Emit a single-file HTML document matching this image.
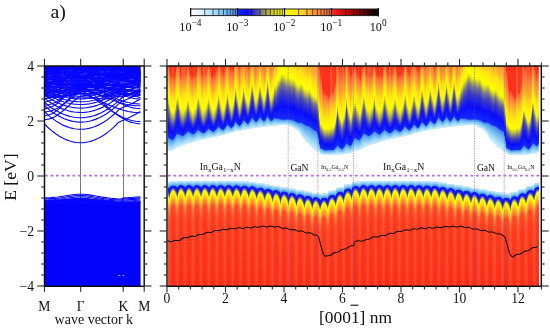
<!DOCTYPE html>
<html lang="en"><head><meta charset="utf-8"><title>Band structure and local density of states</title>
<style>html,body{margin:0;padding:0;background:#fff}body{width:550px;height:329px;overflow:hidden;position:relative}#h{position:absolute;left:168px;top:66px;width:371px;height:221px;overflow:hidden}#h i{float:left;width:1px;height:221px}svg{position:absolute;left:0;top:0;display:block;font-family:"Liberation Serif","DejaVu Serif",serif;fill:#111}</style></head><body>

<div id="h"><i style="background:linear-gradient(#ff7138 .5px,#ff813c 3.5px,#ffa233 10.5px,#ffe216 20.5px,#fdfa02 30.5px,#eded10 33.5px,#bbbb3f 37.5px,#858579 41.5px,#3c3cc3 50.5px,#090df9 60.5px,#090efa 61.5px,#1327fc 70.5px,#1e3cfa 71.5px,#3e7cf2 72.5px,#5097f1 73.5px,#70b9f4 76.5px,#a7dffa 81.5px,#c8ecfc 84.5px,#fff 85.5px,#fff 115.5px,#c2eafc 116.5px,#90cff8 118.5px,#5ea8f2 120.5px,#468cf0 121.5px,#1122fc 122.5px,#090df9 124.5px,#3233ce 126.5px,#4e4eb1 127.5px,#72728d 128.5px,#d7d724 130.5px,#faf804 131.5px,#fff803 132.5px,#ffe414 135.5px,#ffa930 139.5px,#ff883a 142.5px,#ff6b36 146.5px,#ff512b 153.5px,#fe4123 220.5px)"></i><i style="background:linear-gradient(#fb311d .5px,#fb311d 1.5px,#ff5f31 5.5px,#ff823c 10.5px,#ffa134 16.5px,#ffe315 26.5px,#fefb01 35.5px,#efef0d 38.5px,#b8b842 42.5px,#898975 45.5px,#3f3fc0 53.5px,#090df9 62.5px,#1428fc 71.5px,#274ef7 72.5px,#4a91f0 73.5px,#6cb6f3 76.5px,#a6dffa 81.5px,#c9ecfc 84.5px,#fff 85.5px,#fff 114.5px,#caedfc 115.5px,#9dd8f9 117.5px,#5aa3f2 120.5px,#3972f3 121.5px,#1223fc 122.5px,#0a11fa 124.5px,#0f13f2 125.5px,#4545ba 128.5px,#83837b 130.5px,#b5b545 131.5px,#e2e21a 132.5px,#fcfa03 133.5px,#ffe415 137.5px,#ffa731 141.5px,#ff7c3b 145.5px,#ff572e 155.5px,#fe4827 220.5px)"></i><i style="background:linear-gradient(#fb311d .5px,#fb311d 7.5px,#ff582e 10.5px,#ff853b 16.5px,#ffa034 21.5px,#ffe216 31.5px,#fffc00 40.5px,#eded10 43.5px,#c1c139 46.5px,#8f8f6e 49.5px,#74748b 52.5px,#393ac6 57.5px,#080cf9 64.5px,#1325fc 71.5px,#1a33fb 72.5px,#4182f1 73.5px,#5199f1 74.5px,#69b4f3 76.5px,#99d6f9 80.5px,#caedfc 84.5px,#fff 85.5px,#fff 114.5px,#c8ecfc 115.5px,#93d1f8 117.5px,#5ea8f2 119.5px,#3e7cf2 120.5px,#1020fb 121.5px,#0b13fa 122.5px,#1316ee 123.5px,#4747b8 125.5px,#71718e 126.5px,#dcdc20 128.5px,#fcfa03 129.5px,#ffe216 133.5px,#ffa233 137.5px,#ff833c 140.5px,#ff6232 144.5px,#ff4c28 151.5px,#fe4023 180.5px,#fd3b21 220.5px)"></i><i style="background:linear-gradient(#fb311d .5px,#fb311d 9.5px,#ff6132 13.5px,#ff853b 18.5px,#ffe017 33.5px,#fefb01 43.5px,#f6f607 45.5px,#ecec10 46.5px,#c1c139 49.5px,#83837b 53.5px,#393ac6 59.5px,#0b0ff7 65.5px,#090ffa 66.5px,#1327fc 72.5px,#274ff7 73.5px,#4c93f1 74.5px,#66b0f3 76.5px,#9ad6f9 80.5px,#ceeefc 84.5px,#fff 85.5px,#fff 114.5px,#c6ebfc 115.5px,#a8dffa 116.5px,#6cb6f3 118.5px,#4f96f1 119.5px,#1121fc 120.5px,#090ffa 121.5px,#2325de 122.5px,#4949b6 123.5px,#c4c437 125.5px,#f7f606 126.5px,#fff803 127.5px,#ffe216 130.5px,#ffa034 134.5px,#ff823c 137.5px,#ff5a2f 140.5px,#ff522b 141.5px,#fe4525 147.5px,#fd3b21 157.5px,#fb301c 220.5px)"></i><i style="background:linear-gradient(#ff4d29 .5px,#ff522b 9.5px,#ff863b 16.5px,#ffa233 21.5px,#ffc226 25.5px,#ffe216 31.5px,#fefb01 43.5px,#f3f30a 46.5px,#c2c238 50.5px,#6d6d92 56.5px,#3939c6 60.5px,#0a0ef8 66.5px,#090ffa 67.5px,#1224fc 72.5px,#1933fb 73.5px,#488ef0 74.5px,#72baf4 77.5px,#aae0fa 81.5px,#c6ebfc 83.5px,#fff 84.5px,#fff 114.5px,#c4eafc 115.5px,#a4ddfa 116.5px,#65aff3 118.5px,#4589f0 119.5px,#0d18fb 120.5px,#1a1de7 121.5px,#4848b7 122.5px,#cfcf2c 124.5px,#fbf903 125.5px,#ffdc19 129.5px,#ffa930 132.5px,#ff893a 135.5px,#ff7238 137.5px,#ff4c28 139.5px,#fe4927 140.5px,#fc371f 155.5px,#fa2c1b 220.5px)"></i><i style="background:linear-gradient(#fe3c21 .5px,#fe4123 9.5px,#ff6b36 13.5px,#ff863b 17.5px,#ffe117 32.5px,#fffc00 43.5px,#f4f409 46.5px,#c1c139 50.5px,#4040bf 59.5px,#090dfa 66.5px,#1427fc 72.5px,#376ff3 73.5px,#5199f1 74.5px,#6cb6f3 76.5px,#a4ddfa 80.5px,#ceeefc 83.5px,#fff 84.5px,#fff 114.5px,#c3eafc 115.5px,#a3ddfa 116.5px,#64aef3 118.5px,#4080f1 119.5px,#0d18fb 120.5px,#1b1de6 121.5px,#4747b8 122.5px,#cece2d 124.5px,#fbf903 125.5px,#fff605 126.5px,#ffdc19 129.5px,#ffaa30 132.5px,#ff893a 135.5px,#ff7238 137.5px,#ff4c29 139.5px,#fe4927 140.5px,#fc371f 155.5px,#fa2c1b 220.5px)"></i><i style="background:linear-gradient(#fb311d .5px,#fb311d 10.5px,#ff5b2f 13.5px,#ff823c 18.5px,#ffa532 24.5px,#ffe315 34.5px,#fcfa02 43.5px,#f3f30a 45.5px,#b7b743 49.5px,#969667 51.5px,#3a3ac5 58.5px,#090df9 64.5px,#1325fc 70.5px,#1c38fa 71.5px,#488ef0 72.5px,#6db7f4 75.5px,#a1dbfa 79.5px,#c7ecfc 82.5px,#fff 83.5px,#fff 114.5px,#c3eafc 115.5px,#a4defa 116.5px,#68b3f3 118.5px,#4b91f0 119.5px,#101efb 120.5px,#090df9 121.5px,#2b2cd5 122.5px,#5a5aa5 123.5px,#d6d625 125.5px,#fcfa02 126.5px,#ffdc19 130.5px,#ff9c35 134.5px,#ff7e3b 137.5px,#ff512b 140.5px,#fd3a21 156.5px,#fb2f1c 220.5px)"></i><i style="background:linear-gradient(#fb311d .5px,#fb311d 5.5px,#ff6031 9.5px,#ff843b 14.5px,#ff9f34 19.5px,#ffe315 29.5px,#fdfb01 38.5px,#f5f508 40.5px,#bcbc3e 44.5px,#8a8a74 47.5px,#797986 49.5px,#3d3dc2 54.5px,#0b0ff6 61.5px,#090efa 62.5px,#1428fc 69.5px,#4e95f1 71.5px,#70b9f4 74.5px,#9fdaf9 78.5px,#ceeefc 82.5px,#fff 83.5px,#fff 114.5px,#c3eafc 115.5px,#8bccf7 117.5px,#549cf1 119.5px,#1326fc 120.5px,#0c10f5 122.5px,#4646b9 124.5px,#74748b 125.5px,#b0b04b 126.5px,#e6e616 127.5px,#fffc00 128.5px,#ffdb19 132.5px,#ffaa30 135.5px,#ff893a 138.5px,#ff5d30 142.5px,#fe4927 149.5px,#fd3c21 179.5px,#fc361f 220.5px)"></i><i style="background:linear-gradient(#ff552d .5px,#ff803c 6.5px,#ff9f34 12.5px,#ffe315 22.5px,#fefb01 31.5px,#efef0e 34.5px,#bbbb40 38.5px,#8d8d71 41.5px,#4040bf 49.5px,#0a0df8 58.5px,#090efa 59.5px,#1427fc 67.5px,#274ef7 68.5px,#4a90f0 69.5px,#69b4f3 72.5px,#a9e0fa 78.5px,#c9ecfc 81.5px,#fff 82.5px,#fff 114.5px,#c3eafc 115.5px,#92d1f8 117.5px,#61abf2 119.5px,#498ff0 120.5px,#1223fc 121.5px,#090dfa 123.5px,#2e2fd2 125.5px,#4747b8 126.5px,#6a6a95 127.5px,#cbcb2f 129.5px,#f6f607 130.5px,#fffa02 131.5px,#ffdc19 135.5px,#ff9f34 139.5px,#ff8b3a 141.5px,#ff6e37 145.5px,#ff532c 152.5px,#fe4626 182.5px,#fe4124 220.5px)"></i><i style="background:linear-gradient(#ff793a .5px,#ffa133 8.5px,#ffe315 18.5px,#fcfa02 28.5px,#f5f508 30.5px,#b7b744 35.5px,#6d6d92 40.5px,#4040bf 45.5px,#080cfa 56.5px,#1327fc 66.5px,#2040f9 67.5px,#478df0 68.5px,#70b9f4 72.5px,#a4defa 77.5px,#ceeffc 81.5px,#fff 82.5px,#fff 114.5px,#bfe8fc 115.5px,#7ac0f5 118.5px,#4d94f1 120.5px,#1327fc 121.5px,#0a0ef8 124.5px,#3d3dc2 127.5px,#787887 129.5px,#d9d922 131.5px,#f9f805 132.5px,#fff903 133.5px,#ffe513 136.5px,#ff9d35 141.5px,#ff7e3b 144.5px,#ff572e 154.5px,#fe4827 220.5px)"></i><i style="background:linear-gradient(#ff6533 .5px,#ff6634 1.5px,#ff823c 5.5px,#ff9c35 10.5px,#ffe117 20.5px,#fefb01 30.5px,#f5f508 33.5px,#b5b546 38.5px,#7d7d82 42.5px,#5757a8 44.5px,#3c3cc3 47.5px,#090df9 57.5px,#1428fc 67.5px,#4d94f1 69.5px,#6eb8f4 72.5px,#a7dffa 77.5px,#c9ecfc 80.5px,#fff 81.5px,#fff 114.5px,#bbe7fb 115.5px,#6bb6f3 118.5px,#5199f1 119.5px,#1326fc 120.5px,#090df9 122.5px,#3a3ac5 124.5px,#62629d 125.5px,#cccc2f 127.5px,#f8f706 128.5px,#fff903 129.5px,#ffe414 132.5px,#ffa632 136.5px,#ff863b 139.5px,#ff6132 143.5px,#ff4b28 150.5px,#fe3f22 180.5px,#fd3a20 220.5px)"></i><i style="background:linear-gradient(#ff562d .5px,#ff592e 5.5px,#ff863b 11.5px,#ffa233 16.5px,#ffe116 25.5px,#fffc00 35.5px,#f5f508 38.5px,#c1c139 42.5px,#65659a 48.5px,#3a3ac5 52.5px,#080dfa 60.5px,#1326fc 67.5px,#2244f9 68.5px,#4a90f0 69.5px,#6db7f3 72.5px,#aae0fa 77.5px,#ceeefc 80.5px,#fff 81.5px,#fff 114.5px,#b9e6fb 115.5px,#9bd7f9 116.5px,#5fa8f2 118.5px,#2a54f7 119.5px,#0d19fb 120.5px,#1215ef 121.5px,#3435cc 122.5px,#686897 123.5px,#e3e319 125.5px,#fffc00 126.5px,#ffe513 129.5px,#ff9a36 134.5px,#ff7b3a 137.5px,#ff522b 140.5px,#fd3b21 156.5px,#fb301c 220.5px)"></i><i style="background:linear-gradient(#fb311d .5px,#fc361f 8.5px,#ff5e31 11.5px,#ff843b 16.5px,#ffa134 21.5px,#ffe216 31.5px,#fffb01 40.5px,#f4f409 43.5px,#bcbc3e 47.5px,#8c8c72 50.5px,#4545ba 55.5px,#090dfa 62.5px,#1428fc 68.5px,#4284f1 69.5px,#529af1 70.5px,#6cb6f3 72.5px,#a0daf9 76.5px,#c7ecfc 79.5px,#fff 80.5px,#fff 114.5px,#b7e5fb 115.5px,#77bef5 117.5px,#58a1f2 118.5px,#1325fc 119.5px,#090ffa 120.5px,#2c2dd4 121.5px,#669 122.5px,#abab50 123.5px,#e9e913 124.5px,#fffb01 125.5px,#ffe415 128.5px,#ffb22d 131.5px,#ff9836 133.5px,#ff793a 136.5px,#fe4927 139.5px,#fc371f 155.5px,#fa2c1a 220.5px)"></i><i style="background:linear-gradient(#fe4726 .5px,#ff4e29 9.5px,#ff6e37 12.5px,#ff823c 15.5px,#ff9e34 20.5px,#ffbf28 24.5px,#ffe017 30.5px,#fdfb01 42.5px,#eded0f 45.5px,#baba41 49.5px,#4040bf 57.5px,#080cfa 63.5px,#1325fc 68.5px,#264cf8 69.5px,#4d95f1 70.5px,#69b4f3 72.5px,#a2dcfa 76.5px,#cceefc 79.5px,#fff 80.5px,#fff 114.5px,#b7e5fb 115.5px,#78bff5 117.5px,#59a2f2 118.5px,#1325fc 119.5px,#0a10fa 120.5px,#282ad8 121.5px,#5f5fa0 122.5px,#e2e21a 124.5px,#fffc00 125.5px,#ffe514 128.5px,#ff9936 133.5px,#ff7b3a 136.5px,#fe4a28 139.5px,#fc371f 155.5px,#fa2c1b 220.5px)"></i><i style="background:linear-gradient(#ff6131 .5px,#ff6433 9.5px,#ff873b 14.5px,#ffe017 28.5px,#fefb01 41.5px,#f1f10c 45.5px,#c5c535 49.5px,#7a7a84 55.5px,#393ac6 59.5px,#090df9 64.5px,#1428fc 69.5px,#488ef0 70.5px,#75bcf4 73.5px,#a2dcfa 76.5px,#d0effd 79.5px,#fff 80.5px,#fff 114.5px,#b9e6fb 115.5px,#9bd7f9 116.5px,#5fa8f2 118.5px,#2953f7 119.5px,#0d19fb 120.5px,#1216ef 121.5px,#3435cb 122.5px,#696996 123.5px,#e4e418 125.5px,#fffc00 126.5px,#ffe513 129.5px,#ff9a36 134.5px,#ff7b3a 137.5px,#ff522b 140.5px,#fd3b21 156.5px,#fb301c 220.5px)"></i><i style="background:linear-gradient(#ff562d .5px,#ff5a2f 9.5px,#ff873b 15.5px,#ff9d35 19.5px,#ffc425 24.5px,#ffdf17 29.5px,#fdfb01 42.5px,#f1f10c 45.5px,#c2c239 49.5px,#7e7e80 54.5px,#3c3cc3 58.5px,#0b0ff6 63.5px,#090ffa 64.5px,#1325fc 68.5px,#2b55f7 69.5px,#5097f1 70.5px,#6db7f3 72.5px,#a8dffa 76.5px,#c6ebfc 78.5px,#fff 79.5px,#fff 114.5px,#bbe7fb 115.5px,#68b3f3 118.5px,#4d94f1 119.5px,#1223fc 120.5px,#0c15fb 121.5px,#1215ef 122.5px,#2c2ed3 123.5px,#4f4fb0 124.5px,#7d7d81 125.5px,#b9b941 126.5px,#eeee0f 127.5px,#fffb01 128.5px,#ffe513 131.5px,#ffa831 135.5px,#ff873b 138.5px,#ff5e30 142.5px,#fe4927 149.5px,#fe3c21 179.5px,#fc371f 220.5px)"></i><i style="background:linear-gradient(#ff542c .5px,#ff592e 8.5px,#ff843b 14.5px,#ffa134 19.5px,#ffc226 23.5px,#ffe315 29.5px,#fefc00 40.5px,#f5f508 43.5px,#eaea12 44.5px,#b9b942 48.5px,#4141be 56.5px,#090df9 62.5px,#1325fc 67.5px,#2143f9 68.5px,#4c93f1 69.5px,#76bdf4 72.5px,#a0dbf9 75.5px,#cbedfc 78.5px,#fff 79.5px,#fff 114.5px,#bde8fb 115.5px,#a5defa 116.5px,#5ba4f2 119.5px,#366cf4 120.5px,#1121fc 121.5px,#090df9 123.5px,#4a4ab5 126.5px,#6d6d92 127.5px,#cece2c 129.5px,#f7f606 130.5px,#fffa02 131.5px,#ffdc19 135.5px,#ff9f34 139.5px,#ff8a3a 141.5px,#ff6e37 145.5px,#ff532c 152.5px,#fe4726 182.5px,#fe4224 220.5px)"></i><i style="background:linear-gradient(#fe4a28 .5px,#ff512b 7.5px,#ff6f37 10.5px,#ff833c 13.5px,#ffa034 18.5px,#ffc027 22.5px,#ffe316 28.5px,#fffc00 38.5px,#f6f508 41.5px,#eaea12 42.5px,#b6b644 46.5px,#4141be 54.5px,#0d10f5 60.5px,#090efa 61.5px,#1325fc 66.5px,#1e3cfa 67.5px,#4a90f0 68.5px,#71baf4 71.5px,#a7dffa 75.5px,#cfeffd 78.5px,#fff 79.5px,#fff 114.5px,#bee8fc 115.5px,#79bff5 118.5px,#4c92f0 120.5px,#1326fc 121.5px,#0b13fa 123.5px,#0d10f5 124.5px,#4545ba 127.5px,#878777 129.5px,#b9b941 130.5px,#e6e616 131.5px,#fdfb02 132.5px,#ffe315 136.5px,#ffa731 140.5px,#ff7d3b 144.5px,#ff562d 154.5px,#fe4726 220.5px)"></i><i style="background:linear-gradient(#fb331d .5px,#fd3920 4.5px,#ff5f31 7.5px,#ff843c 12.5px,#ff9f34 17.5px,#ffe216 27.5px,#fffb01 36.5px,#f5f508 39.5px,#c2c239 43.5px,#868678 47.5px,#4343bc 52.5px,#080cfa 59.5px,#1325fc 65.5px,#1f3df9 66.5px,#4990f0 67.5px,#6eb8f4 70.5px,#a1dbf9 74.5px,#c7ebfc 77.5px,#fff 78.5px,#fff 114.5px,#bbe7fb 115.5px,#6ab5f3 118.5px,#5097f1 119.5px,#1325fc 120.5px,#0c10f6 122.5px,#3f3fc0 124.5px,#6b6b94 125.5px,#d7d724 127.5px,#fbf903 128.5px,#ffe216 132.5px,#ffa233 136.5px,#ff833c 139.5px,#ff5f31 143.5px,#fe4a28 150.5px,#fe3e22 179.5px,#fd3920 220.5px)"></i><i style="background:linear-gradient(#ff6232 .5px,#ff843c 5.5px,#ffa333 11.5px,#ffe017 20.5px,#fdfa02 31.5px,#efef0e 34.5px,#c0c03a 38.5px,#6c6c93 44.5px,#4040bf 48.5px,#090efa 57.5px,#1326fc 64.5px,#1f3ef9 65.5px,#488ff0 66.5px,#6bb6f3 69.5px,#a7dffa 74.5px,#cbedfc 77.5px,#fff 78.5px,#fff 114.5px,#b8e6fb 115.5px,#9ad6f9 116.5px,#5ea7f2 118.5px,#2347f8 119.5px,#0d17fb 120.5px,#1518ec 121.5px,#3738c8 122.5px,#6f6f90 123.5px,#b0b04b 124.5px,#ebeb12 125.5px,#fffb01 126.5px,#ffe414 129.5px,#ff9936 134.5px,#ff7a3a 137.5px,#ff512b 140.5px,#fd3a20 156.5px,#fb2f1c 220.5px)"></i><i style="background:linear-gradient(#ff6232 .5px,#ff833c 5.5px,#ffa233 11.5px,#ffdf18 20.5px,#fdfb01 31.5px,#f0f00d 34.5px,#c0c03a 38.5px,#6e6e91 44.5px,#4141be 48.5px,#090efa 57.5px,#1326fc 64.5px,#2346f8 65.5px,#4a90f0 66.5px,#6db7f4 69.5px,#aae0fa 74.5px,#ceeffc 77.5px,#fff 78.5px,#fff 114.5px,#b7e5fb 115.5px,#77bef5 117.5px,#57a0f1 118.5px,#1224fc 119.5px,#090efa 120.5px,#2d2ed3 121.5px,#696996 122.5px,#aeae4d 123.5px,#ecec11 124.5px,#fffa01 125.5px,#ffe315 128.5px,#ffb12d 131.5px,#ff9836 133.5px,#ff783a 136.5px,#fe4927 139.5px,#fc361f 155.5px,#fa2b1a 220.5px)"></i><i style="background:linear-gradient(#fb311d .5px,#fb311d 3.5px,#ff582e 6.5px,#ff853b 12.5px,#ffa034 17.5px,#ffe316 27.5px,#fffc00 36.5px,#f1f10b 39.5px,#bdbd3d 43.5px,#81817d 47.5px,#3f3fc0 52.5px,#090efa 59.5px,#1427fc 65.5px,#4f97f1 67.5px,#69b4f3 69.5px,#9ed9f9 73.5px,#c5ebfc 76.5px,#fff 77.5px,#fff 114.5px,#b7e5fb 115.5px,#78bef5 117.5px,#59a1f2 118.5px,#1325fc 119.5px,#0a10fa 120.5px,#2829d8 121.5px,#5e5ea1 122.5px,#e1e11b 124.5px,#fffc00 125.5px,#ffe514 128.5px,#ff9a36 133.5px,#ff7b3a 136.5px,#fe4b28 139.5px,#fc371f 155.5px,#fa2c1b 220.5px)"></i><i style="background:linear-gradient(#fb311d .5px,#fb311d 7.5px,#fc361f 8.5px,#ff542c 10.5px,#ff6835 12.5px,#ff843b 16.5px,#ffa134 21.5px,#ffe216 31.5px,#fdfb01 40.5px,#f6f607 42.5px,#eaea12 43.5px,#c1c139 46.5px,#3839c7 55.5px,#090cf9 60.5px,#172dfb 66.5px,#488ef0 67.5px,#72baf4 70.5px,#9dd9f9 73.5px,#c8ecfc 76.5px,#fff 77.5px,#fff 114.5px,#b8e6fb 115.5px,#9ad7f9 116.5px,#5fa8f2 118.5px,#2b55f7 119.5px,#0e19fb 120.5px,#1115f0 121.5px,#3233cd 122.5px,#65659a 123.5px,#e0e01c 125.5px,#fffc00 126.5px,#ffe613 129.5px,#ff9b35 134.5px,#ff7c3b 137.5px,#ff522b 140.5px,#fe4425 147.5px,#fd3b21 156.5px,#fb301c 220.5px)"></i><i style="background:linear-gradient(#fb311d .5px,#fb311d 8.5px,#fc361f 9.5px,#ff542c 11.5px,#ff6835 13.5px,#ff853b 17.5px,#ffe117 32.5px,#fdfb02 42.5px,#f6f607 44.5px,#ebeb12 45.5px,#b5b546 49.5px,#3536ca 57.5px,#0b0ff6 61.5px,#0a10fa 62.5px,#1325fc 66.5px,#2549f8 67.5px,#4e96f1 68.5px,#6db7f4 70.5px,#9dd8f9 73.5px,#cceefc 76.5px,#fff 77.5px,#fff 114.5px,#bae7fb 115.5px,#68b3f3 118.5px,#4e95f1 119.5px,#1223fc 120.5px,#0c15fb 121.5px,#1014f1 122.5px,#4a4ab5 124.5px,#767689 125.5px,#b1b149 126.5px,#e7e715 127.5px,#fffc00 128.5px,#ffdc19 132.5px,#ffab30 135.5px,#ff893a 138.5px,#ff5f31 142.5px,#fe4a27 149.5px,#fe3d22 179.5px,#fd381f 220.5px)"></i><i style="background:linear-gradient(#fb311d .5px,#fc351e 10.5px,#ff5e30 13.5px,#ff843b 18.5px,#ffe315 34.5px,#fffb01 43.5px,#f6f508 46.5px,#c4c437 50.5px,#7b7b83 55.5px,#3f3fc0 58.5px,#0e12f3 62.5px,#090ffa 63.5px,#1327fc 67.5px,#468cf0 68.5px,#68b3f3 70.5px,#9dd8f9 73.5px,#c0e9fc 75.5px,#fff 76.5px,#fff 114.5px,#bde8fb 115.5px,#a5defa 116.5px,#5ca5f2 119.5px,#3b76f3 120.5px,#1122fc 121.5px,#080dfa 123.5px,#4545ba 126.5px,#676798 127.5px,#f4f409 130.5px,#fffb01 131.5px,#ffdf18 135.5px,#ffa134 139.5px,#ff823c 142.5px,#ff7038 145.5px,#ff532c 153.5px,#fe4324 220.5px)"></i><i style="background:linear-gradient(#fc331e .5px,#fd381f 8.5px,#fe3d21 9.5px,#ff5a2f 11.5px,#ff6c36 13.5px,#ff813c 16.5px,#ffe216 32.5px,#fefb01 43.5px,#f1f10c 46.5px,#c1c139 50.5px,#7c7c83 55.5px,#4141be 58.5px,#090efa 63.5px,#1326fc 67.5px,#468bf0 68.5px,#69b4f3 70.5px,#a0dbf9 73.5px,#c5ebfc 75.5px,#fff 76.5px,#fff 114.5px,#bde8fb 115.5px,#a6defa 116.5px,#77bef5 118.5px,#4a90f0 120.5px,#1325fc 121.5px,#0a11fa 123.5px,#1013f2 124.5px,#3334cc 126.5px,#4c4cb3 127.5px,#6b6b94 128.5px,#f3f30a 131.5px,#fffb01 132.5px,#ffe017 136.5px,#ffa233 140.5px,#ff833c 143.5px,#ff562d 154.5px,#fe4626 220.5px)"></i><i style="background:linear-gradient(#fe4827 .5px,#ff4d29 8.5px,#ff6b36 11.5px,#ff813c 14.5px,#ff9e35 19.5px,#ffbf28 23.5px,#ffe017 29.5px,#fdfb02 41.5px,#eeee0f 44.5px,#c9c931 47.5px,#767689 53.5px,#4242bd 56.5px,#0d10f5 61.5px,#090ffa 62.5px,#1325fc 66.5px,#2a53f7 67.5px,#5299f1 68.5px,#74bcf4 70.5px,#96d4f8 72.5px,#caedfc 75.5px,#fff 76.5px,#fff 114.5px,#bae6fb 115.5px,#68b3f3 118.5px,#4e95f1 119.5px,#1224fc 120.5px,#0c16fb 121.5px,#0f13f2 122.5px,#4747b8 124.5px,#73738c 125.5px,#e2e21a 127.5px,#fefb01 128.5px,#ffde18 132.5px,#ff9f34 136.5px,#ff8a3a 138.5px,#ff6232 142.5px,#fe4b28 149.5px,#fe3d22 179.5px,#fd3820 220.5px)"></i><i style="background:linear-gradient(#fb311d .5px,#fb311d 7.5px,#fc371f 8.5px,#ff552c 10.5px,#ff6935 12.5px,#ff853b 16.5px,#ffe315 31.5px,#fcfa02 40.5px,#f5f508 42.5px,#bfbf3c 46.5px,#4141be 54.5px,#090efa 60.5px,#1326fc 65.5px,#264cf8 66.5px,#4f96f1 67.5px,#6fb8f4 69.5px,#9fdaf9 72.5px,#d0effd 75.5px,#fff 76.5px,#fff 114.5px,#b7e5fb 115.5px,#99d6f9 116.5px,#5da6f2 118.5px,#1d3afa 119.5px,#0c16fb 120.5px,#181be9 121.5px,#3b3bc4 122.5px,#767689 123.5px,#b8b843 124.5px,#f2f20b 125.5px,#fffa02 126.5px,#ffe315 129.5px,#ffb12d 132.5px,#ff9736 134.5px,#ff783a 137.5px,#ff502a 140.5px,#fd3a20 156.5px,#fb2f1c 220.5px)"></i><i style="background:linear-gradient(#fb311d .5px,#fb311d 5.5px,#ff582e 8.5px,#ff853b 14.5px,#ffa134 19.5px,#ffdf17 28.5px,#fffb01 36.5px,#f4f409 39.5px,#3b3bc4 52.5px,#080dfa 58.5px,#1327fc 64.5px,#2851f7 65.5px,#4f96f1 66.5px,#6cb6f3 68.5px,#a8dffa 72.5px,#c6ebfc 74.5px,#fff 75.5px,#fff 114.5px,#b6e5fb 115.5px,#76bdf5 117.5px,#579ff1 118.5px,#1224fc 119.5px,#090efa 120.5px,#2e2fd2 121.5px,#6b6b94 122.5px,#b0b04b 123.5px,#eeee0f 124.5px,#fffa02 125.5px,#ffe315 128.5px,#ffb02e 131.5px,#ff9736 133.5px,#ff7839 136.5px,#fe4927 139.5px,#fc361f 155.5px,#fa2b1a 220.5px)"></i><i style="background:linear-gradient(#ff5e31 .5px,#ff863b 6.5px,#ffa034 11.5px,#ffde18 20.5px,#fefb01 30.5px,#f0f00c 33.5px,#bfbf3b 37.5px,#868678 41.5px,#393ac6 48.5px,#090df8 55.5px,#090ffa 56.5px,#1428fc 63.5px,#5097f1 65.5px,#6ab5f3 67.5px,#a1dbfa 71.5px,#cbedfc 74.5px,#fff 75.5px,#fff 114.5px,#b6e5fb 115.5px,#77bef5 117.5px,#58a1f2 118.5px,#1325fc 119.5px,#0a10fa 120.5px,#2729d9 121.5px,#5c5ca3 122.5px,#dfdf1d 124.5px,#fffc00 125.5px,#ffe513 128.5px,#ff9a36 133.5px,#ff7b3a 136.5px,#ff4b28 139.5px,#fd371f 155.5px,#fa2c1b 220.5px)"></i><i style="background:linear-gradient(#ff7c3a .5px,#ffa034 7.5px,#ffe315 17.5px,#fffb00 26.5px,#faf804 28.5px,#f0f00d 30.5px,#c3c337 34.5px,#669 41.5px,#3e3ec1 45.5px,#090df9 54.5px,#1325fc 62.5px,#1830fb 63.5px,#4182f1 64.5px,#539af1 65.5px,#6eb7f4 67.5px,#a5defa 71.5px,#cfeffd 74.5px,#fff 75.5px,#fff 114.5px,#b8e6fb 115.5px,#9ad6f9 116.5px,#5fa8f2 118.5px,#2c57f6 119.5px,#0e19fb 120.5px,#1013f2 121.5px,#3132cf 122.5px,#61619e 123.5px,#dbdb21 125.5px,#fdfb01 126.5px,#ffdb1a 130.5px,#ff9c35 134.5px,#ff7d3b 137.5px,#ff532c 140.5px,#fe4626 146.5px,#fd3b21 156.5px,#fb301c 220.5px)"></i><i style="background:linear-gradient(#ff572e .5px,#ff592f 1.5px,#ff853b 7.5px,#ffa134 12.5px,#ffe117 21.5px,#fefc00 31.5px,#f5f508 34.5px,#eaea12 35.5px,#baba40 39.5px,#669 45.5px,#393ac6 49.5px,#0a0ef8 56.5px,#090ffa 57.5px,#1325fc 63.5px,#1d3bfa 64.5px,#4990f0 65.5px,#77bef5 68.5px,#a5defa 71.5px,#c3eafc 73.5px,#fff 74.5px,#fff 114.5px,#bae6fb 115.5px,#69b4f3 118.5px,#4e95f1 119.5px,#1224fc 120.5px,#0c16fb 121.5px,#0f12f3 122.5px,#4545ba 124.5px,#71718e 125.5px,#e0e01c 127.5px,#fdfb01 128.5px,#ffdf18 132.5px,#ff9f34 136.5px,#ff813c 139.5px,#ff6232 142.5px,#ff4b28 149.5px,#fe3e22 179.5px,#fd3820 220.5px)"></i><i style="background:linear-gradient(#ff5a2f .5px,#ff5f31 5.5px,#ff853b 10.5px,#ffa233 15.5px,#ffc326 19.5px,#ffe116 24.5px,#fdfb01 35.5px,#f1f10c 38.5px,#c1c139 42.5px,#6b6b94 48.5px,#3838c7 52.5px,#0a0df8 58.5px,#090ffa 59.5px,#1326fc 64.5px,#264cf8 65.5px,#4f97f1 66.5px,#71b9f4 68.5px,#a4ddfa 71.5px,#c5ebfc 73.5px,#fff 74.5px,#fff 114.5px,#bde7fb 115.5px,#a5defa 116.5px,#5da6f2 119.5px,#4081f1 120.5px,#1122fc 121.5px,#090efa 123.5px,#4141be 126.5px,#898975 128.5px,#bdbd3d 129.5px,#ebeb12 130.5px,#fffc00 131.5px,#ffe216 135.5px,#ffa532 139.5px,#ff853b 142.5px,#ff7238 145.5px,#ff532c 153.5px,#fe4425 220.5px)"></i><i style="background:linear-gradient(#fd381f .5px,#fd3c21 7.5px,#ff582e 9.5px,#ff813c 14.5px,#ff9e34 19.5px,#ffbe28 23.5px,#ffe017 29.5px,#fffb01 39.5px,#f5f508 42.5px,#e9e913 43.5px,#b4b446 47.5px,#3839c7 55.5px,#080dfa 60.5px,#1327fc 65.5px,#3d7bf2 66.5px,#57a0f1 67.5px,#6ab4f3 68.5px,#a2dcfa 71.5px,#c8ecfc 73.5px,#fff 74.5px,#fff 114.5px,#bde8fb 115.5px,#a5defa 116.5px,#76bdf5 118.5px,#488ef0 120.5px,#1224fc 121.5px,#0a10fa 123.5px,#1316ef 124.5px,#3738c8 126.5px,#73738c 128.5px,#d4d427 130.5px,#f8f705 131.5px,#fff902 132.5px,#ffdb19 136.5px,#ff9f34 140.5px,#ff7f3b 143.5px,#ff562d 153.5px,#fe4a28 183.5px,#fe4525 220.5px)"></i><i style="background:linear-gradient(#fb311d .5px,#fb311d 8.5px,#ff5b2f 11.5px,#ff833c 16.5px,#ffdf18 31.5px,#fefb01 42.5px,#f1f10c 45.5px,#bfbf3b 49.5px,#778 54.5px,#3a3bc5 57.5px,#0c10f5 61.5px,#0a10fa 62.5px,#152afc 66.5px,#4d94f1 67.5px,#77bdf5 69.5px,#a1dbfa 71.5px,#ccedfc 73.5px,#fff 74.5px,#fff 114.5px,#bae6fb 115.5px,#67b2f3 118.5px,#4c93f1 119.5px,#1222fc 120.5px,#0c14fb 121.5px,#1216ef 122.5px,#4e4eb1 124.5px,#7d7d82 125.5px,#b9b942 126.5px,#eded0f 127.5px,#fffb01 128.5px,#ffe613 131.5px,#ffa930 135.5px,#ff883a 138.5px,#ff5e31 142.5px,#fe4927 149.5px,#fe3d21 179.5px,#fc371f 220.5px)"></i><i style="background:linear-gradient(#ff5c30 .5px,#ff5f31 8.5px,#ff833c 13.5px,#ffa034 18.5px,#ffc823 23.5px,#ffe216 28.5px,#fefb01 41.5px,#f6f607 44.5px,#c2c239 49.5px,#787887 55.5px,#3b3bc4 58.5px,#0a0ef8 62.5px,#1326fc 66.5px,#478df0 67.5px,#74bcf4 69.5px,#a2dcfa 71.5px,#d0effd 73.5px,#fff 74.5px,#fff 114.5px,#b7e5fb 115.5px,#7ac0f5 117.5px,#5ba5f2 118.5px,#162cfb 119.5px,#0c15fb 120.5px,#1a1de6 121.5px,#3f3fc0 122.5px,#bfbf3b 124.5px,#f6f607 125.5px,#fff903 126.5px,#ffe216 129.5px,#ffa034 133.5px,#ff823c 136.5px,#ff4f2a 140.5px,#fd3920 156.5px,#fa2e1c 220.5px)"></i><i style="background:linear-gradient(#ff5f31 .5px,#ff6232 8.5px,#ff873b 13.5px,#ff9e35 17.5px,#ffc624 22.5px,#ffe216 27.5px,#fdfb01 40.5px,#f5f508 43.5px,#bebe3c 48.5px,#7d7d81 53.5px,#3838c7 57.5px,#0a0ef7 61.5px,#0a11fa 62.5px,#1224fc 65.5px,#2244f9 66.5px,#539bf1 67.5px,#7ec2f5 69.5px,#bfe8fc 72.5px,#fff 73.5px,#fff 114.5px,#b6e5fb 115.5px,#76bdf4 117.5px,#569ff1 118.5px,#1223fc 119.5px,#080dfa 120.5px,#2f30d1 121.5px,#6d6d92 122.5px,#b2b249 123.5px,#f0f00d 124.5px,#fffa02 125.5px,#ffe315 128.5px,#ffaf2e 131.5px,#ff9736 133.5px,#ff7739 136.5px,#fe4827 139.5px,#fc361f 155.5px,#fa2b1a 220.5px)"></i><i style="background:linear-gradient(#fe4625 .5px,#fe4a27 7.5px,#ff6b36 10.5px,#ff873b 14.5px,#ffe017 28.5px,#fffc00 39.5px,#f4f409 42.5px,#c3c338 46.5px,#7c7c83 51.5px,#3939c6 55.5px,#080dfa 60.5px,#1223fc 64.5px,#1932fb 65.5px,#4d94f1 66.5px,#74bcf4 68.5px,#9dd8f9 70.5px,#c5ebfc 72.5px,#fff 73.5px,#fff 114.5px,#b6e5fb 115.5px,#77bef5 117.5px,#58a1f2 118.5px,#1325fc 119.5px,#0a10fa 120.5px,#2728d9 121.5px,#5b5ba4 122.5px,#dddd1e 124.5px,#fffc00 125.5px,#ffe513 128.5px,#ff9a35 133.5px,#ff7c3a 136.5px,#ff4b28 139.5px,#fd381f 155.5px,#fa2d1b 220.5px)"></i><i style="background:linear-gradient(#fe4826 .5px,#ff4f2a 5.5px,#ff6e37 8.5px,#ff833c 11.5px,#ff9f34 16.5px,#ffbf27 20.5px,#ffe216 26.5px,#fffc00 36.5px,#f5f508 39.5px,#b5b546 44.5px,#3e3ec1 52.5px,#090df9 58.5px,#1224fc 63.5px,#172efb 64.5px,#4a90f0 65.5px,#6eb7f4 67.5px,#a5defa 70.5px,#caedfc 72.5px,#fff 73.5px,#fff 114.5px,#b8e5fb 115.5px,#9ad6f9 116.5px,#5fa8f2 118.5px,#2d5af6 119.5px,#0e1afb 120.5px,#0f12f3 121.5px,#2f30d1 122.5px,#5d5da2 123.5px,#d6d625 125.5px,#fcfa02 126.5px,#ffdd19 130.5px,#ff9d35 134.5px,#ff7e3b 137.5px,#ff552d 140.5px,#fe4425 147.5px,#fe3c21 156.5px,#fb311d 220.5px)"></i><i style="background:linear-gradient(#fe4123 .5px,#ff6935 4.5px,#ff843b 8.5px,#ff9f34 13.5px,#ffe216 23.5px,#fdfb01 33.5px,#efef0e 36.5px,#c9c931 39.5px,#4141be 49.5px,#090cf9 56.5px,#1325fc 62.5px,#1933fb 63.5px,#498ff0 64.5px,#69b4f3 66.5px,#9cd7f9 69.5px,#ceeefc 72.5px,#fff 73.5px,#fff 114.5px,#bae6fb 115.5px,#69b4f3 118.5px,#4f96f1 119.5px,#1224fc 120.5px,#0d17fb 121.5px,#0d10f5 122.5px,#4141be 124.5px,#6c6c93 125.5px,#d8d823 127.5px,#fbf903 128.5px,#ffe216 132.5px,#ffa133 136.5px,#ff833c 139.5px,#ff5f31 143.5px,#ff4c29 149.5px,#fe3e22 179.5px,#fd3920 220.5px)"></i><i style="background:linear-gradient(#ff7839 .5px,#ffa034 8.5px,#ffe216 18.5px,#fefb01 28.5px,#f4f409 31.5px,#b9b941 36.5px,#84847b 40.5px,#3e3ec1 46.5px,#080dfa 54.5px,#1326fc 61.5px,#1e3bfa 62.5px,#498ff0 63.5px,#76bdf4 66.5px,#a4ddfa 69.5px,#c2eafc 71.5px,#fff 72.5px,#fff 114.5px,#bce7fb 115.5px,#a5defa 116.5px,#75bcf4 118.5px,#468bf0 120.5px,#1223fc 121.5px,#090efa 123.5px,#3c3cc3 126.5px,#80807f 128.5px,#b3b347 129.5px,#e2e21a 130.5px,#fcfa02 131.5px,#ffe315 135.5px,#ffa831 139.5px,#ff873b 142.5px,#ff7438 145.5px,#ff542c 153.5px,#fe4425 220.5px)"></i><i style="background:linear-gradient(#fe4b28 .5px,#ff6a35 3.5px,#ff843b 7.5px,#ff9f34 12.5px,#ffe216 22.5px,#fefb01 32.5px,#f1f10c 35.5px,#c0c03a 39.5px,#7a7a85 44.5px,#3a3ac5 49.5px,#090efa 56.5px,#1326fc 62.5px,#274ef7 63.5px,#5097f1 64.5px,#70b9f4 66.5px,#a3dcfa 69.5px,#c4ebfc 71.5px,#fff 72.5px,#fff 114.5px,#bce7fb 115.5px,#a4defa 116.5px,#75bcf4 118.5px,#458bf0 120.5px,#1223fc 121.5px,#090ffa 123.5px,#1619eb 124.5px,#3c3cc4 126.5px,#7e7e80 128.5px,#b2b249 129.5px,#e1e11b 130.5px,#fcfa03 131.5px,#ffe415 135.5px,#ffa831 139.5px,#ff873b 142.5px,#ff7438 145.5px,#ff542c 153.5px,#fe4525 220.5px)"></i><i style="background:linear-gradient(#fe3e22 .5px,#fe4525 4.5px,#ff6835 7.5px,#ff843b 11.5px,#ffa134 16.5px,#ffc027 20.5px,#ffe315 26.5px,#fdfb02 36.5px,#f6f607 38.5px,#c6c635 42.5px,#4141be 51.5px,#0a0ef8 57.5px,#0a10fa 58.5px,#1427fc 63.5px,#4489f0 64.5px,#6ab5f3 66.5px,#a2dcfa 69.5px,#c7ecfc 71.5px,#fff 72.5px,#fff 114.5px,#b9e6fb 115.5px,#66b0f3 118.5px,#4b92f0 119.5px,#1121fc 120.5px,#0b13fa 121.5px,#1619eb 122.5px,#3031cf 123.5px,#5656a9 124.5px,#888876 125.5px,#c4c437 126.5px,#f6f607 127.5px,#fff902 128.5px,#ffe414 131.5px,#ffa532 135.5px,#ff853b 138.5px,#ff5d30 142.5px,#fe4927 149.5px,#fe3c21 178.5px,#fc361f 220.5px)"></i><i style="background:linear-gradient(#fb311d .5px,#fb311d 8.5px,#ff582e 11.5px,#ff813c 16.5px,#ffa333 22.5px,#ffe017 31.5px,#fffc00 40.5px,#eeee0f 43.5px,#b5b546 47.5px,#767689 51.5px,#3b3bc4 54.5px,#090dfa 59.5px,#1223fc 63.5px,#1b37fa 64.5px,#4e95f1 65.5px,#77bef5 67.5px,#a1dbfa 69.5px,#caedfc 71.5px,#fff 72.5px,#fff 114.5px,#b6e5fb 115.5px,#79bff5 117.5px,#5aa3f2 118.5px,#1427fc 119.5px,#0b14fb 120.5px,#1d20e4 121.5px,#4545ba 122.5px,#c6c635 124.5px,#f8f706 125.5px,#fff804 126.5px,#ffe017 129.5px,#ff9f34 133.5px,#ff8b3a 135.5px,#ff7539 137.5px,#ff562d 139.5px,#ff4e29 140.5px,#fd3920 156.5px,#fa2e1c 220.5px)"></i><i style="background:linear-gradient(#fb311d .5px,#fb311d 9.5px,#ff592f 12.5px,#ff823c 17.5px,#ffa532 23.5px,#ffde18 32.5px,#fefc01 42.5px,#efef0e 45.5px,#c7c734 48.5px,#7b7b84 53.5px,#3a3ac5 56.5px,#0a0ef8 60.5px,#1325fc 64.5px,#5aa2f2 66.5px,#a0daf9 69.5px,#ceeffc 71.5px,#fff 72.5px,#fff 114.5px,#b5e4fb 115.5px,#75bcf4 117.5px,#569ef1 118.5px,#1223fc 119.5px,#080dfa 120.5px,#3031d0 121.5px,#6f6f90 122.5px,#b4b447 123.5px,#f1f10b 124.5px,#fff902 125.5px,#ffe216 128.5px,#ffa034 132.5px,#ff833c 135.5px,#fe4827 139.5px,#fc361f 155.5px,#fa2b1a 220.5px)"></i><i style="background:linear-gradient(#fb311d .5px,#fb311d 8.5px,#ff5a2f 11.5px,#ff823c 16.5px,#ffe216 32.5px,#fdfb02 43.5px,#eded0f 46.5px,#bcbc3e 50.5px,#74748b 55.5px,#44b 57.5px,#3334cc 58.5px,#0a0ef8 61.5px,#1429fc 65.5px,#5198f1 66.5px,#6bb5f3 67.5px,#bae6fb 70.5px,#fff 71.5px,#fff 114.5px,#b6e5fb 115.5px,#77bef5 117.5px,#58a1f2 118.5px,#1325fc 119.5px,#0a11fa 120.5px,#2628da 121.5px,#5959a6 122.5px,#dbdb20 124.5px,#fefb01 125.5px,#ffe613 128.5px,#ff9b35 133.5px,#ff7c3b 136.5px,#ff4c28 139.5px,#fd381f 155.5px,#fa2d1b 220.5px)"></i><i style="background:linear-gradient(#fb311d .5px,#fb311d 8.5px,#ff5b2f 11.5px,#ff833c 16.5px,#ffdf17 31.5px,#fdfb01 42.5px,#f6f607 44.5px,#c5c535 48.5px,#7c7c83 53.5px,#3b3bc4 56.5px,#090df9 60.5px,#1326fc 64.5px,#488ef0 65.5px,#78bef5 67.5px,#a8dffa 69.5px,#c1e9fc 70.5px,#fff 71.5px,#fff 114.5px,#b7e5fb 115.5px,#9ad6f9 116.5px,#5fa9f2 118.5px,#2f5ef6 119.5px,#0e1afb 120.5px,#0d11f4 121.5px,#2d2ed3 122.5px,#5959a6 123.5px,#d1d12a 125.5px,#fbf904 126.5px,#fff704 127.5px,#ffde18 130.5px,#ff9e35 134.5px,#ff7f3b 137.5px,#ff582e 140.5px,#fe4525 147.5px,#fe3c21 157.5px,#fb311d 220.5px)"></i><i style="background:linear-gradient(#fd3a20 .5px,#fe3d22 6.5px,#ff6a35 10.5px,#ff863b 14.5px,#ffdf17 28.5px,#fefb01 39.5px,#f6f607 41.5px,#eded10 42.5px,#b7b744 46.5px,#3536ca 54.5px,#0b0ff7 58.5px,#0a10fa 59.5px,#1327fc 63.5px,#478df0 64.5px,#71b9f4 66.5px,#9cd8f9 68.5px,#c7ecfc 70.5px,#fff 71.5px,#fff 114.5px,#bae6fb 115.5px,#69b4f3 118.5px,#4f97f1 119.5px,#1325fc 120.5px,#0b0ff7 122.5px,#3c3cc3 124.5px,#669 125.5px,#d1d12a 127.5px,#f9f805 128.5px,#fff803 129.5px,#ffe315 132.5px,#ffa432 136.5px,#ff853b 139.5px,#ff6132 143.5px,#ff4b28 150.5px,#fe3f22 179.5px,#fd3a20 220.5px)"></i><i style="background:linear-gradient(#fb321d .5px,#fc341e 3.5px,#ff5a2f 6.5px,#ff823c 11.5px,#ff9e35 16.5px,#ffe216 26.5px,#fffc00 35.5px,#f2f20b 38.5px,#bbbb3f 42.5px,#4040bf 50.5px,#080cfa 56.5px,#152afc 62.5px,#498ff0 63.5px,#6eb7f4 65.5px,#a6dffa 68.5px,#cceefc 70.5px,#fff 71.5px,#fff 114.5px,#bce7fb 115.5px,#a5defa 116.5px,#75bdf4 118.5px,#478df0 120.5px,#1223fc 121.5px,#090ffa 123.5px,#1417ed 124.5px,#3939c6 126.5px,#778 128.5px,#d9d922 130.5px,#faf804 131.5px,#fff803 132.5px,#ffe514 135.5px,#ffab2f 139.5px,#ff893a 142.5px,#ff7e3b 143.5px,#ff552d 153.5px,#fe4525 220.5px)"></i><i style="background:linear-gradient(#fb311d .5px,#fc371f 1.5px,#ff5d30 4.5px,#ff813c 9.5px,#ffa233 15.5px,#ffe017 24.5px,#fefc00 32.5px,#eded10 35.5px,#c2c238 38.5px,#92926b 41.5px,#3838c8 48.5px,#090efa 54.5px,#1326fc 60.5px,#2243f9 61.5px,#4c93f1 62.5px,#6db7f3 64.5px,#9fd9f9 67.5px,#d0effd 70.5px,#fff 71.5px,#fff 114.5px,#bce7fb 115.5px,#a3ddfa 116.5px,#5ba5f2 119.5px,#3972f3 120.5px,#1122fc 121.5px,#080dfa 123.5px,#4242bd 126.5px,#8c8c71 128.5px,#c0c03a 129.5px,#eeee0f 130.5px,#fffc00 131.5px,#ffe116 135.5px,#ffa433 139.5px,#ff843b 142.5px,#ff7238 145.5px,#ff532c 153.5px,#fe4425 220.5px)"></i><i style="background:linear-gradient(#ff863b .5px,#ffa333 6.5px,#ffe017 15.5px,#fffa02 24.5px,#f7f706 27.5px,#f1f10b 28.5px,#c1c13a 32.5px,#7d7d82 37.5px,#3c3cc3 43.5px,#080cfa 51.5px,#1427fc 59.5px,#274ef7 60.5px,#4d95f1 61.5px,#6bb5f3 63.5px,#a7dffa 67.5px,#c5ebfc 69.5px,#fff 70.5px,#fff 114.5px,#b8e6fb 115.5px,#80c4f6 117.5px,#64aff3 118.5px,#4990f0 119.5px,#1120fb 120.5px,#0a12fa 121.5px,#191ce8 122.5px,#3435cb 123.5px,#5e5ea1 124.5px,#cece2d 126.5px,#f9f805 127.5px,#fff803 128.5px,#ffe216 131.5px,#ffa133 135.5px,#ff833c 138.5px,#ff5b2f 142.5px,#fe4a27 148.5px,#fe4123 158.5px,#fc361f 220.5px)"></i><i style="background:linear-gradient(#ff6e37 .5px,#ff823c 3.5px,#ff9c35 8.5px,#ffe117 18.5px,#fcfa02 29.5px,#f6f607 31.5px,#c8c833 35.5px,#65659a 42.5px,#4141be 45.5px,#090df9 53.5px,#1327fc 60.5px,#2850f7 61.5px,#5097f1 62.5px,#71baf4 64.5px,#a5defa 67.5px,#c7ebfc 69.5px,#fff 70.5px,#fff 114.5px,#b6e5fb 115.5px,#78bef5 117.5px,#59a2f2 118.5px,#1327fc 119.5px,#0b13fa 120.5px,#2022e1 121.5px,#4b4bb4 122.5px,#cccc2f 124.5px,#faf804 125.5px,#fff704 126.5px,#ffde18 129.5px,#ffab2f 132.5px,#ff8a3a 135.5px,#ff7438 137.5px,#ff522b 139.5px,#ff4d29 140.5px,#fd3920 155.5px,#fa2e1b 220.5px)"></i><i style="background:linear-gradient(#ff502a .5px,#ff522b 3.5px,#ff6f37 6.5px,#ff833c 9.5px,#ffa034 14.5px,#ffc027 18.5px,#ffdf18 23.5px,#fefb01 34.5px,#f0f00c 37.5px,#c9c932 40.5px,#3738c8 50.5px,#0c10f6 55.5px,#090efa 56.5px,#1326fc 61.5px,#2c59f6 62.5px,#559df1 63.5px,#68b3f3 64.5px,#a3dcfa 67.5px,#caedfc 69.5px,#fff 70.5px,#fff 114.5px,#b5e4fb 115.5px,#75bcf4 117.5px,#559df1 118.5px,#1222fc 119.5px,#080cfa 120.5px,#3132cf 121.5px,#70708f 122.5px,#b5b545 123.5px,#f3f30a 124.5px,#fff902 125.5px,#ffe216 128.5px,#ffa034 132.5px,#ff823c 135.5px,#fe4826 139.5px,#fc361f 155.5px,#fa2b1a 220.5px)"></i><i style="background:linear-gradient(#fe4525 .5px,#fe4827 5.5px,#ff6e37 9.5px,#ff823c 12.5px,#ff9f34 17.5px,#ffbf28 21.5px,#ffe117 27.5px,#fffc00 38.5px,#f0f00c 41.5px,#bbbb3f 45.5px,#7f7f80 49.5px,#3838c7 53.5px,#0d11f5 57.5px,#090ffa 58.5px,#1327fc 62.5px,#478df0 63.5px,#74bbf4 65.5px,#a1dcfa 67.5px,#cfeffd 69.5px,#fff 70.5px,#fff 114.5px,#b5e4fb 115.5px,#77bef5 117.5px,#58a0f2 118.5px,#1325fc 119.5px,#0a11fa 120.5px,#2527db 121.5px,#5757a8 122.5px,#d9d922 124.5px,#fdfb01 125.5px,#ffe613 128.5px,#ff9b35 133.5px,#ff7d3b 136.5px,#ff4c29 139.5px,#fd3820 155.5px,#fa2d1b 220.5px)"></i><i style="background:linear-gradient(#fe4124 .5px,#fe4525 6.5px,#ff6d37 10.5px,#ff813c 13.5px,#ff9d35 18.5px,#ffbc29 22.5px,#ffe116 29.5px,#fdfb02 41.5px,#f6f607 43.5px,#baba40 48.5px,#81817e 52.5px,#4141be 55.5px,#0a0ef8 59.5px,#1428fc 63.5px,#4f97f1 64.5px,#6ab5f3 65.5px,#bbe7fb 68.5px,#fff 69.5px,#fff 114.5px,#b7e5fb 115.5px,#9ad6f9 116.5px,#5fa9f2 118.5px,#3162f5 119.5px,#0e1bfb 120.5px,#0c10f6 121.5px,#2b2cd5 122.5px,#55a 123.5px,#cccc2f 125.5px,#f9f805 126.5px,#fff704 127.5px,#ffe017 130.5px,#ff9f34 134.5px,#ff813c 137.5px,#ff5a2f 140.5px,#fe4625 147.5px,#fe3d21 157.5px,#fb321d 220.5px)"></i><i style="background:linear-gradient(#fb311d .5px,#fb311d 6.5px,#ff6031 10.5px,#ff843c 15.5px,#ff9f34 20.5px,#ffe316 31.5px,#fffc00 41.5px,#f3f30a 44.5px,#bfbf3b 48.5px,#73738c 53.5px,#4343bc 55.5px,#0a0ef8 59.5px,#162dfb 63.5px,#539bf1 64.5px,#6eb8f4 65.5px,#a6dffa 67.5px,#c3eafc 68.5px,#fff 69.5px,#fff 114.5px,#b9e6fb 115.5px,#6ab4f3 118.5px,#5097f1 119.5px,#1325fc 120.5px,#090df8 122.5px,#393ac6 124.5px,#61619e 125.5px,#c9c931 127.5px,#f7f607 128.5px,#fff902 129.5px,#ffe414 132.5px,#ffa731 136.5px,#ff873b 139.5px,#ff6232 143.5px,#ff4c28 150.5px,#fe4023 180.5px,#fd3a21 220.5px)"></i><i style="background:linear-gradient(#fe3f22 .5px,#fe4425 5.5px,#ff6634 8.5px,#ff823c 12.5px,#ffa333 18.5px,#ffbb29 21.5px,#ffe216 28.5px,#fdfa02 39.5px,#f5f508 41.5px,#c1c139 45.5px,#74748b 50.5px,#3a3ac5 53.5px,#0c10f6 57.5px,#0a10fa 58.5px,#1223fc 61.5px,#1a34fb 62.5px,#5199f1 63.5px,#69b4f3 64.5px,#9ad6f9 66.5px,#cbedfc 68.5px,#fff 69.5px,#fff 114.5px,#bce7fb 115.5px,#a5defa 116.5px,#76bdf4 118.5px,#488ef0 120.5px,#1224fc 121.5px,#0a10fa 123.5px,#1215ef 124.5px,#3637c9 126.5px,#71718e 128.5px,#d0d02b 130.5px,#f7f606 131.5px,#fffa02 132.5px,#ffdd19 136.5px,#ff9f34 140.5px,#ff803c 143.5px,#ff572d 153.5px,#fe4a28 183.5px,#fe4626 220.5px)"></i><i style="background:linear-gradient(#ff6333 .5px,#ff6433 2.5px,#ff863b 7.5px,#ffa034 12.5px,#ffe315 22.5px,#fefb01 33.5px,#f5f508 36.5px,#e9e913 37.5px,#b5b546 41.5px,#3c3cc3 49.5px,#080cfa 55.5px,#1325fc 60.5px,#274ef7 61.5px,#549cf1 62.5px,#68b3f3 63.5px,#a8dffa 66.5px,#bde8fb 67.5px,#fff 68.5px,#fff 114.5px,#bce7fb 115.5px,#a3ddfa 116.5px,#5aa3f2 119.5px,#3060f5 120.5px,#1121fb 121.5px,#090df9 123.5px,#4949b6 126.5px,#6b6b94 127.5px,#cccc2f 129.5px,#f6f607 130.5px,#fffa02 131.5px,#ffdd19 135.5px,#ff9f34 139.5px,#ff813c 142.5px,#ff542c 152.5px,#fe4726 182.5px,#fe4324 220.5px)"></i><i style="background:linear-gradient(#ff6f37 .5px,#ff813c 3.5px,#ff9e34 9.5px,#ffe116 19.5px,#fefb01 29.5px,#efef0e 32.5px,#b9b941 36.5px,#6e6e91 41.5px,#3c3cc3 45.5px,#080cfa 52.5px,#1529fc 59.5px,#478df0 60.5px,#6ab5f3 62.5px,#a0dbf9 65.5px,#c5ebfc 67.5px,#fff 68.5px,#fff 114.5px,#b8e6fb 115.5px,#80c4f6 117.5px,#64aef3 118.5px,#498ff0 119.5px,#1020fb 120.5px,#0a11fa 121.5px,#1c1ee5 122.5px,#3738c8 123.5px,#65659a 124.5px,#d6d625 126.5px,#fbf903 127.5px,#ffdf17 131.5px,#ff9f34 135.5px,#ff813c 138.5px,#ff5e31 141.5px,#fe4827 148.5px,#fe4023 158.5px,#fc351e 220.5px)"></i><i style="background:linear-gradient(#ff8e39 .5px,#ffa532 5.5px,#ffe116 14.5px,#fffb01 23.5px,#f5f508 26.5px,#c3c337 30.5px,#8a8a74 34.5px,#3d3dc2 41.5px,#080cfa 49.5px,#1427fc 57.5px,#274ef7 58.5px,#4e95f1 59.5px,#6db7f3 61.5px,#9cd8f9 64.5px,#cbedfc 67.5px,#fff 68.5px,#fff 114.5px,#b6e5fb 115.5px,#78bff5 117.5px,#5aa2f2 118.5px,#1327fc 119.5px,#0b13fa 120.5px,#2123e0 121.5px,#4d4db2 122.5px,#cfcf2c 124.5px,#fbf904 125.5px,#fff705 126.5px,#ffdd18 129.5px,#ffaa30 132.5px,#ff893a 135.5px,#ff7338 137.5px,#ff502a 139.5px,#ff4c29 140.5px,#fd3920 155.5px,#fa2d1b 220.5px)"></i><i style="background:linear-gradient(#ff6333 .5px,#ff823c 5.5px,#ff9f34 11.5px,#ffe315 21.5px,#fcfa03 30.5px,#f2f20b 32.5px,#b9b941 36.5px,#898975 39.5px,#3a3bc5 45.5px,#0b0ef7 51.5px,#090ffa 52.5px,#1327fc 58.5px,#2850f7 59.5px,#5199f1 60.5px,#75bcf4 62.5px,#99d5f9 64.5px,#cfeffd 67.5px,#fff 68.5px,#fff 114.5px,#b6e5fb 115.5px,#76bdf4 117.5px,#569ff1 118.5px,#1223fc 119.5px,#080dfa 120.5px,#2f30d1 121.5px,#6d6d92 122.5px,#b3b348 123.5px,#f0f00d 124.5px,#fffa02 125.5px,#ffe316 128.5px,#ffa034 132.5px,#ff833c 135.5px,#fe4827 139.5px,#fc361f 155.5px,#fa2b1a 220.5px)"></i><i style="background:linear-gradient(#fb311d .5px,#ff5c2f 4.5px,#ff843c 10.5px,#ffa233 16.5px,#ffe017 25.5px,#fffc00 34.5px,#f7f607 36.5px,#eded10 37.5px,#c0c03a 40.5px,#3d3dc2 48.5px,#0d11f4 53.5px,#090efa 54.5px,#1326fc 59.5px,#2b57f6 60.5px,#569ef1 61.5px,#6bb5f3 62.5px,#bfe9fc 66.5px,#fff 67.5px,#fff 114.5px,#b7e5fb 115.5px,#78bff5 117.5px,#5aa2f2 118.5px,#1327fc 119.5px,#0b12fa 120.5px,#2224de 121.5px,#5151ae 122.5px,#d3d328 124.5px,#fcfa03 125.5px,#ffdc19 129.5px,#ff9c35 133.5px,#ff7e3b 136.5px,#ff6232 138.5px,#ff4d29 139.5px,#fd3820 155.5px,#fa2d1b 220.5px)"></i><i style="background:linear-gradient(#fc351e .5px,#fc361f 2.5px,#ff592f 5.5px,#ff823c 11.5px,#ffa034 17.5px,#ffe017 27.5px,#fffb01 37.5px,#f2f20b 40.5px,#b9b941 44.5px,#797986 48.5px,#3d3dc2 51.5px,#090efa 56.5px,#1326fc 60.5px,#3e7df2 61.5px,#5ea7f2 62.5px,#90cff8 64.5px,#c3eafc 66.5px,#fff 67.5px,#fff 114.5px,#b9e6fb 115.5px,#9cd7f9 116.5px,#61abf2 118.5px,#4080f1 119.5px,#0f1cfb 120.5px,#080cfa 121.5px,#4d4db2 123.5px,#84847a 124.5px,#c3c337 125.5px,#f6f607 126.5px,#fff903 127.5px,#ffe316 130.5px,#ffa133 134.5px,#ff833c 137.5px,#ff562d 141.5px,#fe4626 147.5px,#fe3d22 157.5px,#fb321d 220.5px)"></i><i style="background:linear-gradient(#ff502a .5px,#ff512b 2.5px,#ff853b 10.5px,#ffa333 16.5px,#ffdf18 26.5px,#fdfb02 39.5px,#eded0f 42.5px,#bcbc3e 46.5px,#767689 51.5px,#3536ca 54.5px,#0d10f5 57.5px,#0a11fa 58.5px,#1327fc 61.5px,#4d94f1 62.5px,#6cb6f3 63.5px,#aae0fa 65.5px,#c9ecfc 66.5px,#fff 67.5px,#fff 114.5px,#bbe7fb 115.5px,#6cb6f3 118.5px,#529af1 119.5px,#1327fc 120.5px,#090dfa 122.5px,#3535cb 124.5px,#5858a7 125.5px,#858579 126.5px,#bebe3c 127.5px,#f0f00d 128.5px,#fffb01 129.5px,#ffdc19 133.5px,#ff9e35 137.5px,#ff893a 139.5px,#ff6533 143.5px,#ff4d29 150.5px,#fe4023 180.5px,#fd3b21 220.5px)"></i><i style="background:linear-gradient(#fb311d .5px,#fb311d 2.5px,#ff5f31 6.5px,#ff843b 12.5px,#ffa233 18.5px,#ffe216 28.5px,#fefb01 38.5px,#f6f607 40.5px,#bfbf3b 44.5px,#7e7e80 48.5px,#4141be 51.5px,#1013f1 55.5px,#090efa 56.5px,#1427fc 60.5px,#4c92f0 61.5px,#66b0f3 62.5px,#b6e5fb 65.5px,#fff 66.5px,#fff 114.5px,#bee8fc 115.5px,#78bff5 118.5px,#4b91f0 120.5px,#1325fc 121.5px,#0b12fa 123.5px,#0f12f3 124.5px,#4a4ab5 127.5px,#686897 128.5px,#91916c 129.5px,#c3c337 130.5px,#f0f00d 131.5px,#fffc00 132.5px,#ffe116 136.5px,#ffa433 140.5px,#ff7c3a 144.5px,#ff562d 154.5px,#fe4626 220.5px)"></i><i style="background:linear-gradient(#fb311d .5px,#fb321d 2.5px,#ff5f31 6.5px,#ff843b 12.5px,#ffa134 18.5px,#ffe315 27.5px,#fdfa02 35.5px,#f1f10c 37.5px,#c1c139 40.5px,#3839c7 48.5px,#080cfa 53.5px,#1325fc 58.5px,#254af8 59.5px,#539bf1 60.5px,#69b4f3 61.5px,#abe1fa 64.5px,#c1e9fc 65.5px,#fff 66.5px,#fff 114.5px,#c1e9fc 115.5px,#a8dffa 116.5px,#5ea8f2 119.5px,#468cf0 120.5px,#1122fc 121.5px,#080cfa 123.5px,#4949b6 126.5px,#6c6c93 127.5px,#cece2d 129.5px,#f7f606 130.5px,#fffa02 131.5px,#ffdc19 135.5px,#ff9f34 139.5px,#ff8a3a 141.5px,#ff6e37 145.5px,#ff532c 152.5px,#fe4626 182.5px,#fe4224 220.5px)"></i><i style="background:linear-gradient(#ff7238 .5px,#ff823c 3.5px,#ffa134 10.5px,#ffe116 19.5px,#fcfa02 28.5px,#f2f20b 30.5px,#b6b645 34.5px,#83837b 37.5px,#44b 42.5px,#0b0ff6 49.5px,#090efa 50.5px,#1325fc 56.5px,#1d3afa 57.5px,#4b91f0 58.5px,#6eb8f4 60.5px,#a5defa 63.5px,#c9edfc 65.5px,#fff 66.5px,#fff 114.5px,#bee8fc 115.5px,#a2dcfa 116.5px,#69b4f3 118.5px,#4d95f1 119.5px,#1122fc 120.5px,#0b13fa 121.5px,#181be9 122.5px,#3535cb 123.5px,#61619e 124.5px,#d4d427 126.5px,#fbf903 127.5px,#ffe017 131.5px,#ff9f34 135.5px,#ff813c 138.5px,#ff5e30 141.5px,#fe4826 148.5px,#fe3f23 158.5px,#fc341e 220.5px)"></i><i style="background:linear-gradient(#ffa532 .5px,#ffe117 9.5px,#fffc00 18.5px,#f8f706 20.5px,#f3f30a 21.5px,#c0c03a 25.5px,#797986 30.5px,#3f3fc0 36.5px,#0a0ef8 45.5px,#090efa 46.5px,#1326fc 54.5px,#1e3cfa 55.5px,#488ef0 56.5px,#74bcf4 59.5px,#a1dcfa 62.5px,#cfeffd 65.5px,#fff 66.5px,#fff 114.5px,#bde8fb 115.5px,#9ed9f9 116.5px,#60a9f2 118.5px,#2952f7 119.5px,#0c16fb 120.5px,#1b1de6 121.5px,#4343bc 122.5px,#c7c734 124.5px,#f8f705 125.5px,#fff804 126.5px,#ffdf17 129.5px,#ffac2f 132.5px,#ff8b3a 135.5px,#ff7539 137.5px,#ff532c 139.5px,#ff4c28 140.5px,#fd3820 156.5px,#fa2d1b 220.5px)"></i><i style="background:linear-gradient(#ff9138 .5px,#ffa233 4.5px,#ffe216 14.5px,#fffc00 23.5px,#f9f705 25.5px,#f4f409 26.5px,#bebe3c 30.5px,#6d6d92 35.5px,#4141be 39.5px,#080cfa 48.5px,#1325fc 55.5px,#1933fb 56.5px,#488ef0 57.5px,#6ab4f3 59.5px,#9ed9f9 62.5px,#c1e9fc 64.5px,#fff 65.5px,#fff 114.5px,#bde7fb 115.5px,#9dd8f9 116.5px,#5da6f2 118.5px,#152bfc 119.5px,#0b12fa 120.5px,#2628da 121.5px,#5d5da2 122.5px,#a3a359 123.5px,#e3e319 124.5px,#fffb01 125.5px,#ffe414 128.5px,#ff9936 133.5px,#ff7a3a 136.5px,#fe4827 139.5px,#fc361f 155.5px,#fa2b1a 220.5px)"></i><i style="background:linear-gradient(#ff7a3a .5px,#ff9f34 8.5px,#ffe315 19.5px,#fffb01 28.5px,#fbf904 30.5px,#eded10 32.5px,#c3c337 35.5px,#71718e 40.5px,#3b3bc4 44.5px,#090dfa 51.5px,#1428fc 57.5px,#488ef0 58.5px,#70b9f4 60.5px,#c2eafc 64.5px,#fff 65.5px,#fff 114.5px,#bee8fb 115.5px,#9ed9f9 116.5px,#61aaf2 118.5px,#2e5df6 119.5px,#0d17fb 120.5px,#191be8 121.5px,#4040bf 122.5px,#c3c337 124.5px,#f7f706 125.5px,#fff803 126.5px,#ffe117 129.5px,#ff9f34 133.5px,#ff813c 136.5px,#ff4c29 140.5px,#fd3820 156.5px,#fa2d1b 220.5px)"></i><i style="background:linear-gradient(#ff582e .5px,#ff7e3b 6.5px,#ff9f34 13.5px,#ffe315 24.5px,#fffc00 34.5px,#eeee0e 37.5px,#b4b447 41.5px,#3d3dc2 48.5px,#090df9 53.5px,#1427fc 58.5px,#4a91f0 59.5px,#7ac0f5 61.5px,#c3eafc 64.5px,#fff 65.5px,#fff 114.5px,#bfe8fc 115.5px,#a2dcfa 116.5px,#68b3f3 118.5px,#4c93f1 119.5px,#1121fb 120.5px,#0a10fa 121.5px,#1e21e2 122.5px,#3d3dc2 123.5px,#71718e 124.5px,#afaf4c 125.5px,#e8e815 126.5px,#fffb01 127.5px,#ffe513 130.5px,#ff9a35 135.5px,#ff7c3a 138.5px,#ff572e 141.5px,#fe4525 148.5px,#fe3e22 157.5px,#fb321d 220.5px)"></i><i style="background:linear-gradient(#fd3c21 .5px,#ff5c30 3.5px,#ff863b 10.5px,#ffa134 16.5px,#ffdf17 26.5px,#fefb01 37.5px,#eeee0e 40.5px,#b9b942 44.5px,#7c7c83 48.5px,#3b3bc4 51.5px,#080cfa 55.5px,#1427fc 59.5px,#5097f1 60.5px,#6cb6f3 61.5px,#a8dffa 63.5px,#c6ebfc 64.5px,#fff 65.5px,#fff 114.5px,#c1e9fc 115.5px,#8dcdf7 117.5px,#59a2f2 119.5px,#2345f8 120.5px,#0f1dfb 121.5px,#0a11fa 122.5px,#1619eb 123.5px,#4a4ab5 125.5px,#72728d 126.5px,#dcdc1f 128.5px,#fcfa03 129.5px,#ffe216 133.5px,#ffa333 137.5px,#ff843c 140.5px,#ff6333 144.5px,#ff4d29 151.5px,#fe4123 180.5px,#fe3c21 220.5px)"></i><i style="background:linear-gradient(#ff6634 .5px,#ff833c 5.5px,#ff9e35 11.5px,#ffe315 23.5px,#fdfa02 35.5px,#f6f607 37.5px,#c5c536 41.5px,#7c7c83 46.5px,#4343bc 49.5px,#080dfa 54.5px,#1326fc 58.5px,#478df0 59.5px,#7bc1f5 61.5px,#cbedfc 64.5px,#fff 65.5px,#fff 114.5px,#c3eafc 115.5px,#7ec3f5 118.5px,#5198f1 120.5px,#1428fc 121.5px,#090df9 124.5px,#3e3ec1 127.5px,#7b7b83 129.5px,#dcdc1f 131.5px,#faf904 132.5px,#ffe514 136.5px,#ff9d35 141.5px,#ff7d3b 144.5px,#ff562d 154.5px,#fe4726 220.5px)"></i><i style="background:linear-gradient(#ff7a3a .5px,#ff9f34 8.5px,#ffe316 19.5px,#fffb01 29.5px,#f9f805 32.5px,#f5f508 33.5px,#c0c03a 37.5px,#44b 45.5px,#0c10f6 51.5px,#090ffa 52.5px,#1223fc 56.5px,#172efb 57.5px,#4c93f1 58.5px,#78bef5 60.5px,#a4ddfa 62.5px,#d0effd 64.5px,#fff 65.5px,#fff 114.5px,#c6ebfc 115.5px,#94d2f8 117.5px,#62acf2 119.5px,#4a91f0 120.5px,#1224fc 121.5px,#090dfa 123.5px,#2f30d1 125.5px,#4848b7 126.5px,#6c6c93 127.5px,#cfcf2c 129.5px,#f7f706 130.5px,#fff902 131.5px,#ffda1a 135.5px,#ff9e35 139.5px,#ff8a3a 141.5px,#ff6c36 145.5px,#ff522b 152.5px,#fe4525 182.5px,#fe4123 220.5px)"></i><i style="background:linear-gradient(#ff833c .5px,#ffa233 7.5px,#ffe315 17.5px,#fefb01 26.5px,#f6f607 28.5px,#ebeb11 29.5px,#c1c139 32.5px,#6f6f90 37.5px,#3d3dc2 41.5px,#0a0ef8 48.5px,#090ffa 49.5px,#1427fc 55.5px,#2c59f6 56.5px,#549cf1 57.5px,#78bef5 59.5px,#c1e9fc 63.5px,#fff 64.5px,#fff 114.5px,#c4ebfc 115.5px,#a8dffa 116.5px,#6eb8f4 118.5px,#529af1 119.5px,#1325fc 120.5px,#0c15fb 121.5px,#1518ed 122.5px,#3233ce 123.5px,#5d5da2 124.5px,#d1d12a 126.5px,#faf804 127.5px,#fff704 128.5px,#ffe017 131.5px,#ff9f34 135.5px,#ff813c 138.5px,#ff5d30 141.5px,#fe4726 148.5px,#fe3f22 158.5px,#fc341e 220.5px)"></i><i style="background:linear-gradient(#ffa532 .5px,#ffe415 10.5px,#fffc00 18.5px,#f4f409 21.5px,#c0c03a 25.5px,#767689 30.5px,#4242bd 35.5px,#090dfa 45.5px,#1327fc 53.5px,#2449f8 54.5px,#4c93f1 55.5px,#6ab5f3 57.5px,#a8dffa 61.5px,#c6ebfc 63.5px,#fff 64.5px,#fff 114.5px,#c4eafc 115.5px,#a4defa 116.5px,#85c8f6 117.5px,#66b0f3 118.5px,#478ef0 119.5px,#0e1afb 120.5px,#1417ed 121.5px,#3a3ac5 122.5px,#bebe3c 124.5px,#f6f607 125.5px,#fff903 126.5px,#ffe216 129.5px,#ffa034 133.5px,#ff823c 136.5px,#ff4c28 140.5px,#fd3820 156.5px,#fa2d1b 220.5px)"></i><i style="background:linear-gradient(#ff883a .5px,#ffa133 6.5px,#ffe315 15.5px,#fefb01 23.5px,#f6f607 25.5px,#eaea12 26.5px,#bfbf3b 29.5px,#80807f 33.5px,#3b3bc5 39.5px,#090df9 46.5px,#1325fc 53.5px,#1831fb 54.5px,#468df0 55.5px,#77bef5 58.5px,#a8dffa 61.5px,#c9ecfc 63.5px,#fff 64.5px,#fff 114.5px,#c4eafc 115.5px,#a4ddfa 116.5px,#64aef3 118.5px,#3e7df2 119.5px,#0d17fb 120.5px,#1d1fe4 121.5px,#4d4db2 122.5px,#d5d526 124.5px,#fdfa02 125.5px,#ffe613 128.5px,#ff9b35 133.5px,#ff7d3b 136.5px,#fe4927 139.5px,#fc361f 155.5px,#fa2b1a 220.5px)"></i><i style="background:linear-gradient(#ff6a35 .5px,#ff803c 4.5px,#ff9f34 11.5px,#ffe117 20.5px,#fffc00 28.5px,#f6f607 30.5px,#ebeb12 31.5px,#bdbd3d 34.5px,#888876 37.5px,#4141be 42.5px,#0b0ff7 48.5px,#090ffa 49.5px,#1224fc 54.5px,#172efb 55.5px,#498ff0 56.5px,#6db7f3 58.5px,#a5defa 61.5px,#cbedfc 63.5px,#fff 64.5px,#fff 114.5px,#c4ebfc 115.5px,#a5defa 116.5px,#67b2f3 118.5px,#4990f0 119.5px,#0f1cfb 120.5px,#0f13f2 121.5px,#3435cb 122.5px,#eded10 125.5px,#fffa01 126.5px,#ffe415 129.5px,#ffb22d 132.5px,#ff9836 134.5px,#ff793a 137.5px,#ff4d29 140.5px,#fd3920 156.5px,#fa2e1b 220.5px)"></i><i style="background:linear-gradient(#ff6b36 .5px,#ff813c 4.5px,#ffa034 11.5px,#ffe117 21.5px,#fefc01 31.5px,#f7f607 33.5px,#eded10 34.5px,#c2c238 37.5px,#3f3fc0 45.5px,#0d11f4 50.5px,#090efa 51.5px,#1223fc 55.5px,#182ffb 56.5px,#4c93f1 57.5px,#77bef5 59.5px,#a2dcfa 61.5px,#cdeefc 63.5px,#fff 64.5px,#fff 114.5px,#c6ebfc 115.5px,#8cccf7 117.5px,#6fb8f4 118.5px,#539bf1 119.5px,#1325fc 120.5px,#0c15fb 121.5px,#1619ec 122.5px,#3334cc 123.5px,#60609f 124.5px,#d5d526 126.5px,#fbf903 127.5px,#ffde18 131.5px,#ff9e35 135.5px,#ff803b 138.5px,#ff5b2f 141.5px,#fe4626 148.5px,#fe3e22 158.5px,#fb331d 220.5px)"></i><i style="background:linear-gradient(#ff6935 .5px,#ff843b 5.5px,#ff9f34 11.5px,#ffe017 22.5px,#fffc00 33.5px,#f5f508 36.5px,#c2c238 40.5px,#797986 45.5px,#3d3dc2 48.5px,#0d11f4 52.5px,#0a10fa 53.5px,#1223fc 56.5px,#1d3afa 57.5px,#539bf1 58.5px,#6cb6f3 59.5px,#b8e6fb 62.5px,#fff 63.5px,#fff 114.5px,#c7ecfc 115.5px,#79bff5 118.5px,#468cf0 120.5px,#1121fb 121.5px,#0c15fb 122.5px,#0f12f3 123.5px,#3c3cc3 125.5px,#63639c 126.5px,#c9c932 128.5px,#f6f607 129.5px,#fffa02 130.5px,#ffe513 133.5px,#ffaa30 137.5px,#ff883a 140.5px,#ff6634 144.5px,#ff4e29 151.5px,#fe4224 181.5px,#fe3d21 220.5px)"></i><i style="background:linear-gradient(#fe4525 .5px,#ff6935 4.5px,#ff843b 9.5px,#ffa432 16.5px,#ffe216 25.5px,#fffc00 34.5px,#efef0e 37.5px,#c4c436 40.5px,#73738c 45.5px,#3737c8 48.5px,#080cfa 52.5px,#1325fc 56.5px,#3163f5 57.5px,#5ba4f2 58.5px,#a4defa 61.5px,#bde8fb 62.5px,#fff 63.5px,#fff 114.5px,#c8ecfc 115.5px,#9bd7f9 117.5px,#6db7f3 119.5px,#579ff1 120.5px,#274ef7 121.5px,#1121fc 122.5px,#090ffa 124.5px,#1417ed 125.5px,#3637c9 127.5px,#5050af 128.5px,#6d6d92 129.5px,#f5f508 132.5px,#fffb01 133.5px,#ffe017 137.5px,#ffa133 141.5px,#ff813c 144.5px,#ff582e 154.5px,#ff4c29 184.5px,#fe4826 220.5px)"></i><i style="background:linear-gradient(#ff522b .5px,#ff803c 7.5px,#ff9f34 14.5px,#ffe216 23.5px,#fffc00 31.5px,#f7f607 33.5px,#ebeb11 34.5px,#bdbd3e 37.5px,#3636ca 45.5px,#0e11f4 49.5px,#090efa 50.5px,#1428fc 55.5px,#498ff0 56.5px,#71baf4 58.5px,#9ad7f9 60.5px,#c4eafc 62.5px,#fff 63.5px,#fff 115.5px,#bbe7fb 116.5px,#6fb8f4 119.5px,#579ff1 120.5px,#1e3cfa 121.5px,#101efb 122.5px,#0b13fa 123.5px,#1114f0 124.5px,#3b3bc4 126.5px,#898974 128.5px,#c0c03a 129.5px,#efef0e 130.5px,#fffb01 131.5px,#ffdf18 135.5px,#ffa134 139.5px,#ff823c 142.5px,#ff6834 146.5px,#ff502a 153.5px,#fe4023 220.5px)"></i><i style="background:linear-gradient(#ff7e3b .5px,#ffa134 8.5px,#ffe216 17.5px,#fefb01 25.5px,#f6f607 27.5px,#eaea13 28.5px,#bcbc3e 31.5px,#797986 35.5px,#3939c6 40.5px,#0b0ff7 46.5px,#090ffa 47.5px,#1327fc 53.5px,#2b55f7 54.5px,#5299f1 55.5px,#73bbf4 57.5px,#96d3f8 59.5px,#c9ecfc 62.5px,#fff 63.5px,#fff 115.5px,#b9e6fb 116.5px,#80c4f6 118.5px,#63adf2 119.5px,#478df0 120.5px,#101efb 121.5px,#090efa 122.5px,#44b 124.5px,#787887 125.5px,#b7b744 126.5px,#eeee0e 127.5px,#fffa01 128.5px,#ffe414 131.5px,#ffa532 135.5px,#ff853b 138.5px,#ff582e 142.5px,#fe4827 148.5px,#fe3e22 158.5px,#fb331d 220.5px)"></i><i style="background:linear-gradient(#ff9e35 .5px,#ffb52c 4.5px,#ffe315 10.5px,#fffb01 17.5px,#f8f706 19.5px,#f2f20a 20.5px,#c9c932 23.5px,#7c7c83 28.5px,#3e3ec1 34.5px,#080dfa 43.5px,#1427fc 51.5px,#264cf8 52.5px,#4c93f1 53.5px,#77bef5 56.5px,#a2dcfa 59.5px,#cdeefc 62.5px,#fff 63.5px,#fff 115.5px,#b9e6fb 116.5px,#9ad6f9 117.5px,#5ba4f2 119.5px,#1427fc 120.5px,#0b13fa 121.5px,#2224de 122.5px,#5353ac 123.5px,#d6d625 125.5px,#fdfa02 126.5px,#ffdb1a 130.5px,#ff9c35 134.5px,#ff7e3b 137.5px,#ff6132 139.5px,#ff4c28 140.5px,#fd381f 156.5px,#fa2d1b 220.5px)"></i><i style="background:linear-gradient(#ffb22d .5px,#ffe216 7.5px,#fffa02 14.5px,#f7f607 17.5px,#b9b942 22.5px,#6a6a95 27.5px,#4545ba 31.5px,#090dfa 42.5px,#1325fc 50.5px,#172efb 51.5px,#3870f3 52.5px,#5299f1 53.5px,#6db7f3 55.5px,#a5defa 59.5px,#cfeffd 62.5px,#fff 63.5px,#fff 115.5px,#bae7fb 116.5px,#9bd7f9 117.5px,#5ba4f2 119.5px,#1327fc 120.5px,#0a11fa 121.5px,#282ad8 122.5px,#61619e 123.5px,#a6a655 124.5px,#e5e517 125.5px,#fffb01 126.5px,#ffe414 129.5px,#ffb22d 132.5px,#ff9936 134.5px,#ff793a 137.5px,#fe4927 140.5px,#fc361f 156.5px,#fa2b1a 220.5px)"></i><i style="background:linear-gradient(#ff9138 .5px,#ffa233 4.5px,#ffe414 14.5px,#fffb01 21.5px,#f5f508 24.5px,#bbbb3f 28.5px,#696996 33.5px,#4646b9 36.5px,#3b3bc4 37.5px,#080dfa 45.5px,#1427fc 52.5px,#2e5bf6 53.5px,#529af1 54.5px,#71baf4 56.5px,#a2dcfa 59.5px,#c2eafc 61.5px,#fff 62.5px,#fff 115.5px,#bde8fb 116.5px,#9ed9f9 117.5px,#61aaf2 119.5px,#3161f5 120.5px,#0d18fb 121.5px,#1719eb 122.5px,#3b3bc4 123.5px,#bcbc3e 125.5px,#f5f508 126.5px,#fff903 127.5px,#ffe216 130.5px,#ffa034 134.5px,#ff833c 137.5px,#ff4d29 141.5px,#fd3920 157.5px,#fa2e1b 220.5px)"></i><i style="background:linear-gradient(#ff6734 .5px,#ff833c 5.5px,#ffa233 12.5px,#ffdf17 20.5px,#fffb01 28.5px,#eeee0f 31.5px,#bfbf3b 34.5px,#8a8a74 37.5px,#3b3bc4 42.5px,#0c10f5 47.5px,#090efa 48.5px,#1326fc 53.5px,#2a55f7 54.5px,#539bf1 55.5px,#78bef5 57.5px,#c3eafc 61.5px,#fff 62.5px,#fff 115.5px,#c0e9fc 116.5px,#a3ddfa 117.5px,#6ab5f3 119.5px,#4e95f1 120.5px,#1222fc 121.5px,#0b13fa 122.5px,#191ce8 123.5px,#3637c9 124.5px,#65659a 125.5px,#d9d923 127.5px,#fcfa02 128.5px,#ffde18 132.5px,#ff9e35 136.5px,#ff7f3b 139.5px,#ff5b2f 142.5px,#fe4726 149.5px,#fe3e22 159.5px,#fc341e 220.5px)"></i><i style="background:linear-gradient(#ff5e31 .5px,#ff813c 6.5px,#ffa034 13.5px,#ffe315 23.5px,#fdfa02 32.5px,#f5f508 34.5px,#caca30 37.5px,#7b7b84 42.5px,#4040bf 45.5px,#080dfa 50.5px,#1325fc 54.5px,#2953f7 55.5px,#569ef1 56.5px,#6cb6f3 57.5px,#98d5f8 59.5px,#c4eafc 61.5px,#fff 62.5px,#fff 115.5px,#c3eafc 116.5px,#90cff8 118.5px,#5da6f2 120.5px,#366df4 121.5px,#1020fb 122.5px,#0b14fb 123.5px,#1013f2 124.5px,#3c3cc3 126.5px,#63639c 127.5px,#91916c 128.5px,#c7c733 129.5px,#f6f607 130.5px,#fffa02 131.5px,#ffda1a 135.5px,#ff9d35 139.5px,#ff893a 141.5px,#ff6734 145.5px,#ff4f2a 152.5px,#fe4224 182.5px,#fe3d22 220.5px)"></i><i style="background:linear-gradient(#ff783a .5px,#ffa034 9.5px,#ffe216 20.5px,#fdfb02 31.5px,#f6f607 33.5px,#c7c734 37.5px,#80807f 42.5px,#3839c7 46.5px,#0a0ef8 50.5px,#0a11fa 51.5px,#1224fc 54.5px,#2345f8 55.5px,#549cf1 56.5px,#6ab5f3 57.5px,#99d5f9 59.5px,#c7ecfc 61.5px,#fff 62.5px,#fff 115.5px,#c6ebfc 116.5px,#99d6f9 118.5px,#6cb6f3 120.5px,#569ef1 121.5px,#2449f8 122.5px,#1121fb 123.5px,#090ffa 125.5px,#1316ee 126.5px,#3535ca 128.5px,#4d4db2 129.5px,#6a6a95 130.5px,#92926b 131.5px,#c3c337 132.5px,#efef0e 133.5px,#fffc00 134.5px,#ffe116 138.5px,#ffa333 142.5px,#ff823c 145.5px,#ff592e 155.5px,#ff4d29 185.5px,#fe4827 220.5px)"></i><i style="background:linear-gradient(#ff7b3a .5px,#ff9e34 8.5px,#ffe315 19.5px,#fffc00 28.5px,#f1f10c 31.5px,#b9b942 35.5px,#3939c6 43.5px,#0a0ef8 48.5px,#0a10fa 49.5px,#1325fc 53.5px,#2448f8 54.5px,#5299f1 55.5px,#65b0f3 56.5px,#a2dcfa 59.5px,#cbedfc 61.5px,#fff 62.5px,#fff 116.5px,#c2eafc 117.5px,#90cff7 119.5px,#5da6f2 121.5px,#3a75f3 122.5px,#1120fb 123.5px,#0c15fb 124.5px,#0d11f4 125.5px,#3939c7 127.5px,#858579 129.5px,#bcbc3e 130.5px,#ecec10 131.5px,#fffc00 132.5px,#ffdf17 136.5px,#ffa134 140.5px,#ff823c 143.5px,#ff6734 147.5px,#ff4f2a 154.5px,#fe3f22 220.5px)"></i><i style="background:linear-gradient(#ff853b .5px,#ffa333 7.5px,#ffe315 16.5px,#fefb01 24.5px,#f6f607 26.5px,#ebeb12 27.5px,#bfbf3b 30.5px,#7c7c83 34.5px,#3a3ac5 39.5px,#0b0ff6 45.5px,#090efa 46.5px,#1427fc 52.5px,#3467f4 53.5px,#549cf1 54.5px,#65b0f3 55.5px,#99d6f9 58.5px,#ceeefc 61.5px,#fff 62.5px,#fff 116.5px,#c2eafc 117.5px,#a5defa 118.5px,#6bb5f3 120.5px,#4e96f1 121.5px,#1122fc 122.5px,#0a11fa 123.5px,#1c1fe4 124.5px,#3b3bc4 125.5px,#6f6f90 126.5px,#e6e616 128.5px,#fffc00 129.5px,#ffe513 132.5px,#ff9b35 137.5px,#ff7c3a 140.5px,#ff572e 143.5px,#fe4525 150.5px,#fe3d22 159.5px,#fb321d 220.5px)"></i><i style="background:linear-gradient(#ffa134 .5px,#ffb82a 4.5px,#ffe117 9.5px,#fff902 16.5px,#f7f607 19.5px,#c5c536 23.5px,#787887 28.5px,#4343bc 33.5px,#080cfa 42.5px,#1326fc 50.5px,#2142f9 51.5px,#4a91f0 52.5px,#76bdf5 55.5px,#a3ddfa 58.5px,#d0effd 61.5px,#fff 62.5px,#fff 116.5px,#c3eafc 117.5px,#a3ddfa 118.5px,#64aff3 120.5px,#4387f1 121.5px,#0d18fb 122.5px,#181be9 123.5px,#4141be 124.5px,#c7c733 126.5px,#f9f805 127.5px,#fff704 128.5px,#ffdf18 131.5px,#ffac2f 134.5px,#ff8b3a 137.5px,#ff7439 139.5px,#ff512b 141.5px,#fe4a28 142.5px,#fc371f 158.5px,#fa2d1b 220.5px)"></i><i style="background:linear-gradient(#ff9736 .5px,#ffa432 3.5px,#ffe017 10.5px,#fffa02 17.5px,#f5f508 20.5px,#bebe3c 24.5px,#8d8d71 27.5px,#4141be 34.5px,#090df9 42.5px,#1427fc 50.5px,#264cf8 51.5px,#4d94f1 52.5px,#6ab4f3 54.5px,#a5defa 58.5px,#c3eafc 60.5px,#fff 61.5px,#fff 116.5px,#c4ebfc 117.5px,#a4defa 118.5px,#65aff3 120.5px,#4487f1 121.5px,#0d18fb 122.5px,#1b1ee6 123.5px,#4a4ab5 124.5px,#d2d229 126.5px,#fcfa03 127.5px,#ffdb1a 131.5px,#ff9c35 135.5px,#ff7e3b 138.5px,#ff6031 140.5px,#fe4927 141.5px,#fc371f 157.5px,#fa2c1b 220.5px)"></i><i style="background:linear-gradient(#ff833c .5px,#ffa632 8.5px,#ffe315 16.5px,#fffc00 23.5px,#f7f607 25.5px,#ecec11 26.5px,#bfbf3b 29.5px,#7c7c82 33.5px,#3c3cc3 38.5px,#090dfa 45.5px,#1325fc 51.5px,#1d3afa 52.5px,#4a91f0 53.5px,#6cb6f3 55.5px,#a0dbf9 58.5px,#c3eafc 60.5px,#fff 61.5px,#fff 116.5px,#c6ebfc 117.5px,#a8dffa 118.5px,#6ab5f3 120.5px,#4c93f1 121.5px,#101efb 122.5px,#0a0ef8 123.5px,#2e2fd2 124.5px,#62629d 125.5px,#e1e11b 127.5px,#fffc00 128.5px,#ffe513 131.5px,#ff9a36 136.5px,#ff7b3a 139.5px,#ff4f2a 142.5px,#fd3920 158.5px,#fa2e1c 220.5px)"></i><i style="background:linear-gradient(#ff843b .5px,#ffa333 7.5px,#ffe216 17.5px,#fcfa02 27.5px,#f3f30a 29.5px,#c9c931 32.5px,#3e3ec1 41.5px,#0a0ef8 47.5px,#0a10fa 48.5px,#1428fc 53.5px,#488ff0 54.5px,#71b9f4 56.5px,#c3eafc 60.5px,#fff 61.5px,#fff 116.5px,#c9ecfc 117.5px,#90cff8 119.5px,#58a0f2 121.5px,#1428fc 122.5px,#0d18fb 123.5px,#0e12f4 124.5px,#2b2cd5 125.5px,#5050af 126.5px,#84847a 127.5px,#c1c139 128.5px,#f6f507 129.5px,#fff902 130.5px,#ffe315 133.5px,#ffa333 137.5px,#ff843b 140.5px,#ff592f 144.5px,#fe4827 150.5px,#fe3f22 160.5px,#fc341e 220.5px)"></i><i style="background:linear-gradient(#ff7639 .5px,#ff9e35 9.5px,#ffe216 20.5px,#fefb01 30.5px,#f0f00d 33.5px,#c9c932 36.5px,#80807f 41.5px,#3939c6 45.5px,#0d11f4 49.5px,#090ffa 50.5px,#1326fc 54.5px,#478ef0 55.5px,#78bff5 57.5px,#c3eafc 60.5px,#fff 61.5px,#fff 116.5px,#cbedfc 117.5px,#98d5f8 119.5px,#65b0f3 121.5px,#4c93f1 122.5px,#1224fc 123.5px,#080dfa 125.5px,#3233cd 127.5px,#5151ae 128.5px,#778 129.5px,#e0e01c 131.5px,#fcfa02 132.5px,#ffe216 136.5px,#ffa432 140.5px,#ff853b 143.5px,#ff6734 147.5px,#ff4f2a 154.5px,#fe3e22 220.5px)"></i><i style="background:linear-gradient(#ff6333 .5px,#ff843b 6.5px,#ffa233 13.5px,#ffe315 22.5px,#fffc00 30.5px,#f0f00d 33.5px,#b6b645 37.5px,#74748b 41.5px,#3b3bc4 44.5px,#080dfa 49.5px,#1223fc 53.5px,#1932fb 54.5px,#4f96f1 55.5px,#7ec3f5 57.5px,#c6ebfc 60.5px,#fff 61.5px,#fff 116.5px,#cdeefc 117.5px,#a0dbf9 119.5px,#5da7f2 122.5px,#478ef0 123.5px,#1224fc 124.5px,#0b13fa 126.5px,#0c10f6 127.5px,#3f3fc0 130.5px,#787887 132.5px,#d8d824 134.5px,#f9f805 135.5px,#fff903 136.5px,#ffe513 139.5px,#ff9c35 144.5px,#ff7d3b 147.5px,#ff582e 157.5px,#fe4927 220.5px)"></i><i style="background:linear-gradient(#ff7639 .5px,#ffa333 10.5px,#ffe414 19.5px,#fcfa03 27.5px,#efef0e 29.5px,#c2c239 32.5px,#7d7d81 36.5px,#4242bd 40.5px,#0b0ff7 46.5px,#090ffa 47.5px,#1326fc 52.5px,#2549f8 53.5px,#5199f1 54.5px,#65b0f3 55.5px,#a2dcfa 58.5px,#cbedfc 60.5px,#fff 61.5px,#fff 117.5px,#caedfc 118.5px,#97d4f8 120.5px,#63aef3 122.5px,#4a91f0 123.5px,#1223fc 124.5px,#090df9 126.5px,#3636ca 128.5px,#5757a8 129.5px,#80807e 130.5px,#b8b843 131.5px,#e9e913 132.5px,#fffc00 133.5px,#ffdf17 137.5px,#ffa134 141.5px,#ff823c 144.5px,#ff6533 148.5px,#ff502b 154.5px,#fe4324 184.5px,#fe3e22 220.5px)"></i><i style="background:linear-gradient(#ff9038 .5px,#ffb22d 7.5px,#ffe315 13.5px,#fefc01 20.5px,#f6f607 22.5px,#bfbf3b 26.5px,#7d7d82 30.5px,#4343bc 35.5px,#090cf9 43.5px,#1325fc 50.5px,#1931fb 51.5px,#478df0 52.5px,#79bff5 55.5px,#ace1fa 58.5px,#ceeefc 60.5px,#fff 61.5px,#fff 117.5px,#cbedfc 118.5px,#90cff8 120.5px,#569ff1 122.5px,#1326fc 123.5px,#0c15fb 124.5px,#1619eb 125.5px,#3535cb 126.5px,#669 127.5px,#dddd1f 129.5px,#fefb01 130.5px,#ffdb19 134.5px,#ff9c35 138.5px,#ff7d3b 141.5px,#ff562d 144.5px,#fe4525 151.5px,#fe3d22 160.5px,#fb321d 220.5px)"></i><i style="background:linear-gradient(#ffc624 .5px,#ffe414 4.5px,#fefc01 11.5px,#f7f706 13.5px,#f1f10c 14.5px,#bdbd3d 18.5px,#82827c 22.5px,#4141be 29.5px,#090df9 39.5px,#1326fc 48.5px,#172efb 49.5px,#2f5df6 50.5px,#5098f1 51.5px,#6cb6f3 53.5px,#a5defa 57.5px,#d0effd 60.5px,#fff 61.5px,#fff 117.5px,#cceefc 118.5px,#8dcdf7 120.5px,#6db7f4 121.5px,#4f96f1 122.5px,#101efb 123.5px,#0d11f4 124.5px,#3535cb 125.5px,#b8b843 127.5px,#f4f409 128.5px,#fff902 129.5px,#ffe216 132.5px,#ffaf2e 135.5px,#ff9736 137.5px,#ff7739 140.5px,#fe4a28 143.5px,#fc371f 159.5px,#fa2d1b 220.5px)"></i><i style="background:linear-gradient(#ffad2f .5px,#ffe415 9.5px,#fffc00 16.5px,#f8f705 18.5px,#f3f30a 19.5px,#bebe3c 23.5px,#5d5da2 29.5px,#3939c6 33.5px,#080cfa 42.5px,#1326fc 50.5px,#2345f9 51.5px,#4c93f1 52.5px,#6db7f3 54.5px,#a0daf9 57.5px,#c1e9fc 59.5px,#fff 60.5px,#fff 117.5px,#ceeefc 118.5px,#8ecef7 120.5px,#6eb8f4 121.5px,#4f97f1 122.5px,#101efb 123.5px,#0e12f3 124.5px,#3737c8 125.5px,#bebe3c 127.5px,#f6f607 128.5px,#fff803 129.5px,#ffe117 132.5px,#ffad2f 135.5px,#ff8c39 138.5px,#ff7539 140.5px,#ff532b 142.5px,#fe4927 143.5px,#fc361f 159.5px,#fa2c1b 220.5px)"></i><i style="background:linear-gradient(#ff893a .5px,#ffa333 6.5px,#ffe017 15.5px,#fdfb01 24.5px,#f5f508 26.5px,#e8e814 27.5px,#bdbd3e 30.5px,#6b6b94 35.5px,#4343bc 38.5px,#0b0ff7 45.5px,#090ffa 46.5px,#1428fc 52.5px,#478ef0 53.5px,#6fb8f4 55.5px,#c0e9fc 59.5px,#fff 60.5px,#fff 117.5px,#d0effd 118.5px,#93d1f8 120.5px,#569ef1 122.5px,#1325fc 123.5px,#0a12fa 124.5px,#2123df 125.5px,#4b4bb4 126.5px,#cbcb30 128.5px,#f9f805 129.5px,#fff704 130.5px,#ffdf18 133.5px,#ffac2f 136.5px,#ff8a3a 139.5px,#ff7439 141.5px,#ff542c 143.5px,#ff4e29 144.5px,#fd3a20 159.5px,#fb2f1c 220.5px)"></i><i style="background:linear-gradient(#ff6c36 .5px,#ff813c 4.5px,#ffa333 12.5px,#ffe315 21.5px,#fefc01 29.5px,#f7f607 31.5px,#ecec10 32.5px,#c2c239 35.5px,#3b3bc4 43.5px,#090df9 48.5px,#1326fc 53.5px,#2d59f6 54.5px,#5ba4f2 55.5px,#a6defa 58.5px,#c0e9fc 59.5px,#fff 60.5px,#fff 118.5px,#b5e5fb 119.5px,#61abf2 122.5px,#4182f1 123.5px,#101efb 124.5px,#090efa 125.5px,#3c3cc3 127.5px,#6d6d92 128.5px,#e0e01c 130.5px,#fefb01 131.5px,#ffdc19 135.5px,#ff9d35 139.5px,#ff7e3b 142.5px,#ff5b2f 145.5px,#fe4726 152.5px,#fe4023 161.5px,#fc351e 220.5px)"></i><i style="background:linear-gradient(#ff7a3a .5px,#ffa034 9.5px,#ffe017 19.5px,#fefb01 29.5px,#eeee0e 32.5px,#c7c733 35.5px,#7e7e80 40.5px,#3a3ac5 44.5px,#080dfa 49.5px,#1223fc 53.5px,#1c39fa 54.5px,#539bf1 55.5px,#6eb8f4 56.5px,#a6defa 58.5px,#c1e9fc 59.5px,#fff 60.5px,#fff 118.5px,#bae6fb 119.5px,#6eb7f4 122.5px,#559df1 123.5px,#172dfb 124.5px,#0a11fa 126.5px,#1417ee 127.5px,#4040bf 129.5px,#65659a 130.5px,#c8c832 132.5px,#f6f607 133.5px,#fffa02 134.5px,#ffdb19 138.5px,#ff9e35 142.5px,#ff8a3a 144.5px,#ff6a35 148.5px,#ff502a 155.5px,#fe4425 185.5px,#fe3f23 220.5px)"></i><i style="background:linear-gradient(#ff893a .5px,#ffa233 6.5px,#ffe315 17.5px,#fffa02 25.5px,#f8f705 28.5px,#f4f409 29.5px,#c0c03a 33.5px,#3a3ac6 42.5px,#0d10f5 47.5px,#090ffa 48.5px,#1428fc 53.5px,#4990f0 54.5px,#7ac0f5 56.5px,#c6ebfc 59.5px,#fff 60.5px,#fff 118.5px,#bee8fb 119.5px,#7bc1f5 122.5px,#4f97f1 124.5px,#1428fc 125.5px,#090efa 128.5px,#3636ca 131.5px,#4d4db2 132.5px,#696996 133.5px,#8f8f6e 134.5px,#c1c139 135.5px,#ecec10 136.5px,#fffc00 137.5px,#ffe116 141.5px,#ffa133 145.5px,#ff803b 148.5px,#ff582e 158.5px,#fe4927 220.5px)"></i><i style="background:linear-gradient(#ff8f39 .5px,#ffa532 5.5px,#ffe414 15.5px,#fffc00 23.5px,#f8f706 25.5px,#f3f30a 26.5px,#bebe3c 30.5px,#71718e 35.5px,#3c3cc3 39.5px,#090dfa 46.5px,#1427fc 52.5px,#3f7ff2 53.5px,#5aa3f2 54.5px,#9cd8f9 57.5px,#c9ecfc 59.5px,#fff 60.5px,#fff 119.5px,#b8e6fb 120.5px,#6ab5f3 123.5px,#5198f1 124.5px,#1326fc 125.5px,#090efa 127.5px,#3233cd 129.5px,#5353ac 130.5px,#7b7b84 131.5px,#b3b348 132.5px,#e6e617 133.5px,#fefb01 134.5px,#ffe017 138.5px,#ffa134 142.5px,#ff833c 145.5px,#ff6433 149.5px,#ff502a 155.5px,#fe4224 185.5px,#fe3d22 220.5px)"></i><i style="background:linear-gradient(#ffb22d .5px,#ffe315 8.5px,#fffb01 16.5px,#f6f607 19.5px,#bcbc3e 24.5px,#676798 30.5px,#3e3ec1 34.5px,#080dfa 43.5px,#1428fc 51.5px,#3a74f3 52.5px,#57a0f1 53.5px,#6ab5f3 54.5px,#a4defa 57.5px,#cbedfc 59.5px,#fff 60.5px,#fff 119.5px,#b6e5fb 120.5px,#99d5f9 121.5px,#5ea8f2 123.5px,#2a54f7 124.5px,#0e1afb 125.5px,#0f12f3 126.5px,#2e2fd1 127.5px,#5b5ba4 128.5px,#d4d427 130.5px,#fbf903 131.5px,#ffde18 135.5px,#ff9e35 139.5px,#ff7f3b 142.5px,#ff582e 145.5px,#fe4525 152.5px,#fe3c21 162.5px,#fb311d 220.5px)"></i><i style="background:linear-gradient(#ffae2e .5px,#ffe315 8.5px,#fffb01 16.5px,#f5f508 19.5px,#c1c139 23.5px,#797986 28.5px,#3b3bc4 34.5px,#0a0ef7 42.5px,#090efa 43.5px,#1428fc 51.5px,#2b56f6 52.5px,#549cf1 53.5px,#68b3f3 54.5px,#a4defa 57.5px,#cdeefc 59.5px,#fff 60.5px,#fff 119.5px,#b6e5fb 120.5px,#77bef5 122.5px,#58a0f2 123.5px,#1325fc 124.5px,#090ffa 125.5px,#2a2bd6 126.5px,#62629d 127.5px,#a6a656 128.5px,#e5e518 129.5px,#fffb01 130.5px,#ffe414 133.5px,#ff9936 138.5px,#ff7a3a 141.5px,#fe4a28 144.5px,#fc371f 160.5px,#fa2c1b 220.5px)"></i><i style="background:linear-gradient(#ffae2e .5px,#ffe315 8.5px,#fffc00 16.5px,#f8f706 18.5px,#f1f10c 19.5px,#c7c733 22.5px,#8a8a74 26.5px,#44b 33.5px,#080cf9 42.5px,#1427fc 51.5px,#274df8 52.5px,#5199f1 53.5px,#66b0f3 54.5px,#a4defa 57.5px,#ceeffc 59.5px,#fff 60.5px,#fff 119.5px,#b8e6fb 120.5px,#78bff5 122.5px,#59a2f2 123.5px,#1325fc 124.5px,#0a10fa 125.5px,#2a2bd6 126.5px,#63639c 127.5px,#a8a854 128.5px,#e6e616 129.5px,#fffb01 130.5px,#ffe414 133.5px,#ffb22d 136.5px,#ff9936 138.5px,#ff7a3a 141.5px,#fe4927 144.5px,#fc371f 160.5px,#fa2c1b 220.5px)"></i><i style="background:linear-gradient(#ffd01f .5px,#ffe216 3.5px,#fffb01 12.5px,#f6f607 15.5px,#c6c634 19.5px,#72728d 25.5px,#3c3cc3 31.5px,#090df9 41.5px,#090efa 42.5px,#1427fc 51.5px,#2346f8 52.5px,#4e95f1 53.5px,#63adf2 54.5px,#a4defa 57.5px,#d0effd 59.5px,#fff 60.5px,#fff 119.5px,#bbe7fb 120.5px,#9cd8f9 121.5px,#60a9f2 123.5px,#2c58f6 124.5px,#0d18fb 125.5px,#1518ec 126.5px,#3838c7 127.5px,#72728d 128.5px,#b3b348 129.5px,#eeee0e 130.5px,#fffa02 131.5px,#ffe415 134.5px,#ffb22d 137.5px,#ff9836 139.5px,#ff793a 142.5px,#ff4f2a 145.5px,#fd3a20 161.5px,#fb2f1c 220.5px)"></i><i style="background:linear-gradient(#ffe216 .5px,#fffc00 10.5px,#f5f508 13.5px,#c3c337 17.5px,#6d6d92 23.5px,#3d3dc2 29.5px,#090dfa 41.5px,#1427fc 51.5px,#2040f9 52.5px,#4a91f0 53.5px,#77bef5 55.5px,#bbe7fb 58.5px,#fff 59.5px,#fff 119.5px,#bee8fc 120.5px,#a2dcfa 121.5px,#6ab5f3 123.5px,#4e96f1 124.5px,#1223fc 125.5px,#0b14fb 126.5px,#1518ec 127.5px,#3131cf 128.5px,#5858a7 129.5px,#c8c832 131.5px,#f7f706 132.5px,#fff903 133.5px,#ffe315 136.5px,#ffa233 140.5px,#ff833c 143.5px,#ff5b2f 147.5px,#fe4927 153.5px,#fe4023 163.5px,#fc351e 220.5px)"></i><i style="background:linear-gradient(#ffe612 .5px,#fffc00 9.5px,#f2f20b 12.5px,#bfbf3b 16.5px,#767689 21.5px,#3a3ac5 29.5px,#080cfa 40.5px,#1327fc 51.5px,#1d3bfa 52.5px,#478df0 53.5px,#75bcf4 55.5px,#a5defa 57.5px,#bce7fb 58.5px,#fff 59.5px,#fff 119.5px,#c2e9fc 120.5px,#8fcff7 122.5px,#5da7f2 124.5px,#3f7df2 125.5px,#1121fc 126.5px,#0b0ff7 128.5px,#3535cb 130.5px,#5454ab 131.5px,#797986 132.5px,#afaf4c 133.5px,#e0e01c 134.5px,#fcfa02 135.5px,#ffe315 139.5px,#ffa532 143.5px,#ff853b 146.5px,#ff6935 150.5px,#ff502a 157.5px,#fe4023 220.5px)"></i><i style="background:linear-gradient(#ffeb0e .5px,#fffc00 7.5px,#f5f508 10.5px,#c2c238 14.5px,#7a7a85 19.5px,#3a3ac6 28.5px,#090dfa 40.5px,#1327fc 51.5px,#1b36fa 52.5px,#3162f5 53.5px,#5ba4f2 54.5px,#a5defa 57.5px,#bde8fb 58.5px,#fff 59.5px,#fff 120.5px,#c1e9fc 121.5px,#7ec3f5 124.5px,#529af1 126.5px,#1b36fa 127.5px,#1120fb 128.5px,#090ffa 130.5px,#1317ee 131.5px,#4a4ab5 134.5px,#669 135.5px,#8b8b73 136.5px,#bdbd3d 137.5px,#e8e814 138.5px,#fdfb01 139.5px,#ffe216 143.5px,#ffa333 147.5px,#ff813c 150.5px,#ff592e 160.5px,#fe4927 220.5px)"></i><i style="background:linear-gradient(#fff109 .5px,#fffc00 5.5px,#f3f30a 8.5px,#c1c139 12.5px,#7a7a85 17.5px,#3c3cc3 26.5px,#080dfa 39.5px,#1326fc 51.5px,#1933fb 52.5px,#2b55f7 53.5px,#58a0f2 54.5px,#71baf4 55.5px,#a5defa 57.5px,#bfe8fc 58.5px,#fff 59.5px,#fff 120.5px,#c0e9fc 121.5px,#8bccf7 123.5px,#57a0f1 125.5px,#1c38fa 126.5px,#0f1dfb 127.5px,#0a10fa 128.5px,#181be9 129.5px,#4e4eb1 131.5px,#767689 132.5px,#aeae4d 133.5px,#e2e21a 134.5px,#fdfb01 135.5px,#ffe117 139.5px,#ffa133 143.5px,#ff833c 146.5px,#ff6332 150.5px,#ff4f2a 156.5px,#fe4123 186.5px,#fe3c21 220.5px)"></i><i style="background:linear-gradient(#fff209 .5px,#fefb01 5.5px,#f7f606 7.5px,#f0f00c 8.5px,#bfbf3b 12.5px,#7b7b84 17.5px,#3c3cc3 26.5px,#080cfa 39.5px,#1326fc 51.5px,#172efb 52.5px,#2850f7 53.5px,#559df1 54.5px,#6fb8f4 55.5px,#a5defa 57.5px,#c0e9fc 58.5px,#fff 59.5px,#fff 120.5px,#bfe9fc 121.5px,#a2dcfa 122.5px,#66b1f3 124.5px,#4990f0 125.5px,#101efb 126.5px,#080dfa 127.5px,#2729d9 128.5px,#5151ae 129.5px,#caca31 131.5px,#f9f805 132.5px,#fff804 133.5px,#ffe017 136.5px,#ff9f34 140.5px,#ff813c 143.5px,#ff592f 146.5px,#fe4525 153.5px,#fd3c21 163.5px,#fb311d 220.5px)"></i><i style="background:linear-gradient(#fff00a .5px,#fffb01 5.5px,#f6f607 8.5px,#bebe3c 13.5px,#6f6f90 19.5px,#3939c6 27.5px,#090efa 40.5px,#1428fc 52.5px,#254af8 53.5px,#5199f1 54.5px,#6db7f3 55.5px,#a5defa 57.5px,#c2e9fc 58.5px,#fff 59.5px,#fff 120.5px,#c0e9fc 121.5px,#a0dbf9 122.5px,#61abf2 124.5px,#2c58f6 125.5px,#0c15fb 126.5px,#1f21e2 127.5px,#4f4fb0 128.5px,#d5d526 130.5px,#fdfa02 131.5px,#ffe612 134.5px,#ff9c35 139.5px,#ff7e3b 142.5px,#ff6031 144.5px,#fe4a28 145.5px,#fc371f 161.5px,#fa2c1b 220.5px)"></i><i style="background:linear-gradient(#ffef0b .5px,#fefc01 6.5px,#f5f508 9.5px,#c4c436 13.5px,#71718e 19.5px,#696996 20.5px,#3a3ac5 27.5px,#080dfa 40.5px,#1428fc 52.5px,#254af8 53.5px,#5299f1 54.5px,#6db7f4 55.5px,#a6dffa 57.5px,#c3eafc 58.5px,#fff 59.5px,#fff 120.5px,#c2e9fc 121.5px,#a2dcfa 122.5px,#63adf2 124.5px,#376df4 125.5px,#0c16fb 126.5px,#1d1fe4 127.5px,#4c4cb3 128.5px,#d2d229 130.5px,#fcfa03 131.5px,#ffdb19 135.5px,#ff9c35 139.5px,#ff7e3b 142.5px,#ff6132 144.5px,#fe4a28 145.5px,#fc371f 161.5px,#fa2c1b 220.5px)"></i><i style="background:linear-gradient(#ffea10 .5px,#fffa01 7.5px,#f7f607 10.5px,#bdbd3d 15.5px,#797986 20.5px,#3c3cc3 28.5px,#080cfa 40.5px,#152afc 52.5px,#284ff7 53.5px,#559df1 54.5px,#8cccf7 56.5px,#c3eafc 58.5px,#fff 59.5px,#fff 120.5px,#c4eafc 121.5px,#a6defa 122.5px,#69b4f3 124.5px,#4c92f0 125.5px,#101efb 126.5px,#090cf9 127.5px,#2b2cd5 128.5px,#5b5ba4 129.5px,#d8d824 131.5px,#fdfa02 132.5px,#ffdb19 136.5px,#ff9c35 140.5px,#ff7d3b 143.5px,#ff512b 146.5px,#fd3a20 162.5px,#fb2f1c 220.5px)"></i><i style="background:linear-gradient(#ffe613 .5px,#fffa01 8.5px,#f6f607 11.5px,#baba41 16.5px,#7f7f80 20.5px,#3a3bc5 29.5px,#080cfa 40.5px,#1326fc 51.5px,#182ffb 52.5px,#2b55f7 53.5px,#59a2f2 54.5px,#8ecef7 56.5px,#c4eafc 58.5px,#fff 59.5px,#fff 120.5px,#c7ecfc 121.5px,#8fcff7 123.5px,#58a0f2 125.5px,#1429fc 126.5px,#0a0ef8 128.5px,#44b 130.5px,#73738c 131.5px,#afaf4c 132.5px,#e6e616 133.5px,#fffc00 134.5px,#ffdb19 138.5px,#ffaa30 141.5px,#ff883a 144.5px,#ff5c30 148.5px,#fe4827 155.5px,#fe4123 164.5px,#fc361f 220.5px)"></i><i style="background:linear-gradient(#ffe513 .5px,#fffa01 8.5px,#f7f607 11.5px,#baba41 16.5px,#73738c 21.5px,#3e3ec1 28.5px,#080cfa 40.5px,#1326fc 51.5px,#1b35fa 52.5px,#356bf4 53.5px,#5da6f2 54.5px,#90cff8 56.5px,#c4eafc 58.5px,#fff 59.5px,#fff 120.5px,#c9edfc 121.5px,#97d4f8 123.5px,#66b0f3 125.5px,#4d94f1 126.5px,#1325fc 127.5px,#090ffa 129.5px,#171aea 130.5px,#4343bc 132.5px,#676798 133.5px,#c9c932 135.5px,#f6f607 136.5px,#fffa02 137.5px,#ffdc19 141.5px,#ff9f34 145.5px,#ff8b3a 147.5px,#ff6d37 151.5px,#ff522b 158.5px,#fe4525 188.5px,#fe4123 220.5px)"></i><i style="background:linear-gradient(#ffe315 .5px,#fffc00 9.5px,#f2f20a 12.5px,#bebe3c 16.5px,#75758a 21.5px,#3f3fc0 28.5px,#080cfa 40.5px,#1326fc 51.5px,#1a34fb 52.5px,#3060f5 53.5px,#5ba4f2 54.5px,#a5defa 57.5px,#bee8fb 58.5px,#fff 59.5px,#fff 121.5px,#c9edfc 122.5px,#9cd8f9 124.5px,#6fb8f4 126.5px,#59a2f2 127.5px,#1223fc 129.5px,#0a11fa 131.5px,#1013f1 132.5px,#4747b8 135.5px,#868678 137.5px,#b8b842 138.5px,#e5e517 139.5px,#fcfa02 140.5px,#ffe315 144.5px,#ffa632 148.5px,#ff7c3b 152.5px,#ff572e 162.5px,#fe4927 220.5px)"></i><i style="background:linear-gradient(#ffe315 .5px,#fffc00 9.5px,#f5f508 12.5px,#c1c139 16.5px,#767689 21.5px,#6e6e91 22.5px,#3a3ac5 29.5px,#090efa 41.5px,#152afc 52.5px,#2951f7 53.5px,#549cf1 54.5px,#6bb5f3 55.5px,#9ad6f9 57.5px,#c9edfc 59.5px,#fff 60.5px,#fff 121.5px,#caedfc 122.5px,#95d3f8 124.5px,#60aaf2 126.5px,#468cf0 127.5px,#1120fb 128.5px,#0b14fb 129.5px,#1215f0 130.5px,#4545ba 132.5px,#6f6f90 133.5px,#dada22 135.5px,#fbf903 136.5px,#ffe216 140.5px,#ffa333 144.5px,#ff843c 147.5px,#ff6232 151.5px,#ff4c28 158.5px,#fd3b21 220.5px)"></i><i style="background:linear-gradient(#ffe316 .5px,#fffb01 9.5px,#f5f508 12.5px,#c2c238 16.5px,#6d6d92 22.5px,#3a3ac5 29.5px,#090dfa 41.5px,#1428fc 52.5px,#2448f8 53.5px,#4e95f1 54.5px,#7ac0f5 56.5px,#bde8fb 59.5px,#fff 60.5px,#fff 121.5px,#cbedfc 122.5px,#8fcff7 124.5px,#549cf1 126.5px,#1224fc 127.5px,#0b12fa 128.5px,#1d20e3 129.5px,#4040bf 130.5px,#7a7a85 131.5px,#bbbb40 132.5px,#f4f409 133.5px,#fffa02 134.5px,#ffe315 137.5px,#ffb12d 140.5px,#ff9836 142.5px,#ff843c 144.5px,#ff522b 148.5px,#fe4324 155.5px,#fd3b21 164.5px,#fb311d 220.5px)"></i><i style="background:linear-gradient(#ffdd19 .5px,#fffb01 10.5px,#f4f409 13.5px,#bfbf3b 17.5px,#83837c 21.5px,#797986 22.5px,#3a3bc5 30.5px,#080cfa 41.5px,#1427fc 52.5px,#203ff9 53.5px,#498ff0 54.5px,#72bbf4 56.5px,#9dd9f9 58.5px,#c8ecfc 60.5px,#fff 61.5px,#fff 121.5px,#cceefc 122.5px,#8dcdf7 124.5px,#6db7f3 125.5px,#4e95f1 126.5px,#101efb 127.5px,#1013f2 128.5px,#3839c7 129.5px,#c0c03b 131.5px,#f7f607 132.5px,#fff803 133.5px,#ffe117 136.5px,#ffad2f 139.5px,#ff8c39 142.5px,#ff7539 144.5px,#ff532c 146.5px,#fe4927 147.5px,#fc371f 163.5px,#fa2c1b 220.5px)"></i><i style="background:linear-gradient(#ffdb19 .5px,#fffa01 10.5px,#f6f507 13.5px,#c3c337 17.5px,#7b7b83 22.5px,#3c3cc3 30.5px,#090df9 41.5px,#1327fc 52.5px,#1b37fa 53.5px,#3870f3 54.5px,#58a0f2 55.5px,#6cb6f3 56.5px,#bde8fb 60.5px,#fff 61.5px,#fff 121.5px,#cfeffc 122.5px,#8fcff7 124.5px,#6fb8f4 125.5px,#5098f1 126.5px,#101ffb 127.5px,#0c10f6 128.5px,#3435cc 129.5px,#b8b843 131.5px,#f4f409 132.5px,#fff902 133.5px,#ffe216 136.5px,#ffaf2e 139.5px,#ff9637 141.5px,#ff833c 143.5px,#fe4a27 147.5px,#fc371f 163.5px,#fa2d1b 220.5px)"></i><i style="background:linear-gradient(#ffe216 .5px,#fffa01 9.5px,#f7f607 12.5px,#b9b941 17.5px,#70708f 22.5px,#3c3cc3 29.5px,#080cfa 41.5px,#1326fc 52.5px,#172efb 53.5px,#2a55f7 54.5px,#539af1 55.5px,#65b0f3 56.5px,#a0daf9 59.5px,#c7ecfc 61.5px,#fff 62.5px,#fff 121.5px,#d1effd 122.5px,#94d2f8 124.5px,#58a1f2 126.5px,#1327fc 127.5px,#0b14fb 128.5px,#1b1ee6 129.5px,#3e3ec1 130.5px,#797986 131.5px,#bbbb3f 132.5px,#f4f408 133.5px,#fff902 134.5px,#ffe315 137.5px,#ffb02d 140.5px,#ff9736 142.5px,#ff833c 144.5px,#ff502a 148.5px,#fd3a20 164.5px,#fb301c 220.5px)"></i><i style="background:linear-gradient(#ffd81b .5px,#ffe315 2.5px,#fffb01 11.5px,#f6f507 14.5px,#c2c238 18.5px,#6c6c93 24.5px,#3e3ec1 30.5px,#080cfa 42.5px,#1427fc 53.5px,#1f3ff9 54.5px,#488ef0 55.5px,#5ba4f2 56.5px,#6eb8f4 57.5px,#a9dffa 60.5px,#d0effd 62.5px,#fff 63.5px,#fff 122.5px,#b7e5fb 123.5px,#7fc4f6 125.5px,#64aef3 126.5px,#498ff0 127.5px,#1120fb 128.5px,#0b12fa 129.5px,#181be9 130.5px,#3333cd 131.5px,#5a5aa5 132.5px,#8d8d70 133.5px,#c8c833 134.5px,#f7f606 135.5px,#fff903 136.5px,#ffe315 139.5px,#ffa433 143.5px,#ff843b 146.5px,#ff5c30 150.5px,#fe4b28 156.5px,#fe4124 166.5px,#fc371f 220.5px)"></i><i style="background:linear-gradient(#ffcc21 .5px,#ffe315 4.5px,#fffb01 13.5px,#f6f508 16.5px,#c1c139 20.5px,#767689 25.5px,#3d3dc2 32.5px,#080cfa 43.5px,#1428fc 54.5px,#2851f7 55.5px,#5198f1 56.5px,#77bef5 58.5px,#9ed9f9 60.5px,#c5ebfc 62.5px,#fff 63.5px,#fff 122.5px,#bbe7fb 123.5px,#71baf4 126.5px,#59a1f2 127.5px,#2850f7 128.5px,#1020fb 129.5px,#0c15fb 130.5px,#0c10f6 131.5px,#3535cb 133.5px,#75758a 135.5px,#dada21 137.5px,#faf904 138.5px,#ffe414 142.5px,#ffa931 146.5px,#ff873b 149.5px,#ff6c36 153.5px,#ff522b 160.5px,#fe4224 220.5px)"></i><i style="background:linear-gradient(#ffc524 .5px,#ffe316 5.5px,#fffa02 14.5px,#f7f606 17.5px,#c6c634 21.5px,#7a7a85 26.5px,#71718e 27.5px,#3e3ec1 33.5px,#080cfa 44.5px,#1327fc 54.5px,#1d3afa 55.5px,#478df0 56.5px,#6db7f3 58.5px,#a7dffa 61.5px,#ceeefc 63.5px,#fff 64.5px,#fff 123.5px,#bee8fb 124.5px,#79bff5 127.5px,#4c93f1 129.5px,#1326fc 130.5px,#0b0ef7 133.5px,#3f3fc0 136.5px,#7c7c83 138.5px,#dcdc20 140.5px,#faf904 141.5px,#fff803 142.5px,#ffe514 145.5px,#ff9c35 150.5px,#ff7d3b 153.5px,#ff572e 163.5px,#fe4927 220.5px)"></i><i style="background:linear-gradient(#ffbf28 .5px,#ffe216 6.5px,#fffc00 16.5px,#f8f705 18.5px,#f3f30a 19.5px,#bdbd3d 23.5px,#80807f 27.5px,#4141be 34.5px,#080dfa 45.5px,#1428fc 55.5px,#274ef7 56.5px,#5097f1 57.5px,#76bdf4 59.5px,#9cd8f9 61.5px,#c3eafc 63.5px,#fff 64.5px,#fff 123.5px,#bce7fb 124.5px,#a1dbfa 125.5px,#6cb6f3 127.5px,#5299f1 128.5px,#1326fc 129.5px,#090df9 131.5px,#3a3ac6 133.5px,#62629d 134.5px,#cccc2f 136.5px,#f8f706 137.5px,#fff903 138.5px,#ffe414 141.5px,#ffa632 145.5px,#ff863b 148.5px,#ff6132 152.5px,#ff4b28 159.5px,#fd3a21 220.5px)"></i><i style="background:linear-gradient(#ffbc29 .5px,#ffe315 7.5px,#fffa01 16.5px,#f6f607 19.5px,#c1c139 23.5px,#787887 28.5px,#3b3bc4 35.5px,#080cfa 45.5px,#1427fc 55.5px,#2347f8 56.5px,#4b92f0 57.5px,#6db7f3 59.5px,#a1dbfa 62.5px,#c4eafc 64.5px,#fff 65.5px,#fff 123.5px,#bbe7fb 124.5px,#9dd9f9 125.5px,#61abf2 127.5px,#3972f3 128.5px,#0e1afb 129.5px,#1013f2 130.5px,#3132ce 131.5px,#64649b 132.5px,#dfdf1d 134.5px,#fffc00 135.5px,#ffe613 138.5px,#ff9b35 143.5px,#ff7c3b 146.5px,#ff522b 149.5px,#fd3b21 165.5px,#fb301c 220.5px)"></i><i style="background:linear-gradient(#ffc226 .5px,#ffe415 6.5px,#fffb01 15.5px,#f6f607 18.5px,#c2c238 22.5px,#74748b 27.5px,#696996 28.5px,#3a3ac5 34.5px,#090dfa 45.5px,#1427fc 55.5px,#2143f9 56.5px,#498ff0 57.5px,#74bcf4 60.5px,#a0dbf9 63.5px,#cdeefc 66.5px,#fff 67.5px,#fff 123.5px,#bce7fb 124.5px,#9cd8f9 125.5px,#5da6f2 127.5px,#1429fc 128.5px,#0b12fa 129.5px,#2527db 130.5px,#5b5ba4 131.5px,#e0e01c 133.5px,#fffc00 134.5px,#ffe514 137.5px,#ff9a36 142.5px,#ff7b3a 145.5px,#fe4927 148.5px,#fc371f 164.5px,#fa2c1b 220.5px)"></i><i style="background:linear-gradient(#ffc425 .5px,#ffe216 5.5px,#fffc00 15.5px,#f8f705 17.5px,#f3f30a 18.5px,#bbbb3f 22.5px,#6e6e91 27.5px,#3d3dc2 33.5px,#090efa 45.5px,#1427fc 55.5px,#2141f9 56.5px,#478df0 57.5px,#6db7f3 60.5px,#a0daf9 64.5px,#c6ebfc 67.5px,#fff 68.5px,#fff 123.5px,#bee8fc 124.5px,#9fdaf9 125.5px,#60a9f2 127.5px,#254bf8 128.5px,#0c15fb 129.5px,#2022e1 130.5px,#5050af 131.5px,#d5d526 133.5px,#fcfa02 134.5px,#ffe612 137.5px,#ff9c35 142.5px,#ff7e3b 145.5px,#ff6031 147.5px,#fe4b28 148.5px,#fc371f 164.5px,#fa2d1b 220.5px)"></i><i style="background:linear-gradient(#ffc425 .5px,#ffe216 5.5px,#fefc00 15.5px,#f7f606 17.5px,#c6c635 21.5px,#7b7b83 26.5px,#3b3bc4 34.5px,#080dfa 45.5px,#1427fc 55.5px,#2142f9 56.5px,#468df0 57.5px,#73bbf4 61.5px,#a0daf9 65.5px,#cdeefc 69.5px,#fff 70.5px,#fff 123.5px,#c1e9fc 124.5px,#a3ddfa 125.5px,#67b2f3 127.5px,#4a90f0 128.5px,#101efb 129.5px,#090df9 130.5px,#2b2cd5 131.5px,#5858a7 132.5px,#d4d428 134.5px,#fbf903 135.5px,#ffdd19 139.5px,#ffaa30 142.5px,#ff893a 145.5px,#ff7338 147.5px,#ff532c 149.5px,#ff502a 150.5px,#fd3b21 165.5px,#fb301c 220.5px)"></i><i style="background:linear-gradient(#ffb82a .5px,#ffe216 7.5px,#fefb01 17.5px,#f7f607 19.5px,#c3c337 23.5px,#787886 28.5px,#3d3dc2 35.5px,#090dfa 46.5px,#1428fc 56.5px,#2952f7 57.5px,#4a91f0 58.5px,#69b4f3 61.5px,#a8dffa 67.5px,#c8ecfc 70.5px,#fff 71.5px,#fff 123.5px,#c4ebfc 124.5px,#8dcdf7 126.5px,#579ff1 128.5px,#1428fc 129.5px,#090df9 131.5px,#3e3ec1 133.5px,#6c6c93 134.5px,#dbdb20 136.5px,#fcfa02 137.5px,#ffdf17 141.5px,#ff9f34 145.5px,#ff813c 148.5px,#ff6132 151.5px,#fe4a28 158.5px,#fe4224 168.5px,#fd381f 220.5px)"></i><i style="background:linear-gradient(#ffb42c .5px,#ffe414 9.5px,#fffb01 18.5px,#f5f508 21.5px,#bdbd3d 25.5px,#7c7c82 29.5px,#72728d 30.5px,#3d3dc2 36.5px,#090efa 47.5px,#1326fc 56.5px,#1c37fa 57.5px,#3a73f3 58.5px,#4e95f1 59.5px,#6ab5f3 62.5px,#9cd7f9 67.5px,#cdeefc 72.5px,#fff 73.5px,#fff 123.5px,#c7ecfc 124.5px,#96d4f8 126.5px,#65b0f3 128.5px,#4e95f1 129.5px,#1326fc 130.5px,#0a10fa 132.5px,#1417ed 133.5px,#3c3cc3 135.5px,#858579 137.5px,#baba40 138.5px,#e9e914 139.5px,#fefc01 140.5px,#ffe216 144.5px,#ffa432 148.5px,#ff853b 151.5px,#ff6c36 155.5px,#ff522b 162.5px,#fe4324 220.5px)"></i><i style="background:linear-gradient(#ffb02e .5px,#ffe315 10.5px,#fffc00 20.5px,#f7f706 22.5px,#f0f00d 23.5px,#c5c535 26.5px,#778 31.5px,#4040bf 37.5px,#0a0ef8 47.5px,#090efa 48.5px,#1427fc 57.5px,#2449f8 58.5px,#488ef0 59.5px,#6cb6f3 63.5px,#a5defa 69.5px,#caedfc 73.5px,#fff 74.5px,#fff 124.5px,#c9ecfc 125.5px,#9ad7f9 127.5px,#6cb6f3 129.5px,#569ef1 130.5px,#2346f8 131.5px,#1120fb 132.5px,#090efa 134.5px,#393ac6 137.5px,#74748b 139.5px,#d3d328 141.5px,#f8f706 142.5px,#fff902 143.5px,#ffdc19 147.5px,#ff9f34 151.5px,#ff7f3b 154.5px,#ff572e 164.5px,#fe4827 220.5px)"></i><i style="background:linear-gradient(#ffb12d .5px,#ffe316 10.5px,#fffb01 20.5px,#f7f607 23.5px,#c4c437 27.5px,#696996 33.5px,#3c3cc3 38.5px,#080cfa 48.5px,#1326fc 57.5px,#1831fb 58.5px,#4c92f0 60.5px,#6fb8f4 64.5px,#a6defa 70.5px,#caedfc 74.5px,#fff 75.5px,#fff 124.5px,#c9ecfc 125.5px,#93d1f8 127.5px,#5da6f2 129.5px,#101efb 131.5px,#0a11fa 132.5px,#181be9 133.5px,#3132ce 134.5px,#55a 135.5px,#83837c 136.5px,#bdbd3d 137.5px,#f0f00c 138.5px,#fffb01 139.5px,#ffe613 142.5px,#ffa930 146.5px,#ff883a 149.5px,#ff6132 153.5px,#fe4b28 160.5px,#fd3a20 220.5px)"></i><i style="background:linear-gradient(#ffad2f .5px,#ffe315 11.5px,#fffb01 21.5px,#f5f508 24.5px,#bdbd3d 28.5px,#6f6f90 33.5px,#3a3ac6 39.5px,#0a0ef8 48.5px,#090efa 49.5px,#1428fc 58.5px,#274ff7 59.5px,#488ff0 60.5px,#6ab5f3 64.5px,#a7dffa 71.5px,#caedfc 75.5px,#fff 76.5px,#fff 124.5px,#caedfc 125.5px,#8dcdf7 127.5px,#6fb8f4 128.5px,#5199f1 129.5px,#1222fc 130.5px,#0a10fa 131.5px,#2325dd 132.5px,#4d4db2 133.5px,#caca31 135.5px,#f9f805 136.5px,#fff704 137.5px,#ffe017 140.5px,#ffad2f 143.5px,#ff8b3a 146.5px,#ff7539 148.5px,#ff572d 150.5px,#ff502a 151.5px,#fd3b21 166.5px,#fb301c 220.5px)"></i><i style="background:linear-gradient(#ffa432 .5px,#ffb32d 4.5px,#ffe216 12.5px,#fffb01 22.5px,#f8f705 24.5px,#f2f20b 25.5px,#c7c734 28.5px,#868678 32.5px,#44b 39.5px,#0a0df8 49.5px,#090efa 50.5px,#1326fc 58.5px,#1b36fa 59.5px,#3d79f2 60.5px,#4d94f1 61.5px,#6eb7f4 65.5px,#a0daf9 71.5px,#caedfc 76.5px,#fff 77.5px,#fff 124.5px,#ccedfc 125.5px,#ace1fa 126.5px,#6cb6f3 128.5px,#4d94f1 129.5px,#0f1dfb 130.5px,#1215ef 131.5px,#3b3bc4 132.5px,#c5c536 134.5px,#f8f705 135.5px,#fff804 136.5px,#ffdf18 139.5px,#ffac2f 142.5px,#ff8a3a 145.5px,#ff7438 147.5px,#ff4f2a 149.5px,#fe4827 150.5px,#fc371f 165.5px,#fa2c1b 220.5px)"></i><i style="background:linear-gradient(#ffa831 .5px,#ffb62b 4.5px,#ffe315 12.5px,#fffa02 21.5px,#f6f607 24.5px,#bfbf3b 28.5px,#7c7c82 32.5px,#3e3ec1 39.5px,#080cfa 49.5px,#1529fc 59.5px,#2b57f6 60.5px,#4a90f0 61.5px,#69b4f3 65.5px,#a2dcfa 72.5px,#caedfc 77.5px,#fff 78.5px,#fff 124.5px,#ceeefc 125.5px,#8ecef7 127.5px,#6fb8f4 128.5px,#5097f1 129.5px,#101ffb 130.5px,#0b0ff6 131.5px,#3334cd 132.5px,#71718e 133.5px,#b5b546 134.5px,#f1f10c 135.5px,#fffa02 136.5px,#ffe315 139.5px,#ffb02e 142.5px,#ff9736 144.5px,#ff7839 147.5px,#fe4a28 150.5px,#fc371f 166.5px,#fa2d1b 220.5px)"></i><i style="background:linear-gradient(#ffb02d .5px,#ffe216 10.5px,#fffb01 20.5px,#f5f508 23.5px,#bdbd3d 27.5px,#6d6d92 32.5px,#3b3bc4 38.5px,#090efa 49.5px,#1428fc 59.5px,#2850f7 60.5px,#478ef0 61.5px,#6db7f3 66.5px,#a3ddfa 73.5px,#caedfc 78.5px,#fff 79.5px,#fff 124.5px,#d0effd 125.5px,#94d2f8 127.5px,#58a1f2 129.5px,#1427fc 130.5px,#0c15fb 131.5px,#181be9 132.5px,#393ac6 133.5px,#ecec11 136.5px,#fffb01 137.5px,#ffe414 140.5px,#ff9936 145.5px,#ff7a3a 148.5px,#ff522b 151.5px,#fe4324 158.5px,#fd3b21 167.5px,#fb311d 220.5px)"></i><i style="background:linear-gradient(#ffa831 .5px,#ffb92a 5.5px,#ffe216 12.5px,#fffb01 22.5px,#f5f508 25.5px,#baba40 29.5px,#778 33.5px,#6d6d92 34.5px,#3a3ac6 40.5px,#080dfa 50.5px,#152afc 60.5px,#2b56f6 61.5px,#498ff0 62.5px,#6eb7f4 67.5px,#a3ddfa 74.5px,#caedfc 79.5px,#fff 80.5px,#fff 125.5px,#b6e5fb 126.5px,#64aff3 129.5px,#4a90f0 130.5px,#1121fc 131.5px,#0b13fb 132.5px,#1417ed 133.5px,#2e2fd2 134.5px,#5050af 135.5px,#7e7e80 136.5px,#baba41 137.5px,#eeee0f 138.5px,#fffb01 139.5px,#ffe613 142.5px,#ffa930 146.5px,#ff883a 149.5px,#ff5f31 153.5px,#fe4a27 160.5px,#fd3820 220.5px)"></i><i style="background:linear-gradient(#ffa233 .5px,#ffbb29 7.5px,#ffe315 14.5px,#fffc00 24.5px,#f8f706 26.5px,#f0f00c 27.5px,#c3c337 30.5px,#71718e 35.5px,#3b3bc4 41.5px,#080cfa 51.5px,#1326fc 60.5px,#1933fb 61.5px,#4a91f0 63.5px,#6fb8f4 68.5px,#a4defa 75.5px,#caedfc 80.5px,#fff 81.5px,#fff 125.5px,#bbe7fb 126.5px,#a3dcfa 127.5px,#5aa3f2 130.5px,#2f5ef6 131.5px,#1121fb 132.5px,#080cfa 134.5px,#4848b7 137.5px,#6a6a95 138.5px,#c9c932 140.5px,#f6f508 141.5px,#fffa01 142.5px,#ffde18 146.5px,#ffa034 150.5px,#ff823c 153.5px,#ff552d 163.5px,#fe4425 220.5px)"></i><i style="background:linear-gradient(#ff9e35 .5px,#ffb92a 8.5px,#ffe116 15.5px,#fefb01 26.5px,#f6f607 28.5px,#bcbc3e 32.5px,#787887 36.5px,#4040bf 42.5px,#080cfa 52.5px,#1326fc 61.5px,#1d3afa 62.5px,#3c78f2 63.5px,#4c93f1 64.5px,#6ab4f3 68.5px,#a7dffa 76.5px,#cdeefc 81.5px,#fff 82.5px,#fff 126.5px,#bce7fb 127.5px,#a5defa 128.5px,#76bdf5 130.5px,#498ff0 132.5px,#1224fc 133.5px,#0a11fa 135.5px,#1114f1 136.5px,#3435cb 138.5px,#4e4eb1 139.5px,#6d6d92 140.5px,#caca31 142.5px,#f5f508 143.5px,#fffb01 144.5px,#ffdf17 148.5px,#ffa133 152.5px,#ff823c 155.5px,#ff562d 166.5px,#fe4726 220.5px)"></i><i style="background:linear-gradient(#ff9836 .5px,#ffb42c 9.5px,#ffe216 17.5px,#fcfa02 28.5px,#f3f30a 30.5px,#b6b644 34.5px,#83837b 37.5px,#4040bf 44.5px,#090efa 54.5px,#1326fc 62.5px,#1f3df9 63.5px,#4589f0 64.5px,#4d94f1 65.5px,#6bb6f3 69.5px,#a1dbfa 76.5px,#cfeffd 82.5px,#fff 83.5px,#fff 126.5px,#bbe7fb 127.5px,#69b4f3 130.5px,#4e96f1 131.5px,#1224fc 132.5px,#0c16fb 133.5px,#0f12f3 134.5px,#4646b9 136.5px,#73738c 137.5px,#e2e21a 139.5px,#fefb01 140.5px,#ffde18 144.5px,#ff9f34 148.5px,#ff8a3a 150.5px,#ff6232 154.5px,#fe4b28 161.5px,#fe4324 171.5px,#fd3920 220.5px)"></i><i style="background:linear-gradient(#ff9936 .5px,#ffb62b 9.5px,#ffe216 17.5px,#fefb01 28.5px,#f6f607 30.5px,#bcbc3e 34.5px,#797986 38.5px,#3f3fc0 44.5px,#080dfa 54.5px,#1428fc 63.5px,#2b57f6 64.5px,#4990f0 65.5px,#6eb8f4 70.5px,#a3ddfa 77.5px,#d1f0fd 83.5px,#fff 84.5px,#fff 126.5px,#bae6fb 127.5px,#9cd7f9 128.5px,#5fa9f2 130.5px,#2a53f7 131.5px,#0d18fb 132.5px,#1518ec 133.5px,#3838c7 134.5px,#eded0f 137.5px,#fffa01 138.5px,#ffe415 141.5px,#ff9836 146.5px,#ff793a 149.5px,#ff502a 152.5px,#fd3a20 168.5px,#fb301c 220.5px)"></i><i style="background:linear-gradient(#ff9c35 .5px,#ffbe28 10.5px,#ffe315 17.5px,#fffb01 27.5px,#fbf904 29.5px,#ebeb11 31.5px,#bebe3c 34.5px,#686897 39.5px,#3b3bc4 44.5px,#090dfa 54.5px,#1427fc 63.5px,#2345f8 64.5px,#4285f1 65.5px,#4d94f1 66.5px,#6ab4f3 70.5px,#a6defa 78.5px,#ccedfc 83.5px,#fff 84.5px,#fff 126.5px,#bbe7fb 127.5px,#9bd7f9 128.5px,#5ca5f2 130.5px,#1427fc 131.5px,#0a11fa 132.5px,#2829d8 133.5px,#60609f 134.5px,#a6a656 135.5px,#e5e517 136.5px,#fffb01 137.5px,#ffe414 140.5px,#ffb22d 143.5px,#ff9936 145.5px,#ff7a3a 148.5px,#fe4927 151.5px,#fc361f 167.5px,#fa2c1b 220.5px)"></i><i style="background:linear-gradient(#ff9836 .5px,#ffba2a 11.5px,#ffe116 18.5px,#fffc00 29.5px,#f7f606 31.5px,#eded10 32.5px,#bfbf3b 35.5px,#7a7a85 39.5px,#3e3ec1 45.5px,#080dfa 55.5px,#1428fc 64.5px,#2952f7 65.5px,#488ef0 66.5px,#6cb6f3 71.5px,#a1dbfa 78.5px,#ceeefc 84.5px,#fff 85.5px,#fff 126.5px,#bde8fb 127.5px,#9ed9f9 128.5px,#5fa9f2 130.5px,#2448f8 131.5px,#0c15fb 132.5px,#1f21e2 133.5px,#4d4db2 134.5px,#d2d229 136.5px,#fcfa03 137.5px,#ffdc19 141.5px,#ff9c35 145.5px,#ff7e3b 148.5px,#ff6232 150.5px,#ff4c28 151.5px,#fd381f 167.5px,#fa2d1b 220.5px)"></i><i style="background:linear-gradient(#ff8f39 .5px,#ffb42c 13.5px,#ffe116 21.5px,#fefb01 32.5px,#f6f508 34.5px,#b9b941 38.5px,#85857a 41.5px,#3e3ec1 48.5px,#0a0ef8 57.5px,#090efa 58.5px,#1326fc 66.5px,#203ff9 67.5px,#468bf0 68.5px,#6eb7f4 73.5px,#a7dffa 80.5px,#d0effd 85.5px,#fff 86.5px,#fff 126.5px,#c0e9fc 127.5px,#a3dcfa 128.5px,#67b2f3 130.5px,#4a91f0 131.5px,#101efb 132.5px,#080dfa 133.5px,#2729d9 134.5px,#5151ae 135.5px,#cbcb30 137.5px,#f9f805 138.5px,#fff804 139.5px,#ffe017 142.5px,#ff9f34 146.5px,#ff8b3a 148.5px,#ff7539 150.5px,#ff592e 152.5px,#ff522b 153.5px,#fe4425 159.5px,#fd3c21 168.5px,#fb311d 220.5px)"></i><i style="background:linear-gradient(#ff7238 .5px,#ff833c 6.5px,#ff9e35 17.5px,#ffdf17 28.5px,#fdfb01 38.5px,#f5f508 40.5px,#93936a 46.5px,#7b7b84 49.5px,#3a3ac5 55.5px,#090dfa 63.5px,#1326fc 70.5px,#2142f9 71.5px,#478df0 72.5px,#6eb8f4 76.5px,#a1dbf9 81.5px,#c9ecfc 85.5px,#fff 86.5px,#fff 126.5px,#c4eafc 127.5px,#8dcdf7 129.5px,#58a0f2 131.5px,#1931fb 132.5px,#090dfa 134.5px,#3838c7 136.5px,#61619e 137.5px,#cdcd2e 139.5px,#f8f705 140.5px,#fff803 141.5px,#ffe315 144.5px,#ffa432 148.5px,#ff853b 151.5px,#ff5f31 155.5px,#fe4a28 162.5px,#fd3920 220.5px)"></i><i style="background:linear-gradient(#fc361f .5px,#ff592e 5.5px,#ff843b 17.5px,#ff9f34 27.5px,#ffdf18 39.5px,#fffc00 49.5px,#f6f508 51.5px,#c3c338 54.5px,#898975 57.5px,#75758a 59.5px,#3f3fc0 63.5px,#080dfa 70.5px,#1427fc 77.5px,#2850f7 78.5px,#5098f1 79.5px,#73bbf4 81.5px,#96d3f8 83.5px,#caedfc 86.5px,#fff 87.5px,#fff 126.5px,#c7ecfc 127.5px,#97d4f8 129.5px,#66b1f3 131.5px,#4f96f1 132.5px,#1326fc 133.5px,#0b12fa 135.5px,#1014f1 136.5px,#3637c9 138.5px,#5353ac 139.5px,#74748b 140.5px,#d7d724 142.5px,#f9f805 143.5px,#fff803 144.5px,#ffe514 147.5px,#ff9d35 152.5px,#ff893a 154.5px,#ff6f37 158.5px,#ff542c 165.5px,#fe4525 220.5px)"></i><i style="background:linear-gradient(#fb311d .5px,#fb321d 7.5px,#ff592e 12.5px,#ff833c 22.5px,#ffa233 32.5px,#ffe315 45.5px,#fffc00 55.5px,#f6f507 57.5px,#c2c238 60.5px,#858579 63.5px,#3d3dc2 68.5px,#0b0ef7 74.5px,#090ffa 75.5px,#1428fc 81.5px,#498ff0 82.5px,#7fc3f6 84.5px,#d1f0fd 87.5px,#fff 88.5px,#fff 127.5px,#bbe7fb 128.5px,#75bcf4 131.5px,#468cf0 133.5px,#1223fc 134.5px,#090ffa 136.5px,#1417ed 137.5px,#3939c6 139.5px,#767689 141.5px,#d7d724 143.5px,#f9f805 144.5px,#fff903 145.5px,#ffda1a 149.5px,#ff9e35 153.5px,#ff7e3b 156.5px,#ff552d 166.5px,#fe4726 220.5px)"></i><i style="background:linear-gradient(#fc371f .5px,#fe3d22 11.5px,#ff6935 17.5px,#ff853b 23.5px,#ff9f34 30.5px,#ffe017 43.5px,#fefb01 56.5px,#f4f409 58.5px,#c0c03a 61.5px,#75758a 65.5px,#3b3bc4 69.5px,#0a0df8 75.5px,#0a10fa 76.5px,#1326fc 81.5px,#2448f8 82.5px,#569ef1 83.5px,#8bccf7 85.5px,#c1e9fc 87.5px,#fff 88.5px,#fff 127.5px,#b6e5fb 128.5px,#7fc4f6 130.5px,#64aef3 131.5px,#4990f0 132.5px,#1121fb 133.5px,#0b13fa 134.5px,#1619ec 135.5px,#3031d0 136.5px,#5454ab 137.5px,#84847a 138.5px,#c0c03a 139.5px,#f4f409 140.5px,#fffa02 141.5px,#ffe514 144.5px,#ffa731 148.5px,#ff873b 151.5px,#ff5e30 155.5px,#fe4927 162.5px,#fd3820 220.5px)"></i><i style="background:linear-gradient(#fb311d .5px,#fb311d 20.5px,#ff5d30 24.5px,#ff843b 30.5px,#ffa134 36.5px,#ffe216 48.5px,#fffc00 58.5px,#f5f508 60.5px,#bfbf3b 63.5px,#81817d 66.5px,#4242bd 70.5px,#080cfa 76.5px,#1428fc 82.5px,#498ff0 83.5px,#7cc2f5 85.5px,#ccedfc 88.5px,#fff 89.5px,#fff 126.5px,#ceeefc 127.5px,#91d0f8 129.5px,#549cf1 131.5px,#1224fc 132.5px,#0a11fa 133.5px,#2325dd 134.5px,#4e4eb1 135.5px,#cdcd2e 137.5px,#faf804 138.5px,#fff704 139.5px,#ffde18 142.5px,#ffab2f 145.5px,#ff8a3a 148.5px,#ff7438 150.5px,#ff532c 152.5px,#ff4e29 153.5px,#fd3a20 168.5px,#fb2f1c 220.5px)"></i><i style="background:linear-gradient(#fb311d .5px,#fb321d 26.5px,#ff5c2f 29.5px,#ff823c 34.5px,#ffa432 41.5px,#ffe116 51.5px,#fefb01 60.5px,#f1f10c 62.5px,#b8b842 65.5px,#8d8d70 67.5px,#3738c8 72.5px,#080cfa 77.5px,#1325fc 82.5px,#2346f8 83.5px,#569ef1 84.5px,#8ccdf7 86.5px,#c3eafc 88.5px,#fff 89.5px,#fff 126.5px,#caedfc 127.5px,#aae0fa 128.5px,#6ab5f3 130.5px,#4b92f0 131.5px,#0f1bfb 132.5px,#1518ec 133.5px,#3f3fc0 134.5px,#c9c931 136.5px,#f9f804 137.5px,#fff704 138.5px,#ffdd18 141.5px,#ffaa30 144.5px,#ff893a 147.5px,#ff7238 149.5px,#ff4c28 151.5px,#fe4827 152.5px,#fc361f 167.5px,#fa2c1b 220.5px)"></i><i style="background:linear-gradient(#fb311d .5px,#fb311d 25.5px,#ff592e 28.5px,#ff863b 34.5px,#ffe017 50.5px,#fdfb02 61.5px,#eeee0e 63.5px,#b7b743 66.5px,#7b7b84 69.5px,#3737c9 73.5px,#090dfa 78.5px,#1427fc 83.5px,#4990f0 84.5px,#67b2f3 85.5px,#a4ddfa 87.5px,#c2eafc 88.5px,#fff 89.5px,#fff 126.5px,#c6ebfc 127.5px,#a7dffa 128.5px,#68b3f3 130.5px,#4990f0 131.5px,#0f1bfb 132.5px,#1316ef 133.5px,#393ac6 134.5px,#bfbf3c 136.5px,#f6f607 137.5px,#fff903 138.5px,#ffe116 141.5px,#ffa034 145.5px,#ff823c 148.5px,#fe4b28 152.5px,#fd381f 168.5px,#fa2e1b 220.5px)"></i><i style="background:linear-gradient(#fb311d .5px,#fc341e 26.5px,#ff5e30 29.5px,#ff7e3b 33.5px,#ffbb29 43.5px,#ffe017 50.5px,#fffc00 61.5px,#f5f508 63.5px,#c1c139 66.5px,#84847a 69.5px,#3c3cc3 73.5px,#0a0df8 78.5px,#1326fc 83.5px,#3161f5 84.5px,#62acf2 85.5px,#a1dbfa 87.5px,#c1e9fc 88.5px,#fff 89.5px,#fff 126.5px,#c3eafc 127.5px,#a6defa 128.5px,#6ab5f3 130.5px,#4e95f1 131.5px,#1121fb 132.5px,#090ffa 133.5px,#2224de 134.5px,#4747b8 135.5px,#80807f 136.5px,#c0c03a 137.5px,#f6f607 138.5px,#fff903 139.5px,#ffe315 142.5px,#ffa134 146.5px,#ff833c 149.5px,#ff532c 153.5px,#fe4425 160.5px,#fd3c21 169.5px,#fb321d 220.5px)"></i><i style="background:linear-gradient(#fb311d .5px,#fb311d 27.5px,#ff5d30 30.5px,#ff813c 34.5px,#ffa930 40.5px,#ffe017 50.5px,#fffc00 61.5px,#f4f409 63.5px,#bfbf3b 66.5px,#82827c 69.5px,#3a3bc5 73.5px,#090df9 78.5px,#1326fc 83.5px,#386ff3 84.5px,#63adf2 85.5px,#a2dcfa 87.5px,#c1e9fc 88.5px,#fff 89.5px,#fff 126.5px,#c1e9fc 127.5px,#8bccf7 129.5px,#569ef1 131.5px,#1428fc 132.5px,#080dfa 134.5px,#3838c8 136.5px,#60609f 137.5px,#caca31 139.5px,#f7f706 140.5px,#fff903 141.5px,#ffe414 144.5px,#ffa632 148.5px,#ff863b 151.5px,#ff6031 155.5px,#fe4b28 162.5px,#fd3a20 220.5px)"></i><i style="background:linear-gradient(#fb311d .5px,#fb311d 28.5px,#ff582e 30.5px,#ff813c 34.5px,#ffb02e 40.5px,#ffe315 50.5px,#fdfb02 61.5px,#efef0d 63.5px,#baba40 66.5px,#7e7e81 69.5px,#3939c6 73.5px,#080cfa 78.5px,#1326fc 83.5px,#3f7df2 84.5px,#63aef3 85.5px,#a2dcfa 87.5px,#c1e9fc 88.5px,#fff 89.5px,#fff 126.5px,#c0e9fc 127.5px,#78bff5 130.5px,#4990f0 132.5px,#1224fc 133.5px,#0a10fa 135.5px,#1316ee 136.5px,#3939c6 138.5px,#778 140.5px,#dbdb21 142.5px,#faf904 143.5px,#fff803 144.5px,#ffe514 147.5px,#ffaa30 151.5px,#ff883a 154.5px,#ff7e3b 155.5px,#ff542c 165.5px,#fe4626 220.5px)"></i><i style="background:linear-gradient(#fb311d .5px,#fb321d 30.5px,#ff592e 32.5px,#ff6634 33.5px,#ff843c 36.5px,#ff9b35 39.5px,#ffdf17 51.5px,#fffc00 61.5px,#f5f508 63.5px,#bebe3c 66.5px,#7f7f80 69.5px,#3839c7 73.5px,#080cfa 78.5px,#1327fc 83.5px,#458bf0 84.5px,#64aef3 85.5px,#83c6f6 86.5px,#c1e9fc 88.5px,#fff 89.5px,#fff 124.5px,#c1e9fc 125.5px,#a9e0fa 126.5px,#62acf2 129.5px,#4a91f0 130.5px,#1325fc 131.5px,#0a10fa 133.5px,#1316ef 134.5px,#3838c7 136.5px,#767689 138.5px,#d9d923 140.5px,#faf804 141.5px,#fff803 142.5px,#ffe514 145.5px,#ff9d35 150.5px,#ff893a 152.5px,#ff7e3b 153.5px,#ff542c 163.5px,#fe4525 220.5px)"></i><i style="background:linear-gradient(#fb311d .5px,#fb311d 28.5px,#ff6132 31.5px,#ff7f3b 34.5px,#ffa631 39.5px,#ffe216 50.5px,#fcfa02 61.5px,#eded10 63.5px,#b6b644 66.5px,#7a7a84 69.5px,#3737c8 73.5px,#080dfa 78.5px,#1327fc 83.5px,#478df0 84.5px,#65aff3 85.5px,#84c7f6 86.5px,#c2e9fc 88.5px,#fff 89.5px,#fff 124.5px,#bbe7fb 125.5px,#9fdaf9 126.5px,#68b3f3 128.5px,#4d94f1 129.5px,#1222fc 130.5px,#0b14fb 131.5px,#1417ed 132.5px,#2f30d1 133.5px,#5353ac 134.5px,#84847a 135.5px,#c0c03a 136.5px,#f5f508 137.5px,#fffa02 138.5px,#ffe414 141.5px,#ffa632 145.5px,#ff863b 148.5px,#ff5d30 152.5px,#fe4927 159.5px,#fc371f 220.5px)"></i><i style="background:linear-gradient(#fe4425 .5px,#ff532c 27.5px,#ff6c36 29.5px,#ff863b 32.5px,#ffc126 39.5px,#ffe216 46.5px,#fffc00 59.5px,#f0f00d 62.5px,#bdbd3d 65.5px,#71718e 69.5px,#4141be 72.5px,#090dfa 78.5px,#1427fc 83.5px,#488ef0 84.5px,#66b0f3 85.5px,#84c7f6 86.5px,#c2e9fc 88.5px,#fff 89.5px,#fff 124.5px,#b5e4fb 125.5px,#77bef5 127.5px,#59a2f2 128.5px,#1326fc 129.5px,#0b13fb 130.5px,#1f21e2 131.5px,#4848b7 132.5px,#c9c932 134.5px,#f9f805 135.5px,#fff704 136.5px,#ffdf17 139.5px,#ffac2f 142.5px,#ff8b3a 145.5px,#ff7439 147.5px,#ff542c 149.5px,#ff4e29 150.5px,#fd3920 165.5px,#fb2f1c 220.5px)"></i><i style="background:linear-gradient(#ff532c .5px,#ff5e30 26.5px,#ff873b 31.5px,#ffc823 39.5px,#ffe315 45.5px,#fefb01 59.5px,#f6f607 61.5px,#e9e913 62.5px,#b7b743 65.5px,#6c6c93 69.5px,#3e3ec1 72.5px,#090efa 78.5px,#1427fc 83.5px,#498ff0 84.5px,#67b1f3 85.5px,#a3ddfa 87.5px,#c2eafc 88.5px,#fff 89.5px,#fff 123.5px,#d0effd 124.5px,#90cff8 126.5px,#70b9f4 127.5px,#5098f1 128.5px,#101ffb 129.5px,#0e11f4 130.5px,#3738c8 131.5px,#c0c03a 133.5px,#f7f607 134.5px,#fff803 135.5px,#ffe017 138.5px,#ffac2f 141.5px,#ff8b3a 144.5px,#ff7439 146.5px,#ff4f2a 148.5px,#fe4826 149.5px,#fc361f 165.5px,#fa2c1b 220.5px)"></i><i style="background:linear-gradient(#fc361f .5px,#fe4425 25.5px,#fe4827 26.5px,#ff6433 28.5px,#ff7f3b 31.5px,#ffbc29 39.5px,#ffe216 47.5px,#fffb01 59.5px,#f7f606 61.5px,#ebeb12 62.5px,#b7b744 65.5px,#7c7c82 68.5px,#3b3cc4 72.5px,#0d11f5 77.5px,#090efa 78.5px,#1427fc 83.5px,#4a91f0 84.5px,#67b2f3 85.5px,#a4ddfa 87.5px,#c2eafc 88.5px,#fff 89.5px,#fff 123.5px,#cbedfc 124.5px,#8dcdf7 126.5px,#6db7f4 127.5px,#4f96f1 128.5px,#101ffb 129.5px,#0b0ff7 130.5px,#3233ce 131.5px,#eded10 134.5px,#fffa02 135.5px,#ffe315 138.5px,#ffb12d 141.5px,#ff9836 143.5px,#ff793a 146.5px,#ff4b28 149.5px,#fd381f 165.5px,#fa2e1b 220.5px)"></i><i style="background:linear-gradient(#fc361f .5px,#fe4626 24.5px,#ff6a35 27.5px,#ff803c 30.5px,#ffbe28 39.5px,#ffe315 47.5px,#fdfb01 59.5px,#f1f10c 61.5px,#bdbd3d 64.5px,#70708f 68.5px,#4141be 71.5px,#090df9 77.5px,#162bfc 83.5px,#4d94f1 84.5px,#6ab5f3 85.5px,#a5defa 87.5px,#c2eafc 88.5px,#fff 89.5px,#fff 123.5px,#c8ecfc 124.5px,#8dcdf7 126.5px,#6fb8f4 127.5px,#529af1 128.5px,#1224fc 129.5px,#0b13fa 130.5px,#1b1ee6 131.5px,#3b3bc4 132.5px,#71718e 133.5px,#b0b04b 134.5px,#eaea13 135.5px,#fffb01 136.5px,#ffe514 139.5px,#ff9a36 144.5px,#ff7b3a 147.5px,#ff552c 150.5px,#fe4425 157.5px,#fe3c21 166.5px,#fb321d 220.5px)"></i><i style="background:linear-gradient(#fb311d .5px,#fd3a20 20.5px,#ff5d30 23.5px,#ff853b 29.5px,#ffa433 35.5px,#ffe316 46.5px,#fefb01 57.5px,#eded0f 59.5px,#c7c734 61.5px,#858579 64.5px,#3c3cc3 69.5px,#0c10f6 75.5px,#090efa 76.5px,#1428fc 82.5px,#458af0 83.5px,#78bef5 85.5px,#abe0fa 87.5px,#c4ebfc 88.5px,#fff 89.5px,#fff 123.5px,#c5ebfc 124.5px,#8fcff7 126.5px,#5aa3f2 128.5px,#254af8 129.5px,#0f1dfb 130.5px,#0a10fa 131.5px,#191ce8 132.5px,#3232ce 133.5px,#5454ab 134.5px,#81817e 135.5px,#bbbb3f 136.5px,#eeee0f 137.5px,#fffb01 138.5px,#ffdb19 142.5px,#ffab30 145.5px,#ff893a 148.5px,#ff6232 152.5px,#ff4c28 159.5px,#fd3a21 220.5px)"></i><i style="background:linear-gradient(#fb311d .5px,#fb321d 14.5px,#ff582e 18.5px,#ff813c 25.5px,#ff9f34 32.5px,#ffe117 43.5px,#fefc00 53.5px,#eeee0e 55.5px,#c5c536 57.5px,#7f7f80 60.5px,#3a3ac5 66.5px,#090df9 73.5px,#162cfb 81.5px,#468cf0 82.5px,#70b9f4 84.5px,#9bd7f9 86.5px,#c6ebfc 88.5px,#fff 89.5px,#fff 123.5px,#c3eafc 124.5px,#7cc1f5 127.5px,#4d94f1 129.5px,#1326fc 130.5px,#0b12fa 132.5px,#0f12f3 133.5px,#3434cc 135.5px,#4e4eb1 136.5px,#6d6d92 137.5px,#cccc2f 139.5px,#f6f607 140.5px,#fffa01 141.5px,#ffde18 145.5px,#ffa034 149.5px,#ff823c 152.5px,#ff572d 162.5px,#fe4626 220.5px)"></i><i style="background:linear-gradient(#ff592e .5px,#ff5b2f 6.5px,#ff813c 14.5px,#ff9e35 22.5px,#ffe315 35.5px,#fffc00 45.5px,#efef0d 48.5px,#b5b546 51.5px,#72728d 54.5px,#62629d 55.5px,#3939c6 60.5px,#080dfa 70.5px,#1327fc 79.5px,#2040f9 80.5px,#4a91f0 81.5px,#6db7f4 83.5px,#a4ddfa 86.5px,#c8ecfc 88.5px,#fff 89.5px,#fff 121.5px,#bee8fb 122.5px,#a6defa 123.5px,#75bdf4 125.5px,#458bf0 127.5px,#1222fc 128.5px,#090efa 130.5px,#4040bf 133.5px,#898975 135.5px,#bdbd3d 136.5px,#ebeb12 137.5px,#fffc00 138.5px,#ffe216 142.5px,#ffa532 146.5px,#ff853b 149.5px,#ff7238 152.5px,#ff532c 160.5px,#fe4425 220.5px)"></i><i style="background:linear-gradient(#ff7839 .5px,#ffa233 13.5px,#ffe017 26.5px,#fefb01 37.5px,#f0f00d 40.5px,#bdbd3d 43.5px,#5959a6 48.5px,#3939c6 53.5px,#080dfa 66.5px,#162cfc 78.5px,#2a54f7 79.5px,#4f96f1 80.5px,#6db7f3 82.5px,#aae0fa 86.5px,#c9edfc 88.5px,#fff 89.5px,#fff 121.5px,#b7e5fb 122.5px,#7fc3f6 124.5px,#488ef0 126.5px,#101ffb 127.5px,#0a11fa 128.5px,#1b1de6 129.5px,#3637c9 130.5px,#61619e 131.5px,#d1d12a 133.5px,#faf804 134.5px,#fff704 135.5px,#ffe116 138.5px,#ffa034 142.5px,#ff823c 145.5px,#ff5b2f 149.5px,#fe4927 155.5px,#fe4123 165.5px,#fc361f 220.5px)"></i><i style="background:linear-gradient(#fe3e22 .5px,#ff5c30 4.5px,#ff853b 14.5px,#ffa034 23.5px,#ffe315 35.5px,#fffb01 44.5px,#f5f508 46.5px,#bcbc3f 49.5px,#7c7c82 52.5px,#3e3ec1 59.5px,#080cfa 69.5px,#1428fc 79.5px,#2953f7 80.5px,#5098f1 81.5px,#72baf4 83.5px,#95d2f8 85.5px,#c8ecfc 88.5px,#fff 89.5px,#fff 120.5px,#cfeffc 121.5px,#91d0f8 123.5px,#72baf4 124.5px,#549bf1 125.5px,#1223fc 126.5px,#090ffa 127.5px,#2729d9 128.5px,#5757a8 129.5px,#d7d724 131.5px,#fdfa02 132.5px,#ffdb1a 136.5px,#ff9c35 140.5px,#ff7d3b 143.5px,#ff4e29 146.5px,#fd3920 162.5px,#fa2e1c 220.5px)"></i><i style="background:linear-gradient(#fd3920 .5px,#fe3d21 4.5px,#ff5b2f 8.5px,#ff823c 17.5px,#ffa134 27.5px,#ffe315 39.5px,#fbfa03 49.5px,#f6f607 50.5px,#e4e418 51.5px,#7b7b84 56.5px,#3f3fc0 62.5px,#080cfa 71.5px,#1428fc 80.5px,#2b56f6 81.5px,#549cf1 82.5px,#67b1f3 83.5px,#a1dbfa 86.5px,#c9ecfc 88.5px,#fff 89.5px,#fff 120.5px,#caedfc 121.5px,#aae0fa 122.5px,#6ab5f3 124.5px,#4b92f0 125.5px,#0e1bfb 126.5px,#1518ec 127.5px,#4040bf 128.5px,#caca30 130.5px,#faf804 131.5px,#fff704 132.5px,#ffdd19 135.5px,#ffa930 138.5px,#ff893a 141.5px,#ff7138 143.5px,#fe4a27 145.5px,#fc361f 161.5px,#fa2c1a 220.5px)"></i><i style="background:linear-gradient(#ff4c29 .5px,#ff502a 6.5px,#ff6f37 12.5px,#ff853b 18.5px,#ffa233 27.5px,#ffe315 40.5px,#fefc01 51.5px,#f5f508 53.5px,#bcbc3e 56.5px,#7b7b84 59.5px,#6c6c93 60.5px,#3939c7 65.5px,#080dfa 73.5px,#152afc 81.5px,#3e7df2 82.5px,#5ba4f2 83.5px,#9ed9f9 86.5px,#caedfc 88.5px,#fff 89.5px,#fff 120.5px,#c6ebfc 121.5px,#a6dffa 122.5px,#68b3f3 124.5px,#4a90f0 125.5px,#0f1cfb 126.5px,#1114f0 127.5px,#3738c8 128.5px,#767689 129.5px,#b9b941 130.5px,#f5f508 131.5px,#fff902 132.5px,#ffe216 135.5px,#ffaf2e 138.5px,#ff9737 140.5px,#ff833c 142.5px,#ff4c28 146.5px,#fd3820 162.5px,#fa2d1b 220.5px)"></i><i style="background:linear-gradient(#fe4a28 .5px,#ff4e29 7.5px,#ff823c 18.5px,#ff9f34 27.5px,#ffe315 41.5px,#fffc00 53.5px,#f6f607 55.5px,#e9e913 56.5px,#b6b645 59.5px,#7c7c82 62.5px,#3d3dc2 67.5px,#090efa 75.5px,#1325fc 81.5px,#1a34fb 82.5px,#4c93f0 83.5px,#7fc3f6 85.5px,#cdeefc 88.5px,#fff 89.5px,#fff 120.5px,#c2eafc 121.5px,#a5defa 122.5px,#6ab5f3 124.5px,#4e95f1 125.5px,#1121fc 126.5px,#0a10fa 127.5px,#1f21e2 128.5px,#4040bf 129.5px,#767689 130.5px,#b5b546 131.5px,#eeee0f 132.5px,#fffa01 133.5px,#ffe414 136.5px,#ffa432 140.5px,#ff853b 143.5px,#ff552d 147.5px,#fe4726 153.5px,#fe3d21 163.5px,#fb321d 220.5px)"></i><i style="background:linear-gradient(#ff5c30 .5px,#ff5f31 7.5px,#ff823c 15.5px,#ff9f34 24.5px,#ffe117 38.5px,#fdfb01 52.5px,#eeee0f 55.5px,#c0c03a 58.5px,#676798 63.5px,#4545ba 66.5px,#090efa 75.5px,#1325fc 81.5px,#1a34fb 82.5px,#4c93f1 83.5px,#66b1f3 84.5px,#9bd7f9 86.5px,#d0effd 88.5px,#fff 89.5px,#fff 120.5px,#c0e9fc 121.5px,#8bccf7 123.5px,#569ff1 125.5px,#162dfb 126.5px,#090ffa 128.5px,#3334cc 130.5px,#5656a9 131.5px,#82827c 132.5px,#bcbc3e 133.5px,#efef0e 134.5px,#fffb01 135.5px,#ffdc19 139.5px,#ff9d35 143.5px,#ff893a 145.5px,#ff6333 149.5px,#ff4c29 156.5px,#fd3b21 220.5px)"></i><i style="background:linear-gradient(#ff5c30 .5px,#ff5e30 6.5px,#ff823c 14.5px,#ffa034 23.5px,#ffe315 37.5px,#fefb01 49.5px,#f0f00d 52.5px,#bebe3c 55.5px,#6f6f90 59.5px,#4343bc 63.5px,#090dfa 73.5px,#1326fc 80.5px,#1d3bfa 81.5px,#4c93f1 82.5px,#79bff5 84.5px,#bde8fb 87.5px,#fff 88.5px,#fff 120.5px,#bfe8fc 121.5px,#78bff5 124.5px,#4a91f0 126.5px,#1325fc 127.5px,#0a11fa 129.5px,#1013f1 130.5px,#3435cb 132.5px,#4e4eb1 133.5px,#6d6d92 134.5px,#cbcb30 136.5px,#f6f508 137.5px,#fffb01 138.5px,#ffdf18 142.5px,#ffa134 146.5px,#ff823c 149.5px,#ff552d 160.5px,#fe4626 220.5px)"></i><i style="background:linear-gradient(#fb311d .5px,#fb321d 3.5px,#ff5c2f 8.5px,#ff843b 17.5px,#ffa333 26.5px,#ffe315 37.5px,#fcfa02 47.5px,#ecec11 49.5px,#b4b447 52.5px,#8b8b73 54.5px,#7e7e81 55.5px,#3939c6 62.5px,#090df9 70.5px,#1427fc 79.5px,#274ef7 80.5px,#5098f1 81.5px,#76bdf4 83.5px,#c3eafc 87.5px,#fff 88.5px,#fff 117.5px,#d0effd 118.5px,#9fdaf9 120.5px,#6eb8f4 122.5px,#569ff1 123.5px,#2141f9 124.5px,#101ffb 125.5px,#0c14fb 126.5px,#0c10f6 127.5px,#3334cc 129.5px,#71718e 131.5px,#d4d427 133.5px,#f9f805 134.5px,#fff903 135.5px,#ffda1a 139.5px,#ff9e35 143.5px,#ff893a 145.5px,#ff6e37 149.5px,#ff532c 156.5px,#fe4324 220.5px)"></i><i style="background:linear-gradient(#ff562d .5px,#ff803b 9.5px,#ff9e35 18.5px,#ffe116 30.5px,#fefb01 40.5px,#f5f508 42.5px,#c3c337 45.5px,#8b8b73 48.5px,#7e7e81 49.5px,#3b3bc4 57.5px,#080cfa 67.5px,#1327fc 77.5px,#1e3bfa 78.5px,#468cf0 79.5px,#76bdf4 82.5px,#a7dffa 85.5px,#c7ecfc 87.5px,#fff 88.5px,#fff 117.5px,#cceefc 118.5px,#93d2f8 120.5px,#5ba4f2 122.5px,#2346f8 123.5px,#0e1bfb 124.5px,#090cf9 125.5px,#44b 127.5px,#74748b 128.5px,#b1b14a 129.5px,#e8e814 130.5px,#fffb00 131.5px,#ffda1a 135.5px,#ff9c35 139.5px,#ff7d3b 142.5px,#ff5b2f 145.5px,#fe4726 152.5px,#fe4023 161.5px,#fc351e 220.5px)"></i><i style="background:linear-gradient(#ff9337 .5px,#ffc525 13.5px,#ffe414 19.5px,#fffb01 28.5px,#f9f805 31.5px,#f5f508 32.5px,#bcbc3e 36.5px,#7c7c83 40.5px,#55a 42.5px,#3c3cc3 46.5px,#090df9 61.5px,#1327fc 75.5px,#1a33fb 76.5px,#2b57f6 77.5px,#4e96f1 78.5px,#69b4f3 80.5px,#a1dbfa 84.5px,#caedfc 87.5px,#fff 88.5px,#fff 117.5px,#c7ecfc 118.5px,#a8dffa 119.5px,#6ab4f3 121.5px,#4b92f0 122.5px,#0f1dfb 123.5px,#0d11f4 124.5px,#3233cd 125.5px,#ebeb12 128.5px,#fffb01 129.5px,#ffe414 132.5px,#ff9836 137.5px,#ff793a 140.5px,#ff4d29 143.5px,#fd3820 159.5px,#fa2e1b 220.5px)"></i><i style="background:linear-gradient(#ff6634 .5px,#ff803c 6.5px,#ff9f34 15.5px,#ffe216 27.5px,#fffc00 37.5px,#f7f607 39.5px,#ebeb11 40.5px,#bdbd3d 43.5px,#7a7a85 47.5px,#3a3ac5 55.5px,#080dfa 66.5px,#1326fc 76.5px,#1a34fb 77.5px,#529af1 79.5px,#70b9f4 81.5px,#9ed9f9 84.5px,#cceefc 87.5px,#fff 88.5px,#fff 117.5px,#c2eafc 118.5px,#a2dcfa 119.5px,#62acf2 121.5px,#3265f5 122.5px,#0c15fb 123.5px,#2022e1 124.5px,#5252ad 125.5px,#d9d922 127.5px,#fefb01 128.5px,#ffe513 131.5px,#ff9a36 136.5px,#ff7b3a 139.5px,#fe4827 142.5px,#fc361f 158.5px,#fa2b1a 220.5px)"></i><i style="background:linear-gradient(#fd3820 .5px,#fd3920 1.5px,#ff6d37 8.5px,#ff833c 13.5px,#ffa034 21.5px,#ffe117 32.5px,#fffb01 42.5px,#f7f606 44.5px,#ecec11 45.5px,#bbbb3f 48.5px,#84847a 51.5px,#4141be 58.5px,#080cfa 68.5px,#1327fc 77.5px,#2041f9 78.5px,#4990f0 79.5px,#6ab5f3 81.5px,#9cd7f9 84.5px,#ceeefc 87.5px,#fff 88.5px,#fff 117.5px,#bee8fb 118.5px,#9fd9f9 119.5px,#60aaf2 121.5px,#2d5af6 122.5px,#0d17fb 123.5px,#1a1ce7 124.5px,#4242bd 125.5px,#c6c635 127.5px,#f8f706 128.5px,#fff804 129.5px,#ffe017 132.5px,#ffac2f 135.5px,#ff8b3a 138.5px,#ff7539 140.5px,#ff532c 142.5px,#ff4c28 143.5px,#fd3820 159.5px,#fa2d1b 220.5px)"></i><i style="background:linear-gradient(#fc351e .5px,#fd3a20 5.5px,#ff582e 8.5px,#ff833c 16.5px,#ffa233 24.5px,#ffe117 35.5px,#fefb01 46.5px,#f5f508 48.5px,#b8b842 52.5px,#83837b 55.5px,#4242bd 61.5px,#080dfa 70.5px,#1428fc 78.5px,#2a55f7 79.5px,#529af1 80.5px,#63aef3 81.5px,#9ad6f9 84.5px,#d0effd 87.5px,#fff 88.5px,#fff 117.5px,#bbe7fb 118.5px,#80c4f6 120.5px,#63aef3 121.5px,#478df0 122.5px,#101efb 123.5px,#080dfa 124.5px,#4949b6 126.5px,#7f7f7f 127.5px,#bfbf3c 128.5px,#f5f508 129.5px,#fff902 130.5px,#ffe315 133.5px,#ffa233 137.5px,#ff843c 140.5px,#ff562d 144.5px,#fe4726 150.5px,#fe3d22 160.5px,#fb321d 220.5px)"></i><i style="background:linear-gradient(#fb311d .5px,#fb311d 8.5px,#ff582e 12.5px,#ff843c 20.5px,#ffa034 27.5px,#ffe116 39.5px,#fefb01 49.5px,#f6f607 51.5px,#ebeb11 52.5px,#c0c03a 55.5px,#8f8f6e 58.5px,#3839c7 65.5px,#0a0df8 71.5px,#090ffa 72.5px,#1325fc 78.5px,#1c38fa 79.5px,#4a91f0 80.5px,#72baf4 82.5px,#c3eafc 86.5px,#fff 87.5px,#fff 117.5px,#b9e6fb 118.5px,#6ab5f3 121.5px,#5098f1 122.5px,#1326fc 123.5px,#080cfa 125.5px,#3737c9 127.5px,#5b5ba4 128.5px,#898975 129.5px,#c1c139 130.5px,#f3f30a 131.5px,#fffa01 132.5px,#ffda1a 136.5px,#ffaa30 139.5px,#ff893a 142.5px,#ff6433 146.5px,#ff4d29 153.5px,#fe4023 183.5px,#fd3b21 220.5px)"></i><i style="background:linear-gradient(#fb311d .5px,#fb321d 7.5px,#ff5b2f 11.5px,#ff833c 18.5px,#ffa034 25.5px,#ffe216 37.5px,#fffc00 47.5px,#f1f10c 50.5px,#b8b842 54.5px,#888876 57.5px,#3e3ec1 63.5px,#090df9 70.5px,#1325fc 77.5px,#1d3bfa 78.5px,#4b91f0 79.5px,#70b9f4 81.5px,#a8dffa 84.5px,#ceeffc 86.5px,#fff 87.5px,#fff 116.5px,#d0effd 117.5px,#a1dbfa 119.5px,#5ca5f2 122.5px,#4182f1 123.5px,#1223fc 124.5px,#0a10fa 126.5px,#1316ef 127.5px,#3637c9 129.5px,#5151ae 130.5px,#6f6f90 131.5px,#cdcd2e 133.5px,#f6f607 134.5px,#fffa01 135.5px,#ffde18 139.5px,#ffa034 143.5px,#ff813c 146.5px,#ff582e 156.5px,#ff4b28 186.5px,#fe4726 220.5px)"></i><i style="background:linear-gradient(#ff542c .5px,#ff572d 5.5px,#ff853b 13.5px,#ff9f34 19.5px,#ffe017 30.5px,#fdfb01 42.5px,#efef0e 45.5px,#b8b842 49.5px,#6a6a95 54.5px,#4141be 58.5px,#090df9 67.5px,#1326fc 75.5px,#1f3df9 76.5px,#4990f0 77.5px,#68b3f3 79.5px,#a8dffa 83.5px,#c8ecfc 85.5px,#fff 86.5px,#fff 115.5px,#bae7fb 116.5px,#70b9f4 119.5px,#58a1f2 120.5px,#264bf8 121.5px,#101ffb 122.5px,#0c14fb 123.5px,#0c10f5 124.5px,#3535cb 126.5px,#75758a 128.5px,#dada21 130.5px,#faf904 131.5px,#ffe414 135.5px,#ffa930 139.5px,#ff883a 142.5px,#ff6c36 146.5px,#ff522b 153.5px,#fe4224 220.5px)"></i><i style="background:linear-gradient(#fe4525 .5px,#fe4726 5.5px,#ff6f37 9.5px,#ff823c 12.5px,#ffa333 18.5px,#ffdf18 27.5px,#fefb01 38.5px,#f6f607 40.5px,#ecec11 41.5px,#c3c338 44.5px,#767689 49.5px,#3c3cc4 55.5px,#090df9 64.5px,#1427fc 73.5px,#254bf8 74.5px,#4b92f0 75.5px,#65b0f3 77.5px,#9bd7f9 81.5px,#d1f0fd 85.5px,#fff 86.5px,#fff 115.5px,#b6e5fb 116.5px,#99d6f9 117.5px,#61abf2 119.5px,#4181f1 120.5px,#0f1dfb 121.5px,#090efa 122.5px,#3f3fc0 124.5px,#70708f 125.5px,#e5e518 127.5px,#fffc00 128.5px,#ffda1a 132.5px,#ff9c35 136.5px,#ff7d3b 139.5px,#ff5a2f 142.5px,#fe4726 149.5px,#fd3a20 178.5px,#fc341e 220.5px)"></i><i style="background:linear-gradient(#fd3b21 .5px,#ff5d30 3.5px,#ff853b 9.5px,#ffa333 15.5px,#ffe017 24.5px,#fdfb01 34.5px,#eded10 37.5px,#c6c634 40.5px,#8c8c72 44.5px,#778 47.5px,#3c3cc3 53.5px,#090df9 62.5px,#1327fc 71.5px,#1f3ff9 72.5px,#468cf0 73.5px,#69b4f3 76.5px,#a3ddfa 81.5px,#c7ebfc 84.5px,#fff 85.5px,#fff 115.5px,#b2e3fb 116.5px,#74bcf4 118.5px,#559df1 119.5px,#1224fc 120.5px,#090ffa 121.5px,#2829d9 122.5px,#5a5aa5 123.5px,#dbdb20 125.5px,#fefb01 126.5px,#ffe613 129.5px,#ff9b35 134.5px,#ff7d3b 137.5px,#ff4d29 140.5px,#fd3820 156.5px,#fa2d1b 220.5px)"></i><i style="background:linear-gradient(#fe4826 .5px,#ff6e37 4.5px,#ff843b 8.5px,#ffa233 14.5px,#ffdf17 23.5px,#fefb01 33.5px,#eeee0e 36.5px,#baba40 40.5px,#8d8d71 43.5px,#787887 46.5px,#3e3ec1 52.5px,#090efa 62.5px,#1326fc 70.5px,#172ffb 71.5px,#2d5af6 72.5px,#4d94f1 73.5px,#6eb8f4 76.5px,#a7dffa 81.5px,#c9ecfc 84.5px,#fff 85.5px,#fff 114.5px,#d0effd 115.5px,#90d0f8 117.5px,#70b9f4 118.5px,#5199f1 119.5px,#1020fb 120.5px,#0d10f5 121.5px,#3636c9 122.5px,#bebe3c 124.5px,#f6f607 125.5px,#fff803 126.5px,#ffe117 129.5px,#ffad2f 132.5px,#ff8b3a 135.5px,#ff7539 137.5px,#ff512b 139.5px,#fe4827 140.5px,#fc361f 156.5px,#fa2b1a 220.5px)"></i><i style="background:linear-gradient(#fb311d .5px,#fb311d 4.5px,#ff5e31 8.5px,#ff823c 13.5px,#ffa333 19.5px,#ffe017 28.5px,#fdfb02 38.5px,#f5f508 40.5px,#bdbd3d 44.5px,#8c8c71 47.5px,#73738c 50.5px,#3c3cc3 55.5px,#090df9 63.5px,#1327fc 71.5px,#2141f9 72.5px,#488ef0 73.5px,#6bb5f3 76.5px,#a6defa 81.5px,#caedfc 84.5px,#fff 85.5px,#fff 114.5px,#cfeffd 115.5px,#91d0f8 117.5px,#72baf4 118.5px,#549cf1 119.5px,#1223fc 120.5px,#090ffa 121.5px,#292ad7 122.5px,#5b5ba4 123.5px,#dcdc20 125.5px,#fefb01 126.5px,#ffe613 129.5px,#ff9b35 134.5px,#ff7c3b 137.5px,#ff4d29 140.5px,#fd3820 156.5px,#fa2d1b 220.5px)"></i><i style="background:linear-gradient(#fb311d .5px,#fb311d 7.5px,#ff5f31 11.5px,#ff843b 16.5px,#ffa034 21.5px,#ffe116 31.5px,#fefb01 41.5px,#f6f607 43.5px,#ecec11 44.5px,#c1c139 47.5px,#82827d 51.5px,#3d3dc2 57.5px,#0b0ff6 64.5px,#090efa 65.5px,#1428fc 72.5px,#4f96f1 74.5px,#67b2f3 76.5px,#99d5f9 80.5px,#cbedfc 84.5px,#fff 85.5px,#fff 114.5px,#ceeffc 115.5px,#94d2f8 117.5px,#5ba4f2 119.5px,#1d3afa 120.5px,#0e19fb 121.5px,#0e12f3 122.5px,#2c2ed3 123.5px,#55a 124.5px,#caca30 126.5px,#f8f705 127.5px,#fff803 128.5px,#ffe116 131.5px,#ffa034 135.5px,#ff823c 138.5px,#ff5d30 141.5px,#ff562d 142.5px,#fe4726 148.5px,#fe3d22 158.5px,#fb331d 220.5px)"></i><i style="background:linear-gradient(#ff4c29 .5px,#ff512b 9.5px,#ff823c 15.5px,#ff9d35 20.5px,#ffbd28 24.5px,#ffdf18 30.5px,#fefc01 42.5px,#f3f30a 45.5px,#c0c03a 49.5px,#767689 54.5px,#4242bd 58.5px,#090efa 66.5px,#1325fc 72.5px,#2041f9 73.5px,#4a91f0 74.5px,#65aff3 76.5px,#9bd7f9 80.5px,#d1f0fd 84.5px,#fff 85.5px,#fff 114.5px,#ceeefc 115.5px,#99d6f9 117.5px,#65b0f3 119.5px,#4c93f0 120.5px,#1223fc 121.5px,#0b0ef7 123.5px,#3939c6 125.5px,#5e5ea1 126.5px,#f5f508 129.5px,#fffa02 130.5px,#ffda1a 134.5px,#ffaa30 137.5px,#ff893a 140.5px,#ff6533 144.5px,#ff4d29 151.5px,#fe4123 181.5px,#fe3c21 220.5px)"></i><i style="background:linear-gradient(#fb311d .5px,#fc351e 9.5px,#ff6b36 14.5px,#ff863b 18.5px,#ffdf17 33.5px,#fffb01 44.5px,#f5f508 47.5px,#c3c337 51.5px,#4242bd 60.5px,#0c10f6 66.5px,#090ffa 67.5px,#1325fc 72.5px,#1e3dfa 73.5px,#4a91f0 74.5px,#74bcf4 77.5px,#9fdaf9 80.5px,#caedfc 83.5px,#fff 84.5px,#fff 114.5px,#cdeefc 115.5px,#9fdaf9 117.5px,#5aa3f2 120.5px,#3972f3 121.5px,#1223fc 122.5px,#0a10fa 124.5px,#1216ef 125.5px,#3536ca 127.5px,#4e4eb1 128.5px,#6c6c93 129.5px,#f4f409 132.5px,#fffb01 133.5px,#ffe017 137.5px,#ffa233 141.5px,#ff823c 144.5px,#ff562d 155.5px,#fe4726 220.5px)"></i><i style="background:linear-gradient(#fb311d .5px,#fb311d 11.5px,#ff6132 15.5px,#ff853b 20.5px,#ffde18 35.5px,#fffb01 44.5px,#f1f10c 47.5px,#c5c535 50.5px,#949469 53.5px,#4141be 59.5px,#090df9 65.5px,#1326fc 71.5px,#2549f8 72.5px,#4c93f1 73.5px,#66b0f3 75.5px,#9bd7f9 79.5px,#d1f0fd 83.5px,#fff 84.5px,#fff 114.5px,#bfe8fc 115.5px,#a6dffa 116.5px,#5ca5f2 119.5px,#366cf4 120.5px,#1121fb 121.5px,#0b0ff7 123.5px,#3435cb 125.5px,#5252ad 126.5px,#767689 127.5px,#dcdc1f 129.5px,#fbf903 130.5px,#ffe315 134.5px,#ffa731 138.5px,#ff873b 141.5px,#ff6b36 145.5px,#ff512b 152.5px,#fe4123 220.5px)"></i><i style="background:linear-gradient(#fb311d .5px,#fb311d 7.5px,#ff592e 10.5px,#ff863b 16.5px,#ffa333 21.5px,#ffdf17 30.5px,#fefb01 40.5px,#f6f507 42.5px,#e9e913 43.5px,#bebe3c 46.5px,#8c8c71 49.5px,#3939c6 56.5px,#090dfa 63.5px,#162cfc 70.5px,#3d79f2 71.5px,#5198f1 72.5px,#68b3f3 74.5px,#9ad6f9 78.5px,#cbedfc 82.5px,#fff 83.5px,#fff 114.5px,#bce7fb 115.5px,#9fdaf9 116.5px,#66b0f3 118.5px,#4a90f0 119.5px,#1020fb 120.5px,#0a10fa 121.5px,#1e20e3 122.5px,#3b3bc4 123.5px,#6d6d92 124.5px,#e2e21a 126.5px,#fffc00 127.5px,#ffdb1a 131.5px,#ff9c35 135.5px,#ff7d3b 138.5px,#ff592f 141.5px,#fe4626 148.5px,#fe3f22 157.5px,#fc331e 220.5px)"></i><i style="background:linear-gradient(#fe3e22 .5px,#fe4525 2.5px,#ff6634 5.5px,#ff823c 9.5px,#ffa233 15.5px,#ffe116 24.5px,#fdfa02 34.5px,#f5f508 36.5px,#c0c03a 40.5px,#82827c 44.5px,#3b3bc4 51.5px,#090efa 60.5px,#1428fc 68.5px,#2952f7 69.5px,#4b92f0 70.5px,#6cb6f3 73.5px,#a4ddfa 78.5px,#d1f0fd 82.5px,#fff 83.5px,#fff 114.5px,#b9e6fb 115.5px,#7ac0f5 117.5px,#5ba4f2 118.5px,#1427fc 119.5px,#0b13fa 120.5px,#2224df 121.5px,#5151ae 122.5px,#d3d328 124.5px,#fcfa02 125.5px,#ffdb19 129.5px,#ff9c35 133.5px,#ff7e3b 136.5px,#ff6232 138.5px,#ff4d29 139.5px,#fd3820 155.5px,#fa2d1b 220.5px)"></i><i style="background:linear-gradient(#ff7c3b .5px,#ffa333 8.5px,#ffe017 17.5px,#fefb01 27.5px,#f0f00d 30.5px,#c0c03a 34.5px,#888876 38.5px,#4242bd 46.5px,#090efa 57.5px,#1427fc 66.5px,#254bf8 67.5px,#498ff0 68.5px,#70b9f4 72.5px,#a3ddfa 77.5px,#cceefc 81.5px,#fff 82.5px,#fff 114.5px,#b7e5fb 115.5px,#77bef5 117.5px,#58a1f2 118.5px,#1325fc 119.5px,#090efa 120.5px,#2d2ed3 121.5px,#696996 122.5px,#aeae4d 123.5px,#ecec11 124.5px,#fffa02 125.5px,#ffe315 128.5px,#ffb02d 131.5px,#ff9736 133.5px,#ff7839 136.5px,#fe4827 139.5px,#fc361f 155.5px,#fa2b1a 220.5px)"></i><i style="background:linear-gradient(#ff6e37 .5px,#ff803c 3.5px,#ff9f34 9.5px,#ffe216 19.5px,#fdfa02 29.5px,#efef0e 32.5px,#bbbb40 36.5px,#83837c 40.5px,#5f5fa0 42.5px,#44b 45.5px,#090efa 57.5px,#1326fc 66.5px,#1a34fb 67.5px,#3d79f2 68.5px,#4f96f1 69.5px,#6fb8f4 72.5px,#a5defa 77.5px,#d1f0fd 81.5px,#fff 82.5px,#fff 114.5px,#b8e6fb 115.5px,#99d6f9 116.5px,#5ca5f2 118.5px,#152afc 119.5px,#0c14fb 120.5px,#1e20e3 121.5px,#4747b8 122.5px,#c9c932 124.5px,#f9f805 125.5px,#fff704 126.5px,#ffdf18 129.5px,#ffac2f 132.5px,#ff8a3a 135.5px,#ff7439 137.5px,#ff532c 139.5px,#ff4c29 140.5px,#fd3920 155.5px,#fa2e1b 220.5px)"></i><i style="background:linear-gradient(#ff4c28 .5px,#ff4d29 3.5px,#ff6b36 6.5px,#ff853b 10.5px,#ffa034 15.5px,#ffe017 24.5px,#fffc00 34.5px,#f1f10b 37.5px,#bcbc3e 41.5px,#70708f 46.5px,#3b3bc5 51.5px,#080cfa 59.5px,#1427fc 67.5px,#2850f7 68.5px,#4b92f0 69.5px,#6eb7f4 72.5px,#a8dffa 77.5px,#cbedfc 80.5px,#fff 81.5px,#fff 114.5px,#bae6fb 115.5px,#80c4f6 117.5px,#64aef3 118.5px,#488ef0 119.5px,#101efb 120.5px,#090efa 121.5px,#4141be 123.5px,#75758a 124.5px,#b3b348 125.5px,#ebeb12 126.5px,#fffb01 127.5px,#ffe514 130.5px,#ff9a36 135.5px,#ff7b3a 138.5px,#ff582e 141.5px,#fe4626 148.5px,#fe3e22 157.5px,#fb331d 220.5px)"></i><i style="background:linear-gradient(#fb311d .5px,#fb311d 6.5px,#ff6031 10.5px,#ff853b 15.5px,#ffa133 20.5px,#ffde18 29.5px,#fefc01 39.5px,#eded0f 42.5px,#c3c337 45.5px,#83837b 49.5px,#4343bc 54.5px,#080cfa 61.5px,#1325fc 67.5px,#1b36fa 68.5px,#478ef0 69.5px,#6cb6f3 72.5px,#9fdaf9 76.5px,#d1f0fd 80.5px,#fff 81.5px,#fff 114.5px,#bce7fb 115.5px,#a2dcfa 116.5px,#6eb8f4 118.5px,#559df1 119.5px,#1428fc 120.5px,#0a10fa 122.5px,#181be9 123.5px,#4c4cb3 125.5px,#73738c 126.5px,#dddd1f 128.5px,#fcfa03 129.5px,#ffe216 133.5px,#ffa433 137.5px,#ff843b 140.5px,#ff6533 144.5px,#ff4e29 151.5px,#fe4224 180.5px,#fe3d21 220.5px)"></i><i style="background:linear-gradient(#ff532c .5px,#ff582e 8.5px,#ff843b 14.5px,#ffa034 19.5px,#ffc226 23.5px,#ffe315 29.5px,#fefb01 40.5px,#f2f20b 43.5px,#bfbf3c 47.5px,#3b3bc4 56.5px,#090df9 62.5px,#1427fc 68.5px,#3468f4 69.5px,#5098f1 70.5px,#6bb5f3 72.5px,#a1dbfa 76.5px,#caedfc 79.5px,#fff 80.5px,#fff 114.5px,#bfe8fc 115.5px,#7ac0f5 118.5px,#4d94f1 120.5px,#1327fc 121.5px,#0a0ef8 124.5px,#3e3ec1 127.5px,#7a7a85 129.5px,#dbdb21 131.5px,#faf804 132.5px,#fff803 133.5px,#ffe514 136.5px,#ff9d35 141.5px,#ff7d3b 144.5px,#ff572e 154.5px,#fe4826 220.5px)"></i><i style="background:linear-gradient(#ff6634 .5px,#ff6935 9.5px,#ff843b 13.5px,#ff9b35 17.5px,#ffc226 22.5px,#ffdf17 27.5px,#fefb01 40.5px,#f3f30a 44.5px,#b9b941 49.5px,#787887 54.5px,#3a3ac6 58.5px,#0d10f5 63.5px,#090efa 64.5px,#1224fc 68.5px,#1b36fa 69.5px,#4a91f0 70.5px,#76bdf4 73.5px,#a2dcfa 76.5px,#ceeefc 79.5px,#fff 80.5px,#fff 114.5px,#bce7fb 115.5px,#a3ddfa 116.5px,#71b9f4 118.5px,#58a1f2 119.5px,#2447f8 120.5px,#101ffb 121.5px,#0b13fb 122.5px,#1013f2 123.5px,#3a3ac5 125.5px,#878777 127.5px,#bdbd3d 128.5px,#eded10 129.5px,#fffc00 130.5px,#ffdf17 134.5px,#ffa134 138.5px,#ff833c 141.5px,#ff6834 145.5px,#ff502a 152.5px,#fe4023 220.5px)"></i><i style="background:linear-gradient(#ff502a .5px,#ff552c 9.5px,#ff843b 15.5px,#ffa034 20.5px,#ffc127 24.5px,#ffe117 30.5px,#fffc00 42.5px,#f6f607 45.5px,#bebe3c 50.5px,#7b7b84 55.5px,#3939c7 59.5px,#080dfa 64.5px,#1223fc 68.5px,#1c38fa 69.5px,#4b92f0 70.5px,#69b4f3 72.5px,#a5defa 76.5px,#c4eafc 78.5px,#fff 79.5px,#fff 114.5px,#b9e6fb 115.5px,#80c4f6 117.5px,#63adf2 118.5px,#478df0 119.5px,#101efb 120.5px,#090efa 121.5px,#44b 123.5px,#787887 124.5px,#b7b743 125.5px,#efef0e 126.5px,#fffa01 127.5px,#ffe414 130.5px,#ffa532 134.5px,#ff853b 137.5px,#ff582e 141.5px,#fe4827 147.5px,#fe3e22 157.5px,#fb331d 220.5px)"></i><i style="background:linear-gradient(#fe4826 .5px,#ff502a 9.5px,#ff6f37 12.5px,#ff833c 15.5px,#ff9f34 20.5px,#ffbf27 24.5px,#ffe017 30.5px,#fdfb01 42.5px,#efef0e 45.5px,#caca31 48.5px,#75758a 54.5px,#4343bc 57.5px,#080dfa 63.5px,#1427fc 68.5px,#478df0 69.5px,#71baf4 72.5px,#9dd8f9 75.5px,#c9ecfc 78.5px,#fff 79.5px,#fff 114.5px,#b7e5fb 115.5px,#79bff5 117.5px,#5aa2f2 118.5px,#1326fc 119.5px,#0a11fa 120.5px,#2526dc 121.5px,#5757a8 122.5px,#d9d922 124.5px,#fefb01 125.5px,#ffe613 128.5px,#ff9b35 133.5px,#ff7d3b 136.5px,#ff4c28 139.5px,#fd381f 155.5px,#fa2d1b 220.5px)"></i><i style="background:linear-gradient(#fe4726 .5px,#ff4f2a 8.5px,#ff6e37 11.5px,#ff823c 14.5px,#ff9f34 19.5px,#ffbf27 23.5px,#ffe216 29.5px,#fefb01 40.5px,#f0f00d 43.5px,#c9c931 46.5px,#3838c7 56.5px,#0c0ff6 61.5px,#090ffa 62.5px,#1427fc 67.5px,#3a73f3 68.5px,#5199f1 69.5px,#6cb6f3 71.5px,#a4ddfa 75.5px,#cdeefc 78.5px,#fff 79.5px,#fff 114.5px,#b7e5fb 115.5px,#77bef5 117.5px,#58a0f2 118.5px,#1224fc 119.5px,#090efa 120.5px,#2d2ed3 121.5px,#696996 122.5px,#aeae4d 123.5px,#ecec11 124.5px,#fffa02 125.5px,#ffe315 128.5px,#ffb12d 131.5px,#ff9736 133.5px,#ff783a 136.5px,#fe4927 139.5px,#fc361f 155.5px,#fa2b1a 220.5px)"></i><i style="background:linear-gradient(#fe3c21 .5px,#fe3f22 5.5px,#ff6935 9.5px,#ff843b 13.5px,#ffa034 18.5px,#ffc027 22.5px,#ffe315 28.5px,#fdfb01 38.5px,#f6f607 40.5px,#c5c536 44.5px,#7b7b84 49.5px,#3838c7 54.5px,#080dfa 60.5px,#1427fc 66.5px,#3366f5 67.5px,#5097f1 68.5px,#69b4f3 70.5px,#9dd9f9 74.5px,#c4ebfc 77.5px,#fff 78.5px,#fff 114.5px,#b8e6fb 115.5px,#7ac0f5 117.5px,#5ca5f2 118.5px,#152bfc 119.5px,#0c15fb 120.5px,#1d1fe4 121.5px,#4545ba 122.5px,#c6c634 124.5px,#f8f706 125.5px,#fff804 126.5px,#ffe017 129.5px,#ffad2f 132.5px,#ff8b3a 135.5px,#ff7539 137.5px,#ff552c 139.5px,#ff4d29 140.5px,#fd3920 156.5px,#fa2e1b 220.5px)"></i><i style="background:linear-gradient(#ff5e30 .5px,#ff6332 2.5px,#ff853b 7.5px,#ffa034 12.5px,#ffe315 22.5px,#fefb01 32.5px,#f5f508 35.5px,#baba41 40.5px,#64649b 46.5px,#4242bd 49.5px,#0b0ff7 57.5px,#090efa 58.5px,#1428fc 65.5px,#3366f5 66.5px,#4f96f1 67.5px,#73bbf4 70.5px,#a4ddfa 74.5px,#c9ecfc 77.5px,#fff 78.5px,#fff 114.5px,#bae6fb 115.5px,#80c4f6 117.5px,#64aef3 118.5px,#488ef0 119.5px,#101ffb 120.5px,#090ffa 121.5px,#3d3dc2 123.5px,#70708f 124.5px,#e5e517 126.5px,#fffc00 127.5px,#ffda1a 131.5px,#ff9b35 135.5px,#ff7d3b 138.5px,#ff592e 141.5px,#fe4626 148.5px,#fd3920 177.5px,#fc331e 220.5px)"></i><i style="background:linear-gradient(#ff863b .5px,#ffa432 6.5px,#ffe315 16.5px,#fffb01 25.5px,#f6f607 29.5px,#c0c03a 34.5px,#787887 40.5px,#55a 42.5px,#4242bd 44.5px,#090dfa 55.5px,#1428fc 64.5px,#2d59f6 65.5px,#4d94f1 66.5px,#6fb9f4 69.5px,#9ed9f9 73.5px,#cdeefc 77.5px,#fff 78.5px,#fff 114.5px,#bce7fb 115.5px,#a2dcfa 116.5px,#6fb8f4 118.5px,#569ef1 119.5px,#172ffb 120.5px,#0a11fa 122.5px,#1619eb 123.5px,#4747b8 125.5px,#6d6d92 126.5px,#d4d427 128.5px,#f9f804 129.5px,#fff803 130.5px,#ffe415 133.5px,#ffa731 137.5px,#ff863b 140.5px,#ff6634 144.5px,#ff4e2a 151.5px,#fe4224 181.5px,#fe3d22 220.5px)"></i><i style="background:linear-gradient(#fb311d .5px,#fb311d 2.5px,#ff592f 5.5px,#ff843b 11.5px,#ff9f34 16.5px,#ffe216 26.5px,#fffc00 35.5px,#f1f10c 38.5px,#bbbb3f 42.5px,#8e8e6f 45.5px,#4242bd 51.5px,#080cfa 58.5px,#1325fc 64.5px,#1931fb 65.5px,#468cf0 66.5px,#6bb6f3 69.5px,#aae0fa 74.5px,#d0effd 77.5px,#fff 78.5px,#fff 114.5px,#bee8fc 115.5px,#7bc0f5 118.5px,#4e95f1 120.5px,#1427fc 121.5px,#080cfa 124.5px,#3b3bc5 127.5px,#73738c 129.5px,#d2d229 131.5px,#f7f706 132.5px,#fffa02 133.5px,#ffdc19 137.5px,#ff9e34 141.5px,#ff7e3b 144.5px,#ff572e 154.5px,#fe4827 220.5px)"></i><i style="background:linear-gradient(#fb311d .5px,#fc341e 7.5px,#ff5d30 10.5px,#ff833c 15.5px,#ff9f34 20.5px,#ffe117 30.5px,#fdfb02 39.5px,#f6f508 41.5px,#e9e913 42.5px,#c0c03b 45.5px,#3a3ac5 54.5px,#0c10f6 59.5px,#090ffa 60.5px,#1326fc 65.5px,#2346f8 66.5px,#4c92f0 67.5px,#74bcf4 70.5px,#9dd9f9 73.5px,#c7ebfc 76.5px,#fff 77.5px,#fff 114.5px,#bce7fb 115.5px,#a2dcfa 116.5px,#6fb8f4 118.5px,#569ff1 119.5px,#1c39fa 120.5px,#0f1dfb 121.5px,#0a12fa 122.5px,#1316ee 123.5px,#4040bf 125.5px,#669 126.5px,#caca31 128.5px,#f6f607 129.5px,#fffa02 130.5px,#ffdb1a 134.5px,#ff9e35 138.5px,#ff8a3a 140.5px,#ff6935 144.5px,#ff502a 151.5px,#fe4325 181.5px,#fe3f22 220.5px)"></i><i style="background:linear-gradient(#fb311d .5px,#fb311d 7.5px,#ff6132 11.5px,#ff863b 16.5px,#ffe315 31.5px,#fffc00 40.5px,#f3f309 43.5px,#bebe3c 47.5px,#4242bd 55.5px,#090efa 61.5px,#1327fc 66.5px,#366cf4 67.5px,#529af1 68.5px,#70b9f4 70.5px,#9dd8f9 73.5px,#caedfc 76.5px,#fff 77.5px,#fff 114.5px,#b9e6fb 115.5px,#9cd7f9 116.5px,#62acf2 118.5px,#4284f1 119.5px,#0f1dfb 120.5px,#080cfa 121.5px,#4b4bb4 123.5px,#82827c 124.5px,#c1c139 125.5px,#f6f607 126.5px,#fff902 127.5px,#ffe315 130.5px,#ffa233 134.5px,#ff833c 137.5px,#ff562d 141.5px,#fe4726 147.5px,#fe3d22 157.5px,#fb321d 220.5px)"></i><i style="background:linear-gradient(#fb311d .5px,#fb311d 8.5px,#fc361f 9.5px,#ff542c 11.5px,#ff6835 13.5px,#ff853b 17.5px,#ffe017 32.5px,#fffb00 42.5px,#f5f508 45.5px,#c2c238 49.5px,#797986 54.5px,#4040bf 57.5px,#080cfa 62.5px,#172efb 67.5px,#4a91f0 68.5px,#6bb5f3 70.5px,#9dd8f9 73.5px,#cfeffd 76.5px,#fff 77.5px,#fff 114.5px,#b7e5fb 115.5px,#78bef5 117.5px,#59a1f2 118.5px,#1326fc 119.5px,#0a11fa 120.5px,#2728d9 121.5px,#5b5ba4 122.5px,#dede1e 124.5px,#fffc00 125.5px,#ffe513 128.5px,#ff9a36 133.5px,#ff7c3a 136.5px,#ff4b28 139.5px,#fd381f 155.5px,#fa2c1b 220.5px)"></i><i style="background:linear-gradient(#fc361f .5px,#fe3f22 9.5px,#ff5b2f 11.5px,#ff823c 16.5px,#ffbd28 25.5px,#ffe216 32.5px,#fefc01 43.5px,#f4f409 46.5px,#c5c536 50.5px,#72728d 56.5px,#3838c8 59.5px,#090cf9 63.5px,#1325fc 67.5px,#2d5af6 68.5px,#549cf1 69.5px,#78bff5 71.5px,#c2e9fc 75.5px,#fff 76.5px,#fff 114.5px,#b6e5fb 115.5px,#77bef5 117.5px,#57a0f1 118.5px,#1224fc 119.5px,#090efa 120.5px,#2d2ed3 121.5px,#696996 122.5px,#aeae4d 123.5px,#ecec11 124.5px,#fffa02 125.5px,#ffe315 128.5px,#ffb12d 131.5px,#ff9836 133.5px,#ff783a 136.5px,#fe4927 139.5px,#fc361f 155.5px,#fa2c1a 220.5px)"></i><i style="background:linear-gradient(#fe3d22 .5px,#fe4224 8.5px,#ff6b36 12.5px,#ff863b 16.5px,#ffbd29 24.5px,#ffe216 31.5px,#fefb01 42.5px,#f2f20b 45.5px,#c1c139 49.5px,#7c7c83 54.5px,#3636ca 58.5px,#0a0ef8 62.5px,#1223fc 66.5px,#172efb 67.5px,#4b92f0 68.5px,#6eb8f4 70.5px,#a4ddfa 73.5px,#c8ecfc 75.5px,#fff 76.5px,#fff 114.5px,#b7e5fb 115.5px,#7ac0f5 117.5px,#5ca5f2 118.5px,#162cfc 119.5px,#0c15fb 120.5px,#1c1ee5 121.5px,#4242bd 122.5px,#c3c337 124.5px,#f7f706 125.5px,#fff803 126.5px,#ffe117 129.5px,#ff9f34 133.5px,#ff823c 136.5px,#ff4e29 140.5px,#fd3920 156.5px,#fa2e1b 220.5px)"></i><i style="background:linear-gradient(#fb311d .5px,#fb311d 9.5px,#ff582e 12.5px,#ff813c 17.5px,#ffa432 23.5px,#ffde18 32.5px,#fffb01 41.5px,#f3f30a 44.5px,#bbbb3f 48.5px,#3939c7 56.5px,#0e12f4 60.5px,#090efa 61.5px,#1428fc 66.5px,#488ef0 67.5px,#69b3f3 69.5px,#9bd7f9 72.5px,#cdeefc 75.5px,#fff 76.5px,#fff 114.5px,#b9e6fb 115.5px,#80c4f6 117.5px,#64aef3 118.5px,#488ff0 119.5px,#101ffb 120.5px,#0a10fa 121.5px,#1e20e3 122.5px,#3a3ac5 123.5px,#6b6b94 124.5px,#dfdf1d 126.5px,#fefb01 127.5px,#ffdc19 131.5px,#ff9d35 135.5px,#ff7e3b 138.5px,#ff5a2f 141.5px,#fe4726 148.5px,#fd3a20 178.5px,#fc341e 220.5px)"></i><i style="background:linear-gradient(#fb311d .5px,#fb311d 7.5px,#ff592f 10.5px,#ff813c 15.5px,#ffa433 21.5px,#ffe017 30.5px,#fffb01 38.5px,#f2f20b 41.5px,#b9b941 45.5px,#3f3fc0 53.5px,#090dfa 59.5px,#152afc 65.5px,#478df0 66.5px,#75bcf4 69.5px,#a4ddfa 72.5px,#c3eafc 74.5px,#fff 75.5px,#fff 114.5px,#bce7fb 115.5px,#a2dcfa 116.5px,#6fb8f4 118.5px,#569ef1 119.5px,#1b35fa 120.5px,#0f1dfb 121.5px,#0a11fa 122.5px,#1417ed 123.5px,#4242bd 125.5px,#686897 126.5px,#cccc2e 128.5px,#f7f606 129.5px,#fff902 130.5px,#ffe513 133.5px,#ffaa30 137.5px,#ff893a 140.5px,#ff6835 144.5px,#ff4f2a 151.5px,#fe4324 181.5px,#fe3e22 220.5px)"></i><i style="background:linear-gradient(#fe3e22 .5px,#ff592f 2.5px,#ff6b36 4.5px,#ff853b 8.5px,#ffa034 13.5px,#ffdf18 22.5px,#fefb01 32.5px,#f1f10c 35.5px,#bfbf3b 39.5px,#858579 43.5px,#3c3cc3 49.5px,#0a0ef8 56.5px,#090ffa 57.5px,#1325fc 63.5px,#1c37fa 64.5px,#488ef0 65.5px,#72baf4 68.5px,#9dd9f9 71.5px,#c8ecfc 74.5px,#fff 75.5px,#fff 114.5px,#bee8fc 115.5px,#7bc1f5 118.5px,#4f96f1 120.5px,#1427fc 121.5px,#080dfa 124.5px,#3838c7 127.5px,#5151ae 128.5px,#6e6e91 129.5px,#f4f409 132.5px,#fffb01 133.5px,#ffdf17 137.5px,#ffa034 141.5px,#ff7f3b 144.5px,#ff582e 154.5px,#fe4927 220.5px)"></i><i style="background:linear-gradient(#ff813c .5px,#ffa333 7.5px,#ffe017 16.5px,#fefb01 26.5px,#f5f508 29.5px,#bbbb3f 34.5px,#7a7a84 39.5px,#3d3dc2 45.5px,#080dfa 54.5px,#1327fc 62.5px,#2347f8 63.5px,#4a91f0 64.5px,#71b9f4 67.5px,#a5defa 71.5px,#cdeefc 74.5px,#fff 75.5px,#fff 114.5px,#bbe7fb 115.5px,#6eb7f4 118.5px,#559df1 119.5px,#152afc 120.5px,#0a10fa 122.5px,#1619eb 123.5px,#4848b7 125.5px,#6e6e91 126.5px,#d6d626 128.5px,#faf804 129.5px,#fff803 130.5px,#ffe415 133.5px,#ffa731 137.5px,#ff863b 140.5px,#ff6634 144.5px,#ff4e2a 151.5px,#fe4224 181.5px,#fe3e22 220.5px)"></i><i style="background:linear-gradient(#ff6232 .5px,#ff7f3b 4.5px,#ff9f34 10.5px,#ffe315 20.5px,#fdfa02 30.5px,#eded0f 33.5px,#bebe3c 37.5px,#6c6c93 43.5px,#3f3fc0 47.5px,#0a0ef7 55.5px,#090efa 56.5px,#1427fc 63.5px,#2851f7 64.5px,#4e95f1 65.5px,#6bb5f3 67.5px,#a5defa 71.5px,#d1f0fd 74.5px,#fff 75.5px,#fff 114.5px,#b8e6fb 115.5px,#9bd7f9 116.5px,#60aaf2 118.5px,#3971f3 119.5px,#0f1bfb 120.5px,#0b0ef7 121.5px,#2a2bd6 122.5px,#5353ac 123.5px,#caca31 125.5px,#f8f705 126.5px,#fff804 127.5px,#ffe116 130.5px,#ffa034 134.5px,#ff823c 137.5px,#ff5b2f 140.5px,#fe4626 147.5px,#fe3d21 157.5px,#fb321d 220.5px)"></i><i style="background:linear-gradient(#ff502a .5px,#ff522b 3.5px,#ff6f37 6.5px,#ff833c 9.5px,#ff9f34 14.5px,#ffdf17 23.5px,#fdfb02 34.5px,#f6f607 36.5px,#c8c832 40.5px,#4040bf 50.5px,#0a0ef8 57.5px,#090ffa 58.5px,#1428fc 64.5px,#3c77f2 65.5px,#549cf1 66.5px,#74bbf4 68.5px,#a4ddfa 71.5px,#c4ebfc 73.5px,#fff 74.5px,#fff 114.5px,#b6e5fb 115.5px,#77bef5 117.5px,#58a0f2 118.5px,#1325fc 119.5px,#0a10fa 120.5px,#292ad7 121.5px,#5f5fa0 122.5px,#e2e21a 124.5px,#fffc00 125.5px,#ffe514 128.5px,#ff9a36 133.5px,#ff7b3a 136.5px,#fe4b28 139.5px,#fc371f 155.5px,#fa2c1b 220.5px)"></i><i style="background:linear-gradient(#fc361f .5px,#fd3a20 6.5px,#ff6132 9.5px,#ff863b 14.5px,#ffe017 28.5px,#fefc00 38.5px,#f1f10c 41.5px,#bdbd3d 45.5px,#4343bc 53.5px,#090df9 59.5px,#1224fc 64.5px,#1831fb 65.5px,#4a91f0 66.5px,#6db7f3 68.5px,#a3ddfa 71.5px,#c7ecfc 73.5px,#fff 74.5px,#fff 114.5px,#b6e5fb 115.5px,#76bdf5 117.5px,#579ff1 118.5px,#1224fc 119.5px,#090efa 120.5px,#2d2ed3 121.5px,#696996 122.5px,#aeae4e 123.5px,#ebeb11 124.5px,#fffa01 125.5px,#ffe315 128.5px,#ffb12d 131.5px,#ff9836 133.5px,#ff783a 136.5px,#fe4927 139.5px,#fc371f 155.5px,#fa2c1a 220.5px)"></i><i style="background:linear-gradient(#fd3820 .5px,#fe4023 8.5px,#ff5c30 10.5px,#ff833c 15.5px,#ffa034 20.5px,#ffc027 24.5px,#ffe116 30.5px,#fdfb02 41.5px,#f6f607 43.5px,#c7c734 47.5px,#80807f 52.5px,#3a3ac6 56.5px,#090efa 61.5px,#1224fc 65.5px,#254af8 66.5px,#529af1 67.5px,#66b0f3 68.5px,#a2dcfa 71.5px,#caedfc 73.5px,#fff 74.5px,#fff 114.5px,#b7e5fb 115.5px,#7ac0f5 117.5px,#5ca5f2 118.5px,#172dfb 119.5px,#0c15fb 120.5px,#1b1de6 121.5px,#4040bf 122.5px,#c0c03b 124.5px,#f6f607 125.5px,#fff903 126.5px,#ffe216 129.5px,#ffa034 133.5px,#ff823c 136.5px,#ff4e2a 140.5px,#fd3920 156.5px,#fa2e1c 220.5px)"></i><i style="background:linear-gradient(#ff6232 .5px,#ff6533 8.5px,#ff813c 12.5px,#ff9e35 17.5px,#ffc624 22.5px,#ffe216 27.5px,#fcfa02 41.5px,#f3f30a 44.5px,#bdbd3d 49.5px,#71718e 55.5px,#3939c6 58.5px,#080cfa 62.5px,#1326fc 66.5px,#478df0 67.5px,#73bbf4 69.5px,#a1dbf9 71.5px,#ceeefc 73.5px,#fff 74.5px,#fff 114.5px,#b9e6fb 115.5px,#80c4f6 117.5px,#64aff3 118.5px,#498ff0 119.5px,#1020fb 120.5px,#0a10fa 121.5px,#1c1ee5 122.5px,#3838c7 123.5px,#669 124.5px,#d8d823 126.5px,#fcfa03 127.5px,#ffdf18 131.5px,#ff9e34 135.5px,#ff803b 138.5px,#ff5d30 141.5px,#fe4827 148.5px,#fd3a20 178.5px,#fc351e 220.5px)"></i><i style="background:linear-gradient(#ff5d30 .5px,#ff6031 8.5px,#ff843b 13.5px,#ffa233 18.5px,#ffc325 22.5px,#ffdf18 27.5px,#fffc00 40.5px,#f3f30a 44.5px,#bcbc3f 49.5px,#7c7c82 54.5px,#3536ca 58.5px,#090efa 62.5px,#1428fc 66.5px,#4c93f1 67.5px,#78bff5 69.5px,#bce7fb 72.5px,#fff 73.5px,#fff 114.5px,#bbe7fb 115.5px,#6fb9f4 118.5px,#579ff1 119.5px,#1e3bfa 120.5px,#101efb 121.5px,#0b12fa 122.5px,#1215f0 123.5px,#3d3dc2 125.5px,#8e8e6f 127.5px,#c4c436 128.5px,#f4f409 129.5px,#fffb01 130.5px,#ffdd19 134.5px,#ff9f34 138.5px,#ff813c 141.5px,#ff6b36 144.5px,#ff512b 151.5px,#fe4425 181.5px,#fe3f22 220.5px)"></i><i style="background:linear-gradient(#fd3920 .5px,#fe3d21 7.5px,#fe4224 8.5px,#ff7037 12.5px,#ff843b 15.5px,#ffe216 30.5px,#fdfb01 41.5px,#eeee0f 44.5px,#c8c832 47.5px,#72728d 53.5px,#3a3ac5 56.5px,#0e12f4 60.5px,#090ffa 61.5px,#1326fc 65.5px,#4081f1 66.5px,#5aa2f2 67.5px,#98d5f8 70.5px,#c2eafc 72.5px,#fff 73.5px,#fff 114.5px,#bee8fc 115.5px,#7bc1f5 118.5px,#5097f1 120.5px,#1428fc 121.5px,#090efa 124.5px,#3536ca 127.5px,#4c4cb3 128.5px,#686897 129.5px,#8e8e70 130.5px,#bfbf3b 131.5px,#ebeb11 132.5px,#fefb01 133.5px,#ffe216 137.5px,#ffa233 141.5px,#ff803b 144.5px,#ff592e 154.5px,#fe4927 220.5px)"></i><i style="background:linear-gradient(#fe4123 .5px,#fe4425 6.5px,#ff6734 9.5px,#ff843b 13.5px,#ffa133 18.5px,#ffbb29 21.5px,#ffde18 27.5px,#fffc00 38.5px,#f2f20b 41.5px,#bfbf3b 45.5px,#3838c8 54.5px,#080cfa 59.5px,#1326fc 64.5px,#2c58f6 65.5px,#549cf1 66.5px,#67b2f3 67.5px,#a1dbfa 70.5px,#c7ecfc 72.5px,#fff 73.5px,#fff 114.5px,#bbe7fb 115.5px,#6db7f3 118.5px,#539bf1 119.5px,#1427fc 120.5px,#090ffa 122.5px,#3131cf 124.5px,#4f4fb0 125.5px,#778 126.5px,#afaf4d 127.5px,#e2e21a 128.5px,#fdfb02 129.5px,#ffe116 133.5px,#ffa233 137.5px,#ff833c 140.5px,#ff6433 144.5px,#ff4d29 151.5px,#fe4224 180.5px,#fe3d21 220.5px)"></i><i style="background:linear-gradient(#fe4726 .5px,#ff4b28 3.5px,#ff6b36 6.5px,#ff863b 10.5px,#ffa333 15.5px,#ffe117 24.5px,#fffb00 34.5px,#f6f507 37.5px,#ebeb11 38.5px,#b9b942 42.5px,#3a3ac5 51.5px,#090df9 57.5px,#1326fc 63.5px,#2a53f7 64.5px,#5299f1 65.5px,#74bcf4 67.5px,#97d4f8 69.5px,#cceefc 72.5px,#fff 73.5px,#fff 114.5px,#b8e5fb 115.5px,#9ad6f9 116.5px,#5fa9f2 118.5px,#305ff5 119.5px,#0e1afb 120.5px,#0d11f4 121.5px,#2d2ed3 122.5px,#5a5aa5 123.5px,#d2d229 125.5px,#fbf903 126.5px,#ffde18 130.5px,#ff9e35 134.5px,#ff7f3b 137.5px,#ff582e 140.5px,#fe4525 147.5px,#fe3c21 157.5px,#fb311d 220.5px)"></i><i style="background:linear-gradient(#ff6734 .5px,#ff813c 4.5px,#ffa034 10.5px,#ffe315 20.5px,#fefb01 30.5px,#f2f20b 33.5px,#c3c337 37.5px,#72728d 43.5px,#4242bd 47.5px,#080cfa 55.5px,#1427fc 62.5px,#2b55f7 63.5px,#5098f1 64.5px,#70b9f4 66.5px,#a0daf9 69.5px,#d0effd 72.5px,#fff 73.5px,#fff 114.5px,#b6e5fb 115.5px,#76bdf5 117.5px,#57a0f1 118.5px,#1224fc 119.5px,#090ffa 120.5px,#2b2cd5 121.5px,#63639c 122.5px,#a8a854 123.5px,#e6e616 124.5px,#fffb01 125.5px,#ffe414 128.5px,#ff9936 133.5px,#ff7a3a 136.5px,#fe4a28 139.5px,#fc371f 155.5px,#fa2c1b 220.5px)"></i><i style="background:linear-gradient(#ff6734 .5px,#ff813c 4.5px,#ffa034 10.5px,#ffe216 20.5px,#fefb01 30.5px,#f1f10b 33.5px,#c2c239 37.5px,#7e7e81 42.5px,#4040bf 47.5px,#090dfa 55.5px,#1428fc 62.5px,#3b76f3 63.5px,#549cf1 64.5px,#73bbf4 66.5px,#a3ddfa 69.5px,#c3eafc 71.5px,#fff 72.5px,#fff 114.5px,#b5e5fb 115.5px,#76bdf4 117.5px,#579ff1 118.5px,#1224fc 119.5px,#090efa 120.5px,#2d2ed3 121.5px,#686897 122.5px,#adad4e 123.5px,#ebeb12 124.5px,#fffa01 125.5px,#ffe315 128.5px,#ffb12d 131.5px,#ff9836 133.5px,#ff793a 136.5px,#fe4927 139.5px,#fc371f 155.5px,#fa2c1b 220.5px)"></i><i style="background:linear-gradient(#fc341e .5px,#fd3820 2.5px,#ff5f31 5.5px,#ff843c 10.5px,#ff9f34 15.5px,#ffe216 25.5px,#fffb01 34.5px,#f5f508 37.5px,#c2c238 41.5px,#4040bf 50.5px,#0b0ff7 56.5px,#090ffa 57.5px,#1325fc 62.5px,#1c38fa 63.5px,#4b92f0 64.5px,#6db7f4 66.5px,#a2dcfa 69.5px,#c6ebfc 71.5px,#fff 72.5px,#fff 114.5px,#b7e5fb 115.5px,#7ac0f5 117.5px,#5ca5f2 118.5px,#182ffb 119.5px,#0c16fb 120.5px,#191ce8 121.5px,#3d3dc2 122.5px,#7a7a85 123.5px,#bcbc3e 124.5px,#f5f508 125.5px,#fff902 126.5px,#ffe316 129.5px,#ffb02e 132.5px,#ff9736 134.5px,#ff833c 136.5px,#ff4f2a 140.5px,#fd3a20 156.5px,#fb2f1c 220.5px)"></i><i style="background:linear-gradient(#fb311d .5px,#fb311d 8.5px,#ff5c30 11.5px,#ff833c 16.5px,#ffa532 22.5px,#ffe316 31.5px,#fefc00 39.5px,#eded10 42.5px,#b3b348 46.5px,#74748b 50.5px,#3c3cc3 53.5px,#080cfa 58.5px,#1326fc 63.5px,#2952f7 64.5px,#539bf1 65.5px,#66b1f3 66.5px,#a1dbfa 69.5px,#c9ecfc 71.5px,#fff 72.5px,#fff 114.5px,#b9e6fb 115.5px,#81c4f6 117.5px,#65aff3 118.5px,#4990f0 119.5px,#1120fb 120.5px,#0a11fa 121.5px,#1a1de7 122.5px,#3636ca 123.5px,#61619e 124.5px,#d2d229 126.5px,#faf804 127.5px,#fff704 128.5px,#ffe117 131.5px,#ffa034 135.5px,#ff823c 138.5px,#ff6031 141.5px,#fe4927 148.5px,#fe4023 158.5px,#fc351e 220.5px)"></i><i style="background:linear-gradient(#fb311d .5px,#fb311d 8.5px,#ff6a35 13.5px,#ff863b 17.5px,#ffe315 32.5px,#fefb01 41.5px,#eded0f 44.5px,#c5c536 47.5px,#787887 52.5px,#3b3bc4 55.5px,#0d11f5 59.5px,#090ffa 60.5px,#1427fc 64.5px,#498ff0 65.5px,#74bcf4 67.5px,#a0dbf9 69.5px,#cceefc 71.5px,#fff 72.5px,#fff 114.5px,#bbe7fb 115.5px,#70b9f4 118.5px,#57a0f1 119.5px,#2142f9 120.5px,#101efb 121.5px,#0b13fa 122.5px,#1013f2 123.5px,#3a3ac5 125.5px,#868678 127.5px,#bcbc3e 128.5px,#ecec11 129.5px,#fffc00 130.5px,#ffe017 134.5px,#ffa233 138.5px,#ff833c 141.5px,#ff6835 145.5px,#ff502a 152.5px,#fe4023 220.5px)"></i><i style="background:linear-gradient(#fc341e .5px,#fd3b21 8.5px,#ff592e 10.5px,#ff813c 15.5px,#ff9e34 20.5px,#ffbc29 24.5px,#ffe216 31.5px,#fefb01 42.5px,#f1f10c 45.5px,#c0c03a 49.5px,#797985 54.5px,#3939c7 57.5px,#090efa 61.5px,#1223fc 64.5px,#2040f9 65.5px,#559df1 66.5px,#6db7f3 67.5px,#9fdaf9 69.5px,#d1f0fd 71.5px,#fff 72.5px,#fff 114.5px,#bde8fb 115.5px,#7ac0f5 118.5px,#4f96f1 120.5px,#1427fc 121.5px,#080dfa 124.5px,#3737c8 127.5px,#4f4fb0 128.5px,#6c6c93 129.5px,#f1f10c 132.5px,#fffc00 133.5px,#ffe017 137.5px,#ffa034 141.5px,#ff7f3b 144.5px,#ff582e 154.5px,#fe4927 220.5px)"></i><i style="background:linear-gradient(#fb311d .5px,#fb331d 8.5px,#ff5d30 11.5px,#ff843c 16.5px,#ffdf18 31.5px,#fffc00 42.5px,#f4f409 45.5px,#c2c238 49.5px,#7c7c83 54.5px,#393ac6 57.5px,#090efa 61.5px,#1223fc 64.5px,#254bf8 65.5px,#58a0f2 66.5px,#71b9f4 67.5px,#a3ddfa 69.5px,#bde8fb 70.5px,#fff 71.5px,#fff 114.5px,#bae6fb 115.5px,#6bb6f3 118.5px,#5299f1 119.5px,#1326fc 120.5px,#080dfa 122.5px,#3535cb 124.5px,#5757a8 125.5px,#83837b 126.5px,#bcbc3f 127.5px,#eeee0f 128.5px,#fffb01 129.5px,#ffdd19 133.5px,#ff9e34 137.5px,#ff8a3a 139.5px,#ff6634 143.5px,#ff4e29 150.5px,#fe4123 180.5px,#fd3c21 220.5px)"></i><i style="background:linear-gradient(#fb311d .5px,#fc351e 7.5px,#ff5d30 10.5px,#ff843b 15.5px,#ffe216 30.5px,#fffb01 40.5px,#f5f508 43.5px,#c0c03a 47.5px,#75758a 52.5px,#3939c6 55.5px,#0b0ff7 59.5px,#0a11fa 60.5px,#1223fc 63.5px,#1f3df9 64.5px,#529af1 65.5px,#68b3f3 66.5px,#7fc4f6 67.5px,#c4eafc 70.5px,#fff 71.5px,#fff 114.5px,#b7e5fb 115.5px,#99d6f9 116.5px,#5ea7f2 118.5px,#2850f7 119.5px,#0e19fb 120.5px,#1014f1 121.5px,#3132cf 122.5px,#61619e 123.5px,#dada21 125.5px,#fdfb02 126.5px,#ffdb19 130.5px,#ff9c35 134.5px,#ff7e3b 137.5px,#ff542c 140.5px,#fe4425 147.5px,#fd3c21 156.5px,#fb311c 220.5px)"></i><i style="background:linear-gradient(#fb311d .5px,#fc351e 6.5px,#ff5e31 9.5px,#ff853b 14.5px,#ffa233 19.5px,#ffdf18 28.5px,#fdfb01 38.5px,#f6f508 40.5px,#bfbf3b 44.5px,#3c3cc3 52.5px,#0a0ef8 57.5px,#0a10fa 58.5px,#1325fc 62.5px,#2347f8 63.5px,#5199f1 64.5px,#65aff3 65.5px,#a1dbfa 68.5px,#caedfc 70.5px,#fff 71.5px,#fff 114.5px,#b5e4fb 115.5px,#76bdf4 117.5px,#569ff1 118.5px,#1224fc 119.5px,#090efa 120.5px,#2d2ed3 121.5px,#676798 122.5px,#acac50 123.5px,#e9e913 124.5px,#fffb01 125.5px,#ffe415 128.5px,#ffb22d 131.5px,#ff9836 133.5px,#ff793a 136.5px,#fe4a27 139.5px,#fc371f 155.5px,#fa2c1b 220.5px)"></i><i style="background:linear-gradient(#fb311d .5px,#fc341e 4.5px,#ff5c30 7.5px,#ff823c 12.5px,#ffa432 18.5px,#ffe316 27.5px,#fcfa02 35.5px,#f3f30a 37.5px,#3e3ec1 49.5px,#090dfa 55.5px,#1327fc 61.5px,#2c59f6 62.5px,#539bf1 63.5px,#64aff3 64.5px,#99d6f9 67.5px,#ceeffc 70.5px,#fff 71.5px,#fff 114.5px,#b5e4fb 115.5px,#75bdf4 117.5px,#569ff1 118.5px,#1224fc 119.5px,#090efa 120.5px,#2d2ed3 121.5px,#686897 122.5px,#acac4f 123.5px,#eaea12 124.5px,#fffa01 125.5px,#ffe415 128.5px,#ffb12d 131.5px,#ff9836 133.5px,#ff793a 136.5px,#fe4a27 139.5px,#fc371f 155.5px,#fa2c1b 220.5px)"></i><i style="background:linear-gradient(#ff6e37 .5px,#ff853b 4.5px,#ff9e35 9.5px,#ffe216 19.5px,#fefb01 28.5px,#efef0d 31.5px,#bbbb3f 35.5px,#8e8e6f 38.5px,#3c3cc3 45.5px,#090df9 52.5px,#1325fc 59.5px,#1a33fb 60.5px,#478df0 61.5px,#75bcf4 64.5px,#a3ddfa 67.5px,#c3eafc 69.5px,#fff 70.5px,#fff 114.5px,#b6e5fb 115.5px,#7ac0f5 117.5px,#5ca5f2 118.5px,#1931fb 119.5px,#0c16fb 120.5px,#181be9 121.5px,#3b3bc4 122.5px,#767689 123.5px,#b7b743 124.5px,#f2f20b 125.5px,#fffa02 126.5px,#ffe315 129.5px,#ffb12d 132.5px,#ff9736 134.5px,#ff843c 136.5px,#ff502a 140.5px,#fd3a20 156.5px,#fb2f1c 220.5px)"></i><i style="background:linear-gradient(#ff873b .5px,#ffa034 5.5px,#ffe316 15.5px,#fffb01 24.5px,#f8f706 27.5px,#f5f508 28.5px,#baba40 33.5px,#787887 38.5px,#65659a 39.5px,#3c3cc3 43.5px,#080dfa 52.5px,#1325fc 59.5px,#1932fb 60.5px,#478df0 61.5px,#76bdf4 64.5px,#a6defa 67.5px,#c6ebfc 69.5px,#fff 70.5px,#fff 114.5px,#b8e6fb 115.5px,#65aff3 118.5px,#4a90f0 119.5px,#1121fb 120.5px,#0b12fa 121.5px,#181be9 122.5px,#3334cc 123.5px,#5c5ca3 124.5px,#cbcb2f 126.5px,#f8f706 127.5px,#fff803 128.5px,#ffe315 131.5px,#ffa233 135.5px,#ff833c 138.5px,#ff5b2f 142.5px,#fe4a27 148.5px,#fe4123 158.5px,#fc361f 220.5px)"></i><i style="background:linear-gradient(#ff4c29 .5px,#ff4f2a 1.5px,#ff6e37 4.5px,#ff823c 7.5px,#ffa432 13.5px,#ffe216 22.5px,#fefb01 32.5px,#f0f00d 35.5px,#bbbb3f 39.5px,#70708f 44.5px,#3b3bc4 48.5px,#0b0ff6 54.5px,#090efa 55.5px,#1224fc 60.5px,#172ffb 61.5px,#498ff0 62.5px,#6db6f3 64.5px,#a3ddfa 67.5px,#c8ecfc 69.5px,#fff 70.5px,#fff 114.5px,#bbe7fb 115.5px,#70b9f4 118.5px,#58a0f2 119.5px,#2448f8 120.5px,#101ffb 121.5px,#0b14fb 122.5px,#0e12f4 123.5px,#3738c8 125.5px,#7d7d82 127.5px,#b2b248 128.5px,#e3e319 129.5px,#fdfb02 130.5px,#ffe316 134.5px,#ffa532 138.5px,#ff853b 141.5px,#ff6a35 145.5px,#ff512b 152.5px,#fe4123 220.5px)"></i><i style="background:linear-gradient(#fd3920 .5px,#fd3c21 4.5px,#ff6734 8.5px,#ff843c 12.5px,#ffa034 17.5px,#ffc027 21.5px,#ffe316 27.5px,#fdfb01 37.5px,#f6f607 39.5px,#c2c239 43.5px,#4040bf 51.5px,#0d10f5 56.5px,#090ffa 57.5px,#1224fc 61.5px,#1c38fa 62.5px,#4e95f1 63.5px,#63adf2 64.5px,#a2dcfa 67.5px,#cceefc 69.5px,#fff 70.5px,#fff 114.5px,#bde8fb 115.5px,#79bff5 118.5px,#4d94f1 120.5px,#1326fc 121.5px,#090df9 124.5px,#3b3bc4 127.5px,#74748b 129.5px,#d2d229 131.5px,#f7f706 132.5px,#fffa02 133.5px,#ffdc19 137.5px,#ff9e35 141.5px,#ff7e3b 144.5px,#ff572e 154.5px,#fe4827 220.5px)"></i><i style="background:linear-gradient(#fe3d21 .5px,#fe4023 6.5px,#ff5a2f 8.5px,#ff813c 13.5px,#ff9d35 18.5px,#ffbc29 22.5px,#ffe216 29.5px,#fdfb01 40.5px,#f6f607 42.5px,#c5c536 46.5px,#7a7a84 51.5px,#3c3cc3 54.5px,#0c10f6 58.5px,#0a10fa 59.5px,#1224fc 62.5px,#254af8 63.5px,#579ff1 64.5px,#6fb8f4 65.5px,#bae6fb 68.5px,#fff 69.5px,#fff 114.5px,#b9e6fb 115.5px,#6ab5f3 118.5px,#5097f1 119.5px,#1325fc 120.5px,#090df9 122.5px,#3939c7 124.5px,#5f5fa0 125.5px,#8f8f6e 126.5px,#c7c733 127.5px,#f6f607 128.5px,#fffa02 129.5px,#ffe514 132.5px,#ffa831 136.5px,#ff873b 139.5px,#ff6332 143.5px,#ff4c29 150.5px,#fe4023 180.5px,#fd3b21 220.5px)"></i><i style="background:linear-gradient(#fb311d .5px,#fc341e 6.5px,#ff5a2f 9.5px,#ff813c 14.5px,#ffa233 20.5px,#ffe017 30.5px,#fffb01 41.5px,#f6f508 44.5px,#b9b942 49.5px,#80807f 53.5px,#3c3cc3 56.5px,#1115f0 59.5px,#090ffa 60.5px,#1325fc 63.5px,#4990f0 64.5px,#66b1f3 65.5px,#a0dbf9 67.5px,#bee8fb 68.5px,#fff 69.5px,#fff 114.5px,#b6e5fb 115.5px,#98d5f9 116.5px,#5da6f2 118.5px,#2143f9 119.5px,#0d18fb 120.5px,#1316ee 121.5px,#3435cb 122.5px,#686897 123.5px,#e2e21a 125.5px,#fffc00 126.5px,#ffe513 129.5px,#ff9b35 134.5px,#ff7c3a 137.5px,#ff532c 140.5px,#fe4625 146.5px,#fd3b21 156.5px,#fb301c 220.5px)"></i><i style="background:linear-gradient(#fe4a28 .5px,#ff4d29 5.5px,#ff833c 12.5px,#ff9e35 17.5px,#ffbd28 21.5px,#ffe216 28.5px,#fffb00 39.5px,#f6f607 42.5px,#c5c535 46.5px,#7e7e80 51.5px,#4040bf 54.5px,#0c10f6 58.5px,#0a11fa 59.5px,#1325fc 62.5px,#3a75f3 63.5px,#5ea7f2 64.5px,#92d1f8 66.5px,#c7ecfc 68.5px,#fff 69.5px,#fff 114.5px,#b5e4fb 115.5px,#75bcf4 117.5px,#569ef1 118.5px,#1223fc 119.5px,#090dfa 120.5px,#2e2fd1 121.5px,#eded10 124.5px,#fffa02 125.5px,#ffe315 128.5px,#ffb12d 131.5px,#ff9836 133.5px,#ff783a 136.5px,#fe4927 139.5px,#fc371f 155.5px,#fa2c1b 220.5px)"></i><i style="background:linear-gradient(#ff6232 .5px,#ff6634 4.5px,#ff823c 8.5px,#ffa333 14.5px,#ffe017 23.5px,#fffc00 35.5px,#f6f607 38.5px,#eded10 39.5px,#b9b941 43.5px,#3c3cc3 51.5px,#0a0ef8 56.5px,#0a10fa 57.5px,#1327fc 61.5px,#478df0 62.5px,#74bbf4 64.5px,#a1dbfa 66.5px,#cfeffd 68.5px,#fff 69.5px,#fff 114.5px,#b5e4fb 115.5px,#75bcf4 117.5px,#569ef1 118.5px,#1223fc 119.5px,#090efa 120.5px,#2d2ed3 121.5px,#676798 122.5px,#abab50 123.5px,#e9e913 124.5px,#fffb01 125.5px,#ffe415 128.5px,#ffb22d 131.5px,#ff9836 133.5px,#ff793a 136.5px,#fe4a28 139.5px,#fc371f 155.5px,#fa2c1b 220.5px)"></i><i style="background:linear-gradient(#fe4827 .5px,#ff6f37 4.5px,#ff873b 8.5px,#ffa034 13.5px,#ffe315 23.5px,#fffc00 32.5px,#f2f20b 35.5px,#bbbb40 39.5px,#4242bd 47.5px,#0d10f5 53.5px,#090efa 54.5px,#1325fc 59.5px,#1c38fa 60.5px,#4c93f1 61.5px,#73bbf4 63.5px,#c1e9fc 67.5px,#fff 68.5px,#fff 114.5px,#b6e5fb 115.5px,#79c0f5 117.5px,#5ca5f2 118.5px,#1a33fb 119.5px,#0c16fb 120.5px,#171aea 121.5px,#3939c6 122.5px,#eeee0f 125.5px,#fffa01 126.5px,#ffe415 129.5px,#ff9836 134.5px,#ff793a 137.5px,#ff512b 140.5px,#fd3a20 156.5px,#fb2f1c 220.5px)"></i><i style="background:linear-gradient(#ff7439 .5px,#ffa034 9.5px,#ffdf18 18.5px,#fffc00 27.5px,#fcfa03 28.5px,#f2f20a 30.5px,#bcbc3e 34.5px,#8d8d70 37.5px,#3939c6 44.5px,#090dfa 51.5px,#1427fc 58.5px,#2d5af6 59.5px,#529af1 60.5px,#74bbf4 62.5px,#95d3f8 64.5px,#c8ecfc 67.5px,#fff 68.5px,#fff 114.5px,#b8e6fb 115.5px,#65b0f3 118.5px,#4a91f0 119.5px,#1121fc 120.5px,#0b13fa 121.5px,#1619eb 122.5px,#3132cf 123.5px,#5757a8 124.5px,#898974 125.5px,#c5c536 126.5px,#f6f607 127.5px,#fff902 128.5px,#ffe415 131.5px,#ffa532 135.5px,#ff853b 138.5px,#ff5d30 142.5px,#fe4927 149.5px,#fe3c21 178.5px,#fc361f 220.5px)"></i><i style="background:linear-gradient(#ff7b3a .5px,#ffa134 8.5px,#ffdf18 17.5px,#fcfa02 27.5px,#f5f508 29.5px,#bfbf3b 33.5px,#82827c 37.5px,#3c3cc3 43.5px,#090df9 50.5px,#1325fc 57.5px,#1932fb 58.5px,#478df0 59.5px,#79bff5 62.5px,#abe0fa 65.5px,#cdeefc 67.5px,#fff 68.5px,#fff 114.5px,#bbe7fb 115.5px,#71b9f4 118.5px,#58a1f2 119.5px,#274ef7 120.5px,#101ffb 121.5px,#0c15fb 122.5px,#0c10f6 123.5px,#3535cb 125.5px,#75758a 127.5px,#dada21 129.5px,#faf904 130.5px,#ffe414 134.5px,#ffa931 138.5px,#ff873b 141.5px,#ff6c36 145.5px,#ff522b 152.5px,#fe4124 220.5px)"></i><i style="background:linear-gradient(#ff522b .5px,#ff6c36 3.5px,#ff843c 7.5px,#ffa134 13.5px,#ffdf18 22.5px,#fcfa02 32.5px,#f3f30a 34.5px,#baba41 38.5px,#7a7a85 42.5px,#4040bf 46.5px,#0c0ff6 52.5px,#090efa 53.5px,#1224fc 58.5px,#1830fb 59.5px,#4a90f0 60.5px,#70b9f4 62.5px,#bee8fc 66.5px,#fff 67.5px,#fff 114.5px,#bfe8fc 115.5px,#7bc0f5 118.5px,#4e95f1 120.5px,#1327fc 121.5px,#0a0df8 124.5px,#3d3dc2 127.5px,#797986 129.5px,#dada22 131.5px,#faf804 132.5px,#fff803 133.5px,#ffe513 136.5px,#ff9d35 141.5px,#ff7e3b 144.5px,#ff572e 154.5px,#fe4826 220.5px)"></i><i style="background:linear-gradient(#fd3a20 .5px,#fd3a21 1.5px,#ff6b36 6.5px,#ff833c 10.5px,#ffa133 16.5px,#ffe316 26.5px,#fdfa02 36.5px,#f5f508 38.5px,#bcbc3f 42.5px,#3738c8 50.5px,#090efa 55.5px,#1223fc 59.5px,#1831fb 60.5px,#4e95f1 61.5px,#7cc1f5 63.5px,#c1e9fc 66.5px,#fff 67.5px,#fff 114.5px,#bce7fb 115.5px,#a2dcfa 116.5px,#6cb6f3 118.5px,#529af1 119.5px,#1326fc 120.5px,#090df9 122.5px,#393ac6 124.5px,#62629d 125.5px,#cccc2f 127.5px,#f8f706 128.5px,#fff903 129.5px,#ffe414 132.5px,#ffa632 136.5px,#ff863b 139.5px,#ff6132 143.5px,#ff4b28 150.5px,#fe3f22 180.5px,#fd3a20 220.5px)"></i><i style="background:linear-gradient(#fe4626 .5px,#ff4d29 3.5px,#ff6935 6.5px,#ff823c 10.5px,#ff9f34 16.5px,#ffe216 27.5px,#fffc00 38.5px,#f2f20b 41.5px,#bebe3c 45.5px,#82827c 49.5px,#3536ca 53.5px,#1013f2 56.5px,#090efa 57.5px,#1223fc 60.5px,#1e3bfa 61.5px,#569ef1 62.5px,#8dcdf7 64.5px,#c6ebfc 66.5px,#fff 67.5px,#fff 114.5px,#bae6fb 115.5px,#9cd8f9 116.5px,#60aaf2 118.5px,#3263f5 119.5px,#0e19fb 120.5px,#1114f1 121.5px,#3333cd 122.5px,#669 123.5px,#e2e21a 125.5px,#fffc00 126.5px,#ffe513 129.5px,#ff9b35 134.5px,#ff7c3a 137.5px,#ff522b 140.5px,#fd3b21 156.5px,#fb301c 220.5px)"></i><i style="background:linear-gradient(#fb311d .5px,#fb311d 3.5px,#ff5b2f 7.5px,#ff833c 13.5px,#ff9f34 19.5px,#ffe017 29.5px,#fffc00 39.5px,#f0f00d 42.5px,#c6c634 45.5px,#787887 50.5px,#3838c8 53.5px,#090efa 57.5px,#1223fc 60.5px,#2142f9 61.5px,#58a1f2 62.5px,#93d1f8 64.5px,#cdeefc 66.5px,#fff 67.5px,#fff 114.5px,#b9e6fb 115.5px,#79bff5 117.5px,#5aa3f2 118.5px,#1326fc 119.5px,#0a10fa 120.5px,#292bd7 121.5px,#62629d 122.5px,#a7a754 123.5px,#e6e616 124.5px,#fffb01 125.5px,#ffe414 128.5px,#ffb22d 131.5px,#ff9936 133.5px,#ff7a3a 136.5px,#fe4927 139.5px,#fc371f 155.5px,#fa2c1a 220.5px)"></i><i style="background:linear-gradient(#fb311d .5px,#fb311d 3.5px,#ff5b2f 7.5px,#ff823c 13.5px,#ff9f34 19.5px,#ffdf17 28.5px,#fdfb01 37.5px,#f5f508 39.5px,#c6c634 42.5px,#3737c8 50.5px,#0c10f6 54.5px,#090ffa 55.5px,#1326fc 59.5px,#5ba4f2 61.5px,#a4ddfa 64.5px,#bce7fb 65.5px,#fff 66.5px,#fff 114.5px,#bae6fb 115.5px,#9ad6f9 116.5px,#5ba4f2 118.5px,#1427fc 119.5px,#0a12fa 120.5px,#2527db 121.5px,#5a5aa5 122.5px,#dede1e 124.5px,#fffc00 125.5px,#ffe513 128.5px,#ff9a36 133.5px,#ff7c3a 136.5px,#fe4a28 139.5px,#fc371f 155.5px,#fa2c1b 220.5px)"></i><i style="background:linear-gradient(#ff6132 .5px,#ff803c 5.5px,#ff9c35 11.5px,#ffdf18 21.5px,#fcfa02 31.5px,#f2f20b 33.5px,#b6b645 37.5px,#83837b 40.5px,#3b3bc4 45.5px,#0a0ef8 51.5px,#090ffa 52.5px,#1325fc 57.5px,#203ff9 58.5px,#4e95f1 59.5px,#75bdf4 61.5px,#9ed9f9 63.5px,#c6ebfc 65.5px,#fff 66.5px,#fff 114.5px,#bbe7fb 115.5px,#9dd8f9 116.5px,#61abf2 118.5px,#3870f3 119.5px,#0e1afb 120.5px,#1013f2 121.5px,#3132ce 122.5px,#64649b 123.5px,#dfdf1d 125.5px,#fefc00 126.5px,#ffe613 129.5px,#ff9b35 134.5px,#ff7c3b 137.5px,#ff522b 140.5px,#fd3b21 156.5px,#fb301c 220.5px)"></i><i style="background:linear-gradient(#ff9138 .5px,#ffa333 4.5px,#ffe315 14.5px,#fffb01 22.5px,#f9f805 24.5px,#f5f508 25.5px,#bebe3c 29.5px,#72728d 34.5px,#3c3cc3 39.5px,#0a0ef8 47.5px,#090efa 48.5px,#1326fc 55.5px,#1d3afa 56.5px,#498ff0 57.5px,#69b4f3 59.5px,#abe0fa 63.5px,#cceefc 65.5px,#fff 66.5px,#fff 114.5px,#bde8fb 115.5px,#a2dcfa 116.5px,#6bb5f3 118.5px,#5097f1 119.5px,#1224fc 120.5px,#0c16fb 121.5px,#0f13f2 122.5px,#4a4ab5 124.5px,#778 125.5px,#b3b348 126.5px,#e8e814 127.5px,#fffc00 128.5px,#ffdb19 132.5px,#ffaa30 135.5px,#ff893a 138.5px,#ff5e31 142.5px,#fe4927 149.5px,#fe3c21 179.5px,#fc371f 220.5px)"></i><i style="background:linear-gradient(#ff9d35 .5px,#ffe117 11.5px,#fffc00 20.5px,#f5f508 23.5px,#c0c03a 27.5px,#669 33.5px,#3f3fc0 37.5px,#090efa 47.5px,#1427fc 55.5px,#2952f7 56.5px,#4f97f1 57.5px,#6fb8f4 59.5px,#a0dbf9 62.5px,#d1f0fd 65.5px,#fff 66.5px,#fff 114.5px,#c0e9fc 115.5px,#a7dffa 116.5px,#5ea7f2 119.5px,#468cf0 120.5px,#1222fc 121.5px,#080dfa 123.5px,#4646b9 126.5px,#686897 127.5px,#c8c832 129.5px,#f5f508 130.5px,#fffa01 131.5px,#ffde18 135.5px,#ffa034 139.5px,#ff823c 142.5px,#ff6f37 145.5px,#ff542c 152.5px,#fe4726 182.5px,#fe4224 220.5px)"></i><i style="background:linear-gradient(#ff813c .5px,#ffa034 7.5px,#ffe116 17.5px,#fdfb02 27.5px,#f5f508 29.5px,#e9e914 30.5px,#bebe3c 33.5px,#6c6c93 38.5px,#3c3cc3 42.5px,#0b0ef7 49.5px,#090efa 50.5px,#1326fc 56.5px,#274ef7 57.5px,#5198f1 58.5px,#76bdf5 60.5px,#c1e9fc 64.5px,#fff 65.5px,#fff 114.5px,#c4eafc 115.5px,#7fc3f6 118.5px,#5199f1 120.5px,#1428fc 121.5px,#080cf9 124.5px,#3e3ec1 127.5px,#7c7c83 129.5px,#dddd1f 131.5px,#faf904 132.5px,#ffe514 136.5px,#ff9d35 141.5px,#ff7d3b 144.5px,#ff562d 154.5px,#fe4726 220.5px)"></i><i style="background:linear-gradient(#ff5e31 .5px,#ff833c 6.5px,#ff9e35 12.5px,#ffdf18 22.5px,#fffc00 32.5px,#efef0d 35.5px,#c3c337 38.5px,#4040bf 46.5px,#080cfa 52.5px,#1325fc 57.5px,#254bf8 58.5px,#549cf1 59.5px,#69b4f3 60.5px,#c3eafc 64.5px,#fff 65.5px,#fff 114.5px,#c2eafc 115.5px,#8ccdf7 117.5px,#579ff1 119.5px,#152afc 120.5px,#090dfa 122.5px,#3838c7 124.5px,#60609f 125.5px,#cbcb30 127.5px,#f7f706 128.5px,#fff903 129.5px,#ffe415 132.5px,#ffa532 136.5px,#ff853b 139.5px,#ff6031 143.5px,#fe4b28 150.5px,#fe3e22 179.5px,#fd3920 220.5px)"></i><i style="background:linear-gradient(#fe4726 .5px,#ff6b36 4.5px,#ff863b 9.5px,#ffa134 15.5px,#ffdf17 25.5px,#fefb01 36.5px,#f6f607 38.5px,#c2c238 42.5px,#72728d 47.5px,#3838c7 50.5px,#0a0df8 54.5px,#1224fc 58.5px,#274ef7 59.5px,#59a2f2 60.5px,#8ecef7 62.5px,#c4eafc 64.5px,#fff 65.5px,#fff 114.5px,#c1e9fc 115.5px,#a2dcfa 116.5px,#66b0f3 118.5px,#488ff0 119.5px,#0f1dfb 120.5px,#0c0ff6 121.5px,#2e2fd2 122.5px,#5f5fa0 123.5px,#dcdc20 125.5px,#fefb01 126.5px,#ffda1a 130.5px,#ff9b35 134.5px,#ff7d3b 137.5px,#ff512b 140.5px,#fd3a20 156.5px,#fb2f1c 220.5px)"></i><i style="background:linear-gradient(#ff6b36 .5px,#ff813c 4.5px,#ffa034 11.5px,#ffe017 22.5px,#fffb01 34.5px,#fcfa03 36.5px,#f5f508 38.5px,#b9b941 43.5px,#72728d 48.5px,#3737c9 51.5px,#090efa 55.5px,#1222fc 58.5px,#1c38fa 59.5px,#559ef1 60.5px,#8fcef7 62.5px,#c8ecfc 64.5px,#fff 65.5px,#fff 114.5px,#c0e9fc 115.5px,#a0dbf9 116.5px,#60aaf2 118.5px,#2952f7 119.5px,#0c15fb 120.5px,#2123e0 121.5px,#5454ab 122.5px,#dada21 124.5px,#fefb01 125.5px,#ffe513 128.5px,#ff9a35 133.5px,#ff7c3a 136.5px,#fe4927 139.5px,#fc361f 155.5px,#fa2b1a 220.5px)"></i><i style="background:linear-gradient(#ff7338 .5px,#ff833c 3.5px,#ff9e35 9.5px,#ffe017 20.5px,#fffa01 31.5px,#faf804 34.5px,#ecec11 36.5px,#c4c436 39.5px,#3939c6 48.5px,#090efa 53.5px,#1224fc 57.5px,#2447f8 58.5px,#559df1 59.5px,#6db7f3 60.5px,#9dd9f9 62.5px,#ceeefc 64.5px,#fff 65.5px,#fff 114.5px,#c0e9fc 115.5px,#a1dbfa 116.5px,#62acf2 118.5px,#3468f4 119.5px,#0d17fb 120.5px,#1c1ee5 121.5px,#4949b6 122.5px,#cece2d 124.5px,#fbf903 125.5px,#fff605 126.5px,#ffdd19 129.5px,#ffaa30 132.5px,#ff893a 135.5px,#ff7238 137.5px,#ff4d29 139.5px,#fe4a27 140.5px,#fd371f 155.5px,#fa2c1b 220.5px)"></i><i style="background:linear-gradient(#ff7037 .5px,#ff843b 4.5px,#ff9f34 10.5px,#ffe116 20.5px,#fcfa03 30.5px,#f1f10c 32.5px,#c5c535 35.5px,#73738c 40.5px,#3a3ac5 44.5px,#080cfa 50.5px,#1427fc 56.5px,#468cf0 57.5px,#6db7f3 59.5px,#bee8fb 63.5px,#fff 64.5px,#fff 114.5px,#c2e9fc 115.5px,#a4ddfa 116.5px,#68b3f3 118.5px,#4b91f0 119.5px,#101ffb 120.5px,#080dfa 121.5px,#2829d8 122.5px,#5252ad 123.5px,#cdcd2e 125.5px,#faf804 126.5px,#fff704 127.5px,#ffdf18 130.5px,#ff9e35 134.5px,#ff803b 137.5px,#ff572d 140.5px,#fe4425 147.5px,#fd3b21 157.5px,#fb301c 220.5px)"></i><i style="background:linear-gradient(#ff8e39 .5px,#ffa432 5.5px,#ffe216 14.5px,#fffa01 22.5px,#f6f607 25.5px,#c1c139 29.5px,#73738c 34.5px,#4545ba 38.5px,#090efa 47.5px,#1327fc 54.5px,#274ff7 55.5px,#4f97f1 56.5px,#70b9f4 58.5px,#a2dcfa 61.5px,#c4eafc 63.5px,#fff 64.5px,#fff 114.5px,#c3eafc 115.5px,#8dcdf7 117.5px,#569ff1 119.5px,#1428fc 120.5px,#080cfa 122.5px,#3b3bc4 124.5px,#676798 125.5px,#d5d526 127.5px,#faf904 128.5px,#ffe216 132.5px,#ffa134 136.5px,#ff833c 139.5px,#ff5e30 143.5px,#ff4b28 149.5px,#fe3d22 179.5px,#fd381f 220.5px)"></i><i style="background:linear-gradient(#ff9936 .5px,#ffac2f 4.5px,#ffe414 12.5px,#fffa02 19.5px,#f6f607 22.5px,#c2c238 26.5px,#858579 30.5px,#44b 36.5px,#080cfa 45.5px,#1427fc 53.5px,#264df8 54.5px,#4d94f1 55.5px,#6bb6f3 57.5px,#a9e0fa 61.5px,#c8ecfc 63.5px,#fff 64.5px,#fff 114.5px,#c5ebfc 115.5px,#94d2f8 117.5px,#64aef3 119.5px,#4c93f1 120.5px,#1325fc 121.5px,#0a10fa 123.5px,#1417ee 124.5px,#3a3bc5 126.5px,#7f7f7f 128.5px,#b4b447 129.5px,#e3e319 130.5px,#fdfa02 131.5px,#ffe315 135.5px,#ffa731 139.5px,#ff863b 142.5px,#ff7238 145.5px,#ff532c 153.5px,#fe4324 220.5px)"></i><i style="background:linear-gradient(#ff7e3b .5px,#ffa034 8.5px,#ffe116 17.5px,#fffc00 25.5px,#fbfa03 26.5px,#efef0d 28.5px,#c3c337 31.5px,#81817e 35.5px,#4141be 40.5px,#0a0ef8 47.5px,#090ffa 48.5px,#1327fc 54.5px,#274ef7 55.5px,#5097f1 56.5px,#72baf4 58.5px,#95d3f8 60.5px,#caedfc 63.5px,#fff 64.5px,#fff 114.5px,#c9ecfc 115.5px,#9ad6f9 117.5px,#6bb6f3 119.5px,#559df1 120.5px,#1f3df9 121.5px,#1020fb 122.5px,#080cfa 124.5px,#3e3ec1 127.5px,#7e7e80 129.5px,#b1b14a 130.5px,#dfdf1c 131.5px,#fbf903 132.5px,#ffe414 136.5px,#ff9c35 141.5px,#ff7d3b 144.5px,#ff562d 154.5px,#fe4626 220.5px)"></i><i style="background:linear-gradient(#ff7438 .5px,#ff9e35 9.5px,#ffe315 20.5px,#fefb01 29.5px,#f7f607 31.5px,#ecec10 32.5px,#c1c139 35.5px,#6f6f90 40.5px,#4242bd 43.5px,#0c10f5 49.5px,#090efa 50.5px,#1326fc 55.5px,#2a54f7 56.5px,#549cf1 57.5px,#68b2f3 58.5px,#a4ddfa 61.5px,#cceefc 63.5px,#fff 64.5px,#fff 114.5px,#c8ecfc 115.5px,#91d0f8 117.5px,#5ba4f2 119.5px,#274ef7 120.5px,#0f1dfb 121.5px,#090ffa 122.5px,#3636c9 124.5px,#5e5ea1 125.5px,#caca31 127.5px,#f7f706 128.5px,#fff903 129.5px,#ffe415 132.5px,#ffa532 136.5px,#ff853b 139.5px,#ff5f31 143.5px,#fe4a27 150.5px,#fe3d22 179.5px,#fd3820 220.5px)"></i><i style="background:linear-gradient(#ff6533 .5px,#ff823c 5.5px,#ff9c35 11.5px,#ffe017 22.5px,#fdfa02 33.5px,#f5f508 35.5px,#bfbf3b 39.5px,#3939c6 47.5px,#0e12f4 51.5px,#090ffa 52.5px,#1326fc 56.5px,#3971f3 57.5px,#5ba4f2 58.5px,#a0dbf9 61.5px,#cfeffd 63.5px,#fff 64.5px,#fff 114.5px,#c7ecfc 115.5px,#a9dffa 116.5px,#6cb6f3 118.5px,#4e95f1 119.5px,#1120fb 120.5px,#080dfa 121.5px,#292bd7 122.5px,#5858a7 123.5px,#d5d526 125.5px,#fcfa02 126.5px,#ffdc19 130.5px,#ff9c35 134.5px,#ff7e3b 137.5px,#ff512b 140.5px,#fd3a20 156.5px,#fb2f1c 220.5px)"></i><i style="background:linear-gradient(#fd3820 .5px,#ff5a2f 3.5px,#ff833c 10.5px,#ffa333 17.5px,#ffe216 26.5px,#fffc00 35.5px,#efef0e 38.5px,#c5c535 41.5px,#767689 46.5px,#3737c9 49.5px,#090dfa 53.5px,#152afc 57.5px,#5098f1 58.5px,#6ab5f3 59.5px,#b9e6fb 62.5px,#fff 63.5px,#fff 114.5px,#c7ecfc 115.5px,#a7dffa 116.5px,#67b2f3 118.5px,#488ef0 119.5px,#0e19fb 120.5px,#191be8 121.5px,#4646b9 122.5px,#cfcf2c 124.5px,#fbf903 125.5px,#ffdc19 129.5px,#ffa930 132.5px,#ff893a 135.5px,#ff7138 137.5px,#fe4a27 139.5px,#fc361f 155.5px,#fa2b1a 220.5px)"></i><i style="background:linear-gradient(#fe4927 .5px,#ff6c36 4.5px,#ff863b 9.5px,#ffa034 15.5px,#ffe117 24.5px,#fefb01 33.5px,#f6f607 35.5px,#e9e913 36.5px,#bdbd3e 39.5px,#797986 43.5px,#3f3fc0 46.5px,#080cfa 51.5px,#1223fc 55.5px,#1c38fa 56.5px,#5098f1 57.5px,#7dc2f5 59.5px,#c1e9fc 62.5px,#fff 63.5px,#fff 114.5px,#c7ecfc 115.5px,#a8dffa 116.5px,#69b4f3 118.5px,#4a91f0 119.5px,#0f1cfb 120.5px,#1216ef 121.5px,#393ac6 122.5px,#bfbf3b 124.5px,#f6f607 125.5px,#fff803 126.5px,#ffe116 129.5px,#ff9f34 133.5px,#ff823c 136.5px,#fe4a28 140.5px,#fc371f 156.5px,#fa2c1b 220.5px)"></i><i style="background:linear-gradient(#ff7739 .5px,#ffa034 9.5px,#ffe315 19.5px,#fdfa02 28.5px,#f4f409 30.5px,#b8b843 34.5px,#74748b 38.5px,#3b3bc4 42.5px,#090cf9 48.5px,#1427fc 54.5px,#3971f3 55.5px,#569ff1 56.5px,#69b3f3 57.5px,#a1dbfa 60.5px,#c7ebfc 62.5px,#fff 63.5px,#fff 114.5px,#c9ecfc 115.5px,#8dcdf7 117.5px,#6fb8f4 118.5px,#529af1 119.5px,#1223fc 120.5px,#0a12fa 121.5px,#1e20e3 122.5px,#4141be 123.5px,#797986 124.5px,#baba40 125.5px,#f3f30a 126.5px,#fffa02 127.5px,#ffe315 130.5px,#ffb12d 133.5px,#ff9836 135.5px,#ff843c 137.5px,#ff532b 141.5px,#fe4525 147.5px,#fd3b21 157.5px,#fb301c 220.5px)"></i><i style="background:linear-gradient(#ff8f39 .5px,#ffb22d 7.5px,#ffe017 13.5px,#fffc00 21.5px,#f7f606 23.5px,#eeee0e 24.5px,#c3c338 27.5px,#73738c 32.5px,#4545ba 36.5px,#0c0ff6 44.5px,#090efa 45.5px,#1427fc 52.5px,#274ff7 53.5px,#4e96f1 54.5px,#6db7f3 56.5px,#9cd8f9 59.5px,#cbedfc 62.5px,#fff 63.5px,#fff 114.5px,#cbedfc 115.5px,#95d3f8 117.5px,#5fa8f2 119.5px,#3b77f3 120.5px,#101ffb 121.5px,#0a11fa 122.5px,#181be9 123.5px,#3132ce 124.5px,#55a 125.5px,#84847a 126.5px,#bfbf3b 127.5px,#f2f20b 128.5px,#fffa01 129.5px,#ffe513 132.5px,#ffa831 136.5px,#ff873b 139.5px,#ff6031 143.5px,#fe4a28 150.5px,#fe3e22 180.5px,#fd3820 220.5px)"></i><i style="background:linear-gradient(#ffc027 .5px,#ffe414 5.5px,#fffc00 12.5px,#f5f508 15.5px,#c2c238 19.5px,#7a7a85 24.5px,#4343bc 30.5px,#090efa 41.5px,#1427fc 50.5px,#264cf8 51.5px,#4b92f0 52.5px,#72baf4 55.5px,#a7dffa 59.5px,#ceeffc 62.5px,#fff 63.5px,#fff 114.5px,#cdeefc 115.5px,#9dd8f9 117.5px,#6db7f3 119.5px,#559df1 120.5px,#1e3bfa 121.5px,#101ffb 122.5px,#0b0ff7 124.5px,#4a4ab5 127.5px,#6b6b94 128.5px,#cbcb30 130.5px,#f6f607 131.5px,#fffa01 132.5px,#ffde18 136.5px,#ffa034 140.5px,#ff823c 143.5px,#ff532c 154.5px,#fe4425 220.5px)"></i><i style="background:linear-gradient(#ff9936 .5px,#ffba2a 6.5px,#ffe117 11.5px,#fefb01 19.5px,#f7f607 21.5px,#c2c238 25.5px,#72728d 30.5px,#3c3cc3 35.5px,#0a0ef8 43.5px,#090efa 44.5px,#1326fc 51.5px,#2142f9 52.5px,#4a91f0 53.5px,#68b2f3 55.5px,#a4ddfa 59.5px,#d1effd 62.5px,#fff 63.5px,#fff 115.5px,#cbedfc 116.5px,#9cd7f9 118.5px,#6cb6f3 120.5px,#559df1 121.5px,#1f3ff9 122.5px,#1020fb 123.5px,#080cfa 125.5px,#4242bd 128.5px,#878777 130.5px,#bbbb40 131.5px,#e8e814 132.5px,#fefb01 133.5px,#ffe315 137.5px,#ffa631 141.5px,#ff863b 144.5px,#ff7d3b 145.5px,#ff552d 155.5px,#fe4525 220.5px)"></i><i style="background:linear-gradient(#ff7238 .5px,#ff813c 3.5px,#ff9f34 10.5px,#ffe415 19.5px,#fffc00 26.5px,#f6f607 28.5px,#e9e913 29.5px,#baba41 32.5px,#84847a 35.5px,#3e3ec1 40.5px,#0a0ef8 46.5px,#090ffa 47.5px,#1325fc 52.5px,#1b35fa 53.5px,#4a90f0 54.5px,#6cb6f3 56.5px,#a0daf9 59.5px,#c2eafc 61.5px,#fff 62.5px,#fff 115.5px,#cbedfc 116.5px,#94d2f8 118.5px,#5ea7f2 120.5px,#3264f5 121.5px,#0f1dfb 122.5px,#090ffa 123.5px,#3637c9 125.5px,#5f5fa0 126.5px,#cdcd2e 128.5px,#f8f705 129.5px,#fff803 130.5px,#ffe315 133.5px,#ffa333 137.5px,#ff843b 140.5px,#ff5d30 144.5px,#fe4927 151.5px,#fe3d21 180.5px,#fc371f 220.5px)"></i><i style="background:linear-gradient(#ff6935 .5px,#ff843b 5.5px,#ff9e35 11.5px,#ffe216 21.5px,#fefb01 30.5px,#f6f507 32.5px,#e9e914 33.5px,#bcbc3e 36.5px,#3738c8 44.5px,#090dfa 49.5px,#1428fc 54.5px,#4a91f0 55.5px,#72baf4 57.5px,#9bd7f9 59.5px,#c3eafc 61.5px,#fff 62.5px,#fff 115.5px,#cdeefc 116.5px,#8fcff7 118.5px,#71b9f4 119.5px,#539bf1 120.5px,#1223fc 121.5px,#090ffa 122.5px,#2527db 123.5px,#5252ad 124.5px,#d1d12a 126.5px,#fbf903 127.5px,#ffdd18 131.5px,#ffaa30 134.5px,#ff893a 137.5px,#ff7338 139.5px,#ff522b 141.5px,#ff4e29 142.5px,#fd3a20 157.5px,#fa2f1c 220.5px)"></i><i style="background:linear-gradient(#ff7c3b .5px,#ff9f34 8.5px,#ffe017 19.5px,#fffc00 30.5px,#faf904 32.5px,#f0f00c 34.5px,#c0c03a 38.5px,#7c7c82 43.5px,#3535cb 47.5px,#090efa 51.5px,#1428fc 55.5px,#4e95f1 56.5px,#7dc2f5 58.5px,#c5ebfc 61.5px,#fff 62.5px,#fff 115.5px,#ceeefc 116.5px,#8ecef7 118.5px,#6eb8f4 119.5px,#4f96f1 120.5px,#101efb 121.5px,#1013f2 122.5px,#3939c6 123.5px,#c2c238 125.5px,#f7f706 126.5px,#fff803 127.5px,#ffdf17 130.5px,#ffac2f 133.5px,#ff8b3a 136.5px,#ff7438 138.5px,#ff4f2a 140.5px,#fe4827 141.5px,#fc361f 157.5px,#fa2b1a 220.5px)"></i><i style="background:linear-gradient(#ff7539 .5px,#ff9e35 9.5px,#ffe216 20.5px,#fefb01 30.5px,#eeee0f 33.5px,#b7b743 37.5px,#4343bc 44.5px,#0c0ff6 49.5px,#0a10fa 50.5px,#1327fc 54.5px,#478df0 55.5px,#72baf4 57.5px,#9dd9f9 59.5px,#c9ecfc 61.5px,#fff 62.5px,#fff 115.5px,#d0effd 116.5px,#91d0f8 118.5px,#72baf4 119.5px,#539bf1 120.5px,#1122fc 121.5px,#080dfa 122.5px,#2d2fd2 123.5px,#669 124.5px,#a9a952 125.5px,#e7e715 126.5px,#fffb01 127.5px,#ffe414 130.5px,#ff9936 135.5px,#ff7a3a 138.5px,#ff4b28 141.5px,#fd381f 157.5px,#fa2d1b 220.5px)"></i><i style="background:linear-gradient(#ff7439 .5px,#ff833c 3.5px,#ffa233 10.5px,#ffe315 19.5px,#fefc01 27.5px,#f6f607 29.5px,#ebeb12 30.5px,#bebe3c 33.5px,#7a7a85 37.5px,#3d3dc2 41.5px,#080cfa 47.5px,#162dfb 53.5px,#4990f0 54.5px,#6eb8f4 56.5px,#a7dffa 59.5px,#cceefc 61.5px,#fff 62.5px,#fff 116.5px,#b4e4fb 117.5px,#79bff5 119.5px,#5ca5f2 120.5px,#1d3bfa 121.5px,#0d18fb 122.5px,#1215ef 123.5px,#3233cd 124.5px,#63639c 125.5px,#dcdc20 127.5px,#fdfb01 128.5px,#ffdb1a 132.5px,#ff9c35 136.5px,#ff7d3b 139.5px,#ff542c 142.5px,#fe4425 149.5px,#fe3c21 158.5px,#fb311d 220.5px)"></i><i style="background:linear-gradient(#ff8f39 .5px,#ffb12d 7.5px,#ffe017 13.5px,#fefb01 21.5px,#f6f607 23.5px,#c0c03a 27.5px,#7e7e80 31.5px,#4242bd 36.5px,#080cfa 44.5px,#1327fc 51.5px,#264df8 52.5px,#4e96f1 53.5px,#6eb7f4 55.5px,#9ed9f9 58.5px,#cfeffd 61.5px,#fff 62.5px,#fff 116.5px,#b8e6fb 117.5px,#68b2f3 120.5px,#4d94f1 121.5px,#1223fc 122.5px,#0c16fb 123.5px,#0e12f4 124.5px,#4242bd 126.5px,#6d6d92 127.5px,#dada21 129.5px,#fcfa03 130.5px,#ffe116 134.5px,#ffa134 138.5px,#ff823c 141.5px,#ff5f31 145.5px,#ff4c29 151.5px,#fe3e22 181.5px,#fd3920 220.5px)"></i><i style="background:linear-gradient(#ffb42c .5px,#ffe315 6.5px,#fffb01 13.5px,#f6f508 16.5px,#c3c338 20.5px,#878777 24.5px,#4242bd 31.5px,#090efa 41.5px,#1326fc 49.5px,#1e3bfa 50.5px,#478df0 51.5px,#70b9f4 54.5px,#a7dffa 58.5px,#d1f0fd 61.5px,#fff 62.5px,#fff 116.5px,#bce7fb 117.5px,#a5defa 118.5px,#75bcf4 120.5px,#468cf0 122.5px,#1223fc 123.5px,#090ffa 125.5px,#1619eb 126.5px,#3b3bc4 128.5px,#7e7e81 130.5px,#b2b249 131.5px,#e1e11b 132.5px,#fcfa03 133.5px,#ffe415 137.5px,#ffa831 141.5px,#ff873b 144.5px,#ff7438 147.5px,#ff542c 155.5px,#fe4525 220.5px)"></i><i style="background:linear-gradient(#ff9337 .5px,#ffb12d 6.5px,#ffe117 12.5px,#fffa02 19.5px,#f6f507 22.5px,#bebe3c 26.5px,#7c7c82 30.5px,#4343bc 35.5px,#0a0df8 43.5px,#090ffa 44.5px,#1428fc 51.5px,#376ff4 52.5px,#539bf1 53.5px,#73bbf4 55.5px,#a3ddfa 58.5px,#c3eafc 60.5px,#fff 61.5px,#fff 117.5px,#bae6fb 118.5px,#a2dcfa 119.5px,#5ba4f2 122.5px,#376ef4 123.5px,#1122fc 124.5px,#090dfa 126.5px,#3f3fc0 129.5px,#858579 131.5px,#b9b942 132.5px,#e7e716 133.5px,#fdfb01 134.5px,#ffe315 138.5px,#ffa631 142.5px,#ff863b 145.5px,#ff7338 148.5px,#ff542c 156.5px,#fe4525 220.5px)"></i><i style="background:linear-gradient(#ff8b39 .5px,#ffa134 5.5px,#ffe216 15.5px,#fffa01 23.5px,#f7f607 26.5px,#c3c337 30.5px,#72728d 35.5px,#3c3cc3 39.5px,#080cfa 46.5px,#1326fc 52.5px,#2953f7 53.5px,#529af1 54.5px,#78bef5 56.5px,#c3eafc 60.5px,#fff 61.5px,#fff 117.5px,#b8e6fb 118.5px,#65aff3 121.5px,#4a90f0 122.5px,#1121fb 123.5px,#0b12fa 124.5px,#171aea 125.5px,#3232ce 126.5px,#5959a6 127.5px,#8b8b72 128.5px,#c7c734 129.5px,#f7f607 130.5px,#fff903 131.5px,#ffe315 134.5px,#ffa432 138.5px,#ff853b 141.5px,#ff5c30 145.5px,#fe4827 152.5px,#fe3c21 181.5px,#fc361f 220.5px)"></i><i style="background:linear-gradient(#ff7338 .5px,#ff823c 3.5px,#ff9f34 10.5px,#ffe216 20.5px,#fffc00 29.5px,#eeee0f 32.5px,#b5b546 36.5px,#4040bf 43.5px,#0c10f5 48.5px,#090ffa 49.5px,#1224fc 53.5px,#2244f9 54.5px,#539af1 55.5px,#68b3f3 56.5px,#7fc3f6 57.5px,#c3eafc 60.5px,#fff 61.5px,#fff 117.5px,#b7e5fb 118.5px,#7ac0f5 120.5px,#5ba4f2 121.5px,#1428fc 122.5px,#0c15fb 123.5px,#1c1fe4 124.5px,#44b 125.5px,#c5c536 127.5px,#f8f706 128.5px,#fff803 129.5px,#ffe117 132.5px,#ff9f34 136.5px,#ff813c 139.5px,#ff4e29 143.5px,#fd3920 159.5px,#fa2e1c 220.5px)"></i><i style="background:linear-gradient(#ff5c2f .5px,#ff833c 7.5px,#ffa134 14.5px,#ffe315 23.5px,#fffb00 31.5px,#f2f20b 34.5px,#c8c832 37.5px,#7a7a85 42.5px,#3d3dc2 45.5px,#090efa 50.5px,#1326fc 54.5px,#3f7ff2 55.5px,#5ea7f2 56.5px,#91d0f8 58.5px,#c4eafc 60.5px,#fff 61.5px,#fff 117.5px,#b8e6fb 118.5px,#78bef5 120.5px,#58a1f2 121.5px,#1325fc 122.5px,#090ffa 123.5px,#2c2ed4 124.5px,#686897 125.5px,#aeae4d 126.5px,#ecec10 127.5px,#fffa02 128.5px,#ffe315 131.5px,#ffb02e 134.5px,#ff9736 136.5px,#ff7739 139.5px,#fe4827 142.5px,#fc361f 158.5px,#fa2b1a 220.5px)"></i><i style="background:linear-gradient(#ff7138 .5px,#ff853b 4.5px,#ff9e35 10.5px,#ffe316 20.5px,#fcfa03 29.5px,#f0f00c 31.5px,#c5c536 34.5px,#4141be 42.5px,#090dfa 48.5px,#1327fc 53.5px,#3d7af2 54.5px,#5aa3f2 55.5px,#9cd8f9 58.5px,#c9ecfc 60.5px,#fff 61.5px,#fff 117.5px,#bae7fb 118.5px,#9bd7f9 119.5px,#5da6f2 121.5px,#172efb 122.5px,#0b14fb 123.5px,#2022e0 124.5px,#4f4fb0 125.5px,#d2d229 127.5px,#fcfa03 128.5px,#ffdc19 132.5px,#ff9c35 136.5px,#ff7e3b 139.5px,#ff6232 141.5px,#ff4d29 142.5px,#fd381f 158.5px,#fa2d1b 220.5px)"></i><i style="background:linear-gradient(#ff883a .5px,#ffa134 6.5px,#ffe216 15.5px,#fefb01 23.5px,#f6f607 25.5px,#eaea12 26.5px,#bebe3c 29.5px,#7b7b84 33.5px,#3b3bc5 38.5px,#080dfa 45.5px,#1325fc 51.5px,#1d3afa 52.5px,#4b92f0 53.5px,#6fb8f4 55.5px,#a7dffa 58.5px,#cceefc 60.5px,#fff 61.5px,#fff 117.5px,#bde8fb 118.5px,#82c6f6 120.5px,#65aff3 121.5px,#488ff0 122.5px,#101efb 123.5px,#080dfa 124.5px,#2628da 125.5px,#4d4db2 126.5px,#c5c535 128.5px,#f7f606 129.5px,#fff803 130.5px,#ffe216 133.5px,#ffa034 137.5px,#ff823c 140.5px,#ff5c2f 143.5px,#ff542c 144.5px,#fe4525 150.5px,#fe3c21 160.5px,#fb311d 220.5px)"></i><i style="background:linear-gradient(#ffa631 .5px,#ffb72b 3.5px,#ffe216 8.5px,#fffb01 15.5px,#f4f409 18.5px,#bdbd3d 22.5px,#7e7e81 26.5px,#3f3fc0 32.5px,#080cfa 41.5px,#1325fc 49.5px,#172efb 50.5px,#3973f3 51.5px,#539bf1 52.5px,#72baf4 54.5px,#a0dbf9 57.5px,#cfeffd 60.5px,#fff 61.5px,#fff 117.5px,#c1e9fc 118.5px,#8bccf7 120.5px,#569ff1 122.5px,#152afc 123.5px,#090efa 125.5px,#3536ca 127.5px,#5a5aa5 128.5px,#898975 129.5px,#c2c238 130.5px,#f5f508 131.5px,#fffa02 132.5px,#ffe513 135.5px,#ffa931 139.5px,#ff883b 142.5px,#ff6232 146.5px,#ff4b28 153.5px,#fe3f22 183.5px,#fd3a20 220.5px)"></i><i style="background:linear-gradient(#ffbd28 .5px,#ffe414 6.5px,#fffa02 12.5px,#f7f607 15.5px,#bbbb3f 20.5px,#5e5ea1 26.5px,#3b3bc4 30.5px,#080cfa 40.5px,#1326fc 49.5px,#1c38fa 50.5px,#478df0 51.5px,#74bcf4 54.5px,#a3dcfa 57.5px,#d1f0fd 60.5px,#fff 61.5px,#fff 117.5px,#c4eafc 118.5px,#95d3f8 120.5px,#65b0f3 122.5px,#4e96f1 123.5px,#1326fc 124.5px,#0b13fa 126.5px,#0e12f4 127.5px,#3333cd 129.5px,#4c4cb3 130.5px,#6c6c93 131.5px,#c9c931 133.5px,#f5f508 134.5px,#fffb01 135.5px,#ffdf18 139.5px,#ffa133 143.5px,#ff823c 146.5px,#ff552c 157.5px,#fe4525 220.5px)"></i><i style="background:linear-gradient(#ff8e39 .5px,#ffb62b 8.5px,#ffe315 14.5px,#fffc00 21.5px,#f7f706 23.5px,#f0f00d 24.5px,#c4c437 27.5px,#72728d 32.5px,#4242bd 36.5px,#080cfa 44.5px,#1427fc 51.5px,#2b56f6 52.5px,#539bf1 53.5px,#77bef5 55.5px,#c1e9fc 59.5px,#fff 60.5px,#fff 118.5px,#c1e9fc 119.5px,#a9e0fa 120.5px,#61abf2 123.5px,#4990f0 124.5px,#1224fc 125.5px,#090ffa 127.5px,#1518ec 128.5px,#3c3cc3 130.5px,#82827c 132.5px,#b6b644 133.5px,#e5e517 134.5px,#fdfb02 135.5px,#ffe315 139.5px,#ffa731 143.5px,#ff863b 146.5px,#ff7338 149.5px,#ff532c 157.5px,#fe4425 220.5px)"></i><i style="background:linear-gradient(#ff7038 .5px,#ff843c 4.5px,#ffa134 11.5px,#ffe414 20.5px,#fffb00 27.5px,#fbfa03 28.5px,#efef0e 30.5px,#c2c239 33.5px,#7d7d81 37.5px,#3f3fc0 41.5px,#080dfa 47.5px,#1325fc 52.5px,#1e3dfa 53.5px,#5097f1 54.5px,#7cc1f5 56.5px,#c0e9fc 59.5px,#fff 60.5px,#fff 118.5px,#c0e9fc 119.5px,#a4defa 120.5px,#6cb6f3 122.5px,#5199f1 123.5px,#1224fc 124.5px,#0c16fb 125.5px,#1115f0 126.5px,#2d2ed3 127.5px,#5151ae 128.5px,#83837b 129.5px,#c0c03a 130.5px,#f5f508 131.5px,#fffa02 132.5px,#ffe414 135.5px,#ffa532 139.5px,#ff853b 142.5px,#ff5c2f 146.5px,#fe4827 153.5px,#fd3b21 182.5px,#fc361f 220.5px)"></i><i style="background:linear-gradient(#ff7f3b .5px,#ffa034 8.5px,#ffe315 19.5px,#fefb01 29.5px,#f0f00d 32.5px,#bebe3c 36.5px,#767689 41.5px,#4040bf 44.5px,#090df8 49.5px,#1428fc 54.5px,#4e95f1 55.5px,#6ab5f3 56.5px,#a3dcfa 58.5px,#bfe8fc 59.5px,#fff 60.5px,#fff 118.5px,#c0e9fc 119.5px,#a2dcfa 120.5px,#64aef3 122.5px,#4589f0 123.5px,#0e1afb 124.5px,#1316ee 125.5px,#3838c7 126.5px,#75758a 127.5px,#b7b743 128.5px,#f2f20b 129.5px,#fffa02 130.5px,#ffe315 133.5px,#ffb02d 136.5px,#ff9736 138.5px,#ff7839 141.5px,#ff4d29 144.5px,#fd3920 160.5px,#fa2e1b 220.5px)"></i><i style="background:linear-gradient(#ff8a3a .5px,#ffa333 6.5px,#ffe315 17.5px,#fffb01 26.5px,#f8f706 29.5px,#f3f30a 30.5px,#c1c139 34.5px,#3a3bc5 43.5px,#0a0ef8 48.5px,#0a10fa 49.5px,#1325fc 53.5px,#2a54f7 54.5px,#5aa3f2 55.5px,#8fcef7 57.5px,#c4eafc 59.5px,#fff 60.5px,#fff 118.5px,#c2e9fc 119.5px,#a2dcfa 120.5px,#62acf2 122.5px,#3263f5 123.5px,#0c15fb 124.5px,#2022e1 125.5px,#5353ac 126.5px,#dada22 128.5px,#fefb01 129.5px,#ffe513 132.5px,#ff9a36 137.5px,#ff7b3a 140.5px,#fe4827 143.5px,#fc361f 159.5px,#fa2b1a 220.5px)"></i><i style="background:linear-gradient(#ff873b .5px,#ff9f34 6.5px,#ffe414 17.5px,#fffc00 25.5px,#f8f706 27.5px,#f3f30a 28.5px,#bdbd3d 32.5px,#44b 40.5px,#090efa 47.5px,#1325fc 52.5px,#2143f9 53.5px,#529af1 54.5px,#69b4f3 55.5px,#98d5f8 57.5px,#c7ecfc 59.5px,#fff 60.5px,#fff 118.5px,#c4eafc 119.5px,#a5defa 120.5px,#85c8f6 121.5px,#66b1f3 122.5px,#488ef0 123.5px,#0e1afb 124.5px,#1316ee 125.5px,#393ac6 126.5px,#bdbd3d 128.5px,#f6f607 129.5px,#fff903 130.5px,#ffe216 133.5px,#ffa034 137.5px,#ff823c 140.5px,#ff4c28 144.5px,#fd3820 160.5px,#fa2d1b 220.5px)"></i><i style="background:linear-gradient(#ff9537 .5px,#ffb82a 7.5px,#ffe315 13.5px,#fffc00 21.5px,#f8f705 23.5px,#f4f409 24.5px,#c0c03a 28.5px,#74748b 33.5px,#4242bd 37.5px,#090efa 45.5px,#1326fc 51.5px,#2041f9 52.5px,#4e96f1 53.5px,#77bef5 55.5px,#a1dbf9 57.5px,#caedfc 59.5px,#fff 60.5px,#fff 118.5px,#c6ebfc 119.5px,#8cccf7 121.5px,#6eb8f4 122.5px,#529af1 123.5px,#1224fc 124.5px,#0b13fa 125.5px,#1a1de6 126.5px,#3a3ac6 127.5px,#6e6e91 128.5px,#e6e617 130.5px,#fffc00 131.5px,#ffe513 134.5px,#ffa731 138.5px,#ff863b 141.5px,#ff562d 145.5px,#fe4726 151.5px,#fe3d21 161.5px,#fb321d 220.5px)"></i><i style="background:linear-gradient(#ffa632 .5px,#ffe315 9.5px,#fffb01 17.5px,#f5f508 20.5px,#c1c139 24.5px,#7a7a85 29.5px,#4343bc 34.5px,#080dfa 43.5px,#1428fc 51.5px,#2f5df6 52.5px,#569ef1 53.5px,#69b4f3 54.5px,#a4defa 57.5px,#cceefc 59.5px,#fff 60.5px,#fff 118.5px,#c9ecfc 119.5px,#94d2f8 121.5px,#5fa9f2 123.5px,#4182f1 124.5px,#1020fb 125.5px,#0b13fa 126.5px,#1316ee 127.5px,#4848b7 129.5px,#71718e 130.5px,#dddd1f 132.5px,#fcfa02 133.5px,#ffe116 137.5px,#ffa133 141.5px,#ff833c 144.5px,#ff6132 148.5px,#ff4e29 154.5px,#fe4023 184.5px,#fd3b21 220.5px)"></i><i style="background:linear-gradient(#ffaa30 .5px,#ffe316 8.5px,#fffb01 16.5px,#f5f508 19.5px,#c0c03a 23.5px,#83837b 27.5px,#3c3cc3 34.5px,#0a0ef8 42.5px,#090efa 43.5px,#1427fc 51.5px,#2951f7 52.5px,#539af1 53.5px,#67b1f3 54.5px,#a4defa 57.5px,#ceeefc 59.5px,#fff 60.5px,#fff 118.5px,#cbedfc 119.5px,#9cd8f9 121.5px,#6db7f4 123.5px,#569ff1 124.5px,#2549f8 125.5px,#1120fb 126.5px,#080dfa 128.5px,#3d3dc2 131.5px,#7d7d81 133.5px,#b0b04b 134.5px,#dfdf1d 135.5px,#fbf903 136.5px,#ffe414 140.5px,#ffaa30 144.5px,#ff883b 147.5px,#ff7d3b 148.5px,#ff552d 158.5px,#fe4626 220.5px)"></i><i style="background:linear-gradient(#ffcf1f .5px,#ffe216 3.5px,#fffb01 12.5px,#f7f607 15.5px,#bcbc3e 20.5px,#72728d 25.5px,#44b 30.5px,#0a0ef8 41.5px,#090efa 42.5px,#1427fc 51.5px,#254af8 52.5px,#4f97f1 53.5px,#64aff3 54.5px,#a4defa 57.5px,#cfeffd 59.5px,#fff 60.5px,#fff 119.5px,#c9ecfc 120.5px,#98d5f8 122.5px,#67b2f3 124.5px,#4f96f1 125.5px,#1326fc 126.5px,#0a11fa 128.5px,#1215ef 129.5px,#3a3ac5 131.5px,#7f7f80 133.5px,#b3b347 134.5px,#e3e319 135.5px,#fdfa02 136.5px,#ffe315 140.5px,#ffa731 144.5px,#ff863b 147.5px,#ff6d37 151.5px,#ff532b 158.5px,#fe4324 220.5px)"></i><i style="background:linear-gradient(#ffdb19 .5px,#fffc00 11.5px,#f5f508 14.5px,#c2c238 18.5px,#6c6c93 24.5px,#3b3bc4 30.5px,#080dfa 41.5px,#1427fc 51.5px,#2143f9 52.5px,#4c93f1 53.5px,#62acf2 54.5px,#a4defa 57.5px,#d1f0fd 59.5px,#fff 60.5px,#fff 119.5px,#c9ecfc 120.5px,#90d0f8 122.5px,#58a1f2 124.5px,#162dfb 125.5px,#0e19fb 126.5px,#0c0ff6 127.5px,#4949b6 129.5px,#7a7a85 130.5px,#b8b843 131.5px,#eeee0f 132.5px,#fffb01 133.5px,#ffe514 136.5px,#ff9a35 141.5px,#ff7c3a 144.5px,#ff5b2f 147.5px,#fe4726 154.5px,#fe4023 163.5px,#fc351e 220.5px)"></i><i style="background:linear-gradient(#ffe315 .5px,#fffc00 10.5px,#f4f409 13.5px,#c0c03a 17.5px,#787887 22.5px,#3939c6 30.5px,#090efa 41.5px,#1327fc 51.5px,#1f3df9 52.5px,#498ff0 53.5px,#76bdf5 55.5px,#a4defa 57.5px,#bce7fb 58.5px,#fff 59.5px,#fff 119.5px,#caedfc 120.5px,#abe0fa 121.5px,#6db7f3 123.5px,#4e96f1 124.5px,#101ffb 125.5px,#0a0df8 126.5px,#2f30d1 127.5px,#669 128.5px,#a8a854 129.5px,#e5e517 130.5px,#fffb01 131.5px,#ffe514 134.5px,#ff9936 139.5px,#ff7b3a 142.5px,#ff4d29 145.5px,#fd3820 161.5px,#fa2e1b 220.5px)"></i><i style="background:linear-gradient(#ffe811 .5px,#fffb01 8.5px,#f6f508 11.5px,#c4c437 15.5px,#7b7b83 20.5px,#3e3ec1 28.5px,#080cfa 40.5px,#1327fc 51.5px,#1c38fa 52.5px,#3e7bf2 53.5px,#5ca5f2 54.5px,#a5defa 57.5px,#bde8fb 58.5px,#fff 59.5px,#fff 119.5px,#ccedfc 120.5px,#ace1fa 121.5px,#6cb6f3 123.5px,#4c93f1 124.5px,#0f1cfb 125.5px,#1316ee 126.5px,#3d3dc2 127.5px,#c7c733 129.5px,#f9f805 130.5px,#fff704 131.5px,#ffde18 134.5px,#ffaa30 137.5px,#ff8a3a 140.5px,#ff7238 142.5px,#ff4c28 144.5px,#fe4826 145.5px,#fc361f 160.5px,#fa2c1a 220.5px)"></i><i style="background:linear-gradient(#ffef0b .5px,#fffc00 6.5px,#f3f30a 9.5px,#c0c03a 13.5px,#797986 18.5px,#3a3ac5 27.5px,#080cfa 39.5px,#1327fc 51.5px,#1a34fb 52.5px,#2c58f6 53.5px,#59a2f2 54.5px,#a5defa 57.5px,#bee8fc 58.5px,#fff 59.5px,#fff 119.5px,#cdeefc 120.5px,#8fcff7 122.5px,#70b9f4 123.5px,#5199f1 124.5px,#1121fc 125.5px,#080dfa 126.5px,#2c2dd4 127.5px,#62629d 128.5px,#e2e21a 130.5px,#fffc00 131.5px,#ffe514 134.5px,#ff9a36 139.5px,#ff7b3a 142.5px,#ff4d29 145.5px,#fd3820 161.5px,#fa2e1b 220.5px)"></i><i style="background:linear-gradient(#fff407 .5px,#fefb01 4.5px,#f1f10c 7.5px,#c0c03a 11.5px,#7a7a85 16.5px,#3d3dc2 25.5px,#090dfa 39.5px,#1326fc 51.5px,#1831fb 52.5px,#2953f7 53.5px,#569ef1 54.5px,#70b9f4 55.5px,#a5defa 57.5px,#bfe9fc 58.5px,#fff 59.5px,#fff 119.5px,#cfeffd 120.5px,#95d3f8 122.5px,#5ba4f2 124.5px,#1e3cfa 125.5px,#0d19fb 126.5px,#0f12f3 127.5px,#2e2fd2 128.5px,#5858a7 129.5px,#cece2d 131.5px,#faf804 132.5px,#fff704 133.5px,#ffe017 136.5px,#ff9f34 140.5px,#ff813c 143.5px,#ff5b2f 146.5px,#fe4626 153.5px,#fe3d22 163.5px,#fb321d 220.5px)"></i><i style="background:linear-gradient(#fff208 .5px,#fefb01 5.5px,#f2f20b 8.5px,#c1c139 12.5px,#70708f 18.5px,#3b3bc5 26.5px,#080cfa 39.5px,#152afc 52.5px,#274df8 53.5px,#539bf1 54.5px,#6eb7f4 55.5px,#a5defa 57.5px,#c1e9fc 58.5px,#fff 59.5px,#fff 120.5px,#b7e5fb 121.5px,#68b3f3 124.5px,#4e95f1 125.5px,#1224fc 126.5px,#0a0df8 128.5px,#3939c7 130.5px,#5f5fa0 131.5px,#8d8d70 132.5px,#c5c535 133.5px,#f6f508 134.5px,#fffa02 135.5px,#ffe513 138.5px,#ffa930 142.5px,#ff883a 145.5px,#ff6433 149.5px,#ff4d29 156.5px,#fd3c21 220.5px)"></i><i style="background:linear-gradient(#fff00a .5px,#fefb01 6.5px,#f2f20a 9.5px,#c2c238 13.5px,#70708f 19.5px,#3a3ac5 27.5px,#080dfa 40.5px,#1428fc 52.5px,#2448f8 53.5px,#5098f1 54.5px,#6cb6f3 55.5px,#a6defa 57.5px,#c3eafc 58.5px,#fff 59.5px,#fff 120.5px,#bbe7fb 121.5px,#75bdf4 124.5px,#488ef0 126.5px,#1224fc 127.5px,#0a11fa 129.5px,#1114f1 130.5px,#3435cb 132.5px,#4d4db2 133.5px,#6b6b94 134.5px,#f4f409 137.5px,#fffb01 138.5px,#ffe017 142.5px,#ffa233 146.5px,#ff823c 149.5px,#ff562d 160.5px,#fe4726 220.5px)"></i><i style="background:linear-gradient(#ffea0f .5px,#fffb01 7.5px,#f6f607 10.5px,#bbbb3f 15.5px,#82827c 19.5px,#797985 20.5px,#3d3dc2 28.5px,#080cfa 40.5px,#1428fc 52.5px,#264df8 53.5px,#539bf1 54.5px,#6fb8f4 55.5px,#a7dffa 57.5px,#c3eafc 58.5px,#fff 59.5px,#fff 120.5px,#d0effd 121.5px,#9fdaf9 123.5px,#6db7f3 125.5px,#559df1 126.5px,#1b35fa 127.5px,#101efb 128.5px,#0b13fb 129.5px,#0f13f3 130.5px,#3738c8 132.5px,#7b7b84 134.5px,#b0b04b 135.5px,#e1e11b 136.5px,#fcfa02 137.5px,#ffe315 141.5px,#ffa731 145.5px,#ff863b 148.5px,#ff6c36 152.5px,#ff522b 159.5px,#fe4224 220.5px)"></i><i style="background:linear-gradient(#ffe711 .5px,#fffb00 8.5px,#f5f508 11.5px,#c4c437 15.5px,#7d7d82 20.5px,#3a3ac5 29.5px,#080cfa 40.5px,#162dfb 52.5px,#2952f7 53.5px,#57a0f1 54.5px,#8dcdf7 56.5px,#c3eafc 58.5px,#fff 59.5px,#fff 121.5px,#b5e4fb 122.5px,#60aaf2 125.5px,#3b76f3 126.5px,#0f1dfb 127.5px,#090dfa 128.5px,#4141be 130.5px,#72728d 131.5px,#afaf4c 132.5px,#e7e715 133.5px,#fffc00 134.5px,#ffda1a 138.5px,#ff9b35 142.5px,#ff7d3b 145.5px,#ff5a2f 148.5px,#fe4726 155.5px,#fe3f23 164.5px,#fc341e 220.5px)"></i><i style="background:linear-gradient(#ffe712 .5px,#fffc00 8.5px,#f4f409 11.5px,#c2c239 15.5px,#6f6f90 21.5px,#3b3bc4 28.5px,#080cfa 40.5px,#1326fc 51.5px,#1932fb 52.5px,#2c59f6 53.5px,#5ba4f2 54.5px,#8fcff7 56.5px,#c4eafc 58.5px,#fff 59.5px,#fff 121.5px,#b4e4fb 122.5px,#76bdf4 124.5px,#57a0f1 125.5px,#1325fc 126.5px,#0a11fa 127.5px,#2527db 128.5px,#5656a9 129.5px,#d8d824 131.5px,#fdfb02 132.5px,#ffe612 135.5px,#ff9c35 140.5px,#ff7d3b 143.5px,#ff4d29 146.5px,#fd3820 162.5px,#fa2e1b 220.5px)"></i><i style="background:linear-gradient(#ffe414 .5px,#fffa01 8.5px,#f7f607 11.5px,#baba40 16.5px,#72728d 21.5px,#3d3dc2 28.5px,#080cfa 40.5px,#1327fc 51.5px,#1c39fa 52.5px,#4487f1 53.5px,#5ea8f2 54.5px,#91d0f8 56.5px,#c4eafc 58.5px,#fff 59.5px,#fff 121.5px,#b5e5fb 122.5px,#75bdf4 124.5px,#569ef1 125.5px,#1223fc 126.5px,#080dfa 127.5px,#2f30d0 128.5px,#6d6d92 129.5px,#b3b348 130.5px,#f0f00d 131.5px,#fffa02 132.5px,#ffe315 135.5px,#ffaf2e 138.5px,#ff9737 140.5px,#ff7739 143.5px,#fe4827 146.5px,#fc361f 162.5px,#fa2c1b 220.5px)"></i><i style="background:linear-gradient(#ffe315 .5px,#fffc00 9.5px,#f5f508 12.5px,#c0c03a 16.5px,#767689 21.5px,#3a3ac5 29.5px,#090df9 40.5px,#090efa 41.5px,#1326fc 51.5px,#182ffb 52.5px,#2b56f6 53.5px,#57a0f1 54.5px,#6fb8f4 55.5px,#9fdaf9 57.5px,#d0effd 59.5px,#fff 60.5px,#fff 121.5px,#b8e6fb 122.5px,#99d6f9 123.5px,#5ba5f2 125.5px,#1428fc 126.5px,#0b14fb 127.5px,#1f21e2 128.5px,#4a4ab5 129.5px,#cccc2f 131.5px,#faf804 132.5px,#fff704 133.5px,#ffde18 136.5px,#ffab30 139.5px,#ff8a3a 142.5px,#ff7338 144.5px,#ff512b 146.5px,#ff4c28 147.5px,#fd3920 162.5px,#fa2e1b 220.5px)"></i><i style="background:linear-gradient(#ffe216 .5px,#fffb01 9.5px,#f6f607 12.5px,#c3c337 16.5px,#797986 21.5px,#70708f 22.5px,#3b3bc4 29.5px,#090dfa 41.5px,#1428fc 52.5px,#264df8 53.5px,#5198f1 54.5px,#7ec3f5 56.5px,#c3eafc 59.5px,#fff 60.5px,#fff 121.5px,#bce7fb 122.5px,#9fdaf9 123.5px,#65aff3 125.5px,#498ff0 126.5px,#101ffb 127.5px,#090ffa 128.5px,#2123df 129.5px,#4242bd 130.5px,#767689 131.5px,#b5b546 132.5px,#eded10 133.5px,#fffb01 134.5px,#ffe414 137.5px,#ffa532 141.5px,#ff853b 144.5px,#ff572e 148.5px,#fe4826 154.5px,#fe3e22 164.5px,#fb331d 220.5px)"></i><i style="background:linear-gradient(#ffdd19 .5px,#fffb00 10.5px,#f4f409 13.5px,#bfbf3b 17.5px,#82827c 21.5px,#797986 22.5px,#3a3ac5 30.5px,#080cfa 41.5px,#1427fc 52.5px,#2244f9 53.5px,#4b92f0 54.5px,#60aaf2 55.5px,#a2dcfa 58.5px,#ceeefc 60.5px,#fff 61.5px,#fff 121.5px,#c0e9fc 122.5px,#a5defa 123.5px,#71baf4 125.5px,#58a0f2 126.5px,#1d3bfa 127.5px,#0f1dfb 128.5px,#0a10fa 129.5px,#171aea 130.5px,#4b4bb4 132.5px,#73738c 133.5px,#dede1e 135.5px,#fcfa02 136.5px,#ffe216 140.5px,#ffa333 144.5px,#ff843c 147.5px,#ff6333 151.5px,#ff4d29 158.5px,#fe3c21 220.5px)"></i><i style="background:linear-gradient(#ffdd19 .5px,#fffb01 10.5px,#f5f508 13.5px,#c0c03a 17.5px,#797986 22.5px,#3b3bc4 30.5px,#080cfa 41.5px,#1327fc 52.5px,#1d3bfa 53.5px,#468cf0 54.5px,#6fb8f4 56.5px,#c2eafc 60.5px,#fff 61.5px,#fff 121.5px,#c3eafc 122.5px,#7ec3f5 125.5px,#5198f1 127.5px,#1428fc 128.5px,#080cfa 131.5px,#3d3dc2 134.5px,#7a7a85 136.5px,#dbdb21 138.5px,#faf804 139.5px,#fff803 140.5px,#ffe514 143.5px,#ff9d35 148.5px,#ff7e3b 151.5px,#ff572d 161.5px,#fe4827 220.5px)"></i><i style="background:linear-gradient(#ffe315 .5px,#fffb01 9.5px,#f6f607 12.5px,#c4c436 16.5px,#6d6d92 22.5px,#3a3ac5 29.5px,#080cfa 41.5px,#1326fc 52.5px,#1933fb 53.5px,#2d59f6 54.5px,#559df1 55.5px,#68b3f3 56.5px,#a4ddfa 59.5px,#cceefc 61.5px,#fff 62.5px,#fff 122.5px,#c3eafc 123.5px,#91d0f8 125.5px,#5fa9f2 127.5px,#478df0 128.5px,#1122fc 129.5px,#080cfa 131.5px,#3232ce 133.5px,#4e4eb1 134.5px,#72728d 135.5px,#d7d725 137.5px,#faf804 138.5px,#fff803 139.5px,#ffe414 142.5px,#ffa930 146.5px,#ff883a 149.5px,#ff6b36 153.5px,#ff512b 160.5px,#fe4123 220.5px)"></i><i style="background:linear-gradient(#ffdd19 .5px,#fffb01 10.5px,#f6f607 13.5px,#c5c536 17.5px,#6e6e91 23.5px,#3a3ac5 30.5px,#090dfa 42.5px,#1428fc 53.5px,#254af8 54.5px,#4d94f1 55.5px,#74bbf4 57.5px,#c1e9fc 61.5px,#fff 62.5px,#fff 122.5px,#c2eafc 123.5px,#a6defa 124.5px,#6cb6f3 126.5px,#5098f1 127.5px,#1223fc 128.5px,#0b14fb 129.5px,#171aea 130.5px,#3435cb 131.5px,#62629d 132.5px,#d6d625 134.5px,#fbf903 135.5px,#ffdf18 139.5px,#ff9e34 143.5px,#ff803b 146.5px,#ff5b2f 149.5px,#fe4726 156.5px,#fe3e22 166.5px,#fc341e 220.5px)"></i><i style="background:linear-gradient(#ffce20 .5px,#ffe414 4.5px,#fefc00 13.5px,#f7f606 15.5px,#efef0e 16.5px,#c7c734 19.5px,#7b7b84 24.5px,#3b3bc4 32.5px,#080dfa 43.5px,#1326fc 53.5px,#1a34fb 54.5px,#3366f5 55.5px,#569ef1 56.5px,#69b4f3 57.5px,#a3ddfa 60.5px,#caedfc 62.5px,#fff 63.5px,#fff 122.5px,#c3eafc 123.5px,#a4ddfa 124.5px,#85c7f6 125.5px,#65b0f3 126.5px,#478df0 127.5px,#0e1afb 128.5px,#1518ed 129.5px,#3b3bc4 130.5px,#c0c03a 132.5px,#f7f607 133.5px,#fff803 134.5px,#ffe116 137.5px,#ff9f34 141.5px,#ff823c 144.5px,#ff4b28 148.5px,#fd381f 164.5px,#fa2e1b 220.5px)"></i><i style="background:linear-gradient(#ffc723 .5px,#ffe415 5.5px,#fffb01 14.5px,#f5f508 17.5px,#bebe3c 21.5px,#75758a 26.5px,#3b3bc4 33.5px,#090dfa 44.5px,#1427fc 54.5px,#2346f8 55.5px,#4c93f0 56.5px,#72baf4 58.5px,#c0e9fc 62.5px,#fff 63.5px,#fff 122.5px,#c5ebfc 123.5px,#a5defa 124.5px,#85c8f6 125.5px,#65b0f3 126.5px,#468cf0 127.5px,#0d18fb 128.5px,#1b1ee6 129.5px,#4a4ab5 130.5px,#d2d229 132.5px,#fcfa02 133.5px,#ffe612 136.5px,#ff9c35 141.5px,#ff7d3b 144.5px,#ff6031 146.5px,#fe4927 147.5px,#fc361f 163.5px,#fa2c1b 220.5px)"></i><i style="background:linear-gradient(#ffc226 .5px,#ffe315 6.5px,#fffa01 15.5px,#f6f607 18.5px,#c3c338 22.5px,#787887 27.5px,#3c3cc3 34.5px,#090efa 45.5px,#1326fc 54.5px,#172ffb 55.5px,#2d59f6 56.5px,#559df1 57.5px,#67b2f3 58.5px,#a2dcfa 61.5px,#c8ecfc 63.5px,#fff 64.5px,#fff 122.5px,#c7ecfc 123.5px,#a8dffa 124.5px,#6bb5f3 126.5px,#4c93f1 127.5px,#101efb 128.5px,#0b0ff6 129.5px,#3031cf 130.5px,#686897 131.5px,#aaaa52 132.5px,#e7e716 133.5px,#fffb01 134.5px,#ffe414 137.5px,#ff9936 142.5px,#ff7a3a 145.5px,#ff4d29 148.5px,#fd3920 164.5px,#fa2e1c 220.5px)"></i><i style="background:linear-gradient(#ffbf28 .5px,#ffe216 6.5px,#fffb00 16.5px,#f4f409 19.5px,#bebe3c 23.5px,#74748b 28.5px,#393ac6 35.5px,#080cfa 45.5px,#1427fc 55.5px,#254af8 56.5px,#4e95f1 57.5px,#73bbf4 59.5px,#98d5f9 61.5px,#d1f0fd 64.5px,#fff 65.5px,#fff 122.5px,#caedfc 123.5px,#90d0f8 125.5px,#57a0f1 127.5px,#1427fc 128.5px,#0d17fb 129.5px,#1114f1 130.5px,#2e2fd1 131.5px,#5858a7 132.5px,#cccc2f 134.5px,#f9f805 135.5px,#fff804 136.5px,#ffe116 139.5px,#ffa034 143.5px,#ff823c 146.5px,#ff5d30 149.5px,#fe4726 156.5px,#fe3e22 166.5px,#fc341e 220.5px)"></i><i style="background:linear-gradient(#ffc226 .5px,#ffe415 6.5px,#fffb01 15.5px,#f7f607 18.5px,#c4c436 22.5px,#6a6a95 28.5px,#3a3ac5 34.5px,#080dfa 45.5px,#1427fc 55.5px,#2244f9 56.5px,#4a90f0 57.5px,#69b4f3 59.5px,#a9dffa 63.5px,#c8ecfc 65.5px,#fff 66.5px,#fff 122.5px,#cceefc 123.5px,#98d5f9 125.5px,#65aff3 127.5px,#4c92f0 128.5px,#1223fc 129.5px,#0a0df8 131.5px,#3737c9 133.5px,#858579 135.5px,#bdbd3d 136.5px,#eeee0e 137.5px,#fffb01 138.5px,#ffdd18 142.5px,#ff9f34 146.5px,#ff8b3a 148.5px,#ff6835 152.5px,#ff4f2a 159.5px,#fe3d22 220.5px)"></i><i style="background:linear-gradient(#ffc027 .5px,#ffe315 6.5px,#fffa01 15.5px,#f6f607 18.5px,#c2c238 22.5px,#74748b 27.5px,#3b3bc4 34.5px,#080dfa 45.5px,#1427fc 55.5px,#2142f9 56.5px,#488ef0 57.5px,#70b9f4 60.5px,#a7dffa 64.5px,#d0effd 67.5px,#fff 68.5px,#fff 122.5px,#ceeffc 123.5px,#a1dbfa 125.5px,#5da6f2 128.5px,#468cf0 129.5px,#1224fc 130.5px,#0a11fa 132.5px,#0f13f2 133.5px,#4747b8 136.5px,#898975 138.5px,#bbbb3f 139.5px,#e8e815 140.5px,#fdfb01 141.5px,#ffe315 145.5px,#ffa632 149.5px,#ff7c3b 153.5px,#ff572d 163.5px,#fe4927 220.5px)"></i><i style="background:linear-gradient(#ffbf28 .5px,#ffe216 6.5px,#fffa02 15.5px,#f6f607 18.5px,#c1c139 22.5px,#82827c 26.5px,#3f3fc0 34.5px,#080cfa 45.5px,#1427fc 55.5px,#2141f9 56.5px,#478df0 57.5px,#6ab5f3 60.5px,#a6defa 65.5px,#caedfc 68.5px,#fff 69.5px,#fff 123.5px,#cfeffd 124.5px,#9cd8f9 126.5px,#6ab5f3 128.5px,#5199f1 129.5px,#1327fc 130.5px,#0a10fa 132.5px,#1619eb 133.5px,#4343bc 135.5px,#686897 136.5px,#cbcb2f 138.5px,#f7f607 139.5px,#fffa02 140.5px,#ffdb1a 144.5px,#ff9e35 148.5px,#ff8a3a 150.5px,#ff6b36 154.5px,#ff512b 161.5px,#fe4023 220.5px)"></i><i style="background:linear-gradient(#ffbf27 .5px,#ffe316 6.5px,#fffa02 15.5px,#f7f607 18.5px,#c4c437 22.5px,#797986 27.5px,#3e3ec1 34.5px,#080cfa 45.5px,#1326fc 55.5px,#1a35fa 56.5px,#4e95f1 58.5px,#6eb7f4 61.5px,#a4ddfa 66.5px,#d0effd 70.5px,#fff 71.5px,#fff 123.5px,#d0effd 124.5px,#97d4f8 126.5px,#5da6f2 128.5px,#284ff7 129.5px,#0e1afb 130.5px,#0b0ff6 131.5px,#292bd7 132.5px,#5050af 133.5px,#868678 134.5px,#c4c436 135.5px,#f7f607 136.5px,#fff903 137.5px,#ffe315 140.5px,#ffa233 144.5px,#ff833c 147.5px,#ff572e 151.5px,#fe4726 157.5px,#fe3e22 167.5px,#fc331e 220.5px)"></i><i style="background:linear-gradient(#ffb92a .5px,#ffe116 7.5px,#fffb01 17.5px,#f5f508 20.5px,#bcbc3e 24.5px,#6f6f90 29.5px,#3d3dc2 35.5px,#080dfa 46.5px,#1427fc 56.5px,#2245f9 57.5px,#478df0 58.5px,#6fb8f4 62.5px,#a2dcfa 67.5px,#caedfc 71.5px,#fff 72.5px,#fff 124.5px,#b3e4fb 125.5px,#74bcf4 127.5px,#559df1 128.5px,#1223fc 129.5px,#090efa 130.5px,#2a2cd6 131.5px,#60609f 132.5px,#e2e21a 134.5px,#fffc00 135.5px,#ffe514 138.5px,#ff9a36 143.5px,#ff7b3a 146.5px,#ff4c28 149.5px,#fd381f 165.5px,#fa2d1b 220.5px)"></i><i style="background:linear-gradient(#ffb32d .5px,#ffe315 9.5px,#fffc00 19.5px,#f8f706 21.5px,#f2f20b 22.5px,#c7c733 25.5px,#787887 30.5px,#6e6e91 31.5px,#3a3ac5 37.5px,#080dfa 47.5px,#152afc 57.5px,#2b56f6 58.5px,#4b91f0 59.5px,#70b9f4 63.5px,#a9e0fa 69.5px,#cfeffd 73.5px,#fff 74.5px,#fff 124.5px,#b5e4fb 125.5px,#75bcf4 127.5px,#559df1 128.5px,#1223fc 129.5px,#080dfa 130.5px,#3031d0 131.5px,#6e6e91 132.5px,#b3b348 133.5px,#f0f00c 134.5px,#fffa02 135.5px,#ffe315 138.5px,#ffaf2e 141.5px,#ff9736 143.5px,#ff7739 146.5px,#fe4927 149.5px,#fc361f 165.5px,#fa2c1b 220.5px)"></i><i style="background:linear-gradient(#ffb12d .5px,#ffe315 10.5px,#fffb00 20.5px,#f5f508 23.5px,#bdbd3d 27.5px,#6e6e91 32.5px,#3a3ac5 38.5px,#090dfa 48.5px,#1326fc 57.5px,#1e3dfa 58.5px,#4181f1 59.5px,#4e95f1 60.5px,#69b4f3 63.5px,#a1dbf9 69.5px,#cfeffd 74.5px,#fff 75.5px,#fff 124.5px,#b8e5fb 125.5px,#7ac0f5 127.5px,#5ba4f2 128.5px,#1429fc 129.5px,#0c14fb 130.5px,#1d1fe4 131.5px,#4545ba 132.5px,#c6c634 134.5px,#f8f706 135.5px,#fff804 136.5px,#ffe017 139.5px,#ffad2f 142.5px,#ff8b3a 145.5px,#ff7539 147.5px,#ff552c 149.5px,#ff4d29 150.5px,#fd3920 165.5px,#fb2f1c 220.5px)"></i><i style="background:linear-gradient(#ffac2f .5px,#ffe315 11.5px,#fffb01 21.5px,#f5f508 24.5px,#bebe3c 28.5px,#7e7e81 32.5px,#4343bc 38.5px,#0a0ef8 48.5px,#090efa 49.5px,#1429fc 58.5px,#2c57f6 59.5px,#4a91f0 60.5px,#6db7f3 64.5px,#a2dcfa 70.5px,#ceeffc 75.5px,#fff 76.5px,#fff 124.5px,#bbe7fb 125.5px,#9fdaf9 126.5px,#65b0f3 128.5px,#4a90f0 129.5px,#1020fb 130.5px,#0a10fa 131.5px,#1e20e3 132.5px,#3b3bc4 133.5px,#6c6c93 134.5px,#e1e11b 136.5px,#fefc00 137.5px,#ffdb19 141.5px,#ff9c35 145.5px,#ff7d3b 148.5px,#ff592f 151.5px,#fe4626 158.5px,#fe3f22 167.5px,#fc341e 220.5px)"></i><i style="background:linear-gradient(#ffa432 .5px,#ffb32d 4.5px,#ffe216 12.5px,#fffb01 22.5px,#f8f705 24.5px,#f3f30a 25.5px,#c8c833 28.5px,#888876 32.5px,#3b3bc4 40.5px,#090df9 49.5px,#090efa 50.5px,#1326fc 58.5px,#203ff9 59.5px,#468cf0 60.5px,#70b9f4 65.5px,#a3ddfa 71.5px,#ceeefc 76.5px,#fff 77.5px,#fff 124.5px,#bfe8fc 125.5px,#a5defa 126.5px,#72baf4 128.5px,#59a1f2 129.5px,#2447f8 130.5px,#101efb 131.5px,#0b12fa 132.5px,#1316ee 133.5px,#4242bd 135.5px,#686897 136.5px,#cece2d 138.5px,#f8f706 139.5px,#fff903 140.5px,#ffe514 143.5px,#ffa930 147.5px,#ff883a 150.5px,#ff6734 154.5px,#ff4f2a 161.5px,#fe3e22 220.5px)"></i><i style="background:linear-gradient(#ffa930 .5px,#ffb82b 4.5px,#ffe414 12.5px,#fffa02 21.5px,#f6f607 24.5px,#bfbf3b 28.5px,#7d7d82 32.5px,#72728d 33.5px,#3c3cc3 39.5px,#080cfa 49.5px,#1326fc 58.5px,#1a33fb 59.5px,#3569f4 60.5px,#4b92f0 61.5px,#6bb6f3 65.5px,#a5defa 72.5px,#ceeefc 77.5px,#fff 78.5px,#fff 124.5px,#c3eafc 125.5px,#7fc3f6 128.5px,#529af1 130.5px,#1a34fb 131.5px,#1020fb 132.5px,#090efa 134.5px,#3737c8 137.5px,#5151ae 138.5px,#6d6d92 139.5px,#f4f409 142.5px,#fffb01 143.5px,#ffdf17 147.5px,#ffa134 151.5px,#ff803c 154.5px,#ff582e 164.5px,#fe4927 220.5px)"></i><i style="background:linear-gradient(#ffb02d .5px,#ffbf27 4.5px,#ffe216 10.5px,#fffb01 20.5px,#f6f607 23.5px,#c0c03a 27.5px,#6c6c93 32.5px,#3a3ac5 38.5px,#090df9 48.5px,#090efa 49.5px,#1326fc 58.5px,#172efb 59.5px,#2c58f6 60.5px,#498ff0 61.5px,#6fb8f4 66.5px,#a6defa 73.5px,#ceeefc 78.5px,#fff 79.5px,#fff 125.5px,#c2e9fc 126.5px,#8fcef7 128.5px,#5ca5f2 130.5px,#3469f4 131.5px,#1120fb 132.5px,#0c14fb 133.5px,#0e12f3 134.5px,#3a3ac5 136.5px,#898975 138.5px,#bfbf3b 139.5px,#f0f00d 140.5px,#fffb01 141.5px,#ffde18 145.5px,#ffa034 149.5px,#ff813c 152.5px,#ff6b36 155.5px,#ff512b 162.5px,#fe3f23 220.5px)"></i><i style="background:linear-gradient(#ffaa30 .5px,#ffb82a 4.5px,#ffe414 12.5px,#fffa01 21.5px,#f6f607 24.5px,#bebe3c 28.5px,#7c7c83 32.5px,#70708f 33.5px,#3c3cc3 39.5px,#090df9 49.5px,#090efa 50.5px,#1326fc 59.5px,#1e3bfa 60.5px,#3a75f3 61.5px,#4c92f0 62.5px,#6ab4f3 66.5px,#a7dffa 74.5px,#cdeefc 79.5px,#fff 80.5px,#fff 125.5px,#c1e9fc 126.5px,#a4ddfa 127.5px,#6ab5f3 129.5px,#4e95f1 130.5px,#1121fc 131.5px,#0a11fa 132.5px,#1e20e3 133.5px,#3c3cc3 134.5px,#71718e 135.5px,#afaf4c 136.5px,#e8e814 137.5px,#fffb01 138.5px,#ffe513 141.5px,#ffa631 145.5px,#ff863b 148.5px,#ff572d 152.5px,#fe4726 158.5px,#fe3d22 168.5px,#fc331e 220.5px)"></i><i style="background:linear-gradient(#ffa233 .5px,#ffb82b 6.5px,#ffe117 13.5px,#fffa01 23.5px,#f5f508 26.5px,#baba40 30.5px,#787887 34.5px,#3a3ac5 41.5px,#090dfa 51.5px,#1327fc 60.5px,#2141f9 61.5px,#4387f1 62.5px,#4d94f1 63.5px,#6bb5f3 67.5px,#a0daf9 74.5px,#cdeefc 80.5px,#fff 81.5px,#fff 125.5px,#c2eafc 126.5px,#a3dcfa 127.5px,#64aef3 129.5px,#4080f1 130.5px,#0d18fb 131.5px,#191be8 132.5px,#4343bc 133.5px,#c9c932 135.5px,#f9f805 136.5px,#fff704 137.5px,#ffde18 140.5px,#ffab2f 143.5px,#ff8a3a 146.5px,#ff7438 148.5px,#ff512b 150.5px,#fe4a28 151.5px,#fd381f 166.5px,#fa2d1b 220.5px)"></i><i style="background:linear-gradient(#ff9e35 .5px,#ffb62b 7.5px,#ffe315 15.5px,#fcfa03 26.5px,#efef0d 28.5px,#c2c238 31.5px,#7e7e80 35.5px,#3c3cc3 42.5px,#080dfa 52.5px,#1427fc 61.5px,#254bf8 62.5px,#478df0 63.5px,#6cb6f3 68.5px,#a2dcfa 75.5px,#cfeffd 81.5px,#fff 82.5px,#fff 125.5px,#c4eafc 126.5px,#a4ddfa 127.5px,#64aff3 129.5px,#4285f1 130.5px,#0d17fb 131.5px,#1c1ee5 132.5px,#4b4bb4 133.5px,#d2d229 135.5px,#fcfa03 136.5px,#ffdb1a 140.5px,#ff9c35 144.5px,#ff7e3b 147.5px,#ff6031 149.5px,#fe4927 150.5px,#fc371f 166.5px,#fa2c1b 220.5px)"></i><i style="background:linear-gradient(#ff9a36 .5px,#ffb32c 8.5px,#ffe117 16.5px,#fefb01 27.5px,#f6f607 29.5px,#bcbc3f 33.5px,#7b7b84 37.5px,#4242bd 43.5px,#080cfa 53.5px,#1428fc 62.5px,#2952f7 63.5px,#498ff0 64.5px,#6eb8f4 69.5px,#a4ddfa 76.5px,#caedfc 81.5px,#fff 82.5px,#fff 125.5px,#c7ebfc 126.5px,#a8dffa 127.5px,#6ab5f3 129.5px,#4c93f1 130.5px,#101efb 131.5px,#0a0ef8 132.5px,#2e2fd2 133.5px,#62629d 134.5px,#e0e01c 136.5px,#fffc00 137.5px,#ffe513 140.5px,#ff9a36 145.5px,#ff7c3a 148.5px,#ff4f2a 151.5px,#fd3920 167.5px,#fb2f1c 220.5px)"></i><i style="background:linear-gradient(#ff9c35 .5px,#ffb92a 9.5px,#ffe415 17.5px,#fcfa03 28.5px,#f0f00d 30.5px,#c4c437 33.5px,#72728d 38.5px,#3a3ac5 44.5px,#090df9 53.5px,#1326fc 62.5px,#1c38fa 63.5px,#3973f3 64.5px,#4b92f0 65.5px,#69b4f3 69.5px,#a6defa 77.5px,#cceefc 82.5px,#fff 83.5px,#fff 125.5px,#c9ecfc 126.5px,#90d0f8 128.5px,#58a0f2 130.5px,#1428fc 131.5px,#0d18fb 132.5px,#0e11f4 133.5px,#2a2cd6 134.5px,#4f4fb0 135.5px,#82827c 136.5px,#c0c03a 137.5px,#f5f508 138.5px,#fffa02 139.5px,#ffe415 142.5px,#ffa432 146.5px,#ff843b 149.5px,#ff592f 153.5px,#fe4927 159.5px,#fe3f23 169.5px,#fc351e 220.5px)"></i><i style="background:linear-gradient(#ff9d35 .5px,#ffbf28 10.5px,#ffe415 17.5px,#fdfb02 28.5px,#f5f508 30.5px,#b8b843 34.5px,#71718e 38.5px,#4040bf 43.5px,#090df9 53.5px,#090efa 54.5px,#1428fc 63.5px,#2a53f7 64.5px,#488ef0 65.5px,#6cb6f3 70.5px,#a1dbfa 77.5px,#ceeffc 83.5px,#fff 84.5px,#fff 125.5px,#ccedfc 126.5px,#99d5f9 128.5px,#66b0f3 130.5px,#4d94f1 131.5px,#1224fc 132.5px,#080dfa 134.5px,#3232ce 136.5px,#5050af 137.5px,#75758a 138.5px,#dede1e 140.5px,#fcfa03 141.5px,#ffe315 145.5px,#ffa532 149.5px,#ff853b 152.5px,#ff6734 156.5px,#ff4f2a 163.5px,#fe3f23 220.5px)"></i><i style="background:linear-gradient(#ff9736 .5px,#ffb52b 10.5px,#ffe216 18.5px,#fefc01 29.5px,#f6f607 31.5px,#eaea13 32.5px,#bcbc3e 35.5px,#787887 39.5px,#3e3ec1 45.5px,#090dfa 55.5px,#162dfb 64.5px,#4a91f0 66.5px,#6fb8f4 71.5px,#a3ddfa 78.5px,#d0effd 84.5px,#fff 85.5px,#fff 125.5px,#ceeefc 126.5px,#a1dbfa 128.5px,#5ea7f2 131.5px,#488ff0 132.5px,#1325fc 133.5px,#0b13fb 135.5px,#0b0ff6 136.5px,#3d3dc2 139.5px,#767689 141.5px,#d5d526 143.5px,#f8f705 144.5px,#fff902 145.5px,#ffdb1a 149.5px,#ff9d35 153.5px,#ff7d3b 156.5px,#ff582e 166.5px,#fe4a27 220.5px)"></i><i style="background:linear-gradient(#ff9337 .5px,#ffb32c 11.5px,#ffe017 19.5px,#fefc00 30.5px,#f6f607 32.5px,#bbbb3f 36.5px,#878777 39.5px,#4141be 46.5px,#090dfa 56.5px,#1326fc 64.5px,#1d3bfa 65.5px,#4283f1 66.5px,#4d94f1 67.5px,#6ab5f3 71.5px,#a6defa 79.5px,#cbedfc 84.5px,#fff 85.5px,#fff 126.5px,#cbedfc 127.5px,#98d5f8 129.5px,#64aff3 131.5px,#4b92f0 132.5px,#1224fc 133.5px,#090df9 135.5px,#3536ca 137.5px,#5757a8 138.5px,#80807f 139.5px,#b7b743 140.5px,#e9e914 141.5px,#fffc00 142.5px,#ffdf17 146.5px,#ffa134 150.5px,#ff823c 153.5px,#ff6533 157.5px,#ff502a 163.5px,#fe4927 173.5px,#fe3f22 220.5px)"></i><i style="background:linear-gradient(#ff793a .5px,#ff9f34 15.5px,#ffe017 26.5px,#fdfb02 36.5px,#f4f409 38.5px,#949469 44.5px,#73738c 48.5px,#3b3bc4 53.5px,#080dfa 61.5px,#1325fc 68.5px,#1b35fa 69.5px,#468cf0 70.5px,#6ab4f3 74.5px,#a8dffa 81.5px,#cdeefc 85.5px,#fff 86.5px,#fff 126.5px,#cbedfc 127.5px,#91d0f8 129.5px,#569ff1 131.5px,#1326fc 132.5px,#0c15fb 133.5px,#1619ec 134.5px,#3535cb 135.5px,#669 136.5px,#dddd1e 138.5px,#fefb01 139.5px,#ffdb19 143.5px,#ff9c35 147.5px,#ff7d3b 150.5px,#ff562d 153.5px,#fe4525 160.5px,#fe3d21 169.5px,#fb331d 220.5px)"></i><i style="background:linear-gradient(#ff5d30 .5px,#ff813c 10.5px,#ff9f34 22.5px,#ffe216 34.5px,#fcfa03 44.5px,#ecec10 46.5px,#b9b941 49.5px,#93936a 51.5px,#778 54.5px,#3b3bc4 59.5px,#090df9 66.5px,#1325fc 73.5px,#172efb 74.5px,#3a75f3 75.5px,#5198f1 76.5px,#69b4f3 78.5px,#9dd8f9 82.5px,#d0effd 86.5px,#fff 87.5px,#fff 126.5px,#cceefc 127.5px,#8dcdf7 129.5px,#6db7f3 130.5px,#4e95f1 131.5px,#101efb 132.5px,#0e12f4 133.5px,#3636ca 134.5px,#b9b941 136.5px,#f5f508 137.5px,#fff902 138.5px,#ffe216 141.5px,#ffaf2e 144.5px,#ff9637 146.5px,#ff833c 148.5px,#fe4a28 152.5px,#fc371f 168.5px,#fa2d1b 220.5px)"></i><i style="background:linear-gradient(#fb311d .5px,#fb321d 3.5px,#ff5b2f 9.5px,#ff823c 19.5px,#ffa034 30.5px,#ffe017 43.5px,#fffb01 54.5px,#f7f607 56.5px,#e9e913 57.5px,#c6c635 59.5px,#8a8a74 62.5px,#4343bc 67.5px,#080cfa 74.5px,#1325fc 80.5px,#1d39fa 81.5px,#5097f1 82.5px,#6bb5f3 83.5px,#a2dcfa 85.5px,#bee8fb 86.5px,#fff 87.5px,#fff 126.5px,#cdeefc 127.5px,#8dcdf7 129.5px,#6db7f3 130.5px,#4e95f1 131.5px,#101efb 132.5px,#1013f1 133.5px,#3939c6 134.5px,#c1c139 136.5px,#f7f606 137.5px,#fff803 138.5px,#ffe017 141.5px,#ffad2f 144.5px,#ff8b3a 147.5px,#ff7539 149.5px,#ff512b 151.5px,#fe4927 152.5px,#fc371f 168.5px,#fa2d1b 220.5px)"></i><i style="background:linear-gradient(#fb311d .5px,#fc351e 8.5px,#ff5d30 13.5px,#ff813c 21.5px,#ffa034 30.5px,#ffe017 43.5px,#fffa01 55.5px,#f7f606 57.5px,#ebeb12 58.5px,#b6b645 61.5px,#7b7b84 64.5px,#4242bd 68.5px,#080dfa 75.5px,#1327fc 81.5px,#2d5af6 82.5px,#5da6f2 83.5px,#93d1f8 85.5px,#c9ecfc 87.5px,#fff 88.5px,#fff 126.5px,#ceeefc 127.5px,#90d0f8 129.5px,#549cf1 131.5px,#1223fc 132.5px,#0a10fa 133.5px,#2426dd 134.5px,#4f4fb0 135.5px,#cece2d 137.5px,#faf904 138.5px,#fff704 139.5px,#ffde18 142.5px,#ffab30 145.5px,#ff8a3a 148.5px,#ff7338 150.5px,#ff522b 152.5px,#ff4e29 153.5px,#fd3a20 168.5px,#fb2f1c 220.5px)"></i><i style="background:linear-gradient(#fb311d .5px,#fb311d 18.5px,#ff592e 22.5px,#ff823c 29.5px,#ffa432 37.5px,#ffe117 48.5px,#fdfa02 58.5px,#eded10 60.5px,#b5b546 63.5px,#8a8a73 65.5px,#3b3bc4 70.5px,#090efa 76.5px,#1224fc 81.5px,#1b36fa 82.5px,#4f96f1 83.5px,#69b4f3 84.5px,#b9e6fb 87.5px,#fff 88.5px,#fff 126.5px,#cfeffd 127.5px,#96d4f8 129.5px,#5ea7f2 131.5px,#2f5ff5 132.5px,#0f1cfb 133.5px,#080dfa 134.5px,#4040bf 136.5px,#71718e 137.5px,#e4e418 139.5px,#fffc00 140.5px,#ffdb1a 144.5px,#ff9c35 148.5px,#ff7d3b 151.5px,#ff5b2f 154.5px,#fe4726 161.5px,#fe4023 170.5px,#fc361f 220.5px)"></i><i style="background:linear-gradient(#fb311d .5px,#fb311d 25.5px,#ff592e 28.5px,#ff863b 34.5px,#ffa333 40.5px,#ffde18 50.5px,#fffb01 59.5px,#f6f607 61.5px,#c0c03a 64.5px,#82827c 67.5px,#3d3dc2 71.5px,#0c10f6 76.5px,#090efa 77.5px,#1326fc 82.5px,#2d5af6 83.5px,#5ca5f2 84.5px,#90cff7 86.5px,#c4eafc 88.5px,#fff 89.5px,#fff 126.5px,#d0effd 127.5px,#9dd8f9 129.5px,#6ab5f3 131.5px,#5299f1 132.5px,#1427fc 133.5px,#0a10fa 135.5px,#1619eb 136.5px,#44b 138.5px,#696996 139.5px,#cdcd2e 141.5px,#f7f706 142.5px,#fff902 143.5px,#ffe513 146.5px,#ff9d35 151.5px,#ff893a 153.5px,#ff6935 157.5px,#ff502a 164.5px,#fe4023 220.5px)"></i><i style="background:linear-gradient(#fb311d .5px,#fb311d 23.5px,#fc361f 24.5px,#ff5e30 27.5px,#ff833c 32.5px,#ffe216 49.5px,#fefb01 60.5px,#f1f10c 62.5px,#bcbc3e 65.5px,#7f7f80 68.5px,#3b3bc4 72.5px,#0b0ff7 77.5px,#090ffa 78.5px,#1224fc 82.5px,#1931fb 83.5px,#5098f1 84.5px,#6cb6f3 85.5px,#a6defa 87.5px,#c3eafc 88.5px,#fff 89.5px,#fff 126.5px,#d0effd 127.5px,#a4ddfa 129.5px,#78bef5 131.5px,#4c93f1 133.5px,#1326fc 134.5px,#080cfa 137.5px,#3838c7 140.5px,#5151ae 141.5px,#6d6d92 142.5px,#f2f20b 145.5px,#fffb00 146.5px,#ffdf17 150.5px,#ff9f34 154.5px,#ff7e3b 157.5px,#ff582e 167.5px,#fe4a28 220.5px)"></i><i style="background:linear-gradient(#fb311d .5px,#fb311d 24.5px,#ff5f31 28.5px,#ff843c 33.5px,#ffbf27 43.5px,#ffe316 50.5px,#fffc00 61.5px,#f5f508 63.5px,#c1c13a 66.5px,#858579 69.5px,#3c3cc3 73.5px,#0a0ef8 78.5px,#0a10fa 79.5px,#1326fc 83.5px,#2d5af6 84.5px,#61abf2 85.5px,#a1dbfa 87.5px,#c1e9fc 88.5px,#fff 89.5px,#fff 125.5px,#c9ecfc 126.5px,#7bc1f5 129.5px,#488ef0 131.5px,#1122fc 132.5px,#0c15fb 133.5px,#0d11f4 134.5px,#3b3bc4 136.5px,#61619e 137.5px,#90906d 138.5px,#c7c734 139.5px,#f6f607 140.5px,#fffa02 141.5px,#ffe513 144.5px,#ffaa30 148.5px,#ff893a 151.5px,#ff6634 155.5px,#ff4e29 162.5px,#fe3d22 220.5px)"></i><i style="background:linear-gradient(#fb311d .5px,#fc331e 27.5px,#ff5f31 30.5px,#ff803c 34.5px,#ffbe28 44.5px,#ffe315 51.5px,#fffc00 61.5px,#f5f508 63.5px,#e5e517 64.5px,#3b3bc4 73.5px,#090df9 78.5px,#1326fc 83.5px,#3468f4 84.5px,#62acf2 85.5px,#a1dbfa 87.5px,#c1e9fc 88.5px,#fff 89.5px,#fff 125.5px,#c4ebfc 126.5px,#a7dffa 127.5px,#6cb6f3 129.5px,#4f96f1 130.5px,#1122fc 131.5px,#0a10fa 132.5px,#2022e1 133.5px,#4242bd 134.5px,#797985 135.5px,#baba41 136.5px,#f2f20b 137.5px,#fffa02 138.5px,#ffe415 141.5px,#ff9836 146.5px,#ff843b 148.5px,#ff542c 152.5px,#fe4425 159.5px,#fe3c21 168.5px,#fb321d 220.5px)"></i><i style="background:linear-gradient(#fb311d .5px,#fb311d 28.5px,#ff552d 30.5px,#ff7e3b 34.5px,#ffa831 40.5px,#ffe017 50.5px,#fefc01 61.5px,#f4f409 63.5px,#bebe3c 66.5px,#81817e 69.5px,#3a3ac5 73.5px,#080cfa 78.5px,#1326fc 83.5px,#3b76f3 84.5px,#63adf2 85.5px,#a2dcfa 87.5px,#c1e9fc 88.5px,#fff 89.5px,#fff 125.5px,#c0e9fc 126.5px,#a0daf9 127.5px,#61abf2 129.5px,#2c57f6 130.5px,#0c15fb 131.5px,#1e21e2 132.5px,#4e4eb1 133.5px,#d3d328 135.5px,#fcfa02 136.5px,#ffdb1a 140.5px,#ff9c35 144.5px,#ff7e3b 147.5px,#ff6132 149.5px,#fe4b28 150.5px,#fc371f 166.5px,#fa2d1b 220.5px)"></i><i style="background:linear-gradient(#fb311d .5px,#fb311d 30.5px,#ff6d37 34.5px,#ff803c 36.5px,#ff9836 39.5px,#ffe216 52.5px,#fffb01 61.5px,#f6f508 63.5px,#e5e517 64.5px,#c0c03a 66.5px,#81817d 69.5px,#3939c6 73.5px,#080cfa 78.5px,#1326fc 83.5px,#4284f1 84.5px,#64aef3 85.5px,#a2dcfa 87.5px,#c1e9fc 88.5px,#fff 89.5px,#fff 125.5px,#bce7fb 126.5px,#9cd7f9 127.5px,#5ca6f2 129.5px,#1428fc 130.5px,#0b12fa 131.5px,#2527db 132.5px,#5b5ba4 133.5px,#dfdf1c 135.5px,#fffc00 136.5px,#ffe514 139.5px,#ff9a36 144.5px,#ff7b3a 147.5px,#fe4a27 150.5px,#fc371f 166.5px,#fa2d1b 220.5px)"></i><i style="background:linear-gradient(#fb311d .5px,#fb311d 30.5px,#ff6e37 34.5px,#ff803c 36.5px,#ff9736 39.5px,#ffe216 52.5px,#fffb00 61.5px,#f5f508 63.5px,#bfbf3b 66.5px,#7f7f7f 69.5px,#3838c7 73.5px,#080dfa 78.5px,#1327fc 83.5px,#468cf0 84.5px,#65aff3 85.5px,#83c7f6 86.5px,#c1e9fc 88.5px,#fff 89.5px,#fff 125.5px,#b9e6fb 126.5px,#9ad6f9 127.5px,#5ea7f2 129.5px,#2244f9 130.5px,#0d17fb 131.5px,#171aea 132.5px,#3a3ac5 133.5px,#75758a 134.5px,#b7b744 135.5px,#f1f10b 136.5px,#fffa02 137.5px,#ffe315 140.5px,#ffb12d 143.5px,#ff9736 145.5px,#ff843c 147.5px,#ff4f2a 151.5px,#fd3a20 167.5px,#fb301c 220.5px)"></i><i style="background:linear-gradient(#ff4f2a .5px,#ff5c30 27.5px,#ff813c 31.5px,#ff9e34 35.5px,#ffc624 39.5px,#ffe216 45.5px,#fefc01 59.5px,#eeee0f 62.5px,#bcbc3e 65.5px,#70708f 69.5px,#4141be 72.5px,#080dfa 78.5px,#1427fc 83.5px,#478ef0 84.5px,#65b0f3 85.5px,#84c7f6 86.5px,#c2e9fc 88.5px,#fff 89.5px,#fff 125.5px,#b7e5fb 126.5px,#7fc3f6 128.5px,#63adf2 129.5px,#488ef0 130.5px,#101ffb 131.5px,#0a10fa 132.5px,#1b1ee5 133.5px,#3737c8 134.5px,#63639c 135.5px,#d4d427 137.5px,#fbf903 138.5px,#ffe017 142.5px,#ff9f34 146.5px,#ff813c 149.5px,#ff5f31 152.5px,#fe4927 159.5px,#fe4023 169.5px,#fc361f 220.5px)"></i><i style="background:linear-gradient(#ff522b .5px,#ff5e30 26.5px,#ff863b 31.5px,#ffa233 35.5px,#ffc823 39.5px,#ffe315 45.5px,#fefb01 59.5px,#f7f607 61.5px,#eaea12 62.5px,#b9b942 65.5px,#6e6e91 69.5px,#3f3fc0 72.5px,#090dfa 78.5px,#1427fc 83.5px,#488ff0 84.5px,#66b1f3 85.5px,#a3ddfa 87.5px,#c2e9fc 88.5px,#fff 89.5px,#fff 124.5px,#d0effd 125.5px,#9ed9f9 127.5px,#6bb6f3 129.5px,#539bf1 130.5px,#1428fc 131.5px,#0a11fa 133.5px,#1417ee 134.5px,#3f3fc0 136.5px,#63639c 137.5px,#8f8f6f 138.5px,#c4c436 139.5px,#f3f309 140.5px,#fffb01 141.5px,#ffdd18 145.5px,#ffa034 149.5px,#ff813c 152.5px,#ff6d36 155.5px,#ff522b 162.5px,#fe4123 220.5px)"></i><i style="background:linear-gradient(#fb311d .5px,#fd3920 26.5px,#ff592f 28.5px,#ff7f3b 32.5px,#ffba2a 40.5px,#ffe216 48.5px,#fefb01 60.5px,#f3f30a 62.5px,#bfbf3b 65.5px,#84847a 68.5px,#3f3fc0 72.5px,#090efa 78.5px,#1427fc 83.5px,#4990f0 84.5px,#67b2f3 85.5px,#a4ddfa 87.5px,#c2eafc 88.5px,#fff 89.5px,#fff 122.5px,#ceeffc 123.5px,#a2dcfa 125.5px,#75bcf4 127.5px,#4990f0 129.5px,#1325fc 130.5px,#0a0ef8 133.5px,#3b3bc4 136.5px,#73738c 138.5px,#d0d02b 140.5px,#f7f606 141.5px,#fffa02 142.5px,#ffdc19 146.5px,#ff9e35 150.5px,#ff7d3b 153.5px,#ff582e 163.5px,#fe4a27 220.5px)"></i><i style="background:linear-gradient(#fb311d .5px,#fd3a20 25.5px,#ff6c36 29.5px,#ff843c 32.5px,#ffbe28 40.5px,#ffe315 48.5px,#fffb01 59.5px,#f6f607 61.5px,#e9e914 62.5px,#b4b447 65.5px,#797986 68.5px,#3a3ac5 72.5px,#0c0ff6 77.5px,#090ffa 78.5px,#1428fc 83.5px,#4a91f0 84.5px,#68b3f3 85.5px,#a4ddfa 87.5px,#c2eafc 88.5px,#fff 89.5px,#fff 122.5px,#caedfc 123.5px,#7bc1f5 126.5px,#488ef0 128.5px,#1121fc 129.5px,#0c15fb 130.5px,#0f13f3 131.5px,#3f3fc0 133.5px,#676798 134.5px,#d0d02b 136.5px,#f8f705 137.5px,#fff803 138.5px,#ffe414 141.5px,#ffa731 145.5px,#ff863b 148.5px,#ff6433 152.5px,#ff4d29 159.5px,#fe3c21 220.5px)"></i><i style="background:linear-gradient(#fb331d .5px,#fe3f23 22.5px,#ff592f 24.5px,#ff7f3b 29.5px,#ffa034 35.5px,#ffbe28 39.5px,#ffe117 46.5px,#fffc00 58.5px,#f3f30a 60.5px,#bcbc3e 63.5px,#7d7d82 66.5px,#4141be 70.5px,#0c0ff6 76.5px,#090ffa 77.5px,#1325fc 82.5px,#2346f8 83.5px,#559ef1 84.5px,#8ccdf7 86.5px,#c3eafc 88.5px,#fff 89.5px,#fff 122.5px,#c5ebfc 123.5px,#a7dffa 124.5px,#6cb6f3 126.5px,#4f96f1 127.5px,#1121fc 128.5px,#0a10fa 129.5px,#2123df 130.5px,#4646b9 131.5px,#80807f 132.5px,#c0c03a 133.5px,#f6f607 134.5px,#fff903 135.5px,#ffe315 138.5px,#ffa134 142.5px,#ff833c 145.5px,#ff532c 149.5px,#fe4425 156.5px,#fd3c21 165.5px,#fb311d 220.5px)"></i><i style="background:linear-gradient(#fc351e .5px,#fe3f22 17.5px,#ff6935 22.5px,#ff853b 27.5px,#ffa134 33.5px,#ffe216 44.5px,#fefb01 55.5px,#eeee0e 57.5px,#c6c634 59.5px,#82827c 62.5px,#4040bf 67.5px,#0b0ef7 74.5px,#090ffa 75.5px,#1326fc 81.5px,#2244f9 82.5px,#5198f1 83.5px,#68b2f3 84.5px,#7fc3f6 85.5px,#c5ebfc 88.5px,#fff 89.5px,#fff 122.5px,#c0e9fc 123.5px,#a0dbf9 124.5px,#61abf2 126.5px,#2c58f6 127.5px,#0c15fb 128.5px,#1f21e2 129.5px,#4f4fb0 130.5px,#d5d526 132.5px,#fdfa02 133.5px,#ffe612 136.5px,#ff9c35 141.5px,#ff7d3b 144.5px,#ff6031 146.5px,#fe4a28 147.5px,#fc371f 163.5px,#fa2d1b 220.5px)"></i><i style="background:linear-gradient(#ff5a2f .5px,#ff5f31 11.5px,#ff843c 18.5px,#ff9f34 25.5px,#ffe116 37.5px,#fffc00 48.5px,#f2f20b 51.5px,#b6b645 54.5px,#70708f 57.5px,#61619e 58.5px,#3b3bc4 62.5px,#090efa 72.5px,#1427fc 80.5px,#2850f7 81.5px,#5299f1 82.5px,#65aff3 83.5px,#a0daf9 86.5px,#c7ecfc 88.5px,#fff 89.5px,#fff 122.5px,#bbe7fb 123.5px,#9cd7f9 124.5px,#5ca6f2 126.5px,#1428fc 127.5px,#0b12fa 128.5px,#2526dc 129.5px,#5959a6 130.5px,#dede1e 132.5px,#fffc00 133.5px,#ffe513 136.5px,#ff9a36 141.5px,#ff7c3a 144.5px,#fe4a28 147.5px,#fc371f 163.5px,#fa2d1b 220.5px)"></i><i style="background:linear-gradient(#ff592f .5px,#ff833c 10.5px,#ff9d35 18.5px,#ffe017 31.5px,#fdfb01 42.5px,#f6f508 44.5px,#c1c139 47.5px,#6b6b94 51.5px,#60609f 52.5px,#3a3ac5 57.5px,#080cfa 68.5px,#1326fc 78.5px,#1a34fb 79.5px,#3b75f3 80.5px,#549df1 81.5px,#65aff3 82.5px,#97d4f8 85.5px,#c9ecfc 88.5px,#fff 89.5px,#fff 122.5px,#b8e6fb 123.5px,#9ad6f9 124.5px,#5da7f2 126.5px,#2244f9 127.5px,#0d17fb 128.5px,#1619eb 129.5px,#3939c7 130.5px,#eeee0f 133.5px,#fffa01 134.5px,#ffe415 137.5px,#ff9836 142.5px,#ff793a 145.5px,#ff502a 148.5px,#fd3a20 164.5px,#fb301c 220.5px)"></i><i style="background:linear-gradient(#fe4626 .5px,#ff6b36 6.5px,#ff823c 12.5px,#ff9d35 21.5px,#ffaf2e 25.5px,#ffe216 33.5px,#fffb01 42.5px,#f6f607 44.5px,#c1c139 47.5px,#84847a 50.5px,#3939c6 59.5px,#090df9 68.5px,#090efa 69.5px,#1327fc 78.5px,#1f3ef9 79.5px,#478ef0 80.5px,#77bef5 83.5px,#a8dffa 86.5px,#c9ecfc 88.5px,#fff 89.5px,#fff 122.5px,#b6e5fb 123.5px,#7ec3f6 125.5px,#488ef0 127.5px,#101ffb 128.5px,#0a11fa 129.5px,#1a1de7 130.5px,#3536ca 131.5px,#5f5fa0 132.5px,#cfcf2c 134.5px,#f9f805 135.5px,#fff804 136.5px,#ffe216 139.5px,#ffa134 143.5px,#ff833c 146.5px,#ff5b2f 150.5px,#fe4a27 156.5px,#fe4123 166.5px,#fc361f 220.5px)"></i><i style="background:linear-gradient(#fd3c21 .5px,#fe3f23 2.5px,#ff572d 5.5px,#ff6b36 9.5px,#ff853b 16.5px,#ffa432 26.5px,#ffe316 37.5px,#fbfa03 47.5px,#f6f607 48.5px,#e5e517 49.5px,#bcbc3e 51.5px,#7c7c83 54.5px,#3a3bc5 61.5px,#080cfa 70.5px,#1326fc 79.5px,#1e3bfa 80.5px,#488ef0 81.5px,#6cb6f3 83.5px,#a3ddfa 86.5px,#c8ecfc 88.5px,#fff 89.5px,#fff 121.5px,#cfeffc 122.5px,#9dd8f9 124.5px,#6bb5f3 126.5px,#539af1 127.5px,#1428fc 128.5px,#0a11fa 130.5px,#1216ef 131.5px,#3c3cc4 133.5px,#888876 135.5px,#bdbd3d 136.5px,#ecec10 137.5px,#fffc00 138.5px,#ffe017 142.5px,#ffa233 146.5px,#ff833c 149.5px,#ff6a35 153.5px,#ff512b 160.5px,#fe4124 220.5px)"></i><i style="background:linear-gradient(#ff592e .5px,#ff5d30 6.5px,#ff803b 14.5px,#ffa034 24.5px,#ffe315 38.5px,#fefb01 49.5px,#f5f508 51.5px,#bdbd3d 54.5px,#676798 58.5px,#3939c6 63.5px,#080dfa 72.5px,#1326fc 80.5px,#2041f9 81.5px,#4d94f1 82.5px,#76bdf4 84.5px,#a0daf9 86.5px,#c9edfc 88.5px,#fff 89.5px,#fff 119.5px,#caedfc 120.5px,#9dd8f9 122.5px,#59a2f2 125.5px,#366cf4 126.5px,#1223fc 127.5px,#0a11fa 129.5px,#1013f2 130.5px,#4747b8 133.5px,#878777 135.5px,#b9b942 136.5px,#e5e517 137.5px,#fdfa02 138.5px,#ffe315 142.5px,#ffa632 146.5px,#ff7c3b 150.5px,#ff572e 160.5px,#fe4927 220.5px)"></i><i style="background:linear-gradient(#ff522b .5px,#ff562d 7.5px,#ff833c 17.5px,#ff9f34 26.5px,#ffe315 40.5px,#fefb01 52.5px,#f6f508 54.5px,#c2c238 57.5px,#70708f 61.5px,#4343bc 65.5px,#080dfa 74.5px,#1327fc 81.5px,#254bf8 82.5px,#549bf1 83.5px,#6bb5f3 84.5px,#9bd7f9 86.5px,#ccedfc 88.5px,#fff 89.5px,#fff 119.5px,#c5ebfc 120.5px,#90cff8 122.5px,#5ba4f2 124.5px,#2a55f7 125.5px,#101efb 126.5px,#0a11fa 127.5px,#1619eb 128.5px,#4e4eb1 130.5px,#778 131.5px,#b0b04b 132.5px,#e4e418 133.5px,#fefb01 134.5px,#ffdf17 138.5px,#ffa034 142.5px,#ff813c 145.5px,#ff6634 148.5px,#ff4d29 155.5px,#fe4023 185.5px,#fd3b21 220.5px)"></i><i style="background:linear-gradient(#ff592e .5px,#ff5b2f 7.5px,#ff853b 17.5px,#ff9f34 25.5px,#ffe117 39.5px,#fdfb01 53.5px,#f7f607 55.5px,#ebeb11 56.5px,#bebe3c 59.5px,#686897 64.5px,#44b 67.5px,#090df9 75.5px,#1427fc 82.5px,#3870f3 83.5px,#5fa9f2 84.5px,#97d4f8 86.5px,#ceeffc 88.5px,#fff 89.5px,#fff 119.5px,#bfe8fc 120.5px,#83c6f6 122.5px,#65b0f3 123.5px,#488ff0 124.5px,#0f1dfb 125.5px,#090df8 126.5px,#2b2cd5 127.5px,#5757a8 128.5px,#d2d229 130.5px,#fbf903 131.5px,#ffde18 135.5px,#ffab30 138.5px,#ff8a3a 141.5px,#ff7438 143.5px,#ff552d 145.5px,#ff512b 146.5px,#fd3b21 161.5px,#fb301c 220.5px)"></i><i style="background:linear-gradient(#ff512b .5px,#ff572d 7.5px,#ff843b 17.5px,#ffa333 26.5px,#ffe216 39.5px,#fffc00 51.5px,#f1f10c 54.5px,#c0c03a 57.5px,#73738c 61.5px,#4545ba 65.5px,#080dfa 74.5px,#1427fc 81.5px,#2953f7 82.5px,#57a0f1 83.5px,#6fb8f4 84.5px,#b9e6fb 87.5px,#fff 88.5px,#fff 119.5px,#b9e6fb 120.5px,#7ac0f5 122.5px,#5aa3f2 123.5px,#1326fc 124.5px,#0a11fa 125.5px,#282ad8 126.5px,#60609f 127.5px,#a5a557 128.5px,#e4e418 129.5px,#fffb01 130.5px,#ffe414 133.5px,#ff9936 138.5px,#ff7a3a 141.5px,#fe4a27 144.5px,#fc371f 160.5px,#fa2c1b 220.5px)"></i><i style="background:linear-gradient(#fb311d .5px,#fb311d 5.5px,#ff5a2f 10.5px,#ff833c 19.5px,#ffa233 28.5px,#ffe117 39.5px,#fffc00 49.5px,#f5f508 51.5px,#bfbf3b 54.5px,#82827c 57.5px,#4242bd 63.5px,#0b0ff7 71.5px,#090efa 72.5px,#152afc 80.5px,#366cf4 81.5px,#58a0f2 82.5px,#6cb6f3 83.5px,#96d4f8 85.5px,#c0e9fc 87.5px,#fff 88.5px,#fff 119.5px,#b5e4fb 120.5px,#75bdf4 122.5px,#569ff1 123.5px,#1224fc 124.5px,#090efa 125.5px,#2c2dd4 126.5px,#669 127.5px,#aaaa51 128.5px,#e8e814 129.5px,#fffb01 130.5px,#ffe414 133.5px,#ffb22d 136.5px,#ff9836 138.5px,#ff793a 141.5px,#fe4a28 144.5px,#fc371f 160.5px,#fa2c1b 220.5px)"></i><i style="background:linear-gradient(#fe4324 .5px,#ff6a35 6.5px,#ff833c 12.5px,#ffa134 21.5px,#ffe315 33.5px,#fefb01 43.5px,#f4f409 45.5px,#c1c139 48.5px,#778 52.5px,#393ac6 59.5px,#090efa 69.5px,#1427fc 78.5px,#2143f9 79.5px,#4a91f0 80.5px,#6db7f3 82.5px,#a2dcfa 85.5px,#c5ebfc 87.5px,#fff 88.5px,#fff 118.5px,#d0effd 119.5px,#94d2f8 121.5px,#58a0f2 123.5px,#1326fc 124.5px,#0b14fb 125.5px,#1b1ee6 126.5px,#3f3fc0 127.5px,#7a7a85 128.5px,#bbbb3f 129.5px,#f5f508 130.5px,#fff902 131.5px,#ffe315 134.5px,#ffb02d 137.5px,#ff9736 139.5px,#ff833c 141.5px,#ff502a 145.5px,#fd3a20 161.5px,#fb301c 220.5px)"></i><i style="background:linear-gradient(#ff863b .5px,#ff9f34 8.5px,#ffe216 22.5px,#fffc00 32.5px,#f8f706 35.5px,#f2f20b 36.5px,#c4c436 39.5px,#7f7f7f 43.5px,#5454ab 45.5px,#4a4ab5 46.5px,#3939c6 49.5px,#080cfa 63.5px,#1327fc 76.5px,#1b36fa 77.5px,#5299f1 79.5px,#6fb8f4 81.5px,#9cd8f9 84.5px,#c9ecfc 87.5px,#fff 88.5px,#fff 118.5px,#cceefc 119.5px,#95d3f8 121.5px,#5ea7f2 123.5px,#3162f5 124.5px,#0f1dfb 125.5px,#090ffa 126.5px,#3838c7 128.5px,#64649b 129.5px,#d3d328 131.5px,#faf904 132.5px,#fff704 133.5px,#ffe216 136.5px,#ffa134 140.5px,#ff823c 143.5px,#ff5c30 147.5px,#fe4a28 153.5px,#fe4124 163.5px,#fc371f 220.5px)"></i><i style="background:linear-gradient(#ff7739 .5px,#ffa333 13.5px,#ffe017 24.5px,#fcfa02 35.5px,#f2f20b 37.5px,#b5b545 41.5px,#82827c 44.5px,#797986 45.5px,#3c3cc3 53.5px,#080dfa 65.5px,#1427fc 76.5px,#2142f9 77.5px,#478ef0 78.5px,#73bbf4 81.5px,#9fdaf9 84.5px,#cbedfc 87.5px,#fff 88.5px,#fff 118.5px,#c9ecfc 119.5px,#98d5f8 121.5px,#66b1f3 123.5px,#4e96f1 124.5px,#1326fc 125.5px,#0a10fa 127.5px,#1518ed 128.5px,#3e3ec1 130.5px,#898974 132.5px,#bfbf3b 133.5px,#eded0f 134.5px,#fffc00 135.5px,#ffe017 139.5px,#ffa233 143.5px,#ff833c 146.5px,#ff6b36 150.5px,#ff522b 157.5px,#fe4224 220.5px)"></i><i style="background:linear-gradient(#fd3b21 .5px,#ff5d30 4.5px,#ff833c 12.5px,#ffa432 21.5px,#ffe216 31.5px,#fdfa02 41.5px,#f1f10b 43.5px,#c0c03a 46.5px,#898975 49.5px,#3a3bc5 58.5px,#090df9 67.5px,#1428fc 77.5px,#284ff7 78.5px,#4e95f1 79.5px,#6db7f3 81.5px,#9dd8f9 84.5px,#cdeefc 87.5px,#fff 88.5px,#fff 116.5px,#c4eafc 117.5px,#7fc3f6 120.5px,#68b3f3 121.5px,#529af1 122.5px,#182ffb 123.5px,#101ffb 124.5px,#080dfa 126.5px,#3a3ac5 129.5px,#73738c 131.5px,#d2d229 133.5px,#f7f706 134.5px,#fffa02 135.5px,#ffdc19 139.5px,#ff9f34 143.5px,#ff7f3b 146.5px,#ff572e 156.5px,#fe4826 220.5px)"></i><i style="background:linear-gradient(#fb311d .5px,#fb311d 3.5px,#ff5c30 8.5px,#ff843b 16.5px,#ffa333 24.5px,#ffe315 35.5px,#fdfa02 45.5px,#f1f10c 47.5px,#c0c03a 50.5px,#898975 53.5px,#4141be 60.5px,#080cfa 69.5px,#1326fc 77.5px,#1931fb 78.5px,#3f7ef2 79.5px,#569ef1 80.5px,#67b1f3 81.5px,#9bd7f9 84.5px,#cfeffc 87.5px,#fff 88.5px,#fff 116.5px,#bee8fb 117.5px,#a3dcfa 118.5px,#6db7f3 120.5px,#539bf1 121.5px,#1327fc 122.5px,#080cfa 124.5px,#3939c7 126.5px,#60609f 127.5px,#caca31 129.5px,#f7f606 130.5px,#fff903 131.5px,#ffe414 134.5px,#ffa631 138.5px,#ff863b 141.5px,#ff6132 145.5px,#ff4b28 152.5px,#fe3f22 182.5px,#fd3a20 220.5px)"></i><i style="background:linear-gradient(#fb311d .5px,#fb311d 7.5px,#ff582e 11.5px,#ff833c 19.5px,#ff9e34 26.5px,#ffe216 38.5px,#fefb01 48.5px,#f6f607 50.5px,#e9e913 51.5px,#bbbb3f 54.5px,#878777 57.5px,#4242bd 63.5px,#090efa 71.5px,#1326fc 78.5px,#2346f8 79.5px,#4e95f1 80.5px,#73bbf4 82.5px,#98d5f9 84.5px,#d1f0fd 87.5px,#fff 88.5px,#fff 116.5px,#b7e5fb 117.5px,#99d6f9 118.5px,#5da6f2 120.5px,#2142f9 121.5px,#0d17fb 122.5px,#1518ed 123.5px,#3637c9 124.5px,#6d6d92 125.5px,#adad4e 126.5px,#e8e814 127.5px,#fffb01 128.5px,#ffe514 131.5px,#ff9936 136.5px,#ff7a3a 139.5px,#ff512b 142.5px,#fd3b21 158.5px,#fb301c 220.5px)"></i><i style="background:linear-gradient(#fb321d .5px,#fc351e 6.5px,#ff5c30 10.5px,#ff833c 17.5px,#ff9f34 24.5px,#ffe017 36.5px,#fdfb01 48.5px,#f6f607 50.5px,#ebeb12 51.5px,#c3c337 54.5px,#868678 58.5px,#3c3cc3 64.5px,#090df9 71.5px,#1326fc 78.5px,#2041f9 79.5px,#4e95f1 80.5px,#76bdf5 82.5px,#9fdaf9 84.5px,#c8ecfc 86.5px,#fff 87.5px,#fff 115.5px,#d1f0fd 116.5px,#91d0f8 118.5px,#71baf4 119.5px,#529af1 120.5px,#1120fb 121.5px,#0b0ff7 122.5px,#3434cc 123.5px,#b9b942 125.5px,#f5f508 126.5px,#fff903 127.5px,#ffe216 130.5px,#ffa034 134.5px,#ff833c 137.5px,#fe4927 141.5px,#fc371f 157.5px,#fa2c1b 220.5px)"></i><i style="background:linear-gradient(#ff562d .5px,#ff5a2f 6.5px,#ff833c 13.5px,#ffa134 20.5px,#ffe017 31.5px,#fffc00 43.5px,#f6f607 46.5px,#ecec11 47.5px,#b6b644 51.5px,#696996 56.5px,#3e3ec1 60.5px,#080dfa 69.5px,#1326fc 76.5px,#1d3afa 77.5px,#4a90f0 78.5px,#6bb6f3 80.5px,#9fdaf9 83.5px,#c2eafc 85.5px,#fff 86.5px,#fff 115.5px,#cceefc 116.5px,#8dcdf7 118.5px,#6db7f4 119.5px,#4f96f1 120.5px,#101efb 121.5px,#0e11f4 122.5px,#3536ca 123.5px,#b9b941 125.5px,#f5f508 126.5px,#fff903 127.5px,#ffe216 130.5px,#ffa034 134.5px,#ff833c 137.5px,#fe4a28 141.5px,#fc371f 157.5px,#fa2c1b 220.5px)"></i></div>
<svg width="550" height="329" viewBox="0 0 550 329">
<defs><linearGradient id="cb"><stop offset="0" stop-color="#ffffff"/><stop offset=".0625" stop-color="#d7f2fd"/><stop offset=".125" stop-color="#a5defa"/><stop offset=".2" stop-color="#69b4f3"/><stop offset=".2488" stop-color="#468cf0"/><stop offset=".2512" stop-color="#1428fc"/><stop offset=".3" stop-color="#080cfa"/><stop offset=".345" stop-color="#3c3cc3"/><stop offset=".375" stop-color="#787887"/><stop offset=".425" stop-color="#bebe3c"/><stop offset=".47" stop-color="#f5f508"/><stop offset=".5" stop-color="#fffc00"/><stop offset=".575" stop-color="#ffe216"/><stop offset=".62" stop-color="#ffbe28"/><stop offset=".65" stop-color="#ffa034"/><stop offset=".695" stop-color="#ff823e"/><stop offset=".7488" stop-color="#ff6a3e"/><stop offset=".7512" stop-color="#ff301a"/><stop offset=".7875" stop-color="#e81212"/><stop offset=".875" stop-color="#960000"/><stop offset="1" stop-color="#000000"/></linearGradient></defs>
<rect x="190.6" y="9" width="187.8" height="6.6" fill="url(#cb)" stroke="#222" stroke-width="1"/>
<g stroke="#111" stroke-width=".9">
<line x1="204.73" y1="9" x2="204.73" y2="15.6" opacity=".75"/>
<line x1="213" y1="9" x2="213" y2="15.6" opacity=".75"/>
<line x1="218.87" y1="9" x2="218.87" y2="15.6" opacity=".75"/>
<line x1="223.42" y1="9" x2="223.42" y2="15.6" opacity=".75"/>
<line x1="227.13" y1="9" x2="227.13" y2="15.6" opacity=".75"/>
<line x1="230.28" y1="9" x2="230.28" y2="15.6" opacity=".75"/>
<line x1="233" y1="9" x2="233" y2="15.6" opacity=".75"/>
<line x1="235.4" y1="9" x2="235.4" y2="15.6" opacity=".75"/>
<line x1="251.68" y1="9" x2="251.68" y2="15.6" opacity=".75"/>
<line x1="259.95" y1="9" x2="259.95" y2="15.6" opacity=".75"/>
<line x1="265.82" y1="9" x2="265.82" y2="15.6" opacity=".75"/>
<line x1="270.37" y1="9" x2="270.37" y2="15.6" opacity=".75"/>
<line x1="274.08" y1="9" x2="274.08" y2="15.6" opacity=".75"/>
<line x1="277.23" y1="9" x2="277.23" y2="15.6" opacity=".75"/>
<line x1="279.95" y1="9" x2="279.95" y2="15.6" opacity=".75"/>
<line x1="282.35" y1="9" x2="282.35" y2="15.6" opacity=".75"/>
<line x1="298.63" y1="9" x2="298.63" y2="15.6" opacity=".75"/>
<line x1="306.9" y1="9" x2="306.9" y2="15.6" opacity=".75"/>
<line x1="312.77" y1="9" x2="312.77" y2="15.6" opacity=".75"/>
<line x1="317.32" y1="9" x2="317.32" y2="15.6" opacity=".75"/>
<line x1="321.03" y1="9" x2="321.03" y2="15.6" opacity=".75"/>
<line x1="324.18" y1="9" x2="324.18" y2="15.6" opacity=".75"/>
<line x1="326.9" y1="9" x2="326.9" y2="15.6" opacity=".75"/>
<line x1="329.3" y1="9" x2="329.3" y2="15.6" opacity=".75"/>
<line x1="345.58" y1="9" x2="345.58" y2="15.6" opacity=".75"/>
<line x1="353.85" y1="9" x2="353.85" y2="15.6" opacity=".75"/>
<line x1="359.72" y1="9" x2="359.72" y2="15.6" opacity=".75"/>
<line x1="364.27" y1="9" x2="364.27" y2="15.6" opacity=".75"/>
<line x1="367.98" y1="9" x2="367.98" y2="15.6" opacity=".75"/>
<line x1="371.13" y1="9" x2="371.13" y2="15.6" opacity=".75"/>
<line x1="373.85" y1="9" x2="373.85" y2="15.6" opacity=".75"/>
<line x1="376.25" y1="9" x2="376.25" y2="15.6" opacity=".75"/>
<line x1="190.6" y1="8" x2="190.6" y2="16.6" stroke-width="1.2"/>
<line x1="237.55" y1="8" x2="237.55" y2="16.6" stroke-width="1.2"/>
<line x1="284.5" y1="8" x2="284.5" y2="16.6" stroke-width="1.2"/>
<line x1="331.45" y1="8" x2="331.45" y2="16.6" stroke-width="1.2"/>
<line x1="378.4" y1="8" x2="378.4" y2="16.6" stroke-width="1.2"/>
</g>
<g font-size="12.2" fill="#111">
<text x="190.4" y="31.1" text-anchor="middle">10<tspan dy="-5.3" font-size="9.3">−4</tspan></text>
<text x="237.3" y="31.1" text-anchor="middle">10<tspan dy="-5.3" font-size="9.3">−3</tspan></text>
<text x="284.3" y="31.1" text-anchor="middle">10<tspan dy="-5.3" font-size="9.3">−2</tspan></text>
<text x="331.2" y="31.1" text-anchor="middle">10<tspan dy="-5.3" font-size="9.3">−1</tspan></text>
<text x="378.2" y="31.1" text-anchor="middle">10<tspan dy="-5.3" font-size="9.3">0</tspan></text>
</g>
<line x1="80.5" y1="66" x2="80.5" y2="286" stroke="#6a6a6a" stroke-width=".9"/>
<line x1="123.5" y1="66" x2="123.5" y2="286" stroke="#6a6a6a" stroke-width=".9"/>
<clipPath id="lc"><rect x="44.5" y="66" width="96.1" height="220.5"/></clipPath>
<g clip-path="url(#lc)">
<rect x="44" y="66" width="97" height="11" fill="#0404f6"/>
<rect x="44" y="77" width="97" height="5" fill="#0505f5" opacity=".7"/>
<rect x="44" y="82" width="97" height="5" fill="#0505f5" opacity=".4"/>
<rect x="44" y="87" width="97" height="5" fill="#0505f5" opacity=".15"/>
<path d="M44 200.5 Q62 199.2 80.7 198.6 Q100 199 123 202.2 L141 201.3 V287 H44Z" fill="#0202fa"/>
<g fill="none" stroke="#0808ff" stroke-width="1.15">
<path d="M44.5 124 47 126.5 49.4 128.8 51.9 130.9 54.4 132.8 56.8 134.6 59.3 136.2 61.7 137.6 64.2 138.8 66.7 139.9 69.1 140.8 71.6 141.5 74.1 142.1 76.5 142.5 79 142.7 81.5 142.7 83.9 142.6 86.4 142.3 88.9 141.8 91.3 141.1 93.8 140.3 96.2 139.3 98.7 138.1 101.2 136.7 103.6 135.2 106.1 133.5 108.6 131.6 111 129.6 113.5 127.4 116 125 118.4 122.4 120.9 121.3 123.4 120.2 125.8 119.2 128.3 118 130.7 116.8 133.2 115.5 135.7 114.2 138.1 112.8 140.6 111.4"/>
<path d="M44.5 111.7 47 114 49.4 116.1 51.9 118.1 54.4 119.9 56.8 121.6 59.3 123.1 61.7 124.4 64.2 125.6 66.7 126.6 69.1 127.5 71.6 128.1 74.1 128.7 76.5 129 79 129.2 81.5 129.2 83.9 129.1 86.4 128.8 88.9 128.4 91.3 127.7 93.8 127 96.2 126 98.7 124.9 101.2 123.6 103.6 122.2 106.1 120.6 108.6 118.8 111 116.9 113.5 114.8 116 112.6 118.4 110.1 120.9 108.3 123.4 107.3 125.8 106.3 128.3 105.2 130.7 104.1 133.2 102.9 135.7 101.6 138.1 100.3 140.6 99"/>
<path d="M44.5 105.6 47 107.8 49.4 109.8 51.9 111.7 54.4 113.4 56.8 114.9 59.3 116.3 61.7 117.6 64.2 118.7 66.7 119.6 69.1 120.4 71.6 121.1 74.1 121.5 76.5 121.9 79 122.1 81.5 122.1 83.9 122 86.4 121.7 88.9 121.3 91.3 120.7 93.8 119.9 96.2 119.1 98.7 118 101.2 116.8 103.6 115.5 106.1 114 108.6 112.3 111 110.5 113.5 108.6 116 106.4 118.4 104.2 120.9 101.8 123.4 100.7 125.8 99.7 128.3 98.7 130.7 97.7 133.2 96.5 135.7 95.4 138.1 94.2 140.6 92.9"/>
<path d="M44.5 102.3 47 104.3 49.4 106.2 51.9 107.9 54.4 109.5 56.8 111 59.3 112.3 61.7 113.5 64.2 114.5 66.7 115.4 69.1 116.1 71.6 116.7 74.1 117.2 76.5 117.5 79 117.7 81.5 117.7 83.9 117.6 86.4 117.3 88.9 116.9 91.3 116.4 93.8 115.7 96.2 114.9 98.7 113.9 101.2 112.8 103.6 111.5 106.1 110.1 108.6 108.6 111 106.9 113.5 105.1 116 103.1 118.4 101 120.9 98.7 123.4 96.8 125.8 95.9 128.3 95 130.7 94 133.2 93 135.7 91.9 138.1 90.7 140.6 89.5"/>
<path d="M44.5 98.2 47 100.1 49.4 101.8 51.9 103.4 54.4 104.9 56.8 106.3 59.3 107.5 61.7 108.6 64.2 109.5 66.7 110.3 69.1 111 71.6 111.6 74.1 112 76.5 112.3 79 112.4 81.5 112.5 83.9 112.4 86.4 112.1 88.9 111.7 91.3 111.2 93.8 110.6 96.2 109.8 98.7 108.9 101.2 107.9 103.6 106.7 106.1 105.4 108.6 104 111 102.4 113.5 100.7 116 98.9 118.4 96.9 120.9 94.9 123.4 92.6 125.8 91.3 128.3 90.4 130.7 89.5 133.2 88.5 135.7 87.5 138.1 86.5 140.6 85.4"/>
<path d="M44.5 94.9 47 96.6 49.4 98.2 51.9 99.7 54.4 101.1 56.8 102.3 59.3 103.5 61.7 104.5 64.2 105.3 66.7 106.1 69.1 106.7 71.6 107.2 74.1 107.6 76.5 107.9 79 108 81.5 108.1 83.9 108 86.4 107.7 88.9 107.4 91.3 106.9 93.8 106.4 96.2 105.6 98.7 104.8 101.2 103.9 103.6 102.8 106.1 101.6 108.6 100.3 111 98.8 113.5 97.2 116 95.6 118.4 93.7 120.9 91.8 123.4 89.8 125.8 87.6 128.3 86.7 130.7 85.8 133.2 84.9 135.7 84 138.1 83 140.6 82"/>
<path d="M44.5 92.4 47 94 49.4 95.5 51.9 96.8 54.4 98.1 56.8 99.2 59.3 100.3 61.7 101.2 64.2 102 66.7 102.7 69.1 103.3 71.6 103.7 74.1 104.1 76.5 104.3 79 104.5 81.5 104.5 83.9 104.4 86.4 104.2 88.9 103.9 91.3 103.5 93.8 102.9 96.2 102.3 98.7 101.5 101.2 100.6 103.6 99.6 106.1 98.5 108.6 97.3 111 96 113.5 94.6 116 93 118.4 91.4 120.9 89.6 123.4 87.7 125.8 85.7 128.3 83.8 130.7 83 133.2 82.2 135.7 81.3 138.1 80.4 140.6 79.5"/>
<path d="M44.5 90.8 47 92.2 49.4 93.5 51.9 94.8 54.4 95.9 56.8 97 59.3 97.9 61.7 98.7 64.2 99.5 66.7 100.1 69.1 100.6 71.6 101.1 74.1 101.4 76.5 101.6 79 101.7 81.5 101.7 83.9 101.7 86.4 101.5 88.9 101.2 91.3 100.8 93.8 100.3 96.2 99.7 98.7 99 101.2 98.2 103.6 97.3 106.1 96.3 108.6 95.2 111 94 113.5 92.7 116 91.3 118.4 89.8 120.9 88.2 123.4 86.5 125.8 84.7 128.3 82.7 130.7 81 133.2 80.2 135.7 79.5 138.1 78.7 140.6 77.8"/>
<path d="M44.5 89.1 47 90.4 49.4 91.6 51.9 92.7 54.4 93.8 56.8 94.7 59.3 95.5 61.7 96.3 64.2 96.9 66.7 97.5 69.1 98 71.6 98.4 74.1 98.7 76.5 98.9 79 99 81.5 99 83.9 98.9 86.4 98.8 88.9 98.5 91.3 98.1 93.8 97.7 96.2 97.2 98.7 96.5 101.2 95.8 103.6 95 106.1 94.1 108.6 93.1 111 92 113.5 90.9 116 89.6 118.4 88.2 120.9 86.8 123.4 85.3 125.8 83.6 128.3 81.9 130.7 80.1 133.2 78.3 135.7 77.6 138.1 76.9 140.6 76.1"/>
<path d="M44.5 87.5 47 88.6 49.4 89.7 51.9 90.7 54.4 91.6 56.8 92.4 59.3 93.2 61.7 93.8 64.2 94.4 66.7 94.9 69.1 95.4 71.6 95.7 74.1 96 76.5 96.1 79 96.2 81.5 96.2 83.9 96.2 86.4 96 88.9 95.8 91.3 95.5 93.8 95.1 96.2 94.6 98.7 94.1 101.2 93.4 103.6 92.7 106.1 91.9 108.6 91 111 90.1 113.5 89 116 87.9 118.4 86.7 120.9 85.4 123.4 84 125.8 82.6 128.3 81 130.7 79.4 133.2 77.7 135.7 76 138.1 75.1 140.6 74.4"/>
<path d="M44.5 86.4 47 87.4 49.4 88.3 51.9 89.2 54.4 90 56.8 90.7 59.3 91.4 61.7 91.9 64.2 92.5 66.7 92.9 69.1 93.3 71.6 93.6 74.1 93.8 76.5 93.9 79 94 81.5 94 83.9 94 86.4 93.9 88.9 93.7 91.3 93.4 93.8 93 96.2 92.6 98.7 92.1 101.2 91.6 103.6 91 106.1 90.3 108.6 89.5 111 88.6 113.5 87.7 116 86.7 118.4 85.7 120.9 84.6 123.4 83.4 125.8 82.1 128.3 80.7 130.7 79.3 133.2 77.8 135.7 76.3 138.1 74.7 140.6 73.3"/>
<path d="M44.5 85.2 47 86.1 49.4 86.9 51.9 87.7 54.4 88.4 56.8 89 59.3 89.5 61.7 90 64.2 90.5 66.7 90.9 69.1 91.2 71.6 91.4 74.1 91.6 76.5 91.8 79 91.8 81.5 91.8 83.9 91.8 86.4 91.7 88.9 91.5 91.3 91.3 93.8 91 96.2 90.6 98.7 90.2 101.2 89.7 103.6 89.2 106.1 88.6 108.6 87.9 111 87.2 113.5 86.4 116 85.6 118.4 84.7 120.9 83.7 123.4 82.7 125.8 81.6 128.3 80.4 130.7 79.2 133.2 78 135.7 76.6 138.1 75.2 140.6 73.8"/>
<path d="M44.5 84.4 47 85.1 49.4 85.8 51.9 86.4 54.4 87 56.8 87.5 59.3 88 61.7 88.4 64.2 88.8 66.7 89.1 69.1 89.4 71.6 89.6 74.1 89.7 76.5 89.9 79 89.9 81.5 89.9 83.9 89.9 86.4 89.8 88.9 89.6 91.3 89.5 93.8 89.2 96.2 88.9 98.7 88.6 101.2 88.2 103.6 87.7 106.1 87.2 108.6 86.7 111 86.1 113.5 85.4 116 84.7 118.4 84 120.9 83.1 123.4 82.3 125.8 81.4 128.3 80.4 130.7 79.4 133.2 78.4 135.7 77.2 138.1 76.1 140.6 74.9"/>
<path d="M44.5 83.6 47 84.2 49.4 84.7 51.9 85.2 54.4 85.7 56.8 86.1 59.3 86.5 61.7 86.8 64.2 87.1 66.7 87.3 69.1 87.6 71.6 87.7 74.1 87.9 76.5 87.9 79 88 81.5 88 83.9 88 86.4 87.9 88.9 87.8 91.3 87.6 93.8 87.4 96.2 87.2 98.7 86.9 101.2 86.6 103.6 86.2 106.1 85.8 108.6 85.4 111 84.9 113.5 84.4 116 83.8 118.4 83.2 120.9 82.6 123.4 81.9 125.8 81.2 128.3 80.4 130.7 79.6 133.2 78.7 135.7 77.9 138.1 76.9 140.6 76"/>
<path d="M44.5 82.8 47 83.2 49.4 83.6 51.9 84 54.4 84.3 56.8 84.6 59.3 84.9 61.7 85.2 64.2 85.4 66.7 85.6 69.1 85.7 71.6 85.9 74.1 86 76.5 86 79 86.1 81.5 86.1 83.9 86 86.4 86 88.9 85.9 91.3 85.8 93.8 85.6 96.2 85.5 98.7 85.3 101.2 85 103.6 84.7 106.1 84.5 108.6 84.1 111 83.8 113.5 83.4 116 82.9 118.4 82.5 120.9 82 123.4 81.5 125.8 80.9 128.3 80.4 130.7 79.8 133.2 79.1 135.7 78.5 138.1 77.8 140.6 77"/>
<path d="M44.5 80.8 47 81.3 49.4 81.7 51.9 82.1 54.4 82.4 56.8 82.7 59.3 83 61.7 83.2 64.2 83.5 66.7 83.7 69.1 83.8 71.6 83.9 74.1 84 76.5 84.1 79 84.1 81.5 84.1 83.9 84.1 86.4 84.1 88.9 84 91.3 83.9 93.8 83.7 96.2 83.5 98.7 83.3 101.2 83.1 103.6 82.8 106.1 82.5 108.6 82.2 111 81.8 113.5 81.4 116 81 118.4 80.6 120.9 80.1 123.4 79.6 125.8 79 128.3 78.4 130.7 77.8 133.2 77.2 135.7 76.5 138.1 75.8 140.6 75.1"/>
<path d="M44.5 78.9 47 79.4 49.4 79.8 51.9 80.1 54.4 80.5 56.8 80.8 59.3 81.1 61.7 81.3 64.2 81.5 66.7 81.7 69.1 81.9 71.6 82 74.1 82.1 76.5 82.2 79 82.2 81.5 82.2 83.9 82.2 86.4 82.1 88.9 82.1 91.3 81.9 93.8 81.8 96.2 81.6 98.7 81.4 101.2 81.2 103.6 80.9 106.1 80.6 108.6 80.3 111 79.9 113.5 79.5 116 79.1 118.4 78.6 120.9 78.2 123.4 77.6 125.8 77.1 128.3 76.5 130.7 75.9 133.2 75.3 135.7 74.6 138.1 73.9 140.6 73.2"/>
<path d="M44.5 90.2 47 89.9 49.4 89.6 51.9 89.2 54.4 88.9 56.8 88.5 59.3 88.2 61.7 87.9 64.2 87.5 66.7 87.2 69.1 86.8 71.6 86.5 74.1 86.2 76.5 85.8 79 85.5 81.5 85.5 83.9 86.8 86.4 88.5 88.9 90.4 91.3 92.4 93.8 94.6 96.2 96.8 98.7 99.1 101.2 101.4 103.6 103.6 106.1 105.8 108.6 108 111 110.1 113.5 112.1 116 114 118.4 115.7 120.9 117.3 123.4 118.8 125.8 120.1 128.3 121.2 130.7 122.1 133.2 122.8 135.7 123.3 138.1 123.6 140.6 123.8"/>
<path d="M44.5 95.7 47 95.4 49.4 95.1 51.9 94.7 54.4 94.4 56.8 94 59.3 93.7 61.7 93.4 64.2 93 66.7 92.7 69.1 92.3 71.6 92 74.1 91.7 76.5 91.3 79 91 81.5 90.9 83.9 92 86.4 93.3 88.9 94.9 91.3 96.5 93.8 98.2 96.2 100 98.7 101.8 101.2 103.6 103.6 105.4 106.1 107.2 108.6 109 111 110.6 113.5 112.2 116 113.7 118.4 115.1 120.9 116.4 123.4 117.6 125.8 118.6 128.3 119.5 130.7 120.2 133.2 120.8 135.7 121.2 138.1 121.5 140.6 121.5"/>
<path d="M44.5 82 47 81.6 49.4 81.3 51.9 81 54.4 80.6 56.8 80.3 59.3 79.9 61.7 79.6 64.2 79.3 66.7 78.9 69.1 78.6 71.6 78.3 74.1 77.9 76.5 77.6 79 77.2 81.5 77.2 83.9 78.3 86.4 79.7 88.9 81.2 91.3 82.9 93.8 84.7 96.2 86.5 98.7 88.4 101.2 90.2 103.6 92.1 106.1 93.9 108.6 95.7 111 97.4 113.5 99.1 116 100.6 118.4 102 120.9 103.4 123.4 104.6 125.8 105.6 128.3 106.5 130.7 107.3 133.2 107.9 135.7 108.3 138.1 108.5 140.6 108.6"/>
<path d="M44.5 87.5 47 87.1 49.4 86.8 51.9 86.5 54.4 86.1 56.8 85.8 59.3 85.4 61.7 85.1 64.2 84.8 66.7 84.4 69.1 84.1 71.6 83.8 74.1 83.4 76.5 83.1 79 82.7 81.5 82.6 83.9 83.4 86.4 84.3 88.9 85.4 91.3 86.5 93.8 87.7 96.2 88.9 98.7 90.2 101.2 91.5 103.6 92.7 106.1 94 108.6 95.2 111 96.3 113.5 97.5 116 98.5 118.4 99.5 120.9 100.4 123.4 101.2 125.8 101.9 128.3 102.5 130.7 103 133.2 103.4 135.7 103.7 138.1 103.9 140.6 104"/>
<path d="M44.5 73.7 47 73.4 49.4 73.1 51.9 72.7 54.4 72.4 56.8 72 59.3 71.7 61.7 71.4 64.2 71 66.7 70.7 69.1 70.3 71.6 70 74.1 69.7 76.5 69.3 79 69 81.5 68.9 83.9 70 86.4 71.3 88.9 72.8 91.3 74.4 93.8 76.1 96.2 77.8 98.7 79.6 101.2 81.4 103.6 83.2 106.1 84.9 108.6 86.6 111 88.3 113.5 89.8 116 91.3 118.4 92.7 120.9 94 123.4 95.1 125.8 96.1 128.3 97 130.7 97.7 133.2 98.3 135.7 98.7 138.1 98.9 140.6 99"/>
<path d="M44.5 77.9 47 77.5 49.4 77.2 51.9 76.8 54.4 76.5 56.8 76.2 59.3 75.8 61.7 75.5 64.2 75.1 66.7 74.8 69.1 74.5 71.6 74.1 74.1 73.8 76.5 73.4 79 73.1 81.5 73 83.9 73.8 86.4 74.7 88.9 75.8 91.3 77 93.8 78.2 96.2 79.5 98.7 80.8 101.2 82.1 103.6 83.4 106.1 84.6 108.6 85.9 111 87.1 113.5 88.2 116 89.3 118.4 90.3 120.9 91.2 123.4 92 125.8 92.8 128.3 93.4 130.7 93.9 133.2 94.3 135.7 94.6 138.1 94.8 140.6 94.9"/>
<path d="M44.5 98.5 47 98.1 49.4 97.8 51.9 97.5 54.4 97.1 56.8 96.8 59.3 96.4 61.7 96.1 64.2 95.8 66.7 95.4 69.1 95.1 71.6 94.8 74.1 94.4 76.5 94.1 79 93.7 81.5 93.6 83.9 94.3 86.4 95.1 88.9 96.1 91.3 97.1 93.8 98.2 96.2 99.3 98.7 100.4 101.2 101.6 103.6 102.7 106.1 103.8 108.6 104.9 111 105.9 113.5 106.9 116 107.9 118.4 108.7 120.9 109.5 123.4 110.3 125.8 110.9 128.3 111.5 130.7 111.9 133.2 112.3 135.7 112.5 138.1 112.7 140.6 112.8"/>
<path d="M44.5 93 47 92.6 49.4 92.3 51.9 92 54.4 91.6 56.8 91.3 59.3 90.9 61.7 90.6 64.2 90.3 66.7 89.9 69.1 89.6 71.6 89.3 74.1 88.9 76.5 88.6 79 88.2 81.5 88.1 83.9 88.7 86.4 89.5 88.9 90.4 91.3 91.3 93.8 92.3 96.2 93.4 98.7 94.4 101.2 95.5 103.6 96.5 106.1 97.6 108.6 98.6 111 99.5 113.5 100.5 116 101.3 118.4 102.2 120.9 102.9 123.4 103.6 125.8 104.2 128.3 104.7 130.7 105.1 133.2 105.4 135.7 105.7 138.1 105.8 140.6 105.9"/>
<path d="M44.5 115.5 47 115.3 49.4 114.7 51.9 113.7 54.4 112.3 56.8 110.6 59.3 108.6 61.7 106.4 64.2 103.9 66.7 101.3 69.1 98.6 71.6 95.9 74.1 93.3 76.5 91 79 88.9 81.5 87.9 83.9 87.4 86.4 86.9 88.9 86.5 91.3 86 93.8 85.5 96.2 85 98.7 84.6 101.2 84.1 103.6 83.6 106.1 83.2 108.6 82.7 111 82.2 113.5 81.8 116 81.3 118.4 80.8 120.9 80.4 123.4 79.9 125.8 79.4 128.3 79 130.7 78.5 133.2 78 135.7 77.6 138.1 77.1 140.6 76.6"/>
<path d="M44.5 108.6 47 108.4 49.4 107.8 51.9 106.8 54.4 105.4 56.8 103.7 59.3 101.7 61.7 99.5 64.2 97 66.7 94.4 69.1 91.7 71.6 89.1 74.1 86.5 76.5 84.1 79 82.1 81.5 81 83.9 80.5 86.4 80 88.9 79.6 91.3 79.1 93.8 78.6 96.2 78.2 98.7 77.7 101.2 77.2 103.6 76.8 106.1 76.3 108.6 75.8 111 75.4 113.5 74.9 116 74.4 118.4 74 120.9 73.5 123.4 73 125.8 72.6 128.3 72.1 130.7 71.6 133.2 71.2 135.7 70.7 138.1 70.2 140.6 69.7"/>
<path d="M44.5 101.8 47 101.5 49.4 100.9 51.9 99.9 54.4 98.6 56.8 96.9 59.3 94.9 61.7 92.6 64.2 90.1 66.7 87.5 69.1 84.9 71.6 82.2 74.1 79.6 76.5 77.2 79 75.2 81.5 74.1 83.9 73.6 86.4 73.2 88.9 72.7 91.3 72.2 93.8 71.8 96.2 71.3 98.7 70.8 101.2 70.4 103.6 69.9 106.1 69.4 108.6 69 111 68.5 113.5 68 116 67.6 118.4 67.1 120.9 66.6 123.4 66.1 125.8 65.7 128.3 65.2 130.7 64.7 133.2 64.3 135.7 63.8 138.1 63.3 140.6 62.9"/>
<path d="M44.5 119.6 47 119.5 49.4 118.9 51.9 118.1 54.4 116.9 56.8 115.5 59.3 113.8 61.7 111.9 64.2 109.8 66.7 107.5 69.1 105.3 71.6 103 74.1 100.8 76.5 98.8 79 97 81.5 96.1 83.9 95.6 86.4 95.2 88.9 94.7 91.3 94.2 93.8 93.8 96.2 93.3 98.7 92.8 101.2 92.4 103.6 91.9 106.1 91.4 108.6 91 111 90.5 113.5 90 116 89.6 118.4 89.1 120.9 88.6 123.4 88.1 125.8 87.7 128.3 87.2 130.7 86.7 133.2 86.3 135.7 85.8 138.1 85.3 140.6 84.9"/>
<path d="M44.5 111.9 47 111.8 49.4 111.3 51.9 110.6 54.4 109.6 56.8 108.4 59.3 107 61.7 105.3 64.2 103.6 66.7 101.7 69.1 99.8 71.6 97.8 74.1 96 76.5 94.3 79 92.8 81.5 92 83.9 91.5 86.4 91 88.9 90.6 91.3 90.1 93.8 89.6 96.2 89.2 98.7 88.7 101.2 88.2 103.6 87.8 106.1 87.3 108.6 86.8 111 86.4 113.5 85.9 116 85.4 118.4 85 120.9 84.5 123.4 84 125.8 83.6 128.3 83.1 130.7 82.6 133.2 82.2 135.7 81.7 138.1 81.2 140.6 80.7"/>
<path d="M44.5 105 47 104.9 49.4 104.5 51.9 103.7 54.4 102.8 56.8 101.5 59.3 100.1 61.7 98.5 64.2 96.7 66.7 94.8 69.1 92.9 71.6 91 74.1 89.1 76.5 87.4 79 85.9 81.5 85.1 83.9 84.6 86.4 84.2 88.9 83.7 91.3 83.2 93.8 82.8 96.2 82.3 98.7 81.8 101.2 81.4 103.6 80.9 106.1 80.4 108.6 80 111 79.5 113.5 79 116 78.6 118.4 78.1 120.9 77.6 123.4 77.1 125.8 76.7 128.3 76.2 130.7 75.7 133.2 75.3 135.7 74.8 138.1 74.3 140.6 73.9"/>
<path d="M44.5 98.5 47 98.3 49.4 97.9 51.9 97.1 54.4 96.1 56.8 94.9 59.3 93.4 61.7 91.8 64.2 90 66.7 88.1 69.1 86.1 71.6 84.2 74.1 82.3 76.5 80.5 79 79.1 81.5 78.2 83.9 77.8 86.4 77.3 88.9 76.8 91.3 76.4 93.8 75.9 96.2 75.4 98.7 75 101.2 74.5 103.6 74 106.1 73.6 108.6 73.1 111 72.6 113.5 72.1 116 71.7 118.4 71.2 120.9 70.7 123.4 70.3 125.8 69.8 128.3 69.3 130.7 68.9 133.2 68.4 135.7 67.9 138.1 67.5 140.6 67"/>
<path d="M44.5 91.2 47.8 90.5 51.1 90.5 54.4 91 57.8 92 61.1 93.3 64.4 94.7 67.7 96 71 97 74.3 97.7 77.6 98 81 98 84.3 97.9 87.6 97.8 90.9 97.8 94.2 98 97.5 98.3 100.8 98.7 104.1 98.9 107.5 98.9 110.8 98.4 114.1 97.5 117.4 96.3 120.7 94.8 124 93.2 127.3 91.9 130.7 91 134 90.5 137.3 90.7 140.6 91.4"/>
<path d="M44.5 94 47.8 94.7 51.1 95.7 54.4 96.6 57.8 97.2 61.1 97.3 64.4 96.8 67.7 95.6 71 94 74.3 92.4 77.6 91 81 90.1 84.3 89.9 87.6 90.5 90.9 91.7 94.2 93.2 97.5 94.7 100.8 96 104.1 96.7 107.5 96.8 110.8 96.4 114.1 95.6 117.4 94.7 120.7 94 124 93.7 127.3 94 130.7 94.7 134 95.7 137.3 96.8 140.6 97.6"/>
<path d="M44.5 91.2 47.8 91.8 51.1 92.7 54.4 93.9 57.8 95 61.1 95.7 64.4 95.9 67.7 95.5 71 94.7 74.3 93.5 77.6 92.4 81 91.6 84.3 91.2 87.6 91.4 90.9 92.1 94.2 93.2 97.5 94.3 100.8 95.3 104.1 95.8 107.5 95.8 110.8 95.2 114.1 94.2 117.4 93.1 120.7 92 124 91.3 127.3 91.2 130.7 91.6 134 92.5 137.3 93.6 140.6 94.8"/>
<path d="M44.5 93.5 47.8 93.1 51.1 92.6 54.4 92.2 57.8 91.8 61.1 91.7 64.4 91.9 67.7 92.2 71 92.7 74.3 93.1 77.6 93.5 81 93.7 84.3 93.6 87.6 93.3 90.9 92.9 94.2 92.4 97.5 92 100.8 91.8 104.1 91.7 107.5 92 110.8 92.4 114.1 92.8 117.4 93.3 120.7 93.6 124 93.7 127.3 93.5 130.7 93.2 134 92.7 137.3 92.2 140.6 91.9"/>
<path d="M44.5 89.6 47.8 90.1 51.1 91 54.4 92 57.8 92.8 61.1 93.2 64.4 93.2 67.7 92.6 71 91.6 74.3 90.6 77.6 89.8 81 89.4 84.3 89.5 87.6 90.3 90.9 91.4 94.2 92.8 97.5 94.1 100.8 95 104.1 95.3 107.5 95 110.8 94.2 114.1 93 117.4 91.7 120.7 90.6 124 89.9 127.3 89.8 130.7 90.2 134 91 137.3 92 140.6 92.8"/>
<path d="M44.5 95.9 47.8 96.4 51.1 96.2 54.4 95.5 57.8 94.3 61.1 93 64.4 91.6 67.7 90.4 71 89.5 74.3 89.1 77.6 88.9 81 89 84.3 89.2 87.6 89.3 90.9 89.2 94.2 88.9 97.5 88.6 100.8 88.2 104.1 88 107.5 88.2 110.8 88.7 114.1 89.7 117.4 91.1 120.7 92.6 124 94.1 127.3 95.3 130.7 96.1 134 96.3 137.3 95.9 140.6 95.1"/>
<path d="M44.5 94.4 47.8 92.5 51.1 90.5 54.4 88.9 57.8 87.8 61.1 87.4 64.4 87.5 67.7 88.1 71 88.7 74.3 89.2 77.6 89.3 81 89.1 84.3 88.4 87.6 87.6 90.9 86.9 94.2 86.6 97.5 86.9 100.8 87.9 104.1 89.5 107.5 91.4 110.8 93.5 114.1 95.3 117.4 96.4 120.7 96.8 124 96.3 127.3 95.2 130.7 93.5 134 91.8 137.3 90.2 140.6 89"/>
<path d="M44.5 94.8 47.8 93.9 51.1 92.6 54.4 91.1 57.8 89.8 61.1 88.6 64.4 87.8 67.7 87.4 71 87.3 74.3 87.3 77.6 87.4 81 87.4 84.3 87.3 87.6 87 90.9 86.7 94.2 86.5 97.5 86.6 100.8 87 104.1 87.9 107.5 89.1 110.8 90.6 114.1 92.1 117.4 93.5 120.7 94.6 124 95.1 127.3 95.1 130.7 94.5 134 93.5 137.3 92.2 140.6 91"/>
<path d="M44.5 94.6 47.8 93.9 51.1 92.6 54.4 91.1 57.8 89.5 61.1 88.1 64.4 87.1 67.7 86.7 71 86.6 74.3 86.9 77.6 87.3 81 87.5 84.3 87.6 87.6 87.3 90.9 86.9 94.2 86.3 97.5 85.9 100.8 85.8 104.1 86.2 107.5 87.1 110.8 88.5 114.1 90.2 117.4 91.9 120.7 93.4 124 94.3 127.3 94.7 130.7 94.3 134 93.4 137.3 92 140.6 90.6"/>
<path d="M44.5 89.8 47.8 89.8 51.1 89.8 54.4 90 57.8 90.1 61.1 90.2 64.4 90 67.7 89.7 71 89 74.3 88.2 77.6 87.4 81 86.5 84.3 85.8 87.6 85.4 90.9 85.4 94.2 85.7 97.5 86.3 100.8 87 104.1 87.8 107.5 88.5 110.8 89.1 114.1 89.4 117.4 89.6 120.7 89.6 124 89.6 127.3 89.6 130.7 89.7 134 89.9 137.3 90.1 140.6 90.4"/>
<path d="M44.5 86.1 47.8 85.7 51.1 85.4 54.4 85.3 57.8 85.3 61.1 85.5 64.4 85.8 67.7 86.2 71 86.7 74.3 87.2 77.6 87.8 81 88.5 84.3 89.1 87.6 89.6 90.9 90 94.2 90.3 97.5 90.5 100.8 90.5 104.1 90.3 107.5 90 110.8 89.6 114.1 89.1 117.4 88.5 120.7 87.9 124 87.3 127.3 86.7 130.7 86.2 134 85.8 137.3 85.5 140.6 85.3"/>
<path d="M44.5 87 47.8 87.4 51.1 87.8 54.4 88.1 57.8 88.2 61.1 88.1 64.4 87.8 67.7 87.5 71 87.1 74.3 86.8 77.6 86.6 81 86.5 84.3 86.7 87.6 86.9 90.9 87.3 94.2 87.6 97.5 87.7 100.8 87.8 104.1 87.6 107.5 87.4 110.8 87 114.1 86.7 117.4 86.5 120.7 86.4 124 86.6 127.3 86.9 130.7 87.3 134 87.7 137.3 88 140.6 88.1"/>
<path d="M44.5 89.4 47.8 88.6 51.1 87.7 54.4 86.8 57.8 86 61.1 85.5 64.4 85.2 67.7 85.1 71 85.1 74.3 85.2 77.6 85.3 81 85.3 84.3 85.1 87.6 84.9 90.9 84.7 94.2 84.6 97.5 84.7 100.8 85.1 104.1 85.8 107.5 86.7 110.8 87.7 114.1 88.6 117.4 89.4 120.7 89.9 124 90 127.3 89.7 130.7 89.1 134 88.3 137.3 87.5 140.6 86.8"/>
<path d="M44.5 84.8 47.8 84.6 51.1 84.4 54.4 84.3 57.8 84.3 61.1 84.3 64.4 84.4 67.7 84.6 71 84.8 74.3 85.1 77.6 85.5 81 86 84.3 86.6 87.6 87.1 90.9 87.6 94.2 88 97.5 88.2 100.8 88.2 104.1 88.1 107.5 87.9 110.8 87.5 114.1 87 117.4 86.5 120.7 86.1 124 85.7 127.3 85.3 130.7 85 134 84.8 137.3 84.6 140.6 84.4"/>
<path d="M44.5 87.4 47.8 87.5 51.1 87.4 54.4 87.1 57.8 86.6 61.1 86 64.4 85.4 67.7 85 71 84.7 74.3 84.5 77.6 84.5 81 84.6 84.3 84.7 87.6 84.8 90.9 84.8 94.2 84.6 97.5 84.4 100.8 84.3 104.1 84.2 107.5 84.2 110.8 84.4 114.1 84.9 117.4 85.4 120.7 86.1 124 86.7 127.3 87.2 130.7 87.4 134 87.5 137.3 87.3 140.6 86.9"/>
<path d="M44.5 83.4 47.8 83.4 51.1 83.4 54.4 83.4 57.8 83.4 61.1 83.4 64.4 83.4 67.7 83.6 71 83.9 74.3 84.3 77.6 84.9 81 85.5 84.3 86.1 87.6 86.7 90.9 87.1 94.2 87.2 97.5 87.2 100.8 86.9 104.1 86.5 107.5 86 110.8 85.5 114.1 84.9 117.4 84.5 120.7 84.2 124 84 127.3 83.8 130.7 83.7 134 83.6 137.3 83.4 140.6 83.3"/>
<path d="M44.5 81.1 47.8 80.4 51.1 80.1 54.4 80.4 57.8 81.1 61.1 82.1 64.4 83.2 67.7 84.3 71 85.2 74.3 85.8 77.6 86 81 86 84.3 85.9 87.6 85.8 90.9 85.7 94.2 85.8 97.5 86 100.8 86.4 104.1 86.7 107.5 86.8 110.8 86.7 114.1 86.1 117.4 85.3 120.7 84.1 124 82.9 127.3 81.7 130.7 80.8 134 80.3 137.3 80.3 140.6 80.7"/>
<path d="M44.5 82.4 47.8 82.6 51.1 83 54.4 83.4 57.8 83.9 61.1 84.2 64.4 84.4 67.7 84.5 71 84.3 74.3 84.1 77.6 83.8 81 83.7 84.3 83.6 87.6 83.7 90.9 83.9 94.2 84.2 97.5 84.4 100.8 84.6 104.1 84.6 107.5 84.4 110.8 84.1 114.1 83.6 117.4 83.1 120.7 82.7 124 82.4 127.3 82.3 130.7 82.5 134 82.8 137.3 83.2 140.6 83.7"/>
<path d="M44.5 84.9 47.8 83.4 51.1 82 54.4 80.9 57.8 80.4 61.1 80.6 64.4 81.4 67.7 82.5 71 83.7 74.3 84.7 77.6 85.1 81 85 84.3 84.2 87.6 83.1 90.9 81.9 94.2 80.8 97.5 80.3 100.8 80.4 104.1 81.2 107.5 82.4 110.8 83.9 114.1 85.3 117.4 86.3 120.7 86.6 124 86.2 127.3 85.2 130.7 83.9 134 82.4 137.3 81.3 140.6 80.7"/>
<path d="M44.5 83.3 47.8 82.9 51.1 82.5 54.4 82 57.8 81.6 61.1 81.2 64.4 80.9 67.7 80.7 71 80.6 74.3 80.7 77.6 80.9 81 81.2 84.3 81.6 87.6 82 90.9 82.5 94.2 82.9 97.5 83.3 100.8 83.6 104.1 83.9 107.5 84.1 110.8 84.2 114.1 84.3 117.4 84.3 120.7 84.2 124 84.1 127.3 83.8 130.7 83.5 134 83.1 137.3 82.6 140.6 82.1"/>
<path d="M44.5 77.5 47.8 78.3 51.1 79.4 54.4 80.6 57.8 81.8 61.1 82.9 64.4 83.7 67.7 84.3 71 84.6 74.3 84.8 77.6 84.9 81 85 84.3 85.1 87.6 85.2 90.9 85.3 94.2 85.2 97.5 84.9 100.8 84.3 104.1 83.4 107.5 82.2 110.8 80.9 114.1 79.6 117.4 78.4 120.7 77.6 124 77.1 127.3 77.2 130.7 77.7 134 78.5 137.3 79.5 140.6 80.6"/>
<path d="M44.5 82.2 47.8 81.7 51.1 81.2 54.4 80.7 57.8 80.1 61.1 79.7 64.4 79.4 67.7 79.3 71 79.5 74.3 79.8 77.6 80.3 81 80.8 84.3 81.3 87.6 81.8 90.9 82.1 94.2 82.3 97.5 82.5 100.8 82.5 104.1 82.6 107.5 82.6 110.8 82.7 114.1 82.8 117.4 82.9 120.7 83 124 82.9 127.3 82.7 130.7 82.3 134 81.8 137.3 81.2 140.6 80.6"/>
<path d="M44.5 79.4 47.8 77.5 51.1 75.8 54.4 74.7 57.8 74.4 61.1 74.9 64.4 76.2 67.7 77.9 71 79.8 74.3 81.5 77.6 82.8 81 83.6 84.3 83.8 87.6 83.5 90.9 83.1 94.2 82.7 97.5 82.5 100.8 82.7 104.1 83.2 107.5 84 110.8 84.7 114.1 85.1 117.4 84.9 120.7 84.1 124 82.7 127.3 80.9 130.7 78.8 134 76.8 137.3 75.4 140.6 74.6"/>
<path d="M44.5 80.7 47.8 81.6 51.1 82.1 54.4 82.3 57.8 82 61.1 81.3 64.4 80.4 67.7 79.5 71 78.7 74.3 78.3 77.6 78.4 81 79 84.3 79.8 87.6 80.8 90.9 81.6 94.2 82.1 97.5 82.3 100.8 81.9 104.1 81.2 107.5 80.4 110.8 79.5 114.1 79 117.4 78.8 120.7 79.1 124 79.7 127.3 80.6 130.7 81.5 134 82.1 137.3 82.4 140.6 82.2"/>
<path d="M44.5 79.6 47.8 80 51.1 80.5 54.4 80.9 57.8 81.3 61.1 81.6 64.4 81.7 67.7 81.8 71 81.7 74.3 81.4 77.6 81.1 81 80.7 84.3 80.3 87.6 79.9 90.9 79.5 94.2 79.2 97.5 78.9 100.8 78.7 104.1 78.6 107.5 78.5 110.8 78.4 114.1 78.4 117.4 78.4 120.7 78.6 124 78.8 127.3 79.1 130.7 79.5 134 79.9 137.3 80.4 140.6 80.9"/>
<path d="M44.5 78.5 47.8 79.5 51.1 80.4 54.4 81 57.8 81.2 61.1 81 64.4 80.3 67.7 79.4 71 78.4 74.3 77.7 77.6 77.4 81 77.5 84.3 78.1 87.6 79 90.9 80 94.2 80.9 97.5 81.4 100.8 81.4 104.1 81 107.5 80.2 110.8 79.2 114.1 78.3 117.4 77.6 120.7 77.4 124 77.7 127.3 78.4 130.7 79.3 134 80.2 137.3 80.9 140.6 81.2"/>
<path d="M44.5 79.1 47.8 78.4 51.1 77.8 54.4 77.6 57.8 77.6 61.1 77.8 64.4 78 67.7 78.3 71 78.4 74.3 78.4 77.6 78.2 81 77.8 84.3 77.5 87.6 77.3 90.9 77.3 94.2 77.6 97.5 78.2 100.8 79 104.1 79.8 107.5 80.6 110.8 81.2 114.1 81.5 117.4 81.4 120.7 81 124 80.3 127.3 79.6 130.7 78.9 134 78.3 137.3 78 140.6 78"/>
<path d="M44.5 78.2 47.8 78.4 51.1 78.7 54.4 79 57.8 79.2 61.1 79.3 64.4 79.4 67.7 79.3 71 79.1 74.3 78.9 77.6 78.6 81 78.4 84.3 78.1 87.6 78 90.9 77.9 94.2 77.9 97.5 77.9 100.8 77.9 104.1 77.9 107.5 77.9 110.8 77.8 114.1 77.7 117.4 77.7 120.7 77.7 124 77.8 127.3 77.9 130.7 78.2 134 78.5 137.3 78.8 140.6 79"/>
<path d="M44.5 80.2 47.8 80.3 51.1 80.3 54.4 80.1 57.8 79.8 61.1 79.4 64.4 78.9 67.7 78.3 71 77.7 74.3 77.1 77.6 76.5 81 75.9 84.3 75.5 87.6 75.2 90.9 75.1 94.2 75.2 97.5 75.4 100.8 75.8 104.1 76.3 107.5 76.8 110.8 77.4 114.1 78 117.4 78.6 120.7 79.1 124 79.6 127.3 79.9 130.7 80.2 134 80.3 137.3 80.3 140.6 80.2"/>
<path d="M44.5 79.7 47.8 79.8 51.1 79.4 54.4 78.6 57.8 77.3 61.1 75.8 64.4 74.4 67.7 73.3 71 72.8 74.3 72.9 77.6 73.7 81 74.9 84.3 76.3 87.6 77.7 90.9 78.7 94.2 79.3 97.5 79.4 100.8 79 104.1 78.5 107.5 77.9 110.8 77.6 114.1 77.6 117.4 78 120.7 78.7 124 79.5 127.3 80.1 130.7 80.4 134 80.2 137.3 79.5 140.6 78.2"/>
<path d="M44.5 72.1 47.8 73.2 51.1 74.7 54.4 76.3 57.8 77.8 61.1 78.9 64.4 79.4 67.7 79.3 71 78.8 74.3 78.1 77.6 77.4 81 77.1 84.3 77.1 87.6 77.6 90.9 78.3 94.2 79.2 97.5 79.8 100.8 80 104.1 79.7 107.5 78.7 110.8 77.2 114.1 75.5 117.4 73.8 120.7 72.6 124 71.9 127.3 72 130.7 72.7 134 74 137.3 75.5 140.6 76.9"/>
<path d="M44.5 80.7 47.8 80.8 51.1 80.4 54.4 79.6 57.8 78.5 61.1 77.3 64.4 76.2 67.7 75.3 71 74.7 74.3 74.3 77.6 74.2 81 74.3 84.3 74.3 87.6 74.3 90.9 74.1 94.2 73.9 97.5 73.7 100.8 73.5 104.1 73.6 107.5 74 110.8 74.8 114.1 75.9 117.4 77.1 120.7 78.4 124 79.6 127.3 80.4 130.7 80.7 134 80.6 137.3 80.1 140.6 79.2"/>
<path d="M44.5 74.6 47.8 75.6 51.1 76.5 54.4 77.2 57.8 77.5 61.1 77.6 64.4 77.5 67.7 77.3 71 77.2 74.3 77.2 77.6 77.4 81 77.6 84.3 77.9 87.6 78 90.9 77.9 94.2 77.6 97.5 76.8 100.8 75.9 104.1 74.8 107.5 73.7 110.8 72.8 114.1 72.2 117.4 72.1 120.7 72.3 124 73 127.3 73.9 130.7 74.8 134 75.7 137.3 76.3 140.6 76.8"/>
<path d="M44.5 75.7 47.8 77.1 51.1 78.2 54.4 78.9 57.8 79 61.1 78.5 64.4 77.4 67.7 76 71 74.7 74.3 73.6 77.6 73.1 81 73.1 84.3 73.6 87.6 74.4 90.9 75.3 94.2 76 97.5 76.3 100.8 76.1 104.1 75.5 107.5 74.5 110.8 73.5 114.1 72.8 117.4 72.5 120.7 72.8 124 73.7 127.3 75 130.7 76.5 134 77.8 137.3 78.7 140.6 79"/>
<path d="M44.5 77.2 47.8 76.5 51.1 75.8 54.4 75.1 57.8 74.4 61.1 73.8 64.4 73.4 67.7 73 71 72.8 74.3 72.6 77.6 72.5 81 72.4 84.3 72.5 87.6 72.6 90.9 72.8 94.2 73.2 97.5 73.7 100.8 74.3 104.1 75.1 107.5 75.9 110.8 76.6 114.1 77.3 117.4 77.7 120.7 77.9 124 77.9 127.3 77.6 130.7 77.2 134 76.6 137.3 75.9 140.6 75.3"/>
<path d="M44.5 76 47.8 75.2 51.1 74.1 54.4 72.8 57.8 71.7 61.1 70.9 64.4 70.6 67.7 70.8 71 71.5 74.3 72.5 77.6 73.7 81 74.8 84.3 75.6 87.6 76 90.9 76.1 94.2 75.7 97.5 75.2 100.8 74.8 104.1 74.5 107.5 74.6 110.8 74.9 114.1 75.5 117.4 76.2 120.7 76.7 124 76.9 127.3 76.6 130.7 75.9 134 74.8 137.3 73.6 140.6 72.3"/>
<path d="M44.5 70 47.8 69.9 51.1 70 54.4 70.2 57.8 70.6 61.1 71.2 64.4 71.9 67.7 72.8 71 73.9 74.3 75 77.6 76.1 81 77.1 84.3 77.9 87.6 78.4 90.9 78.6 94.2 78.4 97.5 77.9 100.8 77.2 104.1 76.2 107.5 75.2 110.8 74.2 114.1 73.2 117.4 72.4 120.7 71.6 124 71 127.3 70.5 130.7 70.2 134 69.9 137.3 69.8 140.6 69.9"/>
<path d="M44.5 70.3 47.8 71 51.1 71.9 54.4 72.9 57.8 73.8 61.1 74.7 64.4 75.4 67.7 76.1 71 76.5 74.3 76.9 77.6 77 81 77 84.3 76.9 87.6 76.5 90.9 76 94.2 75.3 97.5 74.5 100.8 73.5 104.1 72.5 107.5 71.6 110.8 70.7 114.1 70 117.4 69.5 120.7 69.3 124 69.3 127.3 69.6 130.7 70.1 134 70.9 137.3 71.7 140.6 72.6"/>
<path d="M44.5 71 47.8 72.7 51.1 74.1 54.4 75.2 57.8 75.6 61.1 75.5 64.4 74.9 67.7 74.2 71 73.6 74.3 73.3 77.6 73.5 81 74 84.3 74.7 87.6 75.5 90.9 76.1 94.2 76.1 97.5 75.6 100.8 74.4 104.1 72.8 107.5 71 110.8 69.4 114.1 68.2 117.4 67.6 120.7 67.9 124 68.8 127.3 70.1 130.7 71.7 134 73.2 137.3 74.2 140.6 74.8"/>
<path d="M44.5 74.1 47.8 74 51.1 73.8 54.4 73.3 57.8 72.7 61.1 71.8 64.4 70.9 67.7 70.1 71 69.5 74.3 69.2 77.6 69.2 81 69.6 84.3 70.2 87.6 71 90.9 71.8 94.2 72.5 97.5 73.1 100.8 73.5 104.1 73.7 107.5 73.7 110.8 73.7 114.1 73.7 117.4 73.8 120.7 74 124 74.3 127.3 74.5 130.7 74.6 134 74.4 137.3 74.1 140.6 73.5"/>
<path d="M44.5 73.3 47.8 72.9 51.1 72.4 54.4 71.8 57.8 71.1 61.1 70.4 64.4 69.8 67.7 69.4 71 69.1 74.3 69.1 77.6 69.3 81 69.7 84.3 70.3 87.6 70.9 90.9 71.6 94.2 72.2 97.5 72.6 100.8 73 104.1 73.3 107.5 73.6 110.8 73.7 114.1 73.9 117.4 74 120.7 74.1 124 74 127.3 73.9 130.7 73.6 134 73.2 137.3 72.6 140.6 71.9"/>
<path d="M44.5 67.2 47.8 68 51.1 69.2 54.4 70.6 57.8 71.9 61.1 72.9 64.4 73.5 67.7 73.6 71 73.3 74.3 72.8 77.6 72.3 81 72 84.3 72 87.6 72.3 90.9 72.9 94.2 73.5 97.5 74 100.8 74.2 104.1 73.9 107.5 73.1 110.8 71.9 114.1 70.5 117.4 69 120.7 67.9 124 67.2 127.3 67.1 130.7 67.6 134 68.6 137.3 69.9 140.6 71.1"/>
<path d="M44.5 69.1 47.8 69.1 51.1 69.4 54.4 70.1 57.8 70.9 61.1 71.8 64.4 72.3 67.7 72.6 71 72.4 74.3 71.9 77.6 71.2 81 70.5 84.3 69.9 87.6 69.6 90.9 69.7 94.2 70.2 97.5 70.9 100.8 71.7 104.1 72.3 107.5 72.6 110.8 72.6 114.1 72.2 117.4 71.4 120.7 70.6 124 69.8 127.3 69.2 130.7 69.1 134 69.3 137.3 69.9 140.6 70.7"/>
<path d="M44.5 72 47.8 73.1 51.1 73.9 54.4 74.3 57.8 74.1 61.1 73.4 64.4 72.3 67.7 71.1 71 70 74.3 69.1 77.6 68.7 81 68.7 84.3 69 87.6 69.5 90.9 70 94.2 70.3 97.5 70.3 100.8 70 104.1 69.4 107.5 68.8 110.8 68.2 114.1 68 117.4 68.2 120.7 68.9 124 69.9 127.3 71.2 130.7 72.5 134 73.5 137.3 74.1 140.6 74.2"/>
<path d="M44.5 74.6 47.8 75.2 51.1 75.2 54.4 74.6 57.8 73.6 61.1 72.2 64.4 70.7 67.7 69.5 71 68.5 74.3 67.9 77.6 67.7 81 67.8 84.3 68 87.6 68.2 90.9 68.2 94.2 67.9 97.5 67.6 100.8 67.2 104.1 66.9 107.5 66.9 110.8 67.3 114.1 68.2 117.4 69.5 120.7 71 124 72.6 127.3 73.9 130.7 74.8 134 75.2 137.3 75 140.6 74.2"/>
<path d="M44.5 69.6 47.8 70.7 51.1 71.4 54.4 71.7 57.8 71.5 61.1 71 64.4 70.4 67.7 69.9 71 69.6 74.3 69.7 77.6 70.1 81 70.7 84.3 71.4 87.6 71.9 90.9 72 94.2 71.6 97.5 70.8 100.8 69.6 104.1 68.3 107.5 67 110.8 66.2 114.1 65.8 117.4 66 120.7 66.7 124 67.8 127.3 68.9 130.7 70 134 70.8 137.3 71.1 140.6 71"/>
<path d="M44.5 197.9 47.8 197.7 51.1 197.6 54.4 197.3 57.8 197 61.1 196.5 64.4 196 67.7 195.5 71 195 74.3 194.5 77.6 194.2 81 194.2 84.3 194.3 87.6 194.6 90.9 195.1 94.2 195.7 97.5 196.3 100.8 196.9 104.1 197.4 107.5 197.9 110.8 198.3 114.1 198.6 117.4 198.9 120.7 199.1 124 197.9 127.3 197.7 130.7 197.5 134 197.3 137.3 197.1 140.6 196.9"/>
<path d="M44.5 198.9 47.8 198.8 51.1 198.6 54.4 198.4 57.8 198.1 61.1 197.7 64.4 197.2 67.7 196.7 71 196.3 74.3 195.9 77.6 195.6 81 195.5 84.3 195.6 87.6 196 90.9 196.4 94.2 197 97.5 197.5 100.8 198.1 104.1 198.6 107.5 199 110.8 199.4 114.1 199.7 117.4 199.9 120.7 200.2 124 199 127.3 198.8 130.7 198.6 134 198.4 137.3 198.2 140.6 197.9"/>
<path d="M44.5 200 47.8 199.9 51.1 199.7 54.4 199.5 57.8 199.2 61.1 198.9 64.4 198.5 67.7 198 71 197.6 74.3 197.2 77.6 197 81 196.9 84.3 197 87.6 197.3 90.9 197.7 94.2 198.2 97.5 198.7 100.8 199.2 104.1 199.7 107.5 200.1 110.8 200.4 114.1 200.7 117.4 201 120.7 201.3 124 200 127.3 199.8 130.7 199.6 134 199.4 137.3 199.2 140.6 199"/>
<path d="M44.5 201 47.8 200.9 51.1 200.8 54.4 200.6 57.8 200.4 61.1 200 64.4 199.7 67.7 199.3 71 198.9 74.3 198.6 77.6 198.3 81 198.3 84.3 198.4 87.6 198.6 90.9 199 94.2 199.5 97.5 199.9 100.8 200.4 104.1 200.8 107.5 201.2 110.8 201.5 114.1 201.8 117.4 202.1 120.7 202.3 124 201.1 127.3 200.9 130.7 200.7 134 200.5 137.3 200.2 140.6 200"/>
<path d="M44.5 202.1 47.8 202 51.1 201.9 54.4 201.7 57.8 201.5 61.1 201.2 64.4 200.9 67.7 200.5 71 200.2 74.3 199.9 77.6 199.7 81 199.7 84.3 199.7 87.6 200 90.9 200.3 94.2 200.7 97.5 201.1 100.8 201.6 104.1 202 107.5 202.3 110.8 202.6 114.1 202.9 117.4 203.1 120.7 203.4 124 202.1 127.3 201.9 130.7 201.7 134 201.5 137.3 201.3 140.6 201.1"/>
<path d="M44.5 203.1 47.8 203.1 51.1 203 54.4 202.8 57.8 202.6 61.1 202.4 64.4 202.1 67.7 201.8 71 201.5 74.3 201.2 77.6 201.1 81 201 84.3 201.1 87.6 201.3 90.9 201.6 94.2 202 97.5 202.4 100.8 202.7 104.1 203.1 107.5 203.4 110.8 203.7 114.1 203.9 117.4 204.2 120.7 204.4 124 203.2 127.3 203 130.7 202.7 134 202.5 137.3 202.3 140.6 202.1"/>
<path d="M44.5 204.2 47.8 204.1 51.1 204.1 54.4 203.9 57.8 203.8 61.1 203.6 64.4 203.3 67.7 203 71 202.8 74.3 202.6 77.6 202.4 81 202.4 84.3 202.5 87.6 202.6 90.9 202.9 94.2 203.2 97.5 203.6 100.8 203.9 104.1 204.2 107.5 204.5 110.8 204.8 114.1 205 117.4 205.2 120.7 205.5 124 204.2 127.3 204 130.7 203.8 134 203.6 137.3 203.4 140.6 203.2"/>
</g>
<rect x="105.8" y="86.2" width="3.6" height=".7" fill="#fff" opacity=".39"/>
<rect x="60.8" y="70.7" width="2.8" height=".7" fill="#fff" opacity=".16"/>
<rect x="118.7" y="70.9" width="2" height=".7" fill="#fff" opacity=".16"/>
<rect x="78.5" y="71.3" width="2.4" height=".7" fill="#fff" opacity=".17"/>
<rect x="48.1" y="80.5" width="4.1" height=".7" fill="#fff" opacity=".31"/>
<rect x="84.4" y="72.7" width="3" height=".7" fill="#fff" opacity=".19"/>
<rect x="99.1" y="88.8" width="5" height=".7" fill="#fff" opacity=".43"/>
<rect x="67.7" y="70.2" width="4.5" height=".7" fill="#fff" opacity=".15"/>
<rect x="129.4" y="79.2" width="4.3" height=".7" fill="#fff" opacity=".29"/>
<rect x="124" y="82.2" width="4.6" height=".7" fill="#fff" opacity=".33"/>
<rect x="48.2" y="75.4" width="2.8" height=".7" fill="#fff" opacity=".23"/>
<rect x="56.9" y="88.2" width="2.1" height=".7" fill="#fff" opacity=".42"/>
<rect x="106.5" y="71.4" width="3.1" height=".7" fill="#fff" opacity=".17"/>
<rect x="83.6" y="73.6" width="3.6" height=".7" fill="#fff" opacity=".2"/>
<rect x="94.1" y="76.3" width="4.2" height=".7" fill="#fff" opacity=".25"/>
<rect x="60.4" y="73.9" width="3.1" height=".7" fill="#fff" opacity=".21"/>
<rect x="80.1" y="74.1" width="4.8" height=".7" fill="#fff" opacity=".21"/>
<rect x="120.5" y="72.1" width="3.1" height=".7" fill="#fff" opacity=".18"/>
<rect x="66.9" y="79" width="2.8" height=".7" fill="#fff" opacity=".29"/>
<rect x="91.2" y="88.5" width="3.1" height=".7" fill="#fff" opacity=".43"/>
<rect x="104.5" y="81.9" width="4.3" height=".7" fill="#fff" opacity=".33"/>
<rect x="51.5" y="84.9" width="4.8" height=".7" fill="#fff" opacity=".37"/>
<rect x="100.3" y="75.8" width="4" height=".7" fill="#fff" opacity=".24"/>
<rect x="110.1" y="83.1" width="2.4" height=".7" fill="#fff" opacity=".35"/>
<rect x="133.6" y="89.1" width="3.3" height=".7" fill="#fff" opacity=".44"/>
<rect x="99.4" y="70.8" width="5" height=".7" fill="#fff" opacity=".16"/>
<rect x="119.7" y="82.7" width="4.3" height=".7" fill="#fff" opacity=".34"/>
<rect x="62.9" y="76.2" width="2.7" height=".7" fill="#fff" opacity=".24"/>
<rect x="99.6" y="71.8" width="4.7" height=".7" fill="#fff" opacity=".18"/>
<rect x="87.6" y="78.9" width="2.3" height=".7" fill="#fff" opacity=".28"/>
<rect x="107.6" y="86.3" width="3.9" height=".7" fill="#fff" opacity=".4"/>
<rect x="67.8" y="85.7" width="2.4" height=".7" fill="#fff" opacity=".39"/>
<rect x="120.5" y="81.6" width="2.9" height=".7" fill="#fff" opacity=".32"/>
<rect x="92.2" y="82.6" width="2.8" height=".7" fill="#fff" opacity=".34"/>
<rect x="118.6" y="275.2" width="1.6" height=".8" fill="#dde"/><rect x="122.6" y="275.2" width="1.6" height=".8" fill="#dde"/>
</g>
<path d="M167.6 241 168.6 241.1 169.6 241.4 170.6 241.6 171.6 241.5 172.6 241.3 173.6 240.8 174.6 240.5 175.6 240.3 176.6 240.4 177.6 240.6 178.6 240.7 179.6 240.4 180.6 239.8 181.6 239 182.6 238.3 183.6 237.8 184.6 237.6 185.6 237.6 186.6 237.7 187.6 237.6 188.6 237.2 189.6 236.7 190.6 236.3 191.6 236.1 192.6 236.1 193.6 236.3 194.6 236.4 195.6 236.3 196.6 235.8 197.6 235.2 198.6 234.7 199.6 234.4 200.6 234.4 201.6 234.4 202.6 234.4 203.6 234.1 204.6 233.6 205.6 233 206.6 232.5 207.6 232.3 208.6 232.3 209.6 232.4 210.6 232.4 211.6 232.2 212.6 231.7 213.6 231.1 214.6 230.6 215.6 230.4 216.6 230.4 217.6 230.7 218.6 230.7 219.6 230.6 220.6 230.2 221.6 229.7 222.6 229.4 223.6 229.3 224.6 229.4 225.6 229.6 226.6 229.7 227.6 229.5 228.6 229.1 229.6 228.7 230.6 228.3 231.6 228.3 232.6 228.4 233.6 228.7 234.6 228.8 235.6 228.7 236.6 228.4 237.6 228 238.6 227.7 239.6 227.8 240.6 228 241.6 228.3 242.6 228.4 243.6 228.3 244.6 227.9 245.6 227.5 246.6 227.3 247.6 227.3 248.6 227.6 249.6 227.8 250.6 227.9 251.6 227.7 252.6 227.3 253.6 226.9 254.6 226.7 255.6 226.7 256.6 227 257.6 227.2 258.6 227.3 259.6 227.1 260.6 226.7 261.6 226.3 262.6 226.2 263.6 226.3 264.6 226.6 265.6 226.9 266.6 227 267.6 226.9 268.6 226.6 269.6 226.3 270.6 226.2 271.6 226.3 272.6 226.6 273.6 226.9 274.6 227 275.6 226.9 276.6 226.6 277.6 226.5 278.6 226.6 279.6 227 280.6 227.5 281.6 228 282.6 228.3 283.6 228.3 284.6 228.2 285.6 228.1 286.6 228.2 287.6 228.6 288.6 229.1 289.6 229.6 290.6 229.8 291.6 229.8 292.6 229.7 293.6 229.6 294.6 229.7 295.6 230 296.6 230.6 297.6 231 298.6 231.3 299.6 231.2 300.6 231.1 301.6 231 302.6 231.1 303.6 231.6 304.6 232.2 305.6 232.7 306.6 232.9 307.6 232.9 308.6 232.8 309.6 232.8 310.6 233 311.6 233.4 312.6 234 313.6 234.7 314.6 235.1 315.6 235.3 316.6 235.3 317.6 235.5 318.6 237.1 319.6 240.7 320.6 244.7 321.6 248.7 322.6 252.5 323.6 254.3 324.6 255.4 325.6 256.3 326.6 255.9 327.6 255.8 328.6 255.7 329.6 255.6 330.6 255.2 331.6 254.5 332.6 253.8 333.6 253.1 334.6 252.8 335.6 252.6 336.6 252.5 337.6 252.3 338.6 251.8 339.6 251.1 340.6 250.4 341.6 249.7 342.6 249.3 343.6 249.2 344.6 249.1 345.6 248.9 346.6 248.4 347.6 247.7 348.6 247 349.6 246.3 350.6 246 351.6 245.8 352.6 245.8 353.6 245.5 354.6 241.8 355.6 241.4 356.6 241 357.6 240.7 358.6 240.7 359.6 240.9 360.6 241.1 361.6 241.2 362.6 241.1 363.6 240.7 364.6 240.2 365.6 239.7 366.6 239.4 367.6 239.3 368.6 239.2 369.6 238.9 370.6 238.4 371.6 237.7 372.6 237.1 373.6 236.8 374.6 236.7 375.6 236.9 376.6 237 377.6 237 378.6 236.7 379.6 236.3 380.6 235.8 381.6 235.5 382.6 235.4 383.6 235.5 384.6 235.6 385.6 235.4 386.6 235 387.6 234.4 388.6 233.8 389.6 233.4 390.6 233.3 391.6 233.3 392.6 233.4 393.6 233.3 394.6 232.9 395.6 232.3 396.6 231.8 397.6 231.4 398.6 231.3 399.6 231.4 400.6 231.5 401.6 231.4 402.6 230.9 403.6 230.4 404.6 230 405.6 229.8 406.6 229.9 407.6 230.1 408.6 230.2 409.6 230.2 410.6 229.9 411.6 229.4 412.6 229 413.6 228.8 414.6 228.8 415.6 229.1 416.6 229.2 417.6 229.1 418.6 228.8 419.6 228.4 420.6 228 421.6 227.9 422.6 228.1 423.6 228.4 424.6 228.6 425.6 228.6 426.6 228.3 427.6 227.9 428.6 227.6 429.6 227.5 430.6 227.7 431.6 228 432.6 228.2 433.6 228.1 434.6 227.8 435.6 227.4 436.6 227.1 437.6 227 438.6 227.2 439.6 227.4 440.6 227.6 441.6 227.5 442.6 227.2 443.6 226.8 444.6 226.5 445.6 226.4 446.6 226.6 447.6 226.8 448.6 227 449.6 227 450.6 226.7 451.6 226.4 452.6 226.2 453.6 226.2 454.6 226.5 455.6 226.8 456.6 227 457.6 227 458.6 226.7 459.6 226.4 460.6 226.2 461.6 226.2 462.6 226.5 463.6 227 464.6 227.4 465.6 227.5 466.6 227.4 467.6 227.3 468.6 227.3 469.6 227.6 470.6 228.1 471.6 228.6 472.6 229 473.6 229.1 474.6 229 475.6 228.9 476.6 228.9 477.6 229.1 478.6 229.6 479.6 230.1 480.6 230.5 481.6 230.6 482.6 230.4 483.6 230.3 484.6 230.3 485.6 230.6 486.6 231.1 487.6 231.6 488.6 231.9 489.6 232 490.6 232 491.6 231.9 492.6 231.9 493.6 232.3 494.6 232.8 495.6 233.4 496.6 233.8 497.6 233.9 498.6 233.8 499.6 233.7 500.6 234 501.6 234.5 502.6 235.3 503.6 236 504.6 236.5 505.6 239.5 506.6 242.7 507.6 246.1 508.6 249.7 509.6 253.2 510.6 254.9 511.6 256.6 512.6 257 513.6 256.5 514.6 255.7 515.6 255 516.6 254.5 517.6 254.3 518.6 254.2 519.6 254.1 520.6 253.8 521.6 253.2 522.6 252.5 523.6 251.7 524.6 251.2 525.6 251 526.6 250.9 527.6 250.7 528.6 250.4 529.6 249.8 530.6 249 531.6 248.3 532.6 247.8 533.6 247.6 534.6 247.5 535.6 247.4 536.6 247 537.6 246.4" fill="none" stroke="#160606" stroke-width="1.05"/>
<g stroke="#5a44d6" stroke-width="1" stroke-dasharray="1.25 1.2" opacity=".55">
<line x1="288.2" y1="67" x2="288.2" y2="285.5" />
<line x1="317.8" y1="67" x2="317.8" y2="285.5" />
<line x1="353.4" y1="67" x2="353.4" y2="285.5" />
<line x1="474.6" y1="67" x2="474.6" y2="285.5" />
<line x1="504.2" y1="67" x2="504.2" y2="285.5" />
</g>
<g stroke="#b868e2" stroke-width="1.7" stroke-dasharray="2.7 2.8">
<line x1="45" y1="175.7" x2="144" y2="175.7" />
<line x1="168" y1="175.7" x2="541" y2="175.7" />
</g>
<g stroke="#0a0a0a" stroke-width="1.45" fill="none">
<rect x="44.5" y="66" width="99.7" height="220.3"/>
<rect x="167" y="66" width="374.3" height="220.3"/>
</g>
<g stroke="#2a2a2a" stroke-width="1.1">
<line x1="44.5" y1="66" x2="37.2" y2="66" />
<line x1="144.2" y1="66" x2="151.5" y2="66" />
<line x1="167" y1="66" x2="159.7" y2="66" />
<line x1="541.3" y1="66" x2="548.6" y2="66" />
<line x1="44.5" y1="77" x2="41.2" y2="77" />
<line x1="144.2" y1="77" x2="147.5" y2="77" />
<line x1="167" y1="77" x2="163.7" y2="77" />
<line x1="541.3" y1="77" x2="544.6" y2="77" />
<line x1="44.5" y1="88" x2="41.2" y2="88" />
<line x1="144.2" y1="88" x2="147.5" y2="88" />
<line x1="167" y1="88" x2="163.7" y2="88" />
<line x1="541.3" y1="88" x2="544.6" y2="88" />
<line x1="44.5" y1="99" x2="41.2" y2="99" />
<line x1="144.2" y1="99" x2="147.5" y2="99" />
<line x1="167" y1="99" x2="163.7" y2="99" />
<line x1="541.3" y1="99" x2="544.6" y2="99" />
<line x1="44.5" y1="110" x2="41.2" y2="110" />
<line x1="144.2" y1="110" x2="147.5" y2="110" />
<line x1="167" y1="110" x2="163.7" y2="110" />
<line x1="541.3" y1="110" x2="544.6" y2="110" />
<line x1="44.5" y1="121" x2="37.2" y2="121" />
<line x1="144.2" y1="121" x2="151.5" y2="121" />
<line x1="167" y1="121" x2="159.7" y2="121" />
<line x1="541.3" y1="121" x2="548.6" y2="121" />
<line x1="44.5" y1="132" x2="41.2" y2="132" />
<line x1="144.2" y1="132" x2="147.5" y2="132" />
<line x1="167" y1="132" x2="163.7" y2="132" />
<line x1="541.3" y1="132" x2="544.6" y2="132" />
<line x1="44.5" y1="143" x2="41.2" y2="143" />
<line x1="144.2" y1="143" x2="147.5" y2="143" />
<line x1="167" y1="143" x2="163.7" y2="143" />
<line x1="541.3" y1="143" x2="544.6" y2="143" />
<line x1="44.5" y1="154" x2="41.2" y2="154" />
<line x1="144.2" y1="154" x2="147.5" y2="154" />
<line x1="167" y1="154" x2="163.7" y2="154" />
<line x1="541.3" y1="154" x2="544.6" y2="154" />
<line x1="44.5" y1="165" x2="41.2" y2="165" />
<line x1="144.2" y1="165" x2="147.5" y2="165" />
<line x1="167" y1="165" x2="163.7" y2="165" />
<line x1="541.3" y1="165" x2="544.6" y2="165" />
<line x1="44.5" y1="176" x2="37.2" y2="176" />
<line x1="144.2" y1="176" x2="151.5" y2="176" />
<line x1="167" y1="176" x2="159.7" y2="176" />
<line x1="541.3" y1="176" x2="548.6" y2="176" />
<line x1="44.5" y1="187" x2="41.2" y2="187" />
<line x1="144.2" y1="187" x2="147.5" y2="187" />
<line x1="167" y1="187" x2="163.7" y2="187" />
<line x1="541.3" y1="187" x2="544.6" y2="187" />
<line x1="44.5" y1="198" x2="41.2" y2="198" />
<line x1="144.2" y1="198" x2="147.5" y2="198" />
<line x1="167" y1="198" x2="163.7" y2="198" />
<line x1="541.3" y1="198" x2="544.6" y2="198" />
<line x1="44.5" y1="209" x2="41.2" y2="209" />
<line x1="144.2" y1="209" x2="147.5" y2="209" />
<line x1="167" y1="209" x2="163.7" y2="209" />
<line x1="541.3" y1="209" x2="544.6" y2="209" />
<line x1="44.5" y1="220" x2="41.2" y2="220" />
<line x1="144.2" y1="220" x2="147.5" y2="220" />
<line x1="167" y1="220" x2="163.7" y2="220" />
<line x1="541.3" y1="220" x2="544.6" y2="220" />
<line x1="44.5" y1="231" x2="37.2" y2="231" />
<line x1="144.2" y1="231" x2="151.5" y2="231" />
<line x1="167" y1="231" x2="159.7" y2="231" />
<line x1="541.3" y1="231" x2="548.6" y2="231" />
<line x1="44.5" y1="242" x2="41.2" y2="242" />
<line x1="144.2" y1="242" x2="147.5" y2="242" />
<line x1="167" y1="242" x2="163.7" y2="242" />
<line x1="541.3" y1="242" x2="544.6" y2="242" />
<line x1="44.5" y1="253" x2="41.2" y2="253" />
<line x1="144.2" y1="253" x2="147.5" y2="253" />
<line x1="167" y1="253" x2="163.7" y2="253" />
<line x1="541.3" y1="253" x2="544.6" y2="253" />
<line x1="44.5" y1="264" x2="41.2" y2="264" />
<line x1="144.2" y1="264" x2="147.5" y2="264" />
<line x1="167" y1="264" x2="163.7" y2="264" />
<line x1="541.3" y1="264" x2="544.6" y2="264" />
<line x1="44.5" y1="275" x2="41.2" y2="275" />
<line x1="144.2" y1="275" x2="147.5" y2="275" />
<line x1="167" y1="275" x2="163.7" y2="275" />
<line x1="541.3" y1="275" x2="544.6" y2="275" />
<line x1="44.5" y1="286" x2="37.2" y2="286" />
<line x1="144.2" y1="286" x2="151.5" y2="286" />
<line x1="167" y1="286" x2="159.7" y2="286" />
<line x1="541.3" y1="286" x2="548.6" y2="286" />
<line x1="44.5" y1="286" x2="44.5" y2="291.8" />
<line x1="44.5" y1="66" x2="44.5" y2="58.8" />
<line x1="80.7" y1="286" x2="80.7" y2="291.8" />
<line x1="80.7" y1="66" x2="80.7" y2="58.8" />
<line x1="123.2" y1="286" x2="123.2" y2="291.8" />
<line x1="123.2" y1="66" x2="123.2" y2="58.8" />
<line x1="144.2" y1="286" x2="144.2" y2="291.8" />
<line x1="144.2" y1="66" x2="144.2" y2="58.8" />
<line x1="167" y1="286" x2="167" y2="292.6" />
<line x1="167" y1="66" x2="167" y2="59" />
<line x1="178.7" y1="286" x2="178.7" y2="289.4" />
<line x1="178.7" y1="66" x2="178.7" y2="62.6" />
<line x1="190.4" y1="286" x2="190.4" y2="289.4" />
<line x1="190.4" y1="66" x2="190.4" y2="62.6" />
<line x1="202.1" y1="286" x2="202.1" y2="289.4" />
<line x1="202.1" y1="66" x2="202.1" y2="62.6" />
<line x1="213.8" y1="286" x2="213.8" y2="289.4" />
<line x1="213.8" y1="66" x2="213.8" y2="62.6" />
<line x1="225.5" y1="286" x2="225.5" y2="292.6" />
<line x1="225.5" y1="66" x2="225.5" y2="59" />
<line x1="237.2" y1="286" x2="237.2" y2="289.4" />
<line x1="237.2" y1="66" x2="237.2" y2="62.6" />
<line x1="248.9" y1="286" x2="248.9" y2="289.4" />
<line x1="248.9" y1="66" x2="248.9" y2="62.6" />
<line x1="260.6" y1="286" x2="260.6" y2="289.4" />
<line x1="260.6" y1="66" x2="260.6" y2="62.6" />
<line x1="272.3" y1="286" x2="272.3" y2="289.4" />
<line x1="272.3" y1="66" x2="272.3" y2="62.6" />
<line x1="284" y1="286" x2="284" y2="292.6" />
<line x1="284" y1="66" x2="284" y2="59" />
<line x1="295.7" y1="286" x2="295.7" y2="289.4" />
<line x1="295.7" y1="66" x2="295.7" y2="62.6" />
<line x1="307.4" y1="286" x2="307.4" y2="289.4" />
<line x1="307.4" y1="66" x2="307.4" y2="62.6" />
<line x1="319.1" y1="286" x2="319.1" y2="289.4" />
<line x1="319.1" y1="66" x2="319.1" y2="62.6" />
<line x1="330.8" y1="286" x2="330.8" y2="289.4" />
<line x1="330.8" y1="66" x2="330.8" y2="62.6" />
<line x1="342.5" y1="286" x2="342.5" y2="292.6" />
<line x1="342.5" y1="66" x2="342.5" y2="59" />
<line x1="354.2" y1="286" x2="354.2" y2="289.4" />
<line x1="354.2" y1="66" x2="354.2" y2="62.6" />
<line x1="365.9" y1="286" x2="365.9" y2="289.4" />
<line x1="365.9" y1="66" x2="365.9" y2="62.6" />
<line x1="377.6" y1="286" x2="377.6" y2="289.4" />
<line x1="377.6" y1="66" x2="377.6" y2="62.6" />
<line x1="389.3" y1="286" x2="389.3" y2="289.4" />
<line x1="389.3" y1="66" x2="389.3" y2="62.6" />
<line x1="401" y1="286" x2="401" y2="292.6" />
<line x1="401" y1="66" x2="401" y2="59" />
<line x1="412.7" y1="286" x2="412.7" y2="289.4" />
<line x1="412.7" y1="66" x2="412.7" y2="62.6" />
<line x1="424.4" y1="286" x2="424.4" y2="289.4" />
<line x1="424.4" y1="66" x2="424.4" y2="62.6" />
<line x1="436.1" y1="286" x2="436.1" y2="289.4" />
<line x1="436.1" y1="66" x2="436.1" y2="62.6" />
<line x1="447.8" y1="286" x2="447.8" y2="289.4" />
<line x1="447.8" y1="66" x2="447.8" y2="62.6" />
<line x1="459.5" y1="286" x2="459.5" y2="292.6" />
<line x1="459.5" y1="66" x2="459.5" y2="59" />
<line x1="471.2" y1="286" x2="471.2" y2="289.4" />
<line x1="471.2" y1="66" x2="471.2" y2="62.6" />
<line x1="482.9" y1="286" x2="482.9" y2="289.4" />
<line x1="482.9" y1="66" x2="482.9" y2="62.6" />
<line x1="494.6" y1="286" x2="494.6" y2="289.4" />
<line x1="494.6" y1="66" x2="494.6" y2="62.6" />
<line x1="506.3" y1="286" x2="506.3" y2="289.4" />
<line x1="506.3" y1="66" x2="506.3" y2="62.6" />
<line x1="518" y1="286" x2="518" y2="292.6" />
<line x1="518" y1="66" x2="518" y2="59" />
<line x1="529.7" y1="286" x2="529.7" y2="289.4" />
<line x1="529.7" y1="66" x2="529.7" y2="62.6" />
<line x1="541.4" y1="286" x2="541.4" y2="289.4" />
<line x1="541.4" y1="66" x2="541.4" y2="62.6" />
</g>
<text x="50.4" y="18" font-size="19.8">a)</text>
<g font-size="13.6" text-anchor="end">
<text x="34" y="70.6">4</text>
<text x="34" y="125.6">2</text>
<text x="34" y="180.6">0</text>
<text x="34" y="235.6">−2</text>
<text x="34" y="290.6">−4</text>
</g>
<text transform="translate(16.2 200.8) rotate(-90)" font-size="17.6">E [eV]</text>
<g font-size="13.6" text-anchor="middle">
<text x="44.3" y="310.8">M</text>
<text x="80.7" y="310.8">Γ</text>
<text x="123.4" y="310.8">K</text>
<text x="144.2" y="310.8">M</text>
<text x="167" y="302.8">0</text>
<text x="225.5" y="302.8">2</text>
<text x="284" y="302.8">4</text>
<text x="342.5" y="302.8">6</text>
<text x="401" y="302.8">8</text>
<text x="459.5" y="302.8">10</text>
<text x="518" y="302.8">12</text>
</g>
<text x="54.6" y="323.8" font-size="14">wave vector k</text>
<text x="319" y="323" font-size="17.4">[0001] nm</text>
<line x1="350.6" y1="305.2" x2="358.4" y2="305.2" stroke="#111" stroke-width="1.1"/>
<text x="199.8" y="170.3" font-size="9.8">In<tspan dy="1.9" font-size="7">x</tspan><tspan dy="-1.9">Ga</tspan><tspan dy="1.9" font-size="7">1−x</tspan><tspan dy="-1.9">N</tspan></text>
<text x="290.4" y="170.8" font-size="9.6">GaN</text>
<text x="321" y="169.3" font-size="6.1">In<tspan dy="1.2" font-size="4.3">0.5</tspan><tspan dy="-1.2">Ga</tspan><tspan dy="1.2" font-size="4.3">0.5</tspan><tspan dy="-1.2">N</tspan></text>
<text x="383.1" y="170.3" font-size="9.8">In<tspan dy="1.9" font-size="7">x</tspan><tspan dy="-1.9">Ga</tspan><tspan dy="1.9" font-size="7">1−x</tspan><tspan dy="-1.9">N</tspan></text>
<text x="476.9" y="170.8" font-size="9.6">GaN</text>
<text x="507.3" y="169.3" font-size="6.1">In<tspan dy="1.2" font-size="4.3">0.5</tspan><tspan dy="-1.2">Ga</tspan><tspan dy="1.2" font-size="4.3">0.5</tspan><tspan dy="-1.2">N</tspan></text>
</svg></body></html>
